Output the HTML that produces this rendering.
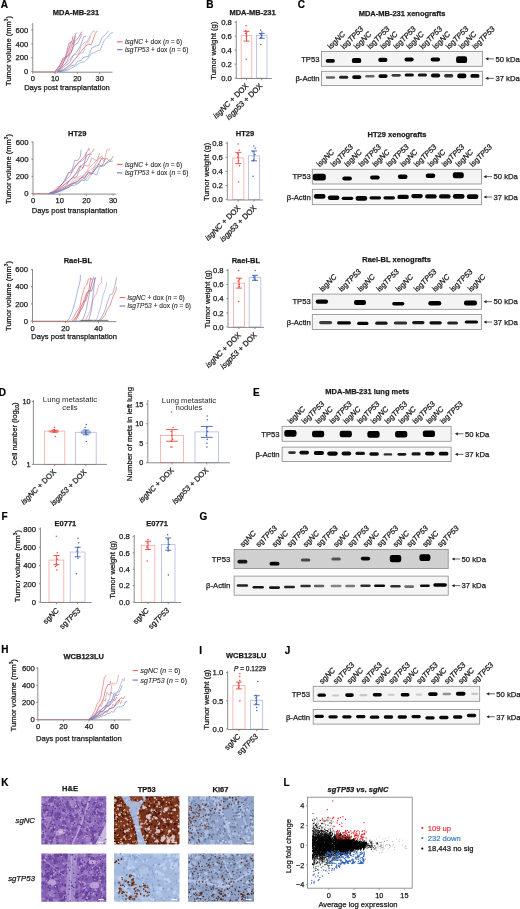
<!DOCTYPE html>
<html><head><meta charset="utf-8"><style>
html,body{margin:0;padding:0;background:#fff;}
body{width:520px;height:909px;overflow:hidden;}
svg{display:block;font-family:"Liberation Sans",Arial,sans-serif;filter:blur(0.3px);}
text{stroke:#141414;stroke-width:0.25px;}
</style></head><body>
<svg width="520" height="909" viewBox="0 0 520 909" fill="#231f20">
<defs>
<filter id="bl" x="-50%" y="-80%" width="200%" height="260%"><feGaussianBlur stdDeviation="0.7"/></filter>
<filter id="tb" x="0" y="0" width="100%" height="100%"><feGaussianBlur stdDeviation="0.75"/></filter>
</defs>
<text x="0.8" y="7.6" font-size="10" font-weight="bold" fill="#000" style="stroke:#000;stroke-width:0.2px">A</text>
<text x="76" y="15.2" font-size="7.5" text-anchor="middle" font-weight="bold">MDA-MB-231</text>
<polyline points="55.05,71.6 58.98,69.18 62.32,64.67 66,56.72 68.44,55.62 72.53,43.32 75.12,35.51" fill="none" stroke="#e8585a" stroke-width="0.65" stroke-linejoin="round" opacity="0.9"/>
<polyline points="55.05,71.6 58.89,67.65 63.23,57.86 65.53,57.11 68.96,42.88 72.04,41.51 72.89,36.23" fill="none" stroke="#c8405a" stroke-width="0.65" stroke-linejoin="round" opacity="0.9"/>
<polyline points="55.05,71.6 58.26,67.9 61.01,64.34 63.72,59.14 66.6,56.38 70.7,45 74.36,41.14 75.12,36.08" fill="none" stroke="#ee7a74" stroke-width="0.65" stroke-linejoin="round" opacity="0.9"/>
<polyline points="57.28,71.6 60.25,67.99 64.07,61.49 67.24,56.23 70.96,52.69 74.5,41.93 78.62,37.56 81.81,31.59" fill="none" stroke="#b83a5a" stroke-width="0.65" stroke-linejoin="round" opacity="0.9"/>
<polyline points="55.05,71.6 59.06,69.33 61.67,67.17 65.47,63.5 68.54,61.23 71.9,56.39 75.29,54.65 78.61,53.59 80.94,46.21 85.36,41.72 88.47,42.29 90.73,36.05" fill="none" stroke="#f0847c" stroke-width="0.65" stroke-linejoin="round" opacity="0.9"/>
<polyline points="57.28,71.6 60.71,70.63 63.46,69.4 67.82,66.44 71.07,64.5 74.52,59.15 76.76,57.26 80.82,51.74 84.7,46.95 88.09,44.17 91.27,44.69 95.44,33.17 97.42,30.93" fill="none" stroke="#d8504c" stroke-width="0.65" stroke-linejoin="round" opacity="0.9"/>
<polyline points="55.05,71.6 59.43,65.56 62.7,60.57 65.41,57.8 68.29,49.93 70.99,42.15 73.38,44.25 75.8,33.27 77.35,33.1" fill="none" stroke="#6a80d0" stroke-width="0.65" stroke-linejoin="round" opacity="0.9"/>
<polyline points="57.28,71.6 60.93,68.49 63.63,65.17 66.53,62.21 70.6,53.42 74.31,45.07 77.42,43.36 80.6,37.19 81.81,33.69" fill="none" stroke="#8070b0" stroke-width="0.65" stroke-linejoin="round" opacity="0.9"/>
<polyline points="57.28,71.6 60.7,69.83 62.98,67.59 65.23,65.53 67.81,64.15 70.44,61.34 73,55.47 76.86,51.9 80.54,45.67 83.88,36.37 86.27,36.2" fill="none" stroke="#5c7ccc" stroke-width="0.65" stroke-linejoin="round" opacity="0.9"/>
<polyline points="59.51,71.6 63.26,70.49 65.68,69.21 68.68,65.75 72.87,61.58 75.36,59.11 79.32,53.54 83.31,52.39 85.94,43.78 89.82,36.38 93.04,30.83 95.19,31.54" fill="none" stroke="#98a0d8" stroke-width="0.65" stroke-linejoin="round" opacity="0.9"/>
<polyline points="57.28,71.6 60.26,71.26 63.72,70.14 66.73,69.39 69.58,67.24 72.01,65.56 74.8,65.23 77.28,61.53 81.52,60.35 83.96,56.95 88.17,56.64 91.81,47.91 95.07,46.42 99.09,44.98 101.93,37.61 105.39,34.67 108.37,30.83 108.57,31.06" fill="none" stroke="#7080c0" stroke-width="0.65" stroke-linejoin="round" opacity="0.9"/>
<polyline points="59.51,71.6 62.63,71.28 65.36,70.7 67.92,69.94 70.91,68.62 74.14,66.68 77.88,64.41 80.92,62.43 84.37,61.79 87.82,58.63 91.56,53.47 94.33,52.69 97.57,50.71 99.89,50.53 104.33,40.16 107.54,37.16 110.37,33.27 113.03,32.57" fill="none" stroke="#6a90d8" stroke-width="0.65" stroke-linejoin="round" opacity="0.9"/>
<line x1="32.75" y1="71.6" x2="55.05" y2="71.6" stroke="#f09090" stroke-width="0.8"/>
<line x1="32.75" y1="23" x2="32.75" y2="71.6" stroke="#6e6e6e" stroke-width="0.8"/>
<line x1="31.15" y1="30" x2="32.75" y2="30" stroke="#6e6e6e" stroke-width="0.8"/>
<text x="28.35" y="32.76" font-size="7.7" text-anchor="end">600</text>
<line x1="31.15" y1="43.87" x2="32.75" y2="43.87" stroke="#6e6e6e" stroke-width="0.8"/>
<text x="28.35" y="46.62" font-size="7.7" text-anchor="end">400</text>
<line x1="31.15" y1="57.73" x2="32.75" y2="57.73" stroke="#6e6e6e" stroke-width="0.8"/>
<text x="28.35" y="60.49" font-size="7.7" text-anchor="end">200</text>
<line x1="31.15" y1="71.6" x2="32.75" y2="71.6" stroke="#6e6e6e" stroke-width="0.8"/>
<text x="28.35" y="74.36" font-size="7.7" text-anchor="end">0</text>
<line x1="32.75" y1="72.2" x2="112.5" y2="72.2" stroke="#6e6e6e" stroke-width="0.8"/>
<line x1="32.75" y1="72.2" x2="32.75" y2="73.8" stroke="#6e6e6e" stroke-width="0.8"/>
<text x="32.75" y="81.17" font-size="7.5" text-anchor="middle">0</text>
<line x1="55.05" y1="72.2" x2="55.05" y2="73.8" stroke="#6e6e6e" stroke-width="0.8"/>
<text x="55.05" y="81.17" font-size="7.5" text-anchor="middle">10</text>
<line x1="77.35" y1="72.2" x2="77.35" y2="73.8" stroke="#6e6e6e" stroke-width="0.8"/>
<text x="77.35" y="81.17" font-size="7.5" text-anchor="middle">20</text>
<line x1="99.65" y1="72.2" x2="99.65" y2="73.8" stroke="#6e6e6e" stroke-width="0.8"/>
<text x="99.65" y="81.17" font-size="7.5" text-anchor="middle">30</text>
<text x="67" y="90.22" font-size="7.6" text-anchor="middle">Days post transplantation</text>
<text transform="translate(11.29 51) rotate(-90)" font-size="7.5" text-anchor="middle">Tumor volume (mm<tspan font-size="4.6" dy="-3">3</tspan><tspan dy="3">)</tspan></text>
<line x1="117" y1="41.8" x2="122.5" y2="41.8" stroke="#e8453c" stroke-width="0.9"/>
<line x1="117" y1="49.7" x2="122.5" y2="49.7" stroke="#4062b4" stroke-width="0.9"/>
<text x="125" y="44.16" font-size="6.6" style="stroke-width:0.08px"><tspan font-style="italic">isgNC</tspan> + dox (<tspan font-style="italic">n</tspan> = 6)</text>
<text x="125" y="52.06" font-size="6.6" style="stroke-width:0.08px"><tspan font-style="italic">isgTP53</tspan> + dox (<tspan font-style="italic">n</tspan> = 6)</text>
<text x="77.2" y="136.3" font-size="7.5" text-anchor="middle" font-weight="bold">HT29</text>
<polyline points="49.02,193.5 53.14,191.06 57.43,187.09 60.27,186.02 65.18,180.68 68.47,173.23 72.4,169.15 76.34,165.63 79.41,161.73 84.4,156.44 89.05,148.26 89.07,150.58" fill="none" stroke="#e8585a" stroke-width="0.65" stroke-linejoin="round" opacity="0.9"/>
<polyline points="49.02,193.5 53.27,192.45 56.02,190.77 59.95,188.28 64.97,184.12 70.1,180.41 74.91,175.19 80.08,165.76 83.01,168.35 86.26,155.81 90.09,153.75 93.56,150.05 94.41,148.87" fill="none" stroke="#c8405a" stroke-width="0.65" stroke-linejoin="round" opacity="0.9"/>
<polyline points="49.02,193.5 53.25,191.9 58.34,188.87 63.49,184.82 68.8,181.11 71.91,177.64 77.15,172.46 81.34,169.62 84.58,165.49 88.78,166.2 91.62,157.78 96.93,161 99.75,153.16" fill="none" stroke="#ee7a74" stroke-width="0.65" stroke-linejoin="round" opacity="0.9"/>
<polyline points="51.69,193.5 54.76,192.81 59.49,190.62 62.27,189.47 65.06,187.8 68.62,185.3 73.91,182.94 79.24,180.27 82.12,176.89 84.87,177.16 88.63,171.86 91.72,173.62 96.7,167.85 101.93,157.86 105.09,159.17" fill="none" stroke="#b83a5a" stroke-width="0.65" stroke-linejoin="round" opacity="0.9"/>
<polyline points="49.02,193.5 53.08,192.39 57.34,190.6 61.66,187.71 65.69,186.25 70.28,184 73.76,178.78 77.82,177.52 80.52,176.18 84.74,175.58 89.05,167.68 91.88,165.18 95.8,161.05 99.41,157.25 104.05,160.99 106.88,150.06 110.43,148.87" fill="none" stroke="#f0847c" stroke-width="0.65" stroke-linejoin="round" opacity="0.9"/>
<polyline points="51.69,193.5 55.58,192.3 59.1,190.99 62.61,189.42 66.87,187.48 70.54,184.34 73.29,183.29 77.92,181.54 81.18,177.32 84.49,178.34 88.32,172.93 91.27,173.41 94.83,167.24 98.67,164.1 101.79,166.38 106.2,157.79 110.07,161.9 113.06,156.27 113.1,156.59" fill="none" stroke="#d8504c" stroke-width="0.65" stroke-linejoin="round" opacity="0.9"/>
<polyline points="49.02,193.5 52.91,192.17 57.54,189.24 60.42,185.6 63.41,182.58 68.46,172.42 71.45,172.73 74.71,160.18 77.45,160.87 80.4,156.27 81.06,149.72" fill="none" stroke="#6a80d0" stroke-width="0.65" stroke-linejoin="round" opacity="0.9"/>
<polyline points="51.69,193.5 55.45,190.49 60.05,186.34 64.82,180.5 69.7,176.37 73.36,169.61 78.55,162.14 82.49,160.69 85.91,156.69 86.4,152.3" fill="none" stroke="#8070b0" stroke-width="0.65" stroke-linejoin="round" opacity="0.9"/>
<polyline points="49.02,193.5 54.08,192.3 58.64,190.33 62.6,188.23 66.39,185.31 69.32,180.49 72.25,177.77 76.79,176.88 80.76,165.95 86.06,162.28 90.79,153.78 91.74,154.88" fill="none" stroke="#5c7ccc" stroke-width="0.65" stroke-linejoin="round" opacity="0.9"/>
<polyline points="51.69,193.5 55.95,192.49 60.81,190.46 65.48,188.68 69.34,186.7 73.74,181.25 77.86,179.22 82.19,177.59 85.89,172.47 90.29,170.05 94.23,166.99 98.38,159.68 101.93,155.85 102.42,157.45" fill="none" stroke="#98a0d8" stroke-width="0.65" stroke-linejoin="round" opacity="0.9"/>
<polyline points="51.69,193.5 56.98,192.45 62.1,190.87 65.74,188.55 68.5,187.49 73.5,183.92 77.99,183.09 81.55,179.83 84.39,180.82 89.42,174.46 92.52,173.49 95.96,167.82 99.4,166.12 104.05,166.03 107.4,161.44 110.43,159.17" fill="none" stroke="#7080c0" stroke-width="0.65" stroke-linejoin="round" opacity="0.9"/>
<polyline points="49.02,193.5 52.57,192.97 56.36,192.27 61.1,190.27 65.59,188.88 70.58,185.9 73.28,185.61 76,184.74 79.31,182.68 83.79,178.56 87.16,180.57 92.5,173.29 96.64,174.96 99.45,167.3 103.53,164.76 108.29,162.05 113.1,160.88" fill="none" stroke="#6a90d8" stroke-width="0.65" stroke-linejoin="round" opacity="0.9"/>
<line x1="33" y1="193.5" x2="49.02" y2="193.5" stroke="#f09090" stroke-width="0.8"/>
<line x1="33" y1="141.5" x2="33" y2="193.5" stroke="#6e6e6e" stroke-width="0.8"/>
<line x1="31.4" y1="142" x2="33" y2="142" stroke="#6e6e6e" stroke-width="0.8"/>
<text x="28.6" y="144.76" font-size="7.7" text-anchor="end">600</text>
<line x1="31.4" y1="159.17" x2="33" y2="159.17" stroke="#6e6e6e" stroke-width="0.8"/>
<text x="28.6" y="161.92" font-size="7.7" text-anchor="end">400</text>
<line x1="31.4" y1="176.33" x2="33" y2="176.33" stroke="#6e6e6e" stroke-width="0.8"/>
<text x="28.6" y="179.09" font-size="7.7" text-anchor="end">200</text>
<line x1="31.4" y1="193.5" x2="33" y2="193.5" stroke="#6e6e6e" stroke-width="0.8"/>
<text x="28.6" y="196.26" font-size="7.7" text-anchor="end">0</text>
<line x1="33" y1="194.1" x2="116.4" y2="194.1" stroke="#6e6e6e" stroke-width="0.8"/>
<line x1="33" y1="194.1" x2="33" y2="195.7" stroke="#6e6e6e" stroke-width="0.8"/>
<text x="33" y="203.07" font-size="7.5" text-anchor="middle">0</text>
<line x1="59.7" y1="194.1" x2="59.7" y2="195.7" stroke="#6e6e6e" stroke-width="0.8"/>
<text x="59.7" y="203.07" font-size="7.5" text-anchor="middle">10</text>
<line x1="86.4" y1="194.1" x2="86.4" y2="195.7" stroke="#6e6e6e" stroke-width="0.8"/>
<text x="86.4" y="203.07" font-size="7.5" text-anchor="middle">20</text>
<line x1="113.1" y1="194.1" x2="113.1" y2="195.7" stroke="#6e6e6e" stroke-width="0.8"/>
<text x="113.1" y="203.07" font-size="7.5" text-anchor="middle">30</text>
<text x="74.7" y="212.72" font-size="7.6" text-anchor="middle">Days post transplantation</text>
<text transform="translate(10.88 169) rotate(-90)" font-size="7.5" text-anchor="middle">Tumor volume (mm<tspan font-size="4.6" dy="-3">3</tspan><tspan dy="3">)</tspan></text>
<line x1="117" y1="164.4" x2="122.5" y2="164.4" stroke="#e8453c" stroke-width="0.9"/>
<line x1="117" y1="172.9" x2="122.5" y2="172.9" stroke="#4062b4" stroke-width="0.9"/>
<text x="125" y="166.76" font-size="6.6" style="stroke-width:0.08px"><tspan font-style="italic">isgNC</tspan> + dox (<tspan font-style="italic">n</tspan> = 6)</text>
<text x="125" y="175.26" font-size="6.6" style="stroke-width:0.08px"><tspan font-style="italic">isgTP53</tspan> + dox (<tspan font-style="italic">n</tspan> = 6)</text>
<text x="77.8" y="262.7" font-size="7.5" text-anchor="middle" font-weight="bold">Rael-BL</text>
<polyline points="70.45,321 73.32,317.9 76.53,311.8 79.7,307.53 82.12,295.49 84.84,286.67 86.68,285.04 88.6,278.17" fill="none" stroke="#e8585a" stroke-width="0.65" stroke-linejoin="round" opacity="0.9"/>
<polyline points="72.1,321 74.7,319.08 76.7,316.23 79.87,309.26 81.78,304.77 83.66,301.2 85.52,301.16 88.61,292.23 90.61,277.88 91.9,279.88" fill="none" stroke="#c8405a" stroke-width="0.65" stroke-linejoin="round" opacity="0.9"/>
<polyline points="73.75,321 76.99,316.51 79.75,312.17 82.96,303.17 86.2,293.21 88.35,292.13 90.27,289.64 92.03,283.33 93.55,276.45" fill="none" stroke="#ee7a74" stroke-width="0.65" stroke-linejoin="round" opacity="0.9"/>
<polyline points="75.4,321 78.17,316.26 80.33,310.6 82.77,307.16 85.22,299.51 86.96,293.18 88.65,290.7 91.69,291.19 94.64,280.48 95.2,277.31" fill="none" stroke="#b83a5a" stroke-width="0.65" stroke-linejoin="round" opacity="0.9"/>
<polyline points="85.3,321 87.03,317.7 90.25,310.36 93.15,298.71 96.35,293.81 98.59,285.65 101.52,282.77 101.8,276.45" fill="none" stroke="#f0847c" stroke-width="0.65" stroke-linejoin="round" opacity="0.9"/>
<polyline points="98.5,321 101.57,319.23 104.78,315.42 106.99,310.3 110.16,304.84 113.33,295.73 115.5,291.92 116.65,286.73" fill="none" stroke="#d8504c" stroke-width="0.65" stroke-linejoin="round" opacity="0.9"/>
<polyline points="67.15,321 69.38,318.21 72.6,310.7 75.51,300.14 77.43,291.68 80.32,280.09 80.35,274.74" fill="none" stroke="#6a80d0" stroke-width="0.65" stroke-linejoin="round" opacity="0.9"/>
<polyline points="82,321 83.93,316.99 86.22,309.71 89.32,294.27 91.35,283.48 93.55,278.17" fill="none" stroke="#8070b0" stroke-width="0.65" stroke-linejoin="round" opacity="0.9"/>
<polyline points="88.6,321 91.6,309.26 93.66,289.15 95.2,277.31" fill="none" stroke="#5c7ccc" stroke-width="0.65" stroke-linejoin="round" opacity="0.9"/>
<polyline points="95.2,321 97.04,318.16 99.95,309.32 103.22,295.08 106.08,286.91 106.75,282.45" fill="none" stroke="#98a0d8" stroke-width="0.65" stroke-linejoin="round" opacity="0.9"/>
<polyline points="98.5,321 101.4,317.52 104.42,311.89 107.04,303.57 110,294.79 112.8,293.49 115.14,284.91 116.65,277.31" fill="none" stroke="#7080c0" stroke-width="0.65" stroke-linejoin="round" opacity="0.9"/>
<polyline points="72.1,321 73.93,320.95 76.87,320.82 80.12,320.7 81.79,320.67 83.54,320.5 85.72,320.41 88.11,320.31 91.17,320.14 91.9,320.14" fill="none" stroke="#6a90d8" stroke-width="0.65" stroke-linejoin="round" opacity="0.9"/>
<line x1="32.5" y1="321" x2="70.45" y2="321" stroke="#f09090" stroke-width="0.8"/>
<line x1="32.5" y1="269.1" x2="32.5" y2="321" stroke="#6e6e6e" stroke-width="0.8"/>
<line x1="30.9" y1="269.6" x2="32.5" y2="269.6" stroke="#6e6e6e" stroke-width="0.8"/>
<text x="28.1" y="272.36" font-size="7.7" text-anchor="end">600</text>
<line x1="30.9" y1="286.73" x2="32.5" y2="286.73" stroke="#6e6e6e" stroke-width="0.8"/>
<text x="28.1" y="289.49" font-size="7.7" text-anchor="end">400</text>
<line x1="30.9" y1="303.87" x2="32.5" y2="303.87" stroke="#6e6e6e" stroke-width="0.8"/>
<text x="28.1" y="306.62" font-size="7.7" text-anchor="end">200</text>
<line x1="30.9" y1="321" x2="32.5" y2="321" stroke="#6e6e6e" stroke-width="0.8"/>
<text x="28.1" y="323.76" font-size="7.7" text-anchor="end">0</text>
<line x1="32.5" y1="321.6" x2="116.4" y2="321.6" stroke="#6e6e6e" stroke-width="0.8"/>
<line x1="32.5" y1="321.6" x2="32.5" y2="323.2" stroke="#6e6e6e" stroke-width="0.8"/>
<text x="32.5" y="330.57" font-size="7.5" text-anchor="middle">0</text>
<line x1="65.5" y1="321.6" x2="65.5" y2="323.2" stroke="#6e6e6e" stroke-width="0.8"/>
<text x="65.5" y="330.57" font-size="7.5" text-anchor="middle">20</text>
<line x1="98.5" y1="321.6" x2="98.5" y2="323.2" stroke="#6e6e6e" stroke-width="0.8"/>
<text x="98.5" y="330.57" font-size="7.5" text-anchor="middle">40</text>
<text x="74.2" y="339.02" font-size="7.6" text-anchor="middle">Days post transplantation</text>
<text transform="translate(10.88 296) rotate(-90)" font-size="7.5" text-anchor="middle">Tumor volume (mm<tspan font-size="4.6" dy="-3">3</tspan><tspan dy="3">)</tspan></text>
<line x1="119.6" y1="297.6" x2="125.1" y2="297.6" stroke="#e8453c" stroke-width="0.9"/>
<line x1="119.6" y1="306" x2="125.1" y2="306" stroke="#4062b4" stroke-width="0.9"/>
<text x="127.6" y="299.96" font-size="6.6" style="stroke-width:0.08px"><tspan font-style="italic">isgNC</tspan> + dox (<tspan font-style="italic">n</tspan> = 6)</text>
<text x="127.6" y="308.36" font-size="6.6" style="stroke-width:0.08px"><tspan font-style="italic">isgTP53</tspan> + dox (<tspan font-style="italic">n</tspan> = 6)</text>
<line x1="80.35" y1="320.4" x2="108.4" y2="320.4" stroke="#555" stroke-width="0.8"/>
<text x="206.2" y="7.6" font-size="10" font-weight="bold" fill="#000" style="stroke:#000;stroke-width:0.2px">B</text>
<text x="252.6" y="15.2" font-size="7.5" text-anchor="middle" font-weight="bold">MDA-MB-231</text>
<line x1="236.25" y1="20.75" x2="236.25" y2="78.1" stroke="#6e6e6e" stroke-width="0.8"/>
<line x1="234.65" y1="22.25" x2="236.25" y2="22.25" stroke="#6e6e6e" stroke-width="0.8"/>
<text x="231.85" y="25.01" font-size="7.7" text-anchor="end">0.8</text>
<line x1="234.65" y1="36.21" x2="236.25" y2="36.21" stroke="#6e6e6e" stroke-width="0.8"/>
<text x="231.85" y="38.97" font-size="7.7" text-anchor="end">0.6</text>
<line x1="234.65" y1="50.17" x2="236.25" y2="50.17" stroke="#6e6e6e" stroke-width="0.8"/>
<text x="231.85" y="52.93" font-size="7.7" text-anchor="end">0.4</text>
<line x1="234.65" y1="64.14" x2="236.25" y2="64.14" stroke="#6e6e6e" stroke-width="0.8"/>
<text x="231.85" y="66.89" font-size="7.7" text-anchor="end">0.2</text>
<line x1="234.65" y1="78.1" x2="236.25" y2="78.1" stroke="#6e6e6e" stroke-width="0.8"/>
<text x="231.85" y="80.86" font-size="7.7" text-anchor="end">0.0</text>
<rect x="241.2" y="35.51" width="10.6" height="42.59" fill="none" stroke="#f3aaa4" stroke-width="0.8"/>
<circle cx="246.08" cy="25.74" r="0.75" fill="#e8453c"/>
<circle cx="245.66" cy="30.63" r="0.75" fill="#e8453c"/>
<circle cx="246.86" cy="32.02" r="0.75" fill="#e8453c"/>
<circle cx="245.47" cy="33.42" r="0.75" fill="#e8453c"/>
<circle cx="246.59" cy="36.21" r="0.75" fill="#e8453c"/>
<circle cx="246.18" cy="59.25" r="0.75" fill="#e8453c"/>
<line x1="246.5" y1="31.33" x2="246.5" y2="41.1" stroke="#e8453c" stroke-width="0.9"/>
<line x1="243.5" y1="31.33" x2="249.5" y2="31.33" stroke="#e8453c" stroke-width="0.9"/>
<line x1="243.5" y1="41.1" x2="249.5" y2="41.1" stroke="#e8453c" stroke-width="0.9"/>
<rect x="256.4" y="35.51" width="10.6" height="42.59" fill="none" stroke="#afbae0" stroke-width="0.8"/>
<circle cx="260.64" cy="29.93" r="0.75" fill="#4062b4"/>
<circle cx="261.72" cy="32.02" r="0.75" fill="#4062b4"/>
<circle cx="260.59" cy="34.12" r="0.75" fill="#4062b4"/>
<circle cx="261.54" cy="35.51" r="0.75" fill="#4062b4"/>
<circle cx="260.67" cy="37.61" r="0.75" fill="#4062b4"/>
<circle cx="260.72" cy="44.59" r="0.75" fill="#4062b4"/>
<line x1="261.7" y1="33.42" x2="261.7" y2="38.31" stroke="#4062b4" stroke-width="0.9"/>
<line x1="258.7" y1="33.42" x2="264.7" y2="33.42" stroke="#4062b4" stroke-width="0.9"/>
<line x1="258.7" y1="38.31" x2="264.7" y2="38.31" stroke="#4062b4" stroke-width="0.9"/>
<line x1="236.25" y1="78.5" x2="271.8" y2="78.5" stroke="#6e6e6e" stroke-width="0.8"/>
<line x1="246.5" y1="78.5" x2="246.5" y2="80.1" stroke="#6e6e6e" stroke-width="0.8"/>
<line x1="261.7" y1="78.5" x2="261.7" y2="80.1" stroke="#6e6e6e" stroke-width="0.8"/>
<text transform="translate(215.97 50.67) rotate(-90)" font-size="7.75" text-anchor="middle">Tumor weight (g)</text>
<text transform="translate(249 86.3) rotate(-45)" font-size="7.7" text-anchor="end"><tspan font-style="italic">isgNC</tspan> + DOX</text>
<text transform="translate(263 86.3) rotate(-45)" font-size="7.7" text-anchor="end"><tspan font-style="italic">isgp53</tspan> + DOX</text>
<text x="245" y="136" font-size="7.5" text-anchor="middle" font-weight="bold">HT29</text>
<line x1="227.3" y1="141.7" x2="227.3" y2="199.6" stroke="#6e6e6e" stroke-width="0.8"/>
<line x1="225.7" y1="143.2" x2="227.3" y2="143.2" stroke="#6e6e6e" stroke-width="0.8"/>
<text x="222.9" y="145.96" font-size="7.7" text-anchor="end">0.8</text>
<line x1="225.7" y1="157.3" x2="227.3" y2="157.3" stroke="#6e6e6e" stroke-width="0.8"/>
<text x="222.9" y="160.06" font-size="7.7" text-anchor="end">0.6</text>
<line x1="225.7" y1="171.4" x2="227.3" y2="171.4" stroke="#6e6e6e" stroke-width="0.8"/>
<text x="222.9" y="174.16" font-size="7.7" text-anchor="end">0.4</text>
<line x1="225.7" y1="185.5" x2="227.3" y2="185.5" stroke="#6e6e6e" stroke-width="0.8"/>
<text x="222.9" y="188.26" font-size="7.7" text-anchor="end">0.2</text>
<line x1="225.7" y1="199.6" x2="227.3" y2="199.6" stroke="#6e6e6e" stroke-width="0.8"/>
<text x="222.9" y="202.36" font-size="7.7" text-anchor="end">0.0</text>
<rect x="232.7" y="158" width="11.2" height="41.59" fill="none" stroke="#f3aaa4" stroke-width="0.8"/>
<circle cx="238.12" cy="143.91" r="0.75" fill="#e8453c"/>
<circle cx="239.08" cy="150.25" r="0.75" fill="#e8453c"/>
<circle cx="237.4" cy="153.77" r="0.75" fill="#e8453c"/>
<circle cx="237.64" cy="157.3" r="0.75" fill="#e8453c"/>
<circle cx="238.61" cy="160.82" r="0.75" fill="#e8453c"/>
<circle cx="239.37" cy="165.76" r="0.75" fill="#e8453c"/>
<circle cx="238.49" cy="181.97" r="0.75" fill="#e8453c"/>
<line x1="238.3" y1="152.37" x2="238.3" y2="163.64" stroke="#e8453c" stroke-width="0.9"/>
<line x1="235.3" y1="152.37" x2="241.3" y2="152.37" stroke="#e8453c" stroke-width="0.9"/>
<line x1="235.3" y1="163.64" x2="241.3" y2="163.64" stroke="#e8453c" stroke-width="0.9"/>
<rect x="248.5" y="155.89" width="11.1" height="43.71" fill="none" stroke="#afbae0" stroke-width="0.8"/>
<circle cx="253.8" cy="146.02" r="0.75" fill="#4062b4"/>
<circle cx="255.19" cy="148.13" r="0.75" fill="#4062b4"/>
<circle cx="252.96" cy="151.66" r="0.75" fill="#4062b4"/>
<circle cx="254.91" cy="154.48" r="0.75" fill="#4062b4"/>
<circle cx="253.55" cy="160.12" r="0.75" fill="#4062b4"/>
<circle cx="253.2" cy="160.82" r="0.75" fill="#4062b4"/>
<circle cx="253.13" cy="176.33" r="0.75" fill="#4062b4"/>
<line x1="254.05" y1="150.95" x2="254.05" y2="160.82" stroke="#4062b4" stroke-width="0.9"/>
<line x1="251.05" y1="150.95" x2="257.05" y2="150.95" stroke="#4062b4" stroke-width="0.9"/>
<line x1="251.05" y1="160.82" x2="257.05" y2="160.82" stroke="#4062b4" stroke-width="0.9"/>
<line x1="227.3" y1="200" x2="263" y2="200" stroke="#6e6e6e" stroke-width="0.8"/>
<line x1="238.3" y1="200" x2="238.3" y2="201.6" stroke="#6e6e6e" stroke-width="0.8"/>
<line x1="254.05" y1="200" x2="254.05" y2="201.6" stroke="#6e6e6e" stroke-width="0.8"/>
<text transform="translate(208.77 171.9) rotate(-90)" font-size="7.75" text-anchor="middle">Tumor weight (g)</text>
<text transform="translate(241 208.3) rotate(-45)" font-size="7.7" text-anchor="end"><tspan font-style="italic">isgNC</tspan> + DOX</text>
<text transform="translate(257 208.3) rotate(-45)" font-size="7.7" text-anchor="end"><tspan font-style="italic">isgp53</tspan> + DOX</text>
<text x="245.8" y="262.7" font-size="7.5" text-anchor="middle" font-weight="bold">Rael-BL</text>
<line x1="228" y1="268.9" x2="228" y2="327" stroke="#6e6e6e" stroke-width="0.8"/>
<line x1="226.4" y1="270.4" x2="228" y2="270.4" stroke="#6e6e6e" stroke-width="0.8"/>
<text x="223.6" y="273.16" font-size="7.7" text-anchor="end">0.8</text>
<line x1="226.4" y1="284.55" x2="228" y2="284.55" stroke="#6e6e6e" stroke-width="0.8"/>
<text x="223.6" y="287.31" font-size="7.7" text-anchor="end">0.6</text>
<line x1="226.4" y1="298.7" x2="228" y2="298.7" stroke="#6e6e6e" stroke-width="0.8"/>
<text x="223.6" y="301.46" font-size="7.7" text-anchor="end">0.4</text>
<line x1="226.4" y1="312.85" x2="228" y2="312.85" stroke="#6e6e6e" stroke-width="0.8"/>
<text x="223.6" y="315.61" font-size="7.7" text-anchor="end">0.2</text>
<line x1="226.4" y1="327" x2="228" y2="327" stroke="#6e6e6e" stroke-width="0.8"/>
<text x="223.6" y="329.76" font-size="7.7" text-anchor="end">0.0</text>
<rect x="233.5" y="283.13" width="11" height="43.87" fill="none" stroke="#f3aaa4" stroke-width="0.8"/>
<circle cx="238.54" cy="270.4" r="0.75" fill="#e8453c"/>
<circle cx="239.76" cy="278.89" r="0.75" fill="#e8453c"/>
<circle cx="238.23" cy="281.01" r="0.75" fill="#e8453c"/>
<circle cx="239.2" cy="284.55" r="0.75" fill="#e8453c"/>
<circle cx="239.33" cy="286.67" r="0.75" fill="#e8453c"/>
<circle cx="238.69" cy="301.53" r="0.75" fill="#e8453c"/>
<line x1="239" y1="278.18" x2="239" y2="288.09" stroke="#e8453c" stroke-width="0.9"/>
<line x1="236" y1="278.18" x2="242" y2="278.18" stroke="#e8453c" stroke-width="0.9"/>
<line x1="236" y1="288.09" x2="242" y2="288.09" stroke="#e8453c" stroke-width="0.9"/>
<rect x="249.2" y="277.47" width="11.6" height="49.53" fill="none" stroke="#afbae0" stroke-width="0.8"/>
<circle cx="255.11" cy="270.4" r="0.75" fill="#4062b4"/>
<circle cx="253.95" cy="276.06" r="0.75" fill="#4062b4"/>
<circle cx="253.94" cy="277.47" r="0.75" fill="#4062b4"/>
<circle cx="254.29" cy="278.89" r="0.75" fill="#4062b4"/>
<circle cx="255.43" cy="280.3" r="0.75" fill="#4062b4"/>
<line x1="255" y1="275.35" x2="255" y2="280.3" stroke="#4062b4" stroke-width="0.9"/>
<line x1="252" y1="275.35" x2="258" y2="275.35" stroke="#4062b4" stroke-width="0.9"/>
<line x1="252" y1="280.3" x2="258" y2="280.3" stroke="#4062b4" stroke-width="0.9"/>
<line x1="228" y1="327.4" x2="264" y2="327.4" stroke="#6e6e6e" stroke-width="0.8"/>
<line x1="239" y1="327.4" x2="239" y2="329" stroke="#6e6e6e" stroke-width="0.8"/>
<line x1="255" y1="327.4" x2="255" y2="329" stroke="#6e6e6e" stroke-width="0.8"/>
<text transform="translate(209.77 299.2) rotate(-90)" font-size="7.75" text-anchor="middle">Tumor weight (g)</text>
<text transform="translate(241.5 335.5) rotate(-45)" font-size="7.7" text-anchor="end"><tspan font-style="italic">isgNC</tspan> + DOX</text>
<text transform="translate(257.5 335.5) rotate(-45)" font-size="7.7" text-anchor="end"><tspan font-style="italic">isgp53</tspan> + DOX</text>
<text x="297.7" y="7.6" font-size="10" font-weight="bold" fill="#000" style="stroke:#000;stroke-width:0.2px">C</text>
<text x="402" y="15.5" font-size="7.5" text-anchor="middle" font-weight="bold">MDA-MB-231 xenografts</text>
<rect x="321.5" y="51.4" width="161" height="14.9" fill="#f4f4f4" stroke="#8a8a8a" stroke-width="0.8"/>
<rect x="321.5" y="71.3" width="161" height="14.1" fill="#f6f6f6" stroke="#8a8a8a" stroke-width="0.8"/>
<rect x="325.7" y="59.1" width="9.2" height="3.6" rx="1.8" fill="#000" opacity="0.97" filter="url(#bl)"/>
<rect x="351.86" y="58.1" width="9.4" height="5" rx="2.2" fill="#000" opacity="1" filter="url(#bl)"/>
<rect x="378.22" y="57.8" width="9.2" height="4.2" rx="2.1" fill="#000" opacity="1" filter="url(#bl)"/>
<rect x="404.48" y="57.4" width="9.2" height="4" rx="2" fill="#000" opacity="1" filter="url(#bl)"/>
<rect x="430.64" y="57.4" width="9.4" height="4" rx="2" fill="#000" opacity="1" filter="url(#bl)"/>
<rect x="456.1" y="56.3" width="11" height="6.8" rx="2.2" fill="#000" opacity="1" filter="url(#bl)"/>
<rect x="325.9" y="76.2" width="9.2" height="2.6" rx="1.3" fill="#000" opacity="0.6" filter="url(#bl)"/>
<rect x="339.03" y="75.8" width="9.2" height="3" rx="1.5" fill="#000" opacity="0.85" filter="url(#bl)"/>
<rect x="352.16" y="75.2" width="9.2" height="3.8" rx="1.9" fill="#000" opacity="0.95" filter="url(#bl)"/>
<rect x="365.29" y="75" width="9.2" height="2.6" rx="1.3" fill="#000" opacity="0.6" filter="url(#bl)"/>
<rect x="378.42" y="74.2" width="9.2" height="3.8" rx="1.9" fill="#000" opacity="0.95" filter="url(#bl)"/>
<rect x="391.55" y="73.9" width="9.2" height="2.8" rx="1.4" fill="#000" opacity="0.75" filter="url(#bl)"/>
<rect x="404.68" y="73.4" width="9.2" height="3.2" rx="1.6" fill="#000" opacity="0.95" filter="url(#bl)"/>
<rect x="417.81" y="73.5" width="9.2" height="3" rx="1.5" fill="#000" opacity="0.9" filter="url(#bl)"/>
<rect x="430.94" y="73.6" width="9.2" height="4" rx="2" fill="#000" opacity="0.95" filter="url(#bl)"/>
<rect x="444.07" y="74" width="9.2" height="3.4" rx="1.7" fill="#000" opacity="0.8" filter="url(#bl)"/>
<rect x="457.2" y="73.6" width="9.2" height="4.6" rx="2.2" fill="#000" opacity="1" filter="url(#bl)"/>
<rect x="470.33" y="74" width="9.2" height="3.8" rx="1.9" fill="#000" opacity="0.95" filter="url(#bl)"/>
<text x="319.5" y="61.61" font-size="7.7" text-anchor="end">TP53</text>
<text x="319.5" y="81.11" font-size="7.7" text-anchor="end">&#946;-Actin</text>
<line x1="486.9" y1="58.85" x2="493.9" y2="58.85" stroke="#222" stroke-width="0.7"/>
<path d="M485.4 58.85l3 -1.6v3.2z" fill="#222"/>
<text x="495.4" y="61.61" font-size="7.7">50 kDa</text>
<line x1="486.9" y1="78.35" x2="493.9" y2="78.35" stroke="#222" stroke-width="0.7"/>
<path d="M485.4 78.35l3 -1.6v3.2z" fill="#222"/>
<text x="495.4" y="81.11" font-size="7.7">37 kDa</text>
<text transform="translate(330.8 49.4) rotate(-45)" font-size="7.7">isg<tspan font-style="italic">NC</tspan></text>
<text transform="translate(343.93 49.4) rotate(-45)" font-size="7.7">isg<tspan font-style="italic">TP53</tspan></text>
<text transform="translate(357.06 49.4) rotate(-45)" font-size="7.7">isg<tspan font-style="italic">NC</tspan></text>
<text transform="translate(370.19 49.4) rotate(-45)" font-size="7.7">isg<tspan font-style="italic">TP53</tspan></text>
<text transform="translate(383.32 49.4) rotate(-45)" font-size="7.7">isg<tspan font-style="italic">NC</tspan></text>
<text transform="translate(396.45 49.4) rotate(-45)" font-size="7.7">isg<tspan font-style="italic">TP53</tspan></text>
<text transform="translate(409.58 49.4) rotate(-45)" font-size="7.7">isg<tspan font-style="italic">NC</tspan></text>
<text transform="translate(422.71 49.4) rotate(-45)" font-size="7.7">isg<tspan font-style="italic">TP53</tspan></text>
<text transform="translate(435.84 49.4) rotate(-45)" font-size="7.7">isg<tspan font-style="italic">NC</tspan></text>
<text transform="translate(448.97 49.4) rotate(-45)" font-size="7.7">isg<tspan font-style="italic">TP53</tspan></text>
<text transform="translate(462.1 49.4) rotate(-45)" font-size="7.7">isg<tspan font-style="italic">NC</tspan></text>
<text transform="translate(475.23 49.4) rotate(-45)" font-size="7.7">isg<tspan font-style="italic">TP53</tspan></text>
<text x="397" y="136.5" font-size="7.5" text-anchor="middle" font-weight="bold">HT29 xenografts</text>
<rect x="312.3" y="169.3" width="169.2" height="14.7" fill="#f4f4f4" stroke="#8a8a8a" stroke-width="0.8"/>
<rect x="312.3" y="189.3" width="169.2" height="15.4" fill="#f6f6f6" stroke="#8a8a8a" stroke-width="0.8"/>
<rect x="312.8" y="173.8" width="13" height="6.6" rx="2.2" fill="#000" opacity="1" filter="url(#bl)"/>
<rect x="342.3" y="176.4" width="9.6" height="4.2" rx="2.1" fill="#000" opacity="1" filter="url(#bl)"/>
<rect x="370.1" y="175.4" width="9.6" height="4.2" rx="2.1" fill="#000" opacity="1" filter="url(#bl)"/>
<rect x="397.9" y="174.4" width="9.6" height="4.6" rx="2.2" fill="#000" opacity="1" filter="url(#bl)"/>
<rect x="425.7" y="173.5" width="9.6" height="4.4" rx="2.2" fill="#000" opacity="1" filter="url(#bl)"/>
<rect x="452.8" y="172.3" width="11" height="6" rx="2.2" fill="#000" opacity="1" filter="url(#bl)"/>
<rect x="313.9" y="194.1" width="11.6" height="4.6" rx="2.2" fill="#000" opacity="0.97" filter="url(#bl)"/>
<rect x="327.8" y="195.4" width="11.6" height="4.6" rx="2.2" fill="#000" opacity="0.97" filter="url(#bl)"/>
<rect x="341.7" y="196.7" width="11.6" height="3.2" rx="1.6" fill="#000" opacity="0.97" filter="url(#bl)"/>
<rect x="355.6" y="195.9" width="11.6" height="4.8" rx="2.2" fill="#000" opacity="0.97" filter="url(#bl)"/>
<rect x="369.5" y="196.2" width="11.6" height="3.2" rx="1.6" fill="#000" opacity="0.97" filter="url(#bl)"/>
<rect x="383.4" y="196.2" width="11.6" height="3.2" rx="1.6" fill="#000" opacity="0.97" filter="url(#bl)"/>
<rect x="397.3" y="194.7" width="11.6" height="4.4" rx="2.2" fill="#000" opacity="0.97" filter="url(#bl)"/>
<rect x="411.2" y="194" width="11.6" height="4.2" rx="2.1" fill="#000" opacity="0.97" filter="url(#bl)"/>
<rect x="425.1" y="194.2" width="11.6" height="4.4" rx="2.2" fill="#000" opacity="0.97" filter="url(#bl)"/>
<rect x="439" y="194.2" width="11.6" height="4.4" rx="2.2" fill="#000" opacity="0.97" filter="url(#bl)"/>
<rect x="452.9" y="194.1" width="11.6" height="4.6" rx="2.2" fill="#000" opacity="0.97" filter="url(#bl)"/>
<rect x="466.8" y="194.3" width="11.6" height="4.6" rx="2.2" fill="#000" opacity="0.97" filter="url(#bl)"/>
<text x="310.8" y="179.41" font-size="7.7" text-anchor="end">TP53</text>
<text x="310.8" y="199.76" font-size="7.7" text-anchor="end">&#946;-Actin</text>
<line x1="485" y1="176.65" x2="492" y2="176.65" stroke="#222" stroke-width="0.7"/>
<path d="M483.5 176.65l3 -1.6v3.2z" fill="#222"/>
<text x="493.5" y="179.41" font-size="7.7">50 kDa</text>
<line x1="485" y1="197" x2="492" y2="197" stroke="#222" stroke-width="0.7"/>
<path d="M483.5 197l3 -1.6v3.2z" fill="#222"/>
<text x="493.5" y="199.76" font-size="7.7">37 kDa</text>
<text transform="translate(319.8 167.3) rotate(-45)" font-size="7.7">isg<tspan font-style="italic">NC</tspan></text>
<text transform="translate(333.7 167.3) rotate(-45)" font-size="7.7">isg<tspan font-style="italic">TP53</tspan></text>
<text transform="translate(347.6 167.3) rotate(-45)" font-size="7.7">isg<tspan font-style="italic">NC</tspan></text>
<text transform="translate(361.5 167.3) rotate(-45)" font-size="7.7">isg<tspan font-style="italic">TP53</tspan></text>
<text transform="translate(375.4 167.3) rotate(-45)" font-size="7.7">isg<tspan font-style="italic">NC</tspan></text>
<text transform="translate(389.3 167.3) rotate(-45)" font-size="7.7">isg<tspan font-style="italic">TP53</tspan></text>
<text transform="translate(403.2 167.3) rotate(-45)" font-size="7.7">isg<tspan font-style="italic">NC</tspan></text>
<text transform="translate(417.1 167.3) rotate(-45)" font-size="7.7">isg<tspan font-style="italic">TP53</tspan></text>
<text transform="translate(431 167.3) rotate(-45)" font-size="7.7">isg<tspan font-style="italic">NC</tspan></text>
<text transform="translate(444.9 167.3) rotate(-45)" font-size="7.7">isg<tspan font-style="italic">TP53</tspan></text>
<text transform="translate(458.8 167.3) rotate(-45)" font-size="7.7">isg<tspan font-style="italic">NC</tspan></text>
<text transform="translate(472.7 167.3) rotate(-45)" font-size="7.7">isg<tspan font-style="italic">TP53</tspan></text>
<text x="396.6" y="261.5" font-size="7.5" text-anchor="middle" font-weight="bold">Rael-BL xenografts</text>
<rect x="312.3" y="294.1" width="169.2" height="15.2" fill="#f4f4f4" stroke="#8a8a8a" stroke-width="0.8"/>
<rect x="312.3" y="314.6" width="169.2" height="14.9" fill="#f6f6f6" stroke="#8a8a8a" stroke-width="0.8"/>
<rect x="315.7" y="299.4" width="12.4" height="4.4" rx="2.2" fill="#000" opacity="1" filter="url(#bl)"/>
<rect x="354" y="299.9" width="12" height="5" rx="2.2" fill="#000" opacity="1" filter="url(#bl)"/>
<rect x="392.2" y="301.9" width="12.2" height="3.6" rx="1.8" fill="#000" opacity="1" filter="url(#bl)"/>
<rect x="428.3" y="301.1" width="13" height="4.4" rx="2.2" fill="#000" opacity="1" filter="url(#bl)"/>
<rect x="464" y="300.5" width="13" height="5" rx="2.2" fill="#000" opacity="1" filter="url(#bl)"/>
<rect x="319.1" y="321" width="13" height="3.2" rx="1.6" fill="#000" opacity="0.75" filter="url(#bl)"/>
<rect x="337" y="321.2" width="14" height="3.2" rx="1.6" fill="#000" opacity="0.97" filter="url(#bl)"/>
<rect x="357.1" y="321.8" width="11.4" height="3.2" rx="1.6" fill="#000" opacity="0.97" filter="url(#bl)"/>
<rect x="375.2" y="321.6" width="12.4" height="3.2" rx="1.6" fill="#000" opacity="0.9" filter="url(#bl)"/>
<rect x="393.8" y="321.4" width="13.4" height="3.2" rx="1.6" fill="#000" opacity="0.8" filter="url(#bl)"/>
<rect x="412.1" y="321" width="12.4" height="3.2" rx="1.6" fill="#000" opacity="0.9" filter="url(#bl)"/>
<rect x="429.4" y="321.2" width="12.4" height="3.2" rx="1.6" fill="#000" opacity="0.95" filter="url(#bl)"/>
<rect x="447.2" y="321.4" width="10.8" height="3.2" rx="1.6" fill="#000" opacity="0.85" filter="url(#bl)"/>
<rect x="464.7" y="320.4" width="13.4" height="3.2" rx="1.6" fill="#000" opacity="0.97" filter="url(#bl)"/>
<text x="310.8" y="304.46" font-size="7.7" text-anchor="end">TP53</text>
<text x="310.8" y="324.81" font-size="7.7" text-anchor="end">&#946;-Actin</text>
<line x1="485" y1="301.7" x2="492" y2="301.7" stroke="#222" stroke-width="0.7"/>
<path d="M483.5 301.7l3 -1.6v3.2z" fill="#222"/>
<text x="493.5" y="304.46" font-size="7.7">50 kDa</text>
<line x1="485" y1="322.05" x2="492" y2="322.05" stroke="#222" stroke-width="0.7"/>
<path d="M483.5 322.05l3 -1.6v3.2z" fill="#222"/>
<text x="493.5" y="324.81" font-size="7.7">37 kDa</text>
<text transform="translate(322.4 292.1) rotate(-45)" font-size="7.7">isg<tspan font-style="italic">NC</tspan></text>
<text transform="translate(341.5 292.1) rotate(-45)" font-size="7.7">isg<tspan font-style="italic">TP53</tspan></text>
<text transform="translate(360.5 292.1) rotate(-45)" font-size="7.7">isg<tspan font-style="italic">NC</tspan></text>
<text transform="translate(379.6 292.1) rotate(-45)" font-size="7.7">isg<tspan font-style="italic">TP53</tspan></text>
<text transform="translate(398.8 292.1) rotate(-45)" font-size="7.7">isg<tspan font-style="italic">NC</tspan></text>
<text transform="translate(417 292.1) rotate(-45)" font-size="7.7">isg<tspan font-style="italic">TP53</tspan></text>
<text transform="translate(435.3 292.1) rotate(-45)" font-size="7.7">isg<tspan font-style="italic">NC</tspan></text>
<text transform="translate(453.1 292.1) rotate(-45)" font-size="7.7">isg<tspan font-style="italic">TP53</tspan></text>
<text transform="translate(471 292.1) rotate(-45)" font-size="7.7">isg<tspan font-style="italic">NC</tspan></text>
<text x="-1.2" y="395.6" font-size="10" font-weight="bold" fill="#000" style="stroke:#000;stroke-width:0.2px">D</text>
<text x="70" y="402.3" font-size="7.7" text-anchor="middle" style="stroke:none">Lung metastatic</text>
<text x="70" y="410" font-size="7.7" text-anchor="middle" style="stroke:none">cells</text>
<line x1="33.4" y1="400" x2="33.4" y2="464.4" stroke="#6e6e6e" stroke-width="0.8"/>
<line x1="31.8" y1="401.5" x2="33.4" y2="401.5" stroke="#6e6e6e" stroke-width="0.8"/>
<text x="30.6" y="404.11" font-size="7.3" text-anchor="end">10</text>
<line x1="31.8" y1="464.4" x2="33.4" y2="464.4" stroke="#6e6e6e" stroke-width="0.8"/>
<text x="30.6" y="467.01" font-size="7.3" text-anchor="end">1</text>
<rect x="44.4" y="431.1" width="20.4" height="33.3" fill="none" stroke="#f3aaa4" stroke-width="0.8"/>
<circle cx="54.43" cy="427.2" r="0.75" fill="#e8453c"/>
<circle cx="54.15" cy="429.5" r="0.75" fill="#e8453c"/>
<circle cx="54.81" cy="430.5" r="0.75" fill="#e8453c"/>
<circle cx="54.49" cy="431.5" r="0.75" fill="#e8453c"/>
<circle cx="54.12" cy="432" r="0.75" fill="#e8453c"/>
<circle cx="55.31" cy="436.5" r="0.75" fill="#e8453c"/>
<line x1="54.6" y1="430.2" x2="54.6" y2="432.2" stroke="#e8453c" stroke-width="0.9"/>
<line x1="51.6" y1="430.2" x2="57.6" y2="430.2" stroke="#e8453c" stroke-width="0.9"/>
<line x1="51.6" y1="432.2" x2="57.6" y2="432.2" stroke="#e8453c" stroke-width="0.9"/>
<rect x="75.4" y="432.3" width="20.8" height="32.1" fill="none" stroke="#afbae0" stroke-width="0.8"/>
<circle cx="86.28" cy="424.6" r="0.75" fill="#4062b4"/>
<circle cx="85.19" cy="427.5" r="0.75" fill="#4062b4"/>
<circle cx="85.98" cy="431" r="0.75" fill="#4062b4"/>
<circle cx="85.86" cy="433" r="0.75" fill="#4062b4"/>
<circle cx="86.7" cy="434.5" r="0.75" fill="#4062b4"/>
<circle cx="86.35" cy="441.6" r="0.75" fill="#4062b4"/>
<line x1="85.8" y1="430" x2="85.8" y2="434.8" stroke="#4062b4" stroke-width="0.9"/>
<line x1="82.8" y1="430" x2="88.8" y2="430" stroke="#4062b4" stroke-width="0.9"/>
<line x1="82.8" y1="434.8" x2="88.8" y2="434.8" stroke="#4062b4" stroke-width="0.9"/>
<rect x="48.8" y="430.3" width="10" height="2.2" fill="#e8453c" stroke="none" stroke-width="0.8" opacity="0.55"/>
<rect x="80.8" y="430.6" width="10" height="3.4" fill="#4062b4" stroke="none" stroke-width="0.8" opacity="0.45"/>
<line x1="33.4" y1="464.4" x2="107" y2="464.4" stroke="#6e6e6e" stroke-width="0.8"/>
<line x1="54.6" y1="464.4" x2="54.6" y2="466" stroke="#6e6e6e" stroke-width="0.8"/>
<line x1="85.8" y1="464.4" x2="85.8" y2="466" stroke="#6e6e6e" stroke-width="0.8"/>
<text transform="translate(17.48 434) rotate(-90)" font-size="7.5" text-anchor="middle">Cell number (log<tspan font-size="4.8" dy="1.8">10</tspan><tspan dy="-1.8">)</tspan></text>
<text transform="translate(56.5 472.5) rotate(-45)" font-size="7.6" text-anchor="end"><tspan font-style="italic">isgNC</tspan> + DOX</text>
<text transform="translate(87.2 472.5) rotate(-45)" font-size="7.6" text-anchor="end"><tspan font-style="italic">isgp53</tspan> + DOX</text>
<text x="189" y="402.5" font-size="7.7" text-anchor="middle" style="stroke:none">Lung metastatic</text>
<text x="189" y="410.2" font-size="7.7" text-anchor="middle" style="stroke:none">nodules</text>
<line x1="147.8" y1="400" x2="147.8" y2="462.7" stroke="#6e6e6e" stroke-width="0.8"/>
<line x1="146.2" y1="404.2" x2="147.8" y2="404.2" stroke="#6e6e6e" stroke-width="0.8"/>
<text x="143.4" y="406.81" font-size="7.3" text-anchor="end">15</text>
<line x1="146.2" y1="423.7" x2="147.8" y2="423.7" stroke="#6e6e6e" stroke-width="0.8"/>
<text x="143.4" y="426.31" font-size="7.3" text-anchor="end">10</text>
<line x1="146.2" y1="443.2" x2="147.8" y2="443.2" stroke="#6e6e6e" stroke-width="0.8"/>
<text x="143.4" y="445.81" font-size="7.3" text-anchor="end">5</text>
<line x1="146.2" y1="462.7" x2="147.8" y2="462.7" stroke="#6e6e6e" stroke-width="0.8"/>
<text x="143.4" y="465.31" font-size="7.3" text-anchor="end">0</text>
<rect x="160.5" y="435.4" width="23" height="27.3" fill="none" stroke="#f3aaa4" stroke-width="0.8"/>
<circle cx="171.49" cy="412" r="0.75" fill="#e8453c"/>
<circle cx="173.15" cy="427.6" r="0.75" fill="#e8453c"/>
<circle cx="171.08" cy="431.5" r="0.75" fill="#e8453c"/>
<circle cx="171.8" cy="435.4" r="0.75" fill="#e8453c"/>
<circle cx="172.62" cy="439.3" r="0.75" fill="#e8453c"/>
<circle cx="171.16" cy="441.25" r="0.75" fill="#e8453c"/>
<circle cx="171.97" cy="447.1" r="0.75" fill="#e8453c"/>
<circle cx="170.89" cy="447.1" r="0.75" fill="#e8453c"/>
<line x1="172" y1="429.55" x2="172" y2="441.25" stroke="#e8453c" stroke-width="0.9"/>
<line x1="166.1" y1="429.55" x2="177.9" y2="429.55" stroke="#e8453c" stroke-width="0.9"/>
<line x1="166.1" y1="441.25" x2="177.9" y2="441.25" stroke="#e8453c" stroke-width="0.9"/>
<rect x="195" y="431.89" width="23.5" height="30.81" fill="none" stroke="#afbae0" stroke-width="0.8"/>
<circle cx="207.15" cy="415.9" r="0.75" fill="#4062b4"/>
<circle cx="207.38" cy="419.8" r="0.75" fill="#4062b4"/>
<circle cx="206.93" cy="427.6" r="0.75" fill="#4062b4"/>
<circle cx="207.65" cy="431.5" r="0.75" fill="#4062b4"/>
<circle cx="206.3" cy="435.4" r="0.75" fill="#4062b4"/>
<circle cx="207.22" cy="439.3" r="0.75" fill="#4062b4"/>
<circle cx="206.98" cy="443.2" r="0.75" fill="#4062b4"/>
<circle cx="206.94" cy="447.1" r="0.75" fill="#4062b4"/>
<line x1="206.75" y1="426.43" x2="206.75" y2="437.35" stroke="#4062b4" stroke-width="0.9"/>
<line x1="200.75" y1="426.43" x2="212.75" y2="426.43" stroke="#4062b4" stroke-width="0.9"/>
<line x1="200.75" y1="437.35" x2="212.75" y2="437.35" stroke="#4062b4" stroke-width="0.9"/>
<line x1="147.8" y1="462.8" x2="230" y2="462.8" stroke="#6e6e6e" stroke-width="0.8"/>
<line x1="172" y1="462.8" x2="172" y2="464.4" stroke="#6e6e6e" stroke-width="0.8"/>
<line x1="206.7" y1="462.8" x2="206.7" y2="464.4" stroke="#6e6e6e" stroke-width="0.8"/>
<text transform="translate(132.03 434) rotate(-90)" font-size="7.9" text-anchor="middle">Number of mets in left lung</text>
<text transform="translate(174.3 470.8) rotate(-45)" font-size="7.6" text-anchor="end"><tspan font-style="italic">isgNC</tspan> + DOX</text>
<text transform="translate(208.8 470.8) rotate(-45)" font-size="7.6" text-anchor="end"><tspan font-style="italic">isgp53</tspan> + DOX</text>
<text x="253.1" y="395.6" font-size="10" font-weight="bold" fill="#000" style="stroke:#000;stroke-width:0.2px">E</text>
<text x="367.2" y="394" font-size="7.5" text-anchor="middle" font-weight="bold">MDA-MB-231 lung mets</text>
<rect x="282.1" y="426.3" width="169" height="15" fill="#f4f4f4" stroke="#8a8a8a" stroke-width="0.8"/>
<rect x="282.1" y="447.1" width="169" height="14.4" fill="#f6f6f6" stroke="#8a8a8a" stroke-width="0.8"/>
<rect x="284.3" y="430.1" width="12.2" height="6.6" rx="2.2" fill="#000" opacity="1" filter="url(#bl)"/>
<rect x="312" y="430.7" width="12.2" height="6.6" rx="2.2" fill="#000" opacity="1" filter="url(#bl)"/>
<rect x="339.7" y="430.7" width="12.2" height="6.6" rx="2.2" fill="#000" opacity="1" filter="url(#bl)"/>
<rect x="367.4" y="431.1" width="12.2" height="6.6" rx="2.2" fill="#000" opacity="1" filter="url(#bl)"/>
<rect x="395.1" y="430.9" width="12.2" height="6.6" rx="2.2" fill="#000" opacity="1" filter="url(#bl)"/>
<rect x="422.8" y="430.4" width="12.2" height="6.6" rx="2.2" fill="#000" opacity="1" filter="url(#bl)"/>
<rect x="288.25" y="451.2" width="7.5" height="2.8" rx="1.4" fill="#000" opacity="0.8" filter="url(#bl)"/>
<rect x="299.4" y="450.7" width="9.6" height="3.8" rx="1.9" fill="#000" opacity="0.95" filter="url(#bl)"/>
<rect x="313.8" y="451.1" width="10.2" height="4" rx="2" fill="#000" opacity="0.97" filter="url(#bl)"/>
<rect x="327.2" y="451.5" width="10.6" height="4.2" rx="2.1" fill="#000" opacity="0.97" filter="url(#bl)"/>
<rect x="341.6" y="451.5" width="9.6" height="4" rx="2" fill="#000" opacity="0.95" filter="url(#bl)"/>
<rect x="355.4" y="451.8" width="9.6" height="3.2" rx="1.6" fill="#000" opacity="0.9" filter="url(#bl)"/>
<rect x="369.3" y="452.2" width="9.6" height="3.6" rx="1.8" fill="#000" opacity="0.95" filter="url(#bl)"/>
<rect x="383.6" y="453.2" width="8.6" height="2.4" rx="1.2" fill="#000" opacity="0.8" filter="url(#bl)"/>
<rect x="397.5" y="452.9" width="8.8" height="2.8" rx="1.4" fill="#000" opacity="0.9" filter="url(#bl)"/>
<rect x="411.5" y="452.3" width="9.2" height="3.2" rx="1.6" fill="#000" opacity="0.9" filter="url(#bl)"/>
<rect x="425" y="451.8" width="9.6" height="3.6" rx="1.8" fill="#000" opacity="0.95" filter="url(#bl)"/>
<rect x="438.8" y="451.8" width="9.6" height="3.8" rx="1.9" fill="#000" opacity="0.95" filter="url(#bl)"/>
<text x="279.6" y="436.56" font-size="7.7" text-anchor="end">TP53</text>
<text x="279.6" y="457.06" font-size="7.7" text-anchor="end">&#946;-Actin</text>
<line x1="456.4" y1="433.8" x2="463.4" y2="433.8" stroke="#222" stroke-width="0.7"/>
<path d="M454.9 433.8l3 -1.6v3.2z" fill="#222"/>
<text x="464.9" y="436.56" font-size="7.7">50 kDa</text>
<line x1="456.4" y1="454.3" x2="463.4" y2="454.3" stroke="#222" stroke-width="0.7"/>
<path d="M454.9 454.3l3 -1.6v3.2z" fill="#222"/>
<text x="464.9" y="457.06" font-size="7.7">37 kDa</text>
<text transform="translate(290.9 424.3) rotate(-45)" font-size="7.7">isg<tspan font-style="italic">NC</tspan></text>
<text transform="translate(304.75 424.3) rotate(-45)" font-size="7.7">isg<tspan font-style="italic">TP53</tspan></text>
<text transform="translate(318.6 424.3) rotate(-45)" font-size="7.7">isg<tspan font-style="italic">NC</tspan></text>
<text transform="translate(332.45 424.3) rotate(-45)" font-size="7.7">isg<tspan font-style="italic">TP53</tspan></text>
<text transform="translate(346.3 424.3) rotate(-45)" font-size="7.7">isg<tspan font-style="italic">NC</tspan></text>
<text transform="translate(360.15 424.3) rotate(-45)" font-size="7.7">isg<tspan font-style="italic">TP53</tspan></text>
<text transform="translate(374 424.3) rotate(-45)" font-size="7.7">isg<tspan font-style="italic">NC</tspan></text>
<text transform="translate(387.85 424.3) rotate(-45)" font-size="7.7">isg<tspan font-style="italic">TP53</tspan></text>
<text transform="translate(401.7 424.3) rotate(-45)" font-size="7.7">isg<tspan font-style="italic">NC</tspan></text>
<text transform="translate(415.55 424.3) rotate(-45)" font-size="7.7">isg<tspan font-style="italic">TP53</tspan></text>
<text transform="translate(429.4 424.3) rotate(-45)" font-size="7.7">isg<tspan font-style="italic">NC</tspan></text>
<text transform="translate(443.25 424.3) rotate(-45)" font-size="7.7">isg<tspan font-style="italic">TP53</tspan></text>
<text x="1.5" y="519.9" font-size="10" font-weight="bold" fill="#000" style="stroke:#000;stroke-width:0.2px">F</text>
<text x="65.4" y="525.8" font-size="7.5" text-anchor="middle" font-weight="bold">E0771</text>
<line x1="40.4" y1="527.5" x2="40.4" y2="602.1" stroke="#6e6e6e" stroke-width="0.8"/>
<line x1="38.8" y1="529" x2="40.4" y2="529" stroke="#6e6e6e" stroke-width="0.8"/>
<text x="36" y="531.76" font-size="7.7" text-anchor="end">800</text>
<line x1="38.8" y1="547.27" x2="40.4" y2="547.27" stroke="#6e6e6e" stroke-width="0.8"/>
<text x="36" y="550.03" font-size="7.7" text-anchor="end">600</text>
<line x1="38.8" y1="565.55" x2="40.4" y2="565.55" stroke="#6e6e6e" stroke-width="0.8"/>
<text x="36" y="568.31" font-size="7.7" text-anchor="end">400</text>
<line x1="38.8" y1="583.83" x2="40.4" y2="583.83" stroke="#6e6e6e" stroke-width="0.8"/>
<text x="36" y="586.58" font-size="7.7" text-anchor="end">200</text>
<line x1="38.8" y1="602.1" x2="40.4" y2="602.1" stroke="#6e6e6e" stroke-width="0.8"/>
<text x="36" y="604.86" font-size="7.7" text-anchor="end">0</text>
<rect x="49" y="560.07" width="14.8" height="42.03" fill="none" stroke="#f3aaa4" stroke-width="0.8"/>
<circle cx="56.29" cy="536.31" r="0.75" fill="#e8453c"/>
<circle cx="57.22" cy="552.76" r="0.75" fill="#e8453c"/>
<circle cx="57.47" cy="559.15" r="0.75" fill="#e8453c"/>
<circle cx="56.34" cy="563.72" r="0.75" fill="#e8453c"/>
<circle cx="56.79" cy="565.55" r="0.75" fill="#e8453c"/>
<circle cx="55.35" cy="566.46" r="0.75" fill="#e8453c"/>
<circle cx="56.88" cy="570.12" r="0.75" fill="#e8453c"/>
<line x1="56.4" y1="555.5" x2="56.4" y2="564.64" stroke="#e8453c" stroke-width="0.9"/>
<line x1="53.4" y1="555.5" x2="59.4" y2="555.5" stroke="#e8453c" stroke-width="0.9"/>
<line x1="53.4" y1="564.64" x2="59.4" y2="564.64" stroke="#e8453c" stroke-width="0.9"/>
<rect x="70.2" y="552.03" width="14.8" height="50.07" fill="none" stroke="#afbae0" stroke-width="0.8"/>
<circle cx="77.95" cy="538.14" r="0.75" fill="#4062b4"/>
<circle cx="78.78" cy="542.71" r="0.75" fill="#4062b4"/>
<circle cx="78.37" cy="547.27" r="0.75" fill="#4062b4"/>
<circle cx="77.08" cy="550.93" r="0.75" fill="#4062b4"/>
<circle cx="77.33" cy="556.41" r="0.75" fill="#4062b4"/>
<circle cx="78" cy="558.24" r="0.75" fill="#4062b4"/>
<circle cx="76.45" cy="573.77" r="0.75" fill="#4062b4"/>
<line x1="77.6" y1="547.27" x2="77.6" y2="556.78" stroke="#4062b4" stroke-width="0.9"/>
<line x1="74.6" y1="547.27" x2="80.6" y2="547.27" stroke="#4062b4" stroke-width="0.9"/>
<line x1="74.6" y1="556.78" x2="80.6" y2="556.78" stroke="#4062b4" stroke-width="0.9"/>
<line x1="40.4" y1="602.5" x2="91.5" y2="602.5" stroke="#6e6e6e" stroke-width="0.8"/>
<line x1="56.4" y1="602.5" x2="56.4" y2="604.1" stroke="#6e6e6e" stroke-width="0.8"/>
<line x1="77.6" y1="602.5" x2="77.6" y2="604.1" stroke="#6e6e6e" stroke-width="0.8"/>
<text transform="translate(20.37 566.05) rotate(-90)" font-size="7.75" text-anchor="middle">Tumor volume (mm<tspan font-size="4.8" dy="-3.2">3</tspan><tspan dy="3.2">)</tspan></text>
<text transform="translate(59.5 611) rotate(-45)" font-size="7.6" text-anchor="end">sg<tspan font-style="italic">NC</tspan></text>
<text transform="translate(81 611) rotate(-45)" font-size="7.6" text-anchor="end">sg<tspan font-style="italic">TP53</tspan></text>
<text x="157.1" y="525.8" font-size="7.5" text-anchor="middle" font-weight="bold">E0771</text>
<line x1="134.2" y1="534.8" x2="134.2" y2="602.1" stroke="#6e6e6e" stroke-width="0.8"/>
<line x1="132.6" y1="536.3" x2="134.2" y2="536.3" stroke="#6e6e6e" stroke-width="0.8"/>
<text x="129.8" y="539.06" font-size="7.7" text-anchor="end">0.8</text>
<line x1="132.6" y1="552.75" x2="134.2" y2="552.75" stroke="#6e6e6e" stroke-width="0.8"/>
<text x="129.8" y="555.51" font-size="7.7" text-anchor="end">0.6</text>
<line x1="132.6" y1="569.2" x2="134.2" y2="569.2" stroke="#6e6e6e" stroke-width="0.8"/>
<text x="129.8" y="571.96" font-size="7.7" text-anchor="end">0.4</text>
<line x1="132.6" y1="585.65" x2="134.2" y2="585.65" stroke="#6e6e6e" stroke-width="0.8"/>
<text x="129.8" y="588.41" font-size="7.7" text-anchor="end">0.2</text>
<line x1="132.6" y1="602.1" x2="134.2" y2="602.1" stroke="#6e6e6e" stroke-width="0.8"/>
<text x="129.8" y="604.86" font-size="7.7" text-anchor="end">0.0</text>
<rect x="141.3" y="545.35" width="13.5" height="56.75" fill="none" stroke="#f3aaa4" stroke-width="0.8"/>
<circle cx="147.96" cy="539.59" r="0.75" fill="#e8453c"/>
<circle cx="147.25" cy="542.88" r="0.75" fill="#e8453c"/>
<circle cx="147.13" cy="546.17" r="0.75" fill="#e8453c"/>
<circle cx="146.99" cy="547.81" r="0.75" fill="#e8453c"/>
<circle cx="148.69" cy="549.46" r="0.75" fill="#e8453c"/>
<circle cx="147.16" cy="560.98" r="0.75" fill="#e8453c"/>
<line x1="148.05" y1="541.24" x2="148.05" y2="549.46" stroke="#e8453c" stroke-width="0.9"/>
<line x1="145.05" y1="541.24" x2="151.05" y2="541.24" stroke="#e8453c" stroke-width="0.9"/>
<line x1="145.05" y1="549.46" x2="151.05" y2="549.46" stroke="#e8453c" stroke-width="0.9"/>
<rect x="161.5" y="544.52" width="13.5" height="57.58" fill="none" stroke="#afbae0" stroke-width="0.8"/>
<circle cx="167.64" cy="534.65" r="0.75" fill="#4062b4"/>
<circle cx="167.99" cy="539.59" r="0.75" fill="#4062b4"/>
<circle cx="169.14" cy="544.52" r="0.75" fill="#4062b4"/>
<circle cx="167.24" cy="547.81" r="0.75" fill="#4062b4"/>
<circle cx="168.13" cy="551.11" r="0.75" fill="#4062b4"/>
<circle cx="168.37" cy="574.96" r="0.75" fill="#4062b4"/>
<line x1="168.25" y1="537.94" x2="168.25" y2="550.28" stroke="#4062b4" stroke-width="0.9"/>
<line x1="165.25" y1="537.94" x2="171.25" y2="537.94" stroke="#4062b4" stroke-width="0.9"/>
<line x1="165.25" y1="550.28" x2="171.25" y2="550.28" stroke="#4062b4" stroke-width="0.9"/>
<line x1="134.2" y1="602.5" x2="181" y2="602.5" stroke="#6e6e6e" stroke-width="0.8"/>
<line x1="148.05" y1="602.5" x2="148.05" y2="604.1" stroke="#6e6e6e" stroke-width="0.8"/>
<line x1="168.25" y1="602.5" x2="168.25" y2="604.1" stroke="#6e6e6e" stroke-width="0.8"/>
<text transform="translate(114.77 569.7) rotate(-90)" font-size="7.75" text-anchor="middle">Tumor weight (g)</text>
<text transform="translate(149.5 611) rotate(-45)" font-size="7.6" text-anchor="end">sg<tspan font-style="italic">NC</tspan></text>
<text transform="translate(169.8 611) rotate(-45)" font-size="7.6" text-anchor="end">sg<tspan font-style="italic">TP53</tspan></text>
<text x="199.6" y="519.9" font-size="10" font-weight="bold" fill="#000" style="stroke:#000;stroke-width:0.2px">G</text>
<text x="0" y="0" font-size="7.5" text-anchor="middle" font-weight="bold"></text>
<rect x="234.1" y="549.4" width="214.1" height="19.2" fill="#d0d0d0" stroke="#8a8a8a" stroke-width="0.8"/>
<rect x="234.1" y="576.1" width="214.1" height="19.1" fill="#f4f4f4" stroke="#8a8a8a" stroke-width="0.8"/>
<rect x="237.4" y="559.8" width="10" height="3.8" rx="1.9" fill="#000" opacity="0.9" filter="url(#bl)"/>
<rect x="269.5" y="561.8" width="10" height="3.8" rx="1.9" fill="#000" opacity="1" filter="url(#bl)"/>
<rect x="300.9" y="558.5" width="9.4" height="3" rx="1.5" fill="#000" opacity="0.65" filter="url(#bl)"/>
<rect x="331.4" y="557.4" width="9.4" height="3" rx="1.5" fill="#000" opacity="0.6" filter="url(#bl)"/>
<rect x="360.8" y="556.8" width="9.4" height="3.6" rx="1.8" fill="#000" opacity="0.97" filter="url(#bl)"/>
<rect x="389.8" y="555" width="11.4" height="7.2" rx="2.2" fill="#000" opacity="1" filter="url(#bl)"/>
<rect x="419.4" y="554.3" width="11" height="6.6" rx="2.2" fill="#000" opacity="1" filter="url(#bl)"/>
<rect x="236.7" y="584.2" width="11.4" height="2.6" rx="1.3" fill="#000" opacity="0.85" filter="url(#bl)"/>
<rect x="252.5" y="586" width="11.4" height="2.6" rx="1.3" fill="#000" opacity="0.9" filter="url(#bl)"/>
<rect x="269" y="586.3" width="11" height="2.6" rx="1.3" fill="#000" opacity="0.9" filter="url(#bl)"/>
<rect x="284" y="585.7" width="11" height="2.6" rx="1.3" fill="#000" opacity="0.85" filter="url(#bl)"/>
<rect x="300.3" y="584.7" width="10.6" height="2.6" rx="1.3" fill="#000" opacity="0.8" filter="url(#bl)"/>
<rect x="313.9" y="584.7" width="10.4" height="2.6" rx="1.3" fill="#000" opacity="0.6" filter="url(#bl)"/>
<rect x="330.7" y="584.7" width="10.8" height="2.6" rx="1.3" fill="#000" opacity="0.45" filter="url(#bl)"/>
<rect x="345.2" y="584.7" width="10" height="2.6" rx="1.3" fill="#000" opacity="0.5" filter="url(#bl)"/>
<rect x="360.3" y="584.4" width="10.4" height="2.6" rx="1.3" fill="#000" opacity="0.8" filter="url(#bl)"/>
<rect x="374.1" y="584.5" width="11" height="2.6" rx="1.3" fill="#000" opacity="0.95" filter="url(#bl)"/>
<rect x="390.3" y="585" width="10.4" height="2.6" rx="1.3" fill="#000" opacity="0.8" filter="url(#bl)"/>
<rect x="404.3" y="585.3" width="9.8" height="2.6" rx="1.3" fill="#000" opacity="0.55" filter="url(#bl)"/>
<rect x="420" y="584.4" width="9.8" height="2.6" rx="1.3" fill="#000" opacity="0.95" filter="url(#bl)"/>
<rect x="433.3" y="583.35" width="13.6" height="3.3" rx="1.65" fill="#000" opacity="1" filter="url(#bl)"/>
<text x="230.2" y="561.76" font-size="7.7" text-anchor="end">TP53</text>
<text x="230.2" y="588.41" font-size="7.7" text-anchor="end">&#946;-Actin</text>
<line x1="453.1" y1="559" x2="460.1" y2="559" stroke="#222" stroke-width="0.7"/>
<path d="M451.6 559l3 -1.6v3.2z" fill="#222"/>
<text x="461.6" y="561.76" font-size="7.7">50 kDa</text>
<line x1="453.1" y1="585.65" x2="460.1" y2="585.65" stroke="#222" stroke-width="0.7"/>
<path d="M451.6 585.65l3 -1.6v3.2z" fill="#222"/>
<text x="461.6" y="588.41" font-size="7.7">37 kDa</text>
<text transform="translate(242.9 547.4) rotate(-45)" font-size="7.7">sg<tspan font-style="italic">NC</tspan></text>
<text transform="translate(258.7 547.4) rotate(-45)" font-size="7.7">sg<tspan font-style="italic">TP53</tspan></text>
<text transform="translate(275 547.4) rotate(-45)" font-size="7.7">sg<tspan font-style="italic">NC</tspan></text>
<text transform="translate(290 547.4) rotate(-45)" font-size="7.7">sg<tspan font-style="italic">TP53</tspan></text>
<text transform="translate(306.1 547.4) rotate(-45)" font-size="7.7">sg<tspan font-style="italic">NC</tspan></text>
<text transform="translate(319.6 547.4) rotate(-45)" font-size="7.7">sg<tspan font-style="italic">TP53</tspan></text>
<text transform="translate(336.6 547.4) rotate(-45)" font-size="7.7">sg<tspan font-style="italic">NC</tspan></text>
<text transform="translate(350.7 547.4) rotate(-45)" font-size="7.7">sg<tspan font-style="italic">TP53</tspan></text>
<text transform="translate(366 547.4) rotate(-45)" font-size="7.7">sg<tspan font-style="italic">NC</tspan></text>
<text transform="translate(380.1 547.4) rotate(-45)" font-size="7.7">sg<tspan font-style="italic">TP53</tspan></text>
<text transform="translate(396 547.4) rotate(-45)" font-size="7.7">sg<tspan font-style="italic">NC</tspan></text>
<text transform="translate(409.7 547.4) rotate(-45)" font-size="7.7">sg<tspan font-style="italic">TP53</tspan></text>
<text transform="translate(425.4 547.4) rotate(-45)" font-size="7.7">sg<tspan font-style="italic">NC</tspan></text>
<text transform="translate(440.6 547.4) rotate(-45)" font-size="7.7">sg<tspan font-style="italic">TP53</tspan></text>
<text x="1.2" y="653.4" font-size="10" font-weight="bold" fill="#000" style="stroke:#000;stroke-width:0.2px">H</text>
<text x="83.75" y="658.75" font-size="7.5" text-anchor="middle" font-weight="bold">WCB123LU</text>
<polyline points="89,719.5 90.99,717 92.86,714.03 94.88,710.75 96.81,704.54 99.1,701.73 100.76,697.62 103.06,685.32 104.39,677.45 106.85,674.87" fill="none" stroke="#e8585a" stroke-width="0.65" stroke-linejoin="round" opacity="0.9"/>
<polyline points="89,719.5 91.06,718.47 92.35,717.09 93.7,715.94 95.29,714.32 97.15,710.69 99.5,706.32 101.6,702.32 103.71,698.13 105.34,690.12 107.89,684.62 110.07,684.67 110.67,680.88" fill="none" stroke="#c8405a" stroke-width="0.65" stroke-linejoin="round" opacity="0.9"/>
<polyline points="89,719.5 90.36,718.53 92.15,716.61 93.92,714.23 96.27,713.15 97.82,708.57 99.69,705.26 101.47,706.53 103.55,699.59 105.17,701.35 106.87,692.22 109.11,695.27 110.7,692.97 112.05,683.53 113.55,683.23 115.4,684.33 117.6,681.37 118.32,674.87" fill="none" stroke="#ee7a74" stroke-width="0.65" stroke-linejoin="round" opacity="0.9"/>
<polyline points="90.28,719.5 92.09,718.6 93.71,717.09 96,715.93 98.41,714.29 100.19,711.44 102.28,711.6 104.82,709.21 106.42,705.57 108.11,706.04 109.48,705.86 111.5,703.31 113.54,700.66 115.4,694.86 117.29,695.55 119.6,693.75" fill="none" stroke="#b83a5a" stroke-width="0.65" stroke-linejoin="round" opacity="0.9"/>
<polyline points="89,719.5 90.47,718.98 92.79,718.18 94.31,717.18 96.78,716.41 99.27,714.13 101.31,713.69 102.72,713.71 105.22,711.88 107.39,710.57 109.72,707.97 111.37,708.51 113.56,707.66 115.13,704.42 117.49,702.46 119.12,699.57 120.66,703.72 122.15,699.76" fill="none" stroke="#f0847c" stroke-width="0.65" stroke-linejoin="round" opacity="0.9"/>
<polyline points="90.28,719.5 91.63,719.25 93.37,718.62 94.82,718.11 97.23,716.5 99.34,715.53 101.36,715.15 102.68,714.65 105.11,711.7 107.62,711.82 109.7,708.96 111.91,707.93 114.46,707.14 116.43,702.38 118.85,700.17 121.02,697.78 123.47,698.5 124.7,696.33" fill="none" stroke="#d8504c" stroke-width="0.65" stroke-linejoin="round" opacity="0.9"/>
<polyline points="89,719.5 91.11,718.5 92.57,717.85 94.32,716.34 96.63,713.55 98.67,711.57 100.79,710.42 102.63,708.34 105.06,706.01 107.38,703.15 109.53,698.59 111.32,692.01 111.95,693.75" fill="none" stroke="#6a80d0" stroke-width="0.65" stroke-linejoin="round" opacity="0.9"/>
<polyline points="90.28,719.5 92.72,718.08 94.11,716.78 96.59,715.86 98.4,714.61 100.08,712.38 101.56,710.95 102.9,711.33 105.22,708.79 107.03,706.52 108.91,705.81 110.22,703.03 112.73,699.25 114.85,700.93 116.59,697.18 117.05,698.04" fill="none" stroke="#8070b0" stroke-width="0.65" stroke-linejoin="round" opacity="0.9"/>
<polyline points="89,719.5 90.57,718.57 92.5,716.77 94.41,715.99 96.74,713.37 98.67,712.08 100.49,709.9 102.75,708.78 104.73,706.61 106.89,705.27 108.52,701.93 110.61,701.66 112.47,698.7 114.1,694.88 116.6,691.95 119.09,692.1 121.55,687.36 122.15,685.17" fill="none" stroke="#5c7ccc" stroke-width="0.65" stroke-linejoin="round" opacity="0.9"/>
<polyline points="90.28,719.5 92.71,718.91 94.33,717.84 96.04,717.08 97.33,716.42 99.39,713.3 101.94,711.63 103.24,710.76 105.52,706.32 107.61,706.22 109.56,702.48 111.64,700.94 114.12,692.69 115.6,695.11 117.99,691.58 120.47,685.01 122.63,678.79 124.18,681.25 124.7,677.44" fill="none" stroke="#98a0d8" stroke-width="0.65" stroke-linejoin="round" opacity="0.9"/>
<polyline points="90.28,719.5 92.43,719.29 94.84,718.79 96.42,718.38 98.95,717.54 101.02,716.49 103.52,715.55 105.33,714.96 107.75,713.45 109.77,713.29 111.51,711.51 113.5,712.31 115.68,708.5 117.98,706.99 120.41,706.75 122.69,705.97 124.09,705.2 125.77,701.12 127.25,702.33" fill="none" stroke="#7080c0" stroke-width="0.65" stroke-linejoin="round" opacity="0.9"/>
<polyline points="89,719.5 91.07,719.14 93.02,718.38 94.8,717.88 96.6,717.05 98.74,716.23 100.13,715.3 102.3,713.26 104.41,711.4 106.15,712.47 108.05,710.06 109.55,708.22 111.26,708.5 112.96,704.28 114.24,705.79 115.87,705.31 117.7,703.81 119.6,700.62" fill="none" stroke="#6a90d8" stroke-width="0.65" stroke-linejoin="round" opacity="0.9"/>
<line x1="38" y1="719.5" x2="89" y2="719.5" stroke="#f09090" stroke-width="0.8"/>
<line x1="37.8" y1="667.5" x2="37.8" y2="719.5" stroke="#6e6e6e" stroke-width="0.8"/>
<line x1="36.2" y1="668" x2="37.8" y2="668" stroke="#6e6e6e" stroke-width="0.8"/>
<text x="34.8" y="670.76" font-size="7.7" text-anchor="end">600</text>
<line x1="36.2" y1="685.17" x2="37.8" y2="685.17" stroke="#6e6e6e" stroke-width="0.8"/>
<text x="34.8" y="687.92" font-size="7.7" text-anchor="end">400</text>
<line x1="36.2" y1="702.33" x2="37.8" y2="702.33" stroke="#6e6e6e" stroke-width="0.8"/>
<text x="34.8" y="705.09" font-size="7.7" text-anchor="end">200</text>
<line x1="36.2" y1="719.5" x2="37.8" y2="719.5" stroke="#6e6e6e" stroke-width="0.8"/>
<text x="34.8" y="722.26" font-size="7.7" text-anchor="end">0</text>
<line x1="38" y1="719.9" x2="130.8" y2="719.9" stroke="#6e6e6e" stroke-width="0.8"/>
<line x1="38" y1="719.9" x2="38" y2="721.5" stroke="#6e6e6e" stroke-width="0.8"/>
<text x="38" y="728.87" font-size="7.5" text-anchor="middle">0</text>
<line x1="63.5" y1="719.9" x2="63.5" y2="721.5" stroke="#6e6e6e" stroke-width="0.8"/>
<text x="63.5" y="728.87" font-size="7.5" text-anchor="middle">20</text>
<line x1="89" y1="719.9" x2="89" y2="721.5" stroke="#6e6e6e" stroke-width="0.8"/>
<text x="89" y="728.87" font-size="7.5" text-anchor="middle">40</text>
<line x1="114.5" y1="719.9" x2="114.5" y2="721.5" stroke="#6e6e6e" stroke-width="0.8"/>
<text x="114.5" y="728.87" font-size="7.5" text-anchor="middle">60</text>
<text x="78.8" y="741.22" font-size="7.6" text-anchor="middle">Days post transplantation</text>
<text transform="translate(15.69 695.3) rotate(-90)" font-size="7.8" text-anchor="middle">Tumor volume (mm<tspan font-size="4.8" dy="-3.2">3</tspan><tspan dy="3.2">)</tspan></text>
<line x1="132.5" y1="670.6" x2="138" y2="670.6" stroke="#e8453c" stroke-width="0.9"/>
<line x1="132.5" y1="680.1" x2="138" y2="680.1" stroke="#4062b4" stroke-width="0.9"/>
<text x="140.5" y="673.11" font-size="7" style="stroke-width:0.08px"><tspan font-style="italic">sgNC</tspan> (<tspan font-style="italic">n</tspan> = 6)</text>
<text x="140.5" y="682.61" font-size="7" style="stroke-width:0.08px"><tspan font-style="italic">sgTP53</tspan> (<tspan font-style="italic">n</tspan> = 6)</text>
<text x="199.3" y="653.5" font-size="10" font-weight="bold" fill="#000" style="stroke:#000;stroke-width:0.2px">I</text>
<text x="246.2" y="658.2" font-size="7.5" text-anchor="middle" font-weight="bold">WCB123LU</text>
<line x1="227.7" y1="671" x2="227.7" y2="729.1" stroke="#6e6e6e" stroke-width="0.8"/>
<line x1="226.1" y1="672.5" x2="227.7" y2="672.5" stroke="#6e6e6e" stroke-width="0.8"/>
<text x="223.3" y="675.26" font-size="7.7" text-anchor="end">1.0</text>
<line x1="226.1" y1="700.8" x2="227.7" y2="700.8" stroke="#6e6e6e" stroke-width="0.8"/>
<text x="223.3" y="703.56" font-size="7.7" text-anchor="end">0.5</text>
<line x1="226.1" y1="729.1" x2="227.7" y2="729.1" stroke="#6e6e6e" stroke-width="0.8"/>
<text x="223.3" y="731.86" font-size="7.7" text-anchor="end">0.0</text>
<rect x="232.9" y="685.52" width="12.1" height="43.58" fill="none" stroke="#f3aaa4" stroke-width="0.8"/>
<circle cx="239.87" cy="673.63" r="0.75" fill="#e8453c"/>
<circle cx="239.72" cy="676.46" r="0.75" fill="#e8453c"/>
<circle cx="239.82" cy="680.42" r="0.75" fill="#e8453c"/>
<circle cx="238.42" cy="683.82" r="0.75" fill="#e8453c"/>
<circle cx="238.75" cy="686.08" r="0.75" fill="#e8453c"/>
<circle cx="238.61" cy="687.78" r="0.75" fill="#e8453c"/>
<circle cx="239.87" cy="700.8" r="0.75" fill="#e8453c"/>
<line x1="238.95" y1="682.12" x2="238.95" y2="688.91" stroke="#e8453c" stroke-width="0.9"/>
<line x1="235.95" y1="682.12" x2="241.95" y2="682.12" stroke="#e8453c" stroke-width="0.9"/>
<line x1="235.95" y1="688.91" x2="241.95" y2="688.91" stroke="#e8453c" stroke-width="0.9"/>
<rect x="250.6" y="700.23" width="12.1" height="28.87" fill="none" stroke="#afbae0" stroke-width="0.8"/>
<circle cx="257.75" cy="681.56" r="0.75" fill="#4062b4"/>
<circle cx="255.81" cy="695.14" r="0.75" fill="#4062b4"/>
<circle cx="255.87" cy="697.97" r="0.75" fill="#4062b4"/>
<circle cx="256.01" cy="700.8" r="0.75" fill="#4062b4"/>
<circle cx="256.01" cy="703.63" r="0.75" fill="#4062b4"/>
<circle cx="256.61" cy="707.59" r="0.75" fill="#4062b4"/>
<circle cx="256.86" cy="710.42" r="0.75" fill="#4062b4"/>
<line x1="256.65" y1="695.71" x2="256.65" y2="704.76" stroke="#4062b4" stroke-width="0.9"/>
<line x1="253.65" y1="695.71" x2="259.65" y2="695.71" stroke="#4062b4" stroke-width="0.9"/>
<line x1="253.65" y1="704.76" x2="259.65" y2="704.76" stroke="#4062b4" stroke-width="0.9"/>
<line x1="227.7" y1="729.5" x2="268.7" y2="729.5" stroke="#6e6e6e" stroke-width="0.8"/>
<line x1="238.95" y1="729.5" x2="238.95" y2="731.1" stroke="#6e6e6e" stroke-width="0.8"/>
<line x1="256.65" y1="729.5" x2="256.65" y2="731.1" stroke="#6e6e6e" stroke-width="0.8"/>
<text transform="translate(209.26 699.7) rotate(-90)" font-size="8" text-anchor="middle">Tumor weight (g)</text>
<text transform="translate(241 737) rotate(-45)" font-size="7.6" text-anchor="end">sg<tspan font-style="italic">NC</tspan></text>
<text transform="translate(258.5 737) rotate(-45)" font-size="7.6" text-anchor="end">sg<tspan font-style="italic">TP53</tspan></text>
<text x="250" y="670.86" font-size="6.6" text-anchor="middle"><tspan font-style="italic">P</tspan> = 0.1229</text>
<text x="284.8" y="653.5" font-size="10" font-weight="bold" fill="#000" style="stroke:#000;stroke-width:0.2px">J</text>
<text x="0" y="0" font-size="7.5" text-anchor="middle" font-weight="bold"></text>
<rect x="313.2" y="686.3" width="166.5" height="15" fill="#f4f4f4" stroke="#8a8a8a" stroke-width="0.8"/>
<rect x="313.2" y="709.4" width="166.5" height="14.7" fill="#f6f6f6" stroke="#8a8a8a" stroke-width="0.8"/>
<rect x="317.5" y="693.6" width="8.4" height="3.2" rx="1.6" fill="#000" opacity="1" filter="url(#bl)"/>
<rect x="332.1" y="694.4" width="7" height="2.2" rx="1.1" fill="#000" opacity="0.18" filter="url(#bl)"/>
<rect x="345.2" y="693.3" width="8.6" height="3.6" rx="1.8" fill="#000" opacity="1" filter="url(#bl)"/>
<rect x="359.4" y="694.1" width="8" height="2.2" rx="1.1" fill="#000" opacity="0.18" filter="url(#bl)"/>
<rect x="372.8" y="693.1" width="9" height="3.4" rx="1.7" fill="#000" opacity="1" filter="url(#bl)"/>
<rect x="387.7" y="693.7" width="7" height="2.2" rx="1.1" fill="#000" opacity="0.15" filter="url(#bl)"/>
<rect x="400.7" y="693" width="8.8" height="3.4" rx="1.7" fill="#000" opacity="1" filter="url(#bl)"/>
<rect x="415.75" y="693.5" width="6.5" height="2.2" rx="1.1" fill="#000" opacity="0.15" filter="url(#bl)"/>
<rect x="428.1" y="692.2" width="9.6" height="3.8" rx="1.9" fill="#000" opacity="1" filter="url(#bl)"/>
<rect x="442.6" y="692.8" width="8.4" height="2.4" rx="1.2" fill="#000" opacity="0.4" filter="url(#bl)"/>
<rect x="455.9" y="691.8" width="9.6" height="4" rx="2" fill="#000" opacity="1" filter="url(#bl)"/>
<rect x="471.1" y="692.7" width="7" height="2.2" rx="1.1" fill="#000" opacity="0.18" filter="url(#bl)"/>
<rect x="314.5" y="714.65" width="9.4" height="3.3" rx="1.65" fill="#000" opacity="0.97" filter="url(#bl)"/>
<rect x="328.35" y="715.15" width="9.4" height="3.3" rx="1.65" fill="#000" opacity="0.97" filter="url(#bl)"/>
<rect x="342.2" y="715.15" width="9.4" height="3.3" rx="1.65" fill="#000" opacity="0.97" filter="url(#bl)"/>
<rect x="356.05" y="714.95" width="9.4" height="3.3" rx="1.65" fill="#000" opacity="0.97" filter="url(#bl)"/>
<rect x="369.9" y="715.55" width="9.4" height="3.3" rx="1.65" fill="#000" opacity="0.97" filter="url(#bl)"/>
<rect x="383.75" y="715.35" width="9.4" height="3.3" rx="1.65" fill="#000" opacity="0.97" filter="url(#bl)"/>
<rect x="397.6" y="715.35" width="9.4" height="3.3" rx="1.65" fill="#000" opacity="0.97" filter="url(#bl)"/>
<rect x="411.45" y="714.95" width="9.4" height="3.3" rx="1.65" fill="#000" opacity="0.97" filter="url(#bl)"/>
<rect x="425.3" y="716.15" width="9.4" height="3.3" rx="1.65" fill="#000" opacity="0.97" filter="url(#bl)"/>
<rect x="439.15" y="715.85" width="9.4" height="3.3" rx="1.65" fill="#000" opacity="0.97" filter="url(#bl)"/>
<rect x="453" y="715.35" width="9.4" height="3.3" rx="1.65" fill="#000" opacity="0.97" filter="url(#bl)"/>
<rect x="466.85" y="713.85" width="9.4" height="3.3" rx="1.65" fill="#000" opacity="0.97" filter="url(#bl)"/>
<text x="310" y="696.56" font-size="7.7" text-anchor="end">TP53</text>
<text x="310" y="719.51" font-size="7.7" text-anchor="end">&#946;-Actin</text>
<line x1="487.75" y1="693.8" x2="494.75" y2="693.8" stroke="#222" stroke-width="0.7"/>
<path d="M486.25 693.8l3 -1.6v3.2z" fill="#222"/>
<text x="496.25" y="696.56" font-size="7.7">50 kDa</text>
<line x1="487.75" y1="716.75" x2="494.75" y2="716.75" stroke="#222" stroke-width="0.7"/>
<path d="M486.25 716.75l3 -1.6v3.2z" fill="#222"/>
<text x="496.25" y="719.51" font-size="7.7">37 kDa</text>
<text transform="translate(322.2 684.3) rotate(-45)" font-size="7.7">sg<tspan font-style="italic">NC</tspan></text>
<text transform="translate(336.1 684.3) rotate(-45)" font-size="7.7">sg<tspan font-style="italic">TP53</tspan></text>
<text transform="translate(350 684.3) rotate(-45)" font-size="7.7">sg<tspan font-style="italic">NC</tspan></text>
<text transform="translate(363.9 684.3) rotate(-45)" font-size="7.7">sg<tspan font-style="italic">TP53</tspan></text>
<text transform="translate(377.8 684.3) rotate(-45)" font-size="7.7">sg<tspan font-style="italic">NC</tspan></text>
<text transform="translate(391.7 684.3) rotate(-45)" font-size="7.7">sg<tspan font-style="italic">TP53</tspan></text>
<text transform="translate(405.6 684.3) rotate(-45)" font-size="7.7">sg<tspan font-style="italic">NC</tspan></text>
<text transform="translate(419.5 684.3) rotate(-45)" font-size="7.7">sg<tspan font-style="italic">TP53</tspan></text>
<text transform="translate(433.4 684.3) rotate(-45)" font-size="7.7">sg<tspan font-style="italic">NC</tspan></text>
<text transform="translate(447.3 684.3) rotate(-45)" font-size="7.7">sg<tspan font-style="italic">TP53</tspan></text>
<text transform="translate(461.2 684.3) rotate(-45)" font-size="7.7">sg<tspan font-style="italic">NC</tspan></text>
<text transform="translate(475.1 684.3) rotate(-45)" font-size="7.7">sg<tspan font-style="italic">TP53</tspan></text>
<text x="1.2" y="785.5" font-size="10" font-weight="bold" fill="#000" style="stroke:#000;stroke-width:0.2px">K</text>
<text x="70" y="791.3" font-size="7.5" text-anchor="middle" font-weight="bold">H&amp;E</text>
<text x="146.7" y="791.5" font-size="7.5" text-anchor="middle" font-weight="bold">TP53</text>
<text x="220.5" y="791.5" font-size="7.5" text-anchor="middle" font-weight="bold">Ki67</text>
<text x="35" y="822.79" font-size="7.8" text-anchor="end" font-style="italic">sgNC</text>
<text x="35" y="880.79" font-size="7.8" text-anchor="end" font-style="italic">sgTP53</text>
<clipPath id="c21"><rect x="41.3" y="796.3" width="65" height="48.2"/></clipPath>
<g clip-path="url(#c21)"><g filter="url(#tb)"><rect x="39.3" y="794.3" width="69" height="52.2" fill="#8c68b6"/><g fill="#a084c6"><circle cx="51.15" cy="829.91" r="2.45"/><circle cx="72.39" cy="806.16" r="2.69"/><circle cx="94.61" cy="821.02" r="2.26"/><circle cx="55.96" cy="795.5" r="2.06"/><circle cx="79.57" cy="798.81" r="2.69"/><circle cx="55.7" cy="807" r="1.56"/><circle cx="107.44" cy="832.36" r="2.81"/><circle cx="81.63" cy="797.04" r="1.99"/><circle cx="73.63" cy="801.14" r="2.93"/><circle cx="64.91" cy="803.1" r="2.73"/><circle cx="48.44" cy="841.85" r="2.18"/><circle cx="77.32" cy="812.53" r="2.23"/><circle cx="52.64" cy="797.2" r="2.8"/><circle cx="55.88" cy="834.45" r="1.81"/><circle cx="105.49" cy="840.15" r="2.63"/><circle cx="91.56" cy="824.45" r="2.59"/><circle cx="48.28" cy="819.21" r="2.74"/><circle cx="53.59" cy="841.61" r="2.83"/><circle cx="67.69" cy="813.64" r="2.18"/><circle cx="66.08" cy="845.21" r="2.08"/><circle cx="41.81" cy="800.01" r="2.58"/><circle cx="107.11" cy="820.2" r="2.24"/><circle cx="77.21" cy="832.84" r="1.83"/><circle cx="81.16" cy="823.23" r="2.43"/><circle cx="52.21" cy="803.86" r="2.02"/><circle cx="102.67" cy="812.71" r="2.4"/><circle cx="60.73" cy="800.51" r="1.6"/><circle cx="95.01" cy="834.29" r="2.06"/><circle cx="86.19" cy="829.22" r="2.85"/><circle cx="104.78" cy="815.74" r="2.98"/><circle cx="104.99" cy="824.94" r="2.82"/><circle cx="73.19" cy="814.16" r="1.87"/><circle cx="99.23" cy="803.47" r="1.6"/><circle cx="94.44" cy="834.13" r="2.22"/><circle cx="96.58" cy="797.95" r="1.89"/><circle cx="59.6" cy="816.37" r="1.76"/><circle cx="44.69" cy="812.28" r="2.85"/><circle cx="106.48" cy="832.72" r="2.22"/><circle cx="57.05" cy="843.4" r="2.29"/><circle cx="89.25" cy="796.75" r="1.82"/><circle cx="96.67" cy="835.2" r="2.82"/><circle cx="80.65" cy="816.69" r="2.37"/><circle cx="97.42" cy="810.77" r="2.3"/><circle cx="58.66" cy="833.85" r="1.52"/><circle cx="86.33" cy="843.16" r="1.54"/><circle cx="80.13" cy="827.61" r="2.78"/><circle cx="79.5" cy="808.23" r="2.11"/><circle cx="104.81" cy="840.73" r="1.7"/><circle cx="46.41" cy="800.04" r="1.54"/><circle cx="70.21" cy="802.4" r="2.8"/><circle cx="84.3" cy="801.68" r="2.31"/><circle cx="61.92" cy="820.09" r="1.83"/><circle cx="51.23" cy="804.56" r="2.07"/><circle cx="87.99" cy="822.91" r="1.57"/><circle cx="88.06" cy="839.14" r="2.66"/><circle cx="93.45" cy="795.73" r="2.2"/><circle cx="44.29" cy="833.63" r="1.76"/><circle cx="88.1" cy="808.01" r="2.55"/><circle cx="61.2" cy="797.44" r="2.08"/><circle cx="60.92" cy="840.49" r="1.94"/><circle cx="74.01" cy="822.87" r="2.92"/><circle cx="46.66" cy="825.47" r="2.26"/><circle cx="89.66" cy="843.82" r="1.97"/><circle cx="87.28" cy="821.69" r="2.34"/><circle cx="44.31" cy="836.17" r="2.97"/><circle cx="64.01" cy="811.28" r="2.99"/><circle cx="47.27" cy="799.15" r="1.61"/><circle cx="95.05" cy="833.43" r="2.17"/><circle cx="82.01" cy="796.33" r="2.47"/><circle cx="69.92" cy="821.27" r="2.08"/></g><g fill="#7450a4"><circle cx="67.14" cy="806.64" r="1.26"/><circle cx="69.33" cy="807.72" r="2.12"/><circle cx="95.25" cy="831.62" r="1.79"/><circle cx="55.98" cy="814.66" r="1.83"/><circle cx="82.71" cy="843.62" r="1.31"/><circle cx="72.43" cy="819.99" r="2.13"/><circle cx="100.2" cy="834.41" r="2.01"/><circle cx="91.28" cy="828.82" r="2.32"/><circle cx="87.25" cy="829.57" r="1.52"/><circle cx="101.97" cy="814.68" r="2"/><circle cx="95.76" cy="843.64" r="2.49"/><circle cx="40.43" cy="811.01" r="1.61"/><circle cx="66.45" cy="802.63" r="1.92"/><circle cx="45.38" cy="810.5" r="2.43"/><circle cx="90.18" cy="818.51" r="1.34"/><circle cx="104.63" cy="830.62" r="1.47"/><circle cx="62.67" cy="827.5" r="2.09"/><circle cx="57.63" cy="843.02" r="1.62"/><circle cx="57.19" cy="837.71" r="1.4"/><circle cx="86.05" cy="805.36" r="1.98"/><circle cx="58.75" cy="814.33" r="2.42"/><circle cx="71.57" cy="817.24" r="2"/><circle cx="58.97" cy="804.08" r="1.7"/><circle cx="58.41" cy="804.78" r="2.45"/><circle cx="42.32" cy="835.96" r="2.42"/><circle cx="87.63" cy="796.29" r="1.85"/><circle cx="42.65" cy="825.81" r="2.11"/><circle cx="56.24" cy="795.72" r="1.91"/><circle cx="46.39" cy="810.82" r="1.79"/><circle cx="100.47" cy="813.89" r="1.38"/><circle cx="93.52" cy="836.56" r="1.89"/><circle cx="43.32" cy="804.74" r="1.72"/><circle cx="77.31" cy="806.62" r="2.24"/><circle cx="97.02" cy="841.71" r="2.35"/><circle cx="41.19" cy="824.51" r="1.3"/><circle cx="100.82" cy="832.78" r="2.19"/><circle cx="52.73" cy="798.33" r="2.26"/><circle cx="81" cy="826.43" r="1.81"/><circle cx="94.09" cy="812.28" r="1.55"/><circle cx="63.87" cy="810.27" r="2.02"/><circle cx="100.17" cy="798.9" r="1.29"/><circle cx="74.59" cy="829.32" r="1.45"/><circle cx="58.24" cy="798.28" r="1.25"/><circle cx="73.47" cy="829.46" r="2.05"/><circle cx="50.69" cy="800.55" r="2.41"/><circle cx="76.41" cy="815.81" r="2.1"/><circle cx="89.2" cy="821.63" r="1.3"/><circle cx="95.92" cy="806.05" r="1.25"/><circle cx="63.81" cy="822.03" r="2.02"/><circle cx="51.77" cy="830.91" r="1.84"/><circle cx="50.95" cy="837.99" r="2.25"/><circle cx="101.27" cy="829.4" r="1.48"/><circle cx="92.57" cy="840.59" r="1.89"/><circle cx="101.41" cy="843.97" r="1.71"/><circle cx="103.67" cy="842.29" r="2.23"/><circle cx="40.76" cy="812.98" r="2"/><circle cx="81.05" cy="833.22" r="2.04"/><circle cx="50.92" cy="842" r="1.9"/><circle cx="99.6" cy="805.7" r="2.5"/><circle cx="77.51" cy="834.21" r="2.16"/><circle cx="99.68" cy="813.5" r="1.31"/><circle cx="67.42" cy="804.27" r="1.9"/><circle cx="95.09" cy="813.49" r="1.37"/><circle cx="41.83" cy="816.54" r="1.95"/><circle cx="41.78" cy="828.69" r="1.47"/><circle cx="47.24" cy="841.84" r="1.88"/><circle cx="100.51" cy="821.1" r="1.36"/><circle cx="56.23" cy="816.6" r="2.03"/><circle cx="92.11" cy="833" r="2.05"/><circle cx="57.1" cy="816.9" r="1.69"/></g><path d="M90.7 795.34 L84.2 815.58 L77.7 832.45 L71.85 845.46" stroke="#baa4d6" stroke-width="1.6" fill="none" stroke-linejoin="round" stroke-linecap="round"/><ellipse cx="60.8" cy="831.97" rx="5.5" ry="3" fill="#b8a0d4" transform="rotate(-15 60.8 831.97)"/><ellipse cx="60.8" cy="831.97" rx="2.5" ry="1.3" fill="#d0c0e4" transform="rotate(-15 60.8 831.97)"/><path d="M107.6 821.36 L107.6 845.46 L94.6 845.46z" fill="#c8b8e0"/><g fill="#5a3590"><circle cx="73.1" cy="808.64" r="0.62"/><circle cx="71.01" cy="797.12" r="0.73"/><circle cx="79.64" cy="835.58" r="0.69"/><circle cx="89.4" cy="845.14" r="0.55"/><circle cx="66.61" cy="795.52" r="0.67"/><circle cx="79.31" cy="824.23" r="0.8"/><circle cx="53.31" cy="806.73" r="0.69"/><circle cx="94.92" cy="819.54" r="0.42"/><circle cx="65.04" cy="836.76" r="0.6"/><circle cx="71.2" cy="814.86" r="0.65"/><circle cx="80.46" cy="830.08" r="0.75"/><circle cx="90.79" cy="814.13" r="0.5"/><circle cx="92.86" cy="835.08" r="0.77"/><circle cx="53.44" cy="837.83" r="0.76"/><circle cx="45.22" cy="810.77" r="0.65"/><circle cx="49.88" cy="837" r="0.51"/><circle cx="86.13" cy="810.16" r="0.49"/><circle cx="53.99" cy="820.28" r="0.69"/><circle cx="54.73" cy="829.74" r="0.53"/><circle cx="83.89" cy="813.79" r="0.48"/><circle cx="49.53" cy="798.23" r="0.68"/><circle cx="67.96" cy="801.51" r="0.75"/><circle cx="84.26" cy="796.4" r="0.69"/><circle cx="80.2" cy="817.58" r="0.6"/><circle cx="105.05" cy="814.08" r="0.65"/><circle cx="82.98" cy="813.67" r="0.54"/><circle cx="91.04" cy="827.21" r="0.58"/><circle cx="74.73" cy="806.54" r="0.72"/><circle cx="41.34" cy="827.58" r="0.58"/><circle cx="54.97" cy="824.75" r="0.63"/><circle cx="45.87" cy="819.9" r="0.47"/><circle cx="94.02" cy="811.72" r="0.53"/><circle cx="54.56" cy="797.75" r="0.47"/><circle cx="50.25" cy="826.62" r="0.74"/><circle cx="54.94" cy="800.94" r="0.61"/><circle cx="47.81" cy="815.65" r="0.7"/><circle cx="53.73" cy="830.41" r="0.62"/><circle cx="45.75" cy="807.49" r="0.64"/><circle cx="46.51" cy="805.55" r="0.63"/><circle cx="95.3" cy="821.42" r="0.67"/><circle cx="40.61" cy="810.5" r="0.53"/><circle cx="101.75" cy="813.26" r="0.71"/><circle cx="42.32" cy="820.32" r="0.76"/><circle cx="92.14" cy="824.39" r="0.47"/><circle cx="102.61" cy="799.34" r="0.79"/><circle cx="92.47" cy="831.41" r="0.61"/><circle cx="51.08" cy="812.42" r="0.67"/><circle cx="84.34" cy="814.85" r="0.72"/><circle cx="43.61" cy="809.74" r="0.44"/><circle cx="61.96" cy="835.08" r="0.7"/><circle cx="50.1" cy="810.8" r="0.44"/><circle cx="84.75" cy="817.52" r="0.49"/><circle cx="65.29" cy="838.71" r="0.57"/><circle cx="86.7" cy="826.8" r="0.59"/><circle cx="77.61" cy="813.57" r="0.48"/><circle cx="73.42" cy="810.6" r="0.53"/><circle cx="52.61" cy="841.12" r="0.57"/><circle cx="53.54" cy="796.93" r="0.49"/><circle cx="98.71" cy="812.22" r="0.67"/><circle cx="55.58" cy="827.95" r="0.58"/><circle cx="89.78" cy="821.83" r="0.55"/><circle cx="58.93" cy="825.13" r="0.73"/><circle cx="86.75" cy="819.4" r="0.53"/><circle cx="100.26" cy="837.76" r="0.46"/><circle cx="85.92" cy="834.04" r="0.67"/><circle cx="105.19" cy="839.4" r="0.5"/><circle cx="107.38" cy="811.76" r="0.55"/><circle cx="106" cy="803.72" r="0.56"/><circle cx="82.31" cy="809.02" r="0.51"/><circle cx="93.69" cy="826.04" r="0.7"/><circle cx="93.4" cy="839.05" r="0.76"/><circle cx="95.66" cy="844.38" r="0.6"/><circle cx="87.43" cy="821.09" r="0.79"/><circle cx="84.28" cy="816.92" r="0.67"/><circle cx="59.93" cy="801.83" r="0.55"/><circle cx="49.25" cy="795.54" r="0.44"/><circle cx="70.71" cy="833.6" r="0.42"/><circle cx="83.04" cy="800.92" r="0.6"/><circle cx="60" cy="817.69" r="0.68"/><circle cx="67.95" cy="814.97" r="0.69"/><circle cx="47.83" cy="812.83" r="0.68"/><circle cx="96.44" cy="844.43" r="0.5"/><circle cx="82.26" cy="811.01" r="0.68"/><circle cx="97.2" cy="802.11" r="0.54"/><circle cx="103.29" cy="813" r="0.65"/><circle cx="95.33" cy="809.31" r="0.71"/><circle cx="40.25" cy="812.4" r="0.47"/><circle cx="63.38" cy="806.02" r="0.41"/><circle cx="94.29" cy="804.03" r="0.63"/><circle cx="77.46" cy="837.92" r="0.74"/><circle cx="82.02" cy="803.8" r="0.7"/><circle cx="46.59" cy="841.88" r="0.52"/><circle cx="57.09" cy="806.19" r="0.56"/><circle cx="93.51" cy="838.19" r="0.7"/><circle cx="89.3" cy="807.57" r="0.53"/><circle cx="60.57" cy="817.06" r="0.75"/><circle cx="107.33" cy="799.53" r="0.79"/><circle cx="102.08" cy="818.44" r="0.68"/><circle cx="93.03" cy="804.7" r="0.65"/><circle cx="106.36" cy="839.47" r="0.76"/><circle cx="45.73" cy="831.16" r="0.59"/><circle cx="101.46" cy="803.7" r="0.62"/><circle cx="48.15" cy="835.66" r="0.69"/><circle cx="42.11" cy="810.86" r="0.46"/><circle cx="82.96" cy="826.92" r="0.43"/><circle cx="104.28" cy="843.72" r="0.58"/><circle cx="78.81" cy="813.56" r="0.64"/><circle cx="66.93" cy="817.43" r="0.7"/><circle cx="52.6" cy="810.29" r="0.71"/><circle cx="55.21" cy="798.79" r="0.76"/><circle cx="50.78" cy="815.94" r="0.53"/><circle cx="57.69" cy="813" r="0.61"/><circle cx="47.85" cy="822.07" r="0.42"/><circle cx="45.33" cy="805.47" r="0.5"/><circle cx="63.09" cy="809.94" r="0.73"/><circle cx="84.48" cy="819.06" r="0.71"/><circle cx="86.37" cy="811.15" r="0.65"/><circle cx="90.39" cy="822.12" r="0.7"/><circle cx="82.78" cy="841.85" r="0.51"/><circle cx="85.4" cy="844.3" r="0.61"/><circle cx="101.19" cy="800.08" r="0.69"/><circle cx="57.94" cy="832.95" r="0.57"/><circle cx="76.17" cy="807.79" r="0.5"/><circle cx="98.51" cy="827.58" r="0.65"/><circle cx="47.82" cy="810.03" r="0.79"/><circle cx="53.74" cy="822.3" r="0.68"/><circle cx="74.51" cy="823.12" r="0.79"/><circle cx="92.82" cy="807.22" r="0.57"/><circle cx="68.37" cy="829.61" r="0.67"/><circle cx="57.64" cy="830.04" r="0.57"/><circle cx="41.03" cy="809.97" r="0.55"/><circle cx="53.31" cy="828.96" r="0.8"/><circle cx="102.97" cy="826.9" r="0.74"/><circle cx="73.24" cy="824.74" r="0.76"/><circle cx="44.03" cy="813.5" r="0.55"/><circle cx="63.05" cy="816.78" r="0.42"/><circle cx="85.9" cy="843.3" r="0.49"/><circle cx="52.56" cy="812.11" r="0.72"/><circle cx="55.31" cy="833.98" r="0.47"/><circle cx="80.23" cy="831.49" r="0.67"/><circle cx="45.71" cy="843.29" r="0.74"/><circle cx="72.51" cy="838.42" r="0.64"/><circle cx="51.4" cy="815.23" r="0.73"/><circle cx="71.35" cy="797.44" r="0.47"/><circle cx="52.59" cy="824.71" r="0.66"/><circle cx="70.28" cy="815.58" r="0.79"/><circle cx="63.18" cy="829.02" r="0.48"/><circle cx="74.75" cy="804.34" r="0.45"/><circle cx="62.76" cy="801.1" r="0.55"/><circle cx="84.14" cy="822.86" r="0.72"/><circle cx="72.26" cy="799.55" r="0.69"/><circle cx="67.18" cy="833.01" r="0.79"/><circle cx="75.44" cy="807.89" r="0.54"/><circle cx="73.7" cy="811.33" r="0.44"/><circle cx="66.93" cy="828.23" r="0.73"/><circle cx="91.49" cy="839.65" r="0.72"/><circle cx="67.81" cy="827.64" r="0.42"/><circle cx="93.68" cy="830.83" r="0.51"/><circle cx="71.93" cy="808.96" r="0.72"/><circle cx="68.84" cy="834.48" r="0.77"/><circle cx="92.57" cy="814.39" r="0.54"/><circle cx="103.94" cy="840.68" r="0.48"/><circle cx="64.49" cy="834.84" r="0.7"/><circle cx="59.14" cy="817.71" r="0.78"/><circle cx="46.1" cy="809.07" r="0.67"/><circle cx="101.35" cy="842.8" r="0.59"/><circle cx="93.42" cy="844.08" r="0.53"/><circle cx="55.38" cy="808.35" r="0.71"/><circle cx="49.43" cy="822.74" r="0.77"/><circle cx="53.59" cy="826.85" r="0.61"/><circle cx="105.32" cy="821.08" r="0.6"/><circle cx="101.08" cy="833.05" r="0.46"/><circle cx="94.34" cy="815.35" r="0.79"/><circle cx="105.1" cy="820.06" r="0.57"/><circle cx="55.35" cy="809.18" r="0.48"/><circle cx="51.37" cy="831.94" r="0.42"/><circle cx="80.48" cy="825.3" r="0.69"/><circle cx="78.36" cy="841.82" r="0.51"/><circle cx="46.29" cy="824.54" r="0.51"/><circle cx="106.8" cy="841.54" r="0.68"/><circle cx="96.35" cy="807.59" r="0.59"/><circle cx="65.88" cy="812.64" r="0.55"/><circle cx="72.3" cy="828.12" r="0.41"/><circle cx="76.46" cy="801.75" r="0.79"/><circle cx="77.3" cy="824.87" r="0.53"/><circle cx="87.71" cy="830.93" r="0.76"/><circle cx="79.25" cy="808.86" r="0.65"/><circle cx="43.4" cy="832.63" r="0.52"/><circle cx="88.63" cy="801.95" r="0.64"/><circle cx="51.43" cy="797.17" r="0.51"/><circle cx="97.35" cy="814.82" r="0.61"/><circle cx="93.43" cy="844.38" r="0.5"/><circle cx="86.92" cy="834.53" r="0.72"/><circle cx="63.44" cy="819.12" r="0.71"/><circle cx="56.96" cy="819.68" r="0.65"/><circle cx="97.54" cy="807.56" r="0.67"/><circle cx="54.68" cy="803.2" r="0.59"/><circle cx="83.79" cy="827.43" r="0.78"/><circle cx="51.11" cy="821.92" r="0.59"/><circle cx="57.5" cy="841.34" r="0.46"/><circle cx="57.61" cy="797.36" r="0.66"/><circle cx="84.46" cy="806.55" r="0.77"/><circle cx="82.91" cy="805.44" r="0.78"/><circle cx="97.69" cy="811.07" r="0.75"/><circle cx="48.81" cy="812.77" r="0.57"/><circle cx="104.56" cy="810.31" r="0.55"/><circle cx="54.01" cy="836.41" r="0.47"/><circle cx="97.3" cy="812.42" r="0.62"/><circle cx="99.26" cy="808.7" r="0.61"/><circle cx="82.99" cy="824.3" r="0.56"/><circle cx="83.67" cy="811.11" r="0.46"/><circle cx="40.6" cy="825.7" r="0.63"/><circle cx="94.05" cy="803.2" r="0.67"/><circle cx="70.64" cy="821.65" r="0.73"/><circle cx="75.09" cy="817.17" r="0.66"/><circle cx="49.99" cy="839.09" r="0.61"/><circle cx="42.87" cy="819.47" r="0.78"/><circle cx="106.17" cy="816.71" r="0.51"/><circle cx="103.3" cy="809.59" r="0.41"/><circle cx="56.7" cy="818.93" r="0.67"/><circle cx="44.52" cy="812.1" r="0.69"/><circle cx="63.28" cy="804.14" r="0.68"/><circle cx="69.51" cy="830.18" r="0.59"/><circle cx="94.92" cy="821.01" r="0.79"/><circle cx="94.97" cy="831.51" r="0.6"/><circle cx="81.21" cy="814.22" r="0.43"/><circle cx="99.8" cy="835.81" r="0.71"/><circle cx="98.08" cy="822.95" r="0.8"/><circle cx="71.99" cy="844.5" r="0.43"/><circle cx="65.58" cy="823.96" r="0.73"/><circle cx="75.2" cy="834.95" r="0.55"/><circle cx="85.77" cy="835.27" r="0.64"/><circle cx="41.41" cy="828.27" r="0.4"/><circle cx="60.47" cy="801.09" r="0.71"/><circle cx="51.38" cy="831.39" r="0.43"/><circle cx="53.99" cy="830.18" r="0.77"/><circle cx="44.84" cy="826.13" r="0.56"/><circle cx="82.04" cy="799.21" r="0.41"/><circle cx="45.32" cy="840" r="0.6"/><circle cx="81.4" cy="802.02" r="0.67"/><circle cx="100.91" cy="805.26" r="0.71"/><circle cx="97.36" cy="845.07" r="0.63"/><circle cx="83.6" cy="812.62" r="0.71"/><circle cx="60.99" cy="826.59" r="0.65"/><circle cx="106.88" cy="834.8" r="0.44"/><circle cx="51.97" cy="813.24" r="0.56"/><circle cx="88.46" cy="808.35" r="0.62"/><circle cx="70.56" cy="810.64" r="0.66"/><circle cx="69.34" cy="844.44" r="0.45"/><circle cx="100.76" cy="827.28" r="0.58"/><circle cx="45.26" cy="827.76" r="0.72"/><circle cx="63.65" cy="831.05" r="0.61"/><circle cx="46.1" cy="838.41" r="0.52"/><circle cx="72.47" cy="833.51" r="0.75"/><circle cx="97.72" cy="813.76" r="0.74"/><circle cx="50.33" cy="822.99" r="0.57"/><circle cx="98.54" cy="831.54" r="0.66"/><circle cx="94.81" cy="812.76" r="0.58"/><circle cx="46.95" cy="812.92" r="0.48"/><circle cx="89.44" cy="801.82" r="0.77"/><circle cx="80.57" cy="817.7" r="0.45"/><circle cx="70.19" cy="823.6" r="0.46"/><circle cx="106.02" cy="813.43" r="0.57"/><circle cx="59.28" cy="814.04" r="0.51"/><circle cx="97.74" cy="798.93" r="0.55"/><circle cx="80.4" cy="819.37" r="0.53"/><circle cx="72.73" cy="798.47" r="0.52"/><circle cx="69.42" cy="833.77" r="0.57"/><circle cx="68.07" cy="828.12" r="0.51"/><circle cx="77.19" cy="805.1" r="0.65"/><circle cx="76.44" cy="828.12" r="0.75"/><circle cx="93.75" cy="844.89" r="0.49"/><circle cx="104.49" cy="817.63" r="0.55"/><circle cx="70.76" cy="841.52" r="0.78"/><circle cx="94.42" cy="810.44" r="0.45"/><circle cx="53.77" cy="829.03" r="0.68"/><circle cx="44.44" cy="795.52" r="0.8"/><circle cx="62.84" cy="797.43" r="0.59"/><circle cx="46.61" cy="836.19" r="0.61"/><circle cx="81.39" cy="841.81" r="0.45"/><circle cx="54.54" cy="834.78" r="0.64"/><circle cx="69.64" cy="813.19" r="0.65"/><circle cx="103.86" cy="842.89" r="0.77"/><circle cx="106.14" cy="801.94" r="0.41"/><circle cx="96.05" cy="807.73" r="0.61"/><circle cx="71.66" cy="844.15" r="0.58"/><circle cx="49.11" cy="805.57" r="0.76"/><circle cx="95.15" cy="802.34" r="0.79"/><circle cx="65.13" cy="831.8" r="0.63"/><circle cx="98" cy="819.87" r="0.41"/><circle cx="77.7" cy="838.01" r="0.56"/><circle cx="95.86" cy="817.72" r="0.54"/><circle cx="64.28" cy="806.79" r="0.6"/><circle cx="104.85" cy="824.95" r="0.71"/><circle cx="52.12" cy="813.86" r="0.63"/><circle cx="65.94" cy="795.77" r="0.75"/><circle cx="48.73" cy="828.37" r="0.79"/><circle cx="59.57" cy="808.86" r="0.53"/><circle cx="76.64" cy="844.46" r="0.46"/><circle cx="56.56" cy="840.26" r="0.51"/></g><g fill="#b49cd4"><circle cx="85.09" cy="831.51" r="0.4"/><circle cx="41.85" cy="833.39" r="0.95"/><circle cx="86.96" cy="818.75" r="0.46"/><circle cx="75.62" cy="800.84" r="0.59"/><circle cx="42.38" cy="821.15" r="0.68"/><circle cx="59.23" cy="806.43" r="0.44"/><circle cx="41.88" cy="801.69" r="0.99"/><circle cx="42.24" cy="831.25" r="0.67"/><circle cx="79.72" cy="810.61" r="0.99"/><circle cx="94.6" cy="815.62" r="0.66"/><circle cx="102.05" cy="803.17" r="0.92"/><circle cx="81.85" cy="823.76" r="0.72"/><circle cx="79.94" cy="799.89" r="0.55"/><circle cx="63.9" cy="806.43" r="0.45"/><circle cx="88.18" cy="816.46" r="0.84"/><circle cx="66.5" cy="842.54" r="0.55"/><circle cx="74.64" cy="816.54" r="0.87"/><circle cx="48.85" cy="822.7" r="0.67"/><circle cx="82.21" cy="807" r="0.73"/><circle cx="106.59" cy="800.49" r="0.98"/><circle cx="105.35" cy="817.8" r="0.45"/><circle cx="73.58" cy="843.61" r="0.4"/><circle cx="90.89" cy="834.43" r="0.47"/><circle cx="80.76" cy="802.77" r="0.46"/><circle cx="75.24" cy="810.27" r="0.8"/><circle cx="75.61" cy="806.84" r="0.95"/><circle cx="40.41" cy="835.54" r="0.57"/><circle cx="100.78" cy="825.77" r="0.68"/><circle cx="54.6" cy="838.27" r="0.91"/><circle cx="104.95" cy="824.89" r="0.95"/><circle cx="100.49" cy="828.75" r="0.6"/><circle cx="80.81" cy="812.54" r="0.89"/><circle cx="77.38" cy="838.79" r="0.94"/><circle cx="91.01" cy="805.52" r="0.6"/><circle cx="45.77" cy="812.14" r="0.49"/><circle cx="60.27" cy="835.14" r="0.47"/><circle cx="102.04" cy="841.54" r="0.86"/><circle cx="56.1" cy="809.9" r="0.67"/><circle cx="81.83" cy="841.75" r="0.41"/><circle cx="45.82" cy="836.55" r="0.41"/><circle cx="100.41" cy="804.67" r="0.99"/><circle cx="71.84" cy="825.71" r="0.9"/><circle cx="95.65" cy="816.12" r="0.68"/><circle cx="93.31" cy="808.18" r="0.58"/><circle cx="98.88" cy="839.55" r="0.9"/><circle cx="63.25" cy="812.52" r="0.46"/><circle cx="96.28" cy="797.77" r="0.51"/><circle cx="41.63" cy="818.26" r="1"/><circle cx="44.76" cy="807.97" r="0.56"/><circle cx="87.41" cy="813.21" r="0.5"/><circle cx="86.76" cy="840.47" r="0.5"/><circle cx="44.27" cy="815.76" r="0.96"/><circle cx="44.02" cy="802.26" r="0.79"/><circle cx="91.47" cy="817.99" r="0.43"/><circle cx="77.24" cy="800.33" r="0.44"/><circle cx="43.84" cy="842.31" r="0.46"/><circle cx="72.12" cy="836.5" r="0.52"/><circle cx="66.36" cy="835.12" r="0.74"/><circle cx="53.13" cy="822.24" r="1"/><circle cx="95.34" cy="843.58" r="0.41"/><circle cx="43.94" cy="820.54" r="0.41"/><circle cx="105.05" cy="809.98" r="0.73"/><circle cx="99.31" cy="816.66" r="0.86"/><circle cx="50.45" cy="817.64" r="0.84"/><circle cx="71.64" cy="804.63" r="0.92"/><circle cx="64.18" cy="841.08" r="0.59"/><circle cx="95.94" cy="801.56" r="0.8"/><circle cx="104.33" cy="826.8" r="0.65"/><circle cx="106.3" cy="843.78" r="0.89"/><circle cx="55.04" cy="799.81" r="0.77"/><circle cx="49.06" cy="798.37" r="0.73"/><circle cx="103.84" cy="808.91" r="0.89"/><circle cx="104.95" cy="842.54" r="0.45"/><circle cx="49.07" cy="843.22" r="0.98"/><circle cx="51.59" cy="804.41" r="0.83"/><circle cx="46.55" cy="800.55" r="0.5"/><circle cx="79.09" cy="813.95" r="0.91"/><circle cx="50.33" cy="840.3" r="0.87"/><circle cx="65.32" cy="825.65" r="0.81"/><circle cx="48.25" cy="842.06" r="0.66"/><circle cx="74.81" cy="838.06" r="0.41"/><circle cx="58.06" cy="796.88" r="0.84"/><circle cx="54.78" cy="831.32" r="0.83"/><circle cx="107.31" cy="804.37" r="0.65"/><circle cx="93.28" cy="817.61" r="0.51"/><circle cx="85.62" cy="835.16" r="0.67"/><circle cx="65.81" cy="801.96" r="0.64"/><circle cx="96.8" cy="813.11" r="0.97"/><circle cx="64.18" cy="819.2" r="0.87"/><circle cx="101.64" cy="837.68" r="0.65"/><circle cx="70.52" cy="801.83" r="0.72"/><circle cx="95.36" cy="804.89" r="0.59"/><circle cx="44.44" cy="818.09" r="0.69"/><circle cx="106.92" cy="828.93" r="0.95"/><circle cx="53.54" cy="817.28" r="0.82"/><circle cx="45.01" cy="823.96" r="0.78"/><circle cx="41.82" cy="805.52" r="0.87"/><circle cx="50.94" cy="827.3" r="0.65"/><circle cx="66.33" cy="839.23" r="0.64"/><circle cx="99.45" cy="836.48" r="0.73"/><circle cx="46.87" cy="812.06" r="0.97"/><circle cx="57.84" cy="824.93" r="0.52"/><circle cx="89.51" cy="829.81" r="0.93"/><circle cx="80.13" cy="800.87" r="0.88"/><circle cx="78.95" cy="842.62" r="0.71"/><circle cx="61.92" cy="817.55" r="0.74"/><circle cx="87.22" cy="827.04" r="0.92"/><circle cx="76.23" cy="805.61" r="0.92"/><circle cx="88.09" cy="803.26" r="0.68"/><circle cx="97.53" cy="824.26" r="0.47"/><circle cx="98.53" cy="831.98" r="0.52"/><circle cx="86.93" cy="838.63" r="0.75"/><circle cx="104.1" cy="822.3" r="0.41"/><circle cx="84.58" cy="836.95" r="0.95"/><circle cx="91.05" cy="842.56" r="0.88"/><circle cx="72.03" cy="798.36" r="0.5"/><circle cx="43.33" cy="841.73" r="0.88"/><circle cx="101.27" cy="834.28" r="0.67"/><circle cx="78.11" cy="796.61" r="0.5"/><circle cx="67.05" cy="798.03" r="0.59"/></g><g fill="#d8cce8"><circle cx="75.08" cy="803.43" r="0.41"/><circle cx="45.79" cy="818.25" r="0.64"/><circle cx="70.24" cy="830.64" r="0.6"/><circle cx="94.34" cy="835.24" r="0.53"/><circle cx="43.12" cy="803.79" r="0.45"/><circle cx="62.79" cy="825.36" r="0.52"/><circle cx="59.49" cy="803.74" r="0.61"/><circle cx="107.3" cy="830.51" r="0.4"/><circle cx="86.99" cy="835.41" r="0.54"/><circle cx="82.85" cy="838.55" r="0.52"/><circle cx="87.78" cy="803.81" r="0.64"/><circle cx="78.6" cy="804.91" r="0.57"/><circle cx="95.76" cy="817.67" r="0.46"/><circle cx="88.05" cy="845.22" r="0.69"/><circle cx="60.94" cy="819.69" r="0.48"/><circle cx="49.61" cy="822.71" r="0.45"/><circle cx="72.31" cy="836.89" r="0.54"/><circle cx="106.91" cy="805.51" r="0.41"/><circle cx="44.35" cy="830.72" r="0.45"/><circle cx="54.8" cy="827.26" r="0.7"/><circle cx="90.91" cy="843.31" r="0.68"/><circle cx="75.64" cy="806.35" r="0.62"/><circle cx="54.72" cy="798.83" r="0.48"/><circle cx="89.94" cy="827.07" r="0.49"/><circle cx="48.5" cy="803.96" r="0.56"/></g></g></g>
<line x1="98.3" y1="842.3" x2="103.8" y2="842.3" stroke="#fff" stroke-width="0.9"/>
<clipPath id="c22"><rect x="41.3" y="853.4" width="65" height="48.3"/></clipPath>
<g clip-path="url(#c22)"><g filter="url(#tb)"><rect x="39.3" y="851.4" width="69" height="52.3" fill="#8660b2"/><g fill="#9a7cc2"><circle cx="104.77" cy="859.48" r="1.54"/><circle cx="107.51" cy="861.69" r="1.68"/><circle cx="84.04" cy="869.8" r="2.83"/><circle cx="55.67" cy="900.63" r="1.98"/><circle cx="80.64" cy="899.25" r="2.53"/><circle cx="102.45" cy="888" r="1.57"/><circle cx="99.58" cy="882.05" r="1.97"/><circle cx="52.85" cy="895.12" r="2.37"/><circle cx="103.41" cy="891.31" r="2.94"/><circle cx="78.28" cy="887.52" r="2.42"/><circle cx="57.47" cy="900.49" r="1.97"/><circle cx="92.8" cy="900.39" r="2.48"/><circle cx="49.61" cy="893.89" r="2.5"/><circle cx="52.51" cy="854.9" r="2.3"/><circle cx="42.18" cy="898.9" r="2.26"/><circle cx="74.97" cy="873" r="2.49"/><circle cx="101.95" cy="867.87" r="2.06"/><circle cx="79.38" cy="867.37" r="2.39"/><circle cx="76.71" cy="874.21" r="2.51"/><circle cx="75.71" cy="856.86" r="2.99"/><circle cx="64.05" cy="874.12" r="2.1"/><circle cx="102.83" cy="900.26" r="2.27"/><circle cx="67.08" cy="857.28" r="2.84"/><circle cx="51.59" cy="879.89" r="2.02"/><circle cx="62.19" cy="870.38" r="1.79"/><circle cx="42.5" cy="879.33" r="2.69"/><circle cx="83.74" cy="862.56" r="2.54"/><circle cx="43.52" cy="873.07" r="2.74"/><circle cx="102.26" cy="875.57" r="2.77"/><circle cx="73.7" cy="878.75" r="2.38"/><circle cx="107.01" cy="889.79" r="2.21"/><circle cx="89.16" cy="884.75" r="2.03"/><circle cx="93.01" cy="893.61" r="2.41"/><circle cx="103.73" cy="853.35" r="2.25"/><circle cx="82.9" cy="869.54" r="1.76"/><circle cx="86.78" cy="874.25" r="1.9"/><circle cx="42.83" cy="901.02" r="2.03"/><circle cx="47.98" cy="863.3" r="1.88"/><circle cx="98.55" cy="861.51" r="1.91"/><circle cx="46.58" cy="876.04" r="1.81"/><circle cx="63.26" cy="889.35" r="2.89"/><circle cx="96.39" cy="854.36" r="2.07"/><circle cx="97.39" cy="854.09" r="1.8"/><circle cx="73.12" cy="871.64" r="2.63"/><circle cx="88.55" cy="875.76" r="1.87"/><circle cx="55.6" cy="865.81" r="1.6"/><circle cx="85.01" cy="860.36" r="2.83"/><circle cx="83.67" cy="855.29" r="2.25"/><circle cx="80.81" cy="854.56" r="2.23"/><circle cx="42.02" cy="890.93" r="1.51"/><circle cx="82.72" cy="901.94" r="2.77"/><circle cx="55.77" cy="879.29" r="1.71"/><circle cx="63.14" cy="895.83" r="2.73"/><circle cx="40.62" cy="871.52" r="2.46"/><circle cx="51.86" cy="892.75" r="2.84"/><circle cx="77.27" cy="870.62" r="2.77"/><circle cx="74.67" cy="861.9" r="1.92"/><circle cx="50.76" cy="894.56" r="2.26"/><circle cx="87.09" cy="893.49" r="2.96"/><circle cx="52.88" cy="872.81" r="2.81"/><circle cx="91.49" cy="871.86" r="2.48"/><circle cx="53.18" cy="860.56" r="1.58"/><circle cx="65.67" cy="864.29" r="2.28"/><circle cx="105.54" cy="860.11" r="2.34"/><circle cx="98.45" cy="882.49" r="2.29"/><circle cx="91.9" cy="853.53" r="2.92"/><circle cx="86.41" cy="892.95" r="2.74"/><circle cx="46.66" cy="855.78" r="1.77"/><circle cx="74.12" cy="899.57" r="2.86"/><circle cx="67.85" cy="883.7" r="2.61"/></g><g fill="#6e4aa0"><circle cx="62.47" cy="901.18" r="2.42"/><circle cx="89.14" cy="897.71" r="2.24"/><circle cx="84.09" cy="868.58" r="1.57"/><circle cx="56.12" cy="855.32" r="2.4"/><circle cx="60.17" cy="853.63" r="1.61"/><circle cx="46.97" cy="874.79" r="1.63"/><circle cx="51.86" cy="876.38" r="1.74"/><circle cx="63.93" cy="893.29" r="1.6"/><circle cx="76.59" cy="896.53" r="2.45"/><circle cx="65.33" cy="854.47" r="2.44"/><circle cx="74.76" cy="863.36" r="1.37"/><circle cx="56.16" cy="868.03" r="1.38"/><circle cx="43.31" cy="902.39" r="2.27"/><circle cx="47.66" cy="876.58" r="2.24"/><circle cx="74.1" cy="855.91" r="1.64"/><circle cx="65.73" cy="898.37" r="1.96"/><circle cx="71.03" cy="884.11" r="1.26"/><circle cx="86.39" cy="893.02" r="2.07"/><circle cx="64.4" cy="866.8" r="1.21"/><circle cx="45.54" cy="860.2" r="1.79"/><circle cx="92.61" cy="863.34" r="1.81"/><circle cx="82.99" cy="884.05" r="1.23"/><circle cx="102.23" cy="881.83" r="1.59"/><circle cx="56.18" cy="887.04" r="2.41"/><circle cx="62.8" cy="872.43" r="1.92"/><circle cx="51.83" cy="872.82" r="2.39"/><circle cx="77.61" cy="893.78" r="1.54"/><circle cx="98.72" cy="891.75" r="1.49"/><circle cx="75.83" cy="886.69" r="1.94"/><circle cx="80.69" cy="864.49" r="1.92"/><circle cx="63.97" cy="892.52" r="1.68"/><circle cx="106.21" cy="881.59" r="1.5"/><circle cx="68.1" cy="858.87" r="2.16"/><circle cx="43.11" cy="882.82" r="1.6"/><circle cx="92.53" cy="858.8" r="2.08"/><circle cx="88.27" cy="864.14" r="1.37"/><circle cx="65.18" cy="885.03" r="1.54"/><circle cx="40.59" cy="874.61" r="2.25"/><circle cx="50.67" cy="899.69" r="1.86"/><circle cx="50.85" cy="857.46" r="1.68"/><circle cx="72.2" cy="861.26" r="1.31"/><circle cx="73.89" cy="865.19" r="1.78"/><circle cx="70.47" cy="887.46" r="1.95"/><circle cx="55.43" cy="861.46" r="2.32"/><circle cx="43.41" cy="858.62" r="1.29"/><circle cx="95.86" cy="879.61" r="2.4"/><circle cx="82.34" cy="869.28" r="1.76"/><circle cx="89.51" cy="864.05" r="2.24"/><circle cx="67.55" cy="854.55" r="1.65"/><circle cx="77.88" cy="859.8" r="2.38"/><circle cx="102.61" cy="878.12" r="2.38"/><circle cx="86.64" cy="879.46" r="1.41"/><circle cx="104.41" cy="898.63" r="1.79"/><circle cx="66.02" cy="856.13" r="2"/><circle cx="97.79" cy="871.97" r="1.58"/><circle cx="81.43" cy="892.29" r="1.42"/><circle cx="59.09" cy="884.7" r="1.25"/><circle cx="95.22" cy="868.28" r="2.28"/><circle cx="70.75" cy="860.75" r="1.23"/><circle cx="47.66" cy="865.51" r="2.18"/><circle cx="93.68" cy="884.14" r="1.6"/><circle cx="84.89" cy="889.23" r="1.68"/><circle cx="45.51" cy="875.99" r="1.49"/><circle cx="52.75" cy="872.05" r="1.3"/><circle cx="100.7" cy="866.54" r="2.37"/><circle cx="89.85" cy="852.98" r="2.37"/><circle cx="94.72" cy="878.83" r="2.35"/><circle cx="72.34" cy="853.7" r="1.39"/><circle cx="60.99" cy="895.53" r="2.28"/><circle cx="47.97" cy="870.01" r="1.35"/></g><path d="M67.95 852.43 L77.7 852.43 L74.45 902.67 L65.35 902.67z" fill="#a48ac8"/><path d="M71.85 852.43 L70.55 877.55 L69.9 902.67" stroke="#bca8da" stroke-width="1.2" fill="none" stroke-linejoin="round" stroke-linecap="round"/><ellipse cx="51.7" cy="882.38" rx="4.5" ry="3" fill="#b8a2d6" transform="rotate(0 51.7 882.38)"/><ellipse cx="92" cy="862.09" rx="4.2" ry="2.4" fill="#b8a2d6" transform="rotate(0 92 862.09)"/><ellipse cx="94.6" cy="885.28" rx="4.6" ry="3.2" fill="#b8a2d6" transform="rotate(0 94.6 885.28)"/><path d="M44.55 860.64 L57.55 870.3 L68.6 879.97" stroke="#ac92ce" stroke-width="0.9" fill="none" stroke-linejoin="round" stroke-linecap="round"/><path d="M103.05 858.23 L90.05 870.3 L77.05 877.55" stroke="#ac92ce" stroke-width="0.9" fill="none" stroke-linejoin="round" stroke-linecap="round"/><g fill="#56308c"><circle cx="55.44" cy="870.12" r="0.57"/><circle cx="50.13" cy="885.47" r="0.5"/><circle cx="100.17" cy="876.62" r="0.57"/><circle cx="91.77" cy="869.76" r="0.5"/><circle cx="48.29" cy="867.24" r="0.49"/><circle cx="89.7" cy="870.26" r="0.68"/><circle cx="58.63" cy="855.94" r="0.52"/><circle cx="66.54" cy="898.15" r="0.48"/><circle cx="54.31" cy="860.27" r="0.5"/><circle cx="104.92" cy="899.24" r="0.49"/><circle cx="43.37" cy="876.87" r="0.63"/><circle cx="47.55" cy="873.44" r="0.71"/><circle cx="40.09" cy="888.53" r="0.67"/><circle cx="93.16" cy="876.89" r="0.59"/><circle cx="75.05" cy="859.28" r="0.61"/><circle cx="56.19" cy="868.56" r="0.42"/><circle cx="50.71" cy="855.21" r="0.62"/><circle cx="55.97" cy="880.34" r="0.6"/><circle cx="55.75" cy="858.82" r="0.64"/><circle cx="85.74" cy="887.11" r="0.6"/><circle cx="79.21" cy="853.66" r="0.52"/><circle cx="94.12" cy="871.38" r="0.44"/><circle cx="68.45" cy="894.33" r="0.44"/><circle cx="47.56" cy="877.46" r="0.75"/><circle cx="66.39" cy="864.89" r="0.71"/><circle cx="46.38" cy="867.27" r="0.64"/><circle cx="97.42" cy="895.69" r="0.53"/><circle cx="58" cy="870.69" r="0.45"/><circle cx="58.43" cy="890.94" r="0.79"/><circle cx="58.27" cy="856.07" r="0.7"/><circle cx="105.31" cy="892.33" r="0.57"/><circle cx="90.3" cy="890.64" r="0.7"/><circle cx="73.31" cy="902.61" r="0.71"/><circle cx="55.89" cy="874.07" r="0.44"/><circle cx="65.33" cy="893.49" r="0.59"/><circle cx="75.44" cy="891.57" r="0.43"/><circle cx="63.91" cy="876.72" r="0.6"/><circle cx="86.29" cy="899.5" r="0.72"/><circle cx="76.88" cy="886.79" r="0.62"/><circle cx="106.67" cy="882.4" r="0.64"/><circle cx="66.76" cy="873.5" r="0.71"/><circle cx="65.21" cy="897.83" r="0.69"/><circle cx="104.57" cy="887.93" r="0.63"/><circle cx="64.8" cy="853.34" r="0.66"/><circle cx="90.79" cy="888.76" r="0.7"/><circle cx="42.42" cy="886.8" r="0.51"/><circle cx="66.27" cy="896.06" r="0.56"/><circle cx="71.56" cy="854.98" r="0.47"/><circle cx="54.21" cy="863.24" r="0.61"/><circle cx="43.22" cy="856.91" r="0.43"/><circle cx="89.59" cy="901.18" r="0.7"/><circle cx="74.81" cy="858.99" r="0.71"/><circle cx="48.75" cy="856.29" r="0.6"/><circle cx="98.3" cy="868.04" r="0.75"/><circle cx="62.45" cy="900.98" r="0.7"/><circle cx="98.47" cy="901.89" r="0.73"/><circle cx="53.27" cy="878.35" r="0.62"/><circle cx="88.83" cy="863.97" r="0.63"/><circle cx="59.21" cy="861.69" r="0.58"/><circle cx="94.32" cy="880.25" r="0.54"/><circle cx="55.27" cy="870.46" r="0.56"/><circle cx="58.37" cy="868.06" r="0.49"/><circle cx="59.88" cy="886.26" r="0.65"/><circle cx="82.36" cy="898.84" r="0.67"/><circle cx="48.79" cy="872.71" r="0.61"/><circle cx="90.45" cy="879.07" r="0.44"/><circle cx="72.18" cy="885.34" r="0.71"/><circle cx="70.14" cy="863.17" r="0.41"/><circle cx="74.01" cy="890.1" r="0.44"/><circle cx="75.35" cy="882.42" r="0.62"/><circle cx="55.66" cy="857.06" r="0.41"/><circle cx="60.64" cy="897.48" r="0.57"/><circle cx="106.72" cy="893.85" r="0.63"/><circle cx="69.74" cy="880.68" r="0.74"/><circle cx="62.6" cy="860.28" r="0.76"/><circle cx="82.66" cy="871.41" r="0.56"/><circle cx="46.84" cy="880.93" r="0.71"/><circle cx="73.71" cy="887.46" r="0.7"/><circle cx="62.37" cy="884.47" r="0.79"/><circle cx="88.37" cy="861.63" r="0.67"/><circle cx="83.58" cy="891.39" r="0.68"/><circle cx="101.69" cy="901.47" r="0.48"/><circle cx="72.42" cy="854.72" r="0.79"/><circle cx="47.21" cy="873.85" r="0.65"/><circle cx="69.01" cy="861.05" r="0.6"/><circle cx="55.1" cy="877.05" r="0.69"/><circle cx="60.22" cy="874.87" r="0.65"/><circle cx="75.95" cy="892.66" r="0.76"/><circle cx="105.37" cy="860.73" r="0.59"/><circle cx="47.98" cy="887.52" r="0.56"/><circle cx="97.43" cy="876.72" r="0.72"/><circle cx="42.08" cy="883.23" r="0.57"/><circle cx="96.3" cy="857.62" r="0.44"/><circle cx="86.49" cy="868.82" r="0.57"/><circle cx="67.32" cy="901.94" r="0.65"/><circle cx="96.29" cy="894.59" r="0.74"/><circle cx="70.23" cy="867.01" r="0.61"/><circle cx="100.46" cy="896.8" r="0.59"/><circle cx="101.3" cy="890.73" r="0.42"/><circle cx="82.83" cy="892.3" r="0.42"/><circle cx="65.52" cy="884.85" r="0.6"/><circle cx="75.83" cy="856.96" r="0.5"/><circle cx="98.73" cy="869.98" r="0.59"/><circle cx="79.91" cy="866.63" r="0.57"/><circle cx="74.18" cy="896.08" r="0.74"/><circle cx="51.96" cy="877.71" r="0.7"/><circle cx="100.61" cy="879.09" r="0.65"/><circle cx="83.64" cy="885.97" r="0.76"/><circle cx="106.62" cy="902.23" r="0.45"/><circle cx="88.45" cy="871.92" r="0.51"/><circle cx="46.75" cy="898.18" r="0.76"/><circle cx="75.74" cy="877.43" r="0.48"/><circle cx="102.68" cy="890.48" r="0.47"/><circle cx="78.8" cy="902.46" r="0.51"/><circle cx="65.23" cy="870.68" r="0.55"/><circle cx="47.94" cy="883.99" r="0.5"/><circle cx="86" cy="875.94" r="0.74"/><circle cx="90.47" cy="895.55" r="0.46"/><circle cx="93.71" cy="891.34" r="0.52"/><circle cx="40.06" cy="857.42" r="0.71"/><circle cx="105.44" cy="855.82" r="0.5"/><circle cx="67.19" cy="855.86" r="0.66"/><circle cx="97.99" cy="894.74" r="0.47"/><circle cx="101.55" cy="891.89" r="0.46"/><circle cx="97.69" cy="899.18" r="0.75"/><circle cx="90.77" cy="893.46" r="0.61"/><circle cx="40.59" cy="886.53" r="0.6"/><circle cx="50.03" cy="859.14" r="0.75"/><circle cx="101.12" cy="855" r="0.41"/><circle cx="87.17" cy="867.08" r="0.75"/><circle cx="71.25" cy="888.21" r="0.42"/><circle cx="92.49" cy="862.45" r="0.57"/><circle cx="72.85" cy="868.75" r="0.5"/><circle cx="70.26" cy="855.03" r="0.46"/><circle cx="48.8" cy="895.33" r="0.52"/><circle cx="106.51" cy="897.67" r="0.47"/><circle cx="97.86" cy="902.01" r="0.58"/><circle cx="72.66" cy="886.3" r="0.6"/><circle cx="57.78" cy="889.23" r="0.49"/><circle cx="65.98" cy="853.57" r="0.53"/><circle cx="94.5" cy="859.37" r="0.48"/><circle cx="66.73" cy="867.38" r="0.4"/><circle cx="43.68" cy="862.53" r="0.72"/><circle cx="92.49" cy="892.93" r="0.68"/><circle cx="107.48" cy="865.39" r="0.68"/><circle cx="70.38" cy="900.68" r="0.58"/><circle cx="88.93" cy="891.4" r="0.79"/><circle cx="91.71" cy="868.89" r="0.66"/><circle cx="93.85" cy="899.63" r="0.5"/><circle cx="89.37" cy="888.67" r="0.46"/><circle cx="48.05" cy="880.67" r="0.64"/><circle cx="62.22" cy="883.49" r="0.46"/><circle cx="78.7" cy="879.29" r="0.73"/><circle cx="88.69" cy="856.43" r="0.62"/><circle cx="48.58" cy="878.88" r="0.67"/><circle cx="87.6" cy="852.9" r="0.61"/><circle cx="51.81" cy="877.89" r="0.6"/><circle cx="73.01" cy="890.79" r="0.52"/><circle cx="72.21" cy="864.8" r="0.48"/><circle cx="82.71" cy="860.39" r="0.72"/><circle cx="65.32" cy="858.13" r="0.71"/><circle cx="41.43" cy="867.27" r="0.66"/><circle cx="41.07" cy="887.66" r="0.62"/><circle cx="105.98" cy="868.13" r="0.73"/><circle cx="106.28" cy="877.5" r="0.43"/><circle cx="63.08" cy="893.31" r="0.4"/><circle cx="82.81" cy="878.59" r="0.7"/><circle cx="65.03" cy="899.44" r="0.45"/><circle cx="68.16" cy="867.81" r="0.62"/><circle cx="54.69" cy="871.87" r="0.58"/><circle cx="102.38" cy="853.85" r="0.51"/><circle cx="49.99" cy="888.35" r="0.71"/><circle cx="41.1" cy="891.77" r="0.75"/><circle cx="71.3" cy="882.35" r="0.72"/><circle cx="102.68" cy="863.76" r="0.68"/><circle cx="45.34" cy="870.74" r="0.76"/><circle cx="82.45" cy="879.24" r="0.58"/><circle cx="70.85" cy="853.99" r="0.62"/><circle cx="103.62" cy="858.38" r="0.41"/><circle cx="82.24" cy="893.76" r="0.57"/><circle cx="45.67" cy="884.82" r="0.66"/><circle cx="55.7" cy="893.31" r="0.62"/><circle cx="93.16" cy="864.25" r="0.54"/><circle cx="84.8" cy="886.01" r="0.74"/><circle cx="103.76" cy="888.62" r="0.4"/><circle cx="71.48" cy="885.9" r="0.71"/><circle cx="61.24" cy="855.46" r="0.63"/><circle cx="53.05" cy="878.38" r="0.49"/><circle cx="99.39" cy="853.95" r="0.62"/><circle cx="99.4" cy="884.71" r="0.46"/><circle cx="77.02" cy="893.92" r="0.65"/><circle cx="101.26" cy="893.38" r="0.55"/><circle cx="48.36" cy="887.15" r="0.59"/><circle cx="95.29" cy="874.78" r="0.69"/><circle cx="49.73" cy="890.41" r="0.75"/><circle cx="94.76" cy="891.38" r="0.67"/><circle cx="51.54" cy="868.98" r="0.51"/><circle cx="59.74" cy="881.8" r="0.55"/><circle cx="84.51" cy="897.2" r="0.8"/><circle cx="40.26" cy="883.06" r="0.63"/><circle cx="69.22" cy="889.35" r="0.75"/><circle cx="56.57" cy="884.37" r="0.46"/><circle cx="69.76" cy="870.23" r="0.73"/><circle cx="101.55" cy="896.15" r="0.61"/><circle cx="88.01" cy="885.12" r="0.62"/><circle cx="49.21" cy="865.95" r="0.78"/><circle cx="80.23" cy="858.22" r="0.54"/><circle cx="49.04" cy="858.73" r="0.55"/><circle cx="59.73" cy="853.38" r="0.6"/><circle cx="102.78" cy="875.67" r="0.56"/><circle cx="65.79" cy="865.81" r="0.53"/><circle cx="53.14" cy="873.99" r="0.77"/><circle cx="64.72" cy="896.64" r="0.6"/><circle cx="83.02" cy="876.64" r="0.56"/><circle cx="99.84" cy="882.12" r="0.48"/><circle cx="60.74" cy="872.18" r="0.63"/><circle cx="65.5" cy="865.77" r="0.52"/><circle cx="107.16" cy="889.58" r="0.75"/><circle cx="100.5" cy="859.55" r="0.61"/><circle cx="88.94" cy="876.9" r="0.61"/><circle cx="82.76" cy="884.22" r="0.47"/><circle cx="43.67" cy="866.12" r="0.41"/><circle cx="60.91" cy="854.38" r="0.44"/><circle cx="84.4" cy="862.24" r="0.69"/><circle cx="68.34" cy="894.43" r="0.62"/><circle cx="98.92" cy="873.78" r="0.57"/><circle cx="102.77" cy="886.84" r="0.57"/><circle cx="98.91" cy="889.04" r="0.66"/><circle cx="41.86" cy="897.08" r="0.44"/><circle cx="41.13" cy="869.46" r="0.48"/><circle cx="56.3" cy="876.82" r="0.6"/><circle cx="85.97" cy="895.91" r="0.68"/><circle cx="98.56" cy="874.07" r="0.46"/><circle cx="88.02" cy="902.43" r="0.47"/><circle cx="81.49" cy="871.87" r="0.79"/><circle cx="42.21" cy="876.45" r="0.54"/><circle cx="64.96" cy="889.77" r="0.4"/><circle cx="58.62" cy="901.01" r="0.58"/><circle cx="40.93" cy="883.5" r="0.66"/><circle cx="102.77" cy="896.88" r="0.78"/><circle cx="57.9" cy="868.4" r="0.68"/><circle cx="63.39" cy="871.31" r="0.42"/><circle cx="53.41" cy="859.15" r="0.55"/><circle cx="87.37" cy="862.17" r="0.52"/><circle cx="45.58" cy="872.89" r="0.64"/><circle cx="80.62" cy="884.91" r="0.61"/><circle cx="87.04" cy="892.65" r="0.74"/><circle cx="40.05" cy="899.17" r="0.59"/><circle cx="107.12" cy="890.73" r="0.58"/><circle cx="43.07" cy="857.31" r="0.71"/><circle cx="40.46" cy="854.96" r="0.68"/><circle cx="81.04" cy="886.4" r="0.43"/><circle cx="104.79" cy="890.06" r="0.4"/><circle cx="78.52" cy="868.83" r="0.49"/><circle cx="81.5" cy="901.81" r="0.41"/><circle cx="94.4" cy="899.25" r="0.43"/><circle cx="100.66" cy="853.16" r="0.53"/><circle cx="41.58" cy="861.36" r="0.47"/><circle cx="77.97" cy="874.31" r="0.79"/><circle cx="91.05" cy="856.19" r="0.43"/><circle cx="58.85" cy="893.37" r="0.72"/><circle cx="96.67" cy="895.93" r="0.69"/><circle cx="77.81" cy="894.7" r="0.73"/><circle cx="95.27" cy="896.61" r="0.61"/><circle cx="45.87" cy="883.81" r="0.68"/><circle cx="104.14" cy="889.96" r="0.76"/><circle cx="101.7" cy="868.9" r="0.77"/><circle cx="78.48" cy="874.21" r="0.58"/><circle cx="73.56" cy="873.25" r="0.69"/><circle cx="57.33" cy="874.33" r="0.66"/><circle cx="105.6" cy="889.13" r="0.62"/><circle cx="65.34" cy="885.6" r="0.77"/><circle cx="41.19" cy="871.85" r="0.51"/><circle cx="92.42" cy="885.94" r="0.4"/><circle cx="100.63" cy="872.94" r="0.46"/><circle cx="46.68" cy="856.02" r="0.5"/><circle cx="45.55" cy="887.85" r="0.46"/><circle cx="69.24" cy="885.46" r="0.58"/><circle cx="59.7" cy="875.2" r="0.58"/><circle cx="79.12" cy="882.06" r="0.53"/><circle cx="86.02" cy="895.34" r="0.79"/><circle cx="81.84" cy="867.21" r="0.4"/><circle cx="69.05" cy="902.16" r="0.8"/><circle cx="87.93" cy="862.17" r="0.48"/><circle cx="50.47" cy="874.19" r="0.78"/><circle cx="54.09" cy="893.44" r="0.62"/><circle cx="58.06" cy="875.22" r="0.42"/><circle cx="82.89" cy="897.85" r="0.53"/><circle cx="105.55" cy="866.95" r="0.54"/><circle cx="86.99" cy="863.19" r="0.41"/><circle cx="73.77" cy="877.08" r="0.46"/><circle cx="51.75" cy="858.12" r="0.48"/><circle cx="50.15" cy="885.11" r="0.76"/><circle cx="80.43" cy="863.91" r="0.62"/><circle cx="104.55" cy="870.47" r="0.69"/><circle cx="40.36" cy="890.9" r="0.74"/><circle cx="76.72" cy="897.43" r="0.64"/><circle cx="92.88" cy="877.05" r="0.55"/><circle cx="58.36" cy="880.61" r="0.71"/><circle cx="42.36" cy="886.13" r="0.41"/></g><g fill="#b49cd4"><circle cx="83.52" cy="888.38" r="0.95"/><circle cx="84.13" cy="885.16" r="0.81"/><circle cx="85.53" cy="887.29" r="0.81"/><circle cx="97.28" cy="870.37" r="0.97"/><circle cx="53.02" cy="854.67" r="0.43"/><circle cx="77.08" cy="895.46" r="0.47"/><circle cx="99.84" cy="877.52" r="0.8"/><circle cx="51.15" cy="902.31" r="0.68"/><circle cx="56.22" cy="883.72" r="0.43"/><circle cx="83.96" cy="894.57" r="0.47"/><circle cx="57.1" cy="866.21" r="0.52"/><circle cx="81.93" cy="893.36" r="0.67"/><circle cx="87" cy="898" r="0.89"/><circle cx="65.67" cy="897.37" r="0.51"/><circle cx="95.64" cy="856.71" r="0.59"/><circle cx="46.98" cy="880.76" r="0.47"/><circle cx="81.07" cy="860.81" r="0.8"/><circle cx="73.51" cy="868.1" r="0.48"/><circle cx="91.2" cy="862.13" r="0.6"/><circle cx="102.11" cy="896.66" r="0.83"/><circle cx="83.09" cy="894.77" r="0.9"/><circle cx="96.2" cy="890.23" r="0.65"/><circle cx="91.2" cy="872.24" r="0.74"/><circle cx="41.73" cy="860.3" r="0.8"/><circle cx="45.76" cy="857.41" r="0.92"/><circle cx="100.61" cy="901.32" r="0.87"/><circle cx="60.31" cy="882.85" r="0.71"/><circle cx="45.59" cy="860.42" r="0.77"/><circle cx="68.65" cy="881.33" r="0.95"/><circle cx="44.9" cy="860.37" r="0.99"/><circle cx="47.87" cy="870.94" r="0.73"/><circle cx="57.97" cy="871.73" r="0.5"/><circle cx="94.71" cy="863.77" r="0.83"/><circle cx="71.04" cy="877.8" r="0.45"/><circle cx="99.9" cy="853.18" r="0.92"/><circle cx="41.24" cy="871.63" r="0.67"/><circle cx="81.32" cy="865.77" r="1"/><circle cx="63.29" cy="863.47" r="0.84"/><circle cx="84.48" cy="882.94" r="0.97"/><circle cx="99.67" cy="867.78" r="0.94"/><circle cx="100.29" cy="855.24" r="0.71"/><circle cx="98.67" cy="872.64" r="0.6"/><circle cx="72.84" cy="894.84" r="0.41"/><circle cx="84.44" cy="887.99" r="0.97"/><circle cx="83.7" cy="865.85" r="0.79"/><circle cx="89.38" cy="858.92" r="0.87"/><circle cx="80.57" cy="882.1" r="0.79"/><circle cx="81.76" cy="859.93" r="0.49"/><circle cx="40.18" cy="868.4" r="0.53"/><circle cx="80.24" cy="857.3" r="0.48"/><circle cx="75.03" cy="891.96" r="0.69"/><circle cx="43.86" cy="899.06" r="0.74"/><circle cx="101.83" cy="890.17" r="0.94"/><circle cx="95.45" cy="890.01" r="0.92"/><circle cx="85.51" cy="901.32" r="0.95"/><circle cx="51.22" cy="876.49" r="0.97"/><circle cx="85.77" cy="883.51" r="0.65"/><circle cx="45.63" cy="873.78" r="0.4"/><circle cx="51.23" cy="875.5" r="0.67"/><circle cx="82.84" cy="882.14" r="0.86"/><circle cx="78.43" cy="892.33" r="0.42"/><circle cx="71.31" cy="899.65" r="0.85"/><circle cx="96.28" cy="901.16" r="0.5"/><circle cx="73.21" cy="896.89" r="0.59"/><circle cx="74.93" cy="861.86" r="0.44"/><circle cx="101.46" cy="889.44" r="0.87"/><circle cx="100.5" cy="880.39" r="0.9"/><circle cx="92.64" cy="875.38" r="0.68"/><circle cx="53.8" cy="874.53" r="0.91"/><circle cx="42.24" cy="900.01" r="0.52"/><circle cx="74.13" cy="867.36" r="0.42"/><circle cx="81.87" cy="861.51" r="0.64"/><circle cx="96.34" cy="875.11" r="0.61"/><circle cx="49.19" cy="853.32" r="0.89"/><circle cx="72.81" cy="867.73" r="0.85"/><circle cx="75.67" cy="863.93" r="0.98"/><circle cx="67.71" cy="869.12" r="0.99"/><circle cx="68.27" cy="875.89" r="0.9"/><circle cx="83.8" cy="865" r="0.43"/><circle cx="44.37" cy="859.72" r="0.85"/><circle cx="65.32" cy="879.14" r="0.57"/><circle cx="42.78" cy="901.94" r="0.8"/><circle cx="86.54" cy="884.07" r="0.43"/><circle cx="95.65" cy="896.16" r="0.54"/><circle cx="98.02" cy="900.86" r="0.5"/><circle cx="101.61" cy="854.67" r="0.85"/><circle cx="106" cy="859.56" r="0.67"/><circle cx="41.33" cy="879.24" r="0.43"/><circle cx="73.25" cy="861.88" r="0.51"/><circle cx="85.17" cy="864.41" r="0.49"/><circle cx="59.42" cy="871.41" r="0.8"/><circle cx="79.29" cy="881.54" r="0.82"/><circle cx="58.33" cy="886.61" r="0.44"/><circle cx="46.35" cy="880.87" r="0.79"/><circle cx="58.72" cy="901.83" r="0.47"/><circle cx="94.88" cy="879.76" r="0.76"/><circle cx="68.81" cy="855.54" r="0.66"/><circle cx="86.06" cy="889.73" r="0.89"/><circle cx="60.39" cy="878.18" r="0.47"/><circle cx="69.26" cy="873.53" r="0.88"/><circle cx="46.34" cy="854.92" r="0.77"/><circle cx="93.55" cy="856.09" r="0.81"/><circle cx="50.16" cy="895.34" r="0.78"/><circle cx="53.78" cy="871.41" r="0.9"/><circle cx="104.21" cy="854.23" r="0.66"/><circle cx="47.82" cy="900.87" r="0.97"/><circle cx="68.37" cy="895.09" r="0.55"/><circle cx="97" cy="861.59" r="0.58"/><circle cx="75.76" cy="889.76" r="0.68"/><circle cx="47.26" cy="854.1" r="0.5"/><circle cx="59.13" cy="885.13" r="0.51"/><circle cx="101.54" cy="885.02" r="0.59"/><circle cx="78.76" cy="894.91" r="0.55"/><circle cx="84.99" cy="884.61" r="0.9"/><circle cx="84.75" cy="855.52" r="0.92"/><circle cx="54.41" cy="883.1" r="0.47"/><circle cx="93.28" cy="893.92" r="0.88"/><circle cx="87.31" cy="898.29" r="0.72"/><circle cx="97.75" cy="866.54" r="0.48"/><circle cx="55.67" cy="872.56" r="0.87"/></g><g fill="#d8cce8"><circle cx="92.23" cy="867.64" r="0.62"/><circle cx="100.66" cy="872.19" r="0.59"/><circle cx="59.78" cy="872.16" r="0.42"/><circle cx="61.59" cy="856.43" r="0.49"/><circle cx="93.85" cy="861.69" r="0.42"/><circle cx="101.1" cy="869.93" r="0.44"/><circle cx="51.32" cy="854.2" r="0.66"/><circle cx="89.07" cy="900.9" r="0.66"/><circle cx="82.21" cy="900.02" r="0.44"/><circle cx="89.06" cy="893.2" r="0.4"/><circle cx="102.3" cy="901.34" r="0.43"/><circle cx="51.22" cy="857.8" r="0.42"/><circle cx="63.1" cy="892.61" r="0.43"/><circle cx="55.44" cy="886.62" r="0.63"/><circle cx="40.29" cy="892.08" r="0.59"/><circle cx="61.12" cy="875.98" r="0.37"/><circle cx="69.7" cy="852.56" r="0.61"/><circle cx="74.96" cy="861.18" r="0.42"/><circle cx="79.56" cy="867.01" r="0.62"/><circle cx="79.65" cy="891.07" r="0.39"/><circle cx="53.83" cy="899.79" r="0.6"/><circle cx="68.75" cy="902.63" r="0.37"/><circle cx="80.91" cy="858.93" r="0.46"/><circle cx="54" cy="872.11" r="0.37"/><circle cx="52.1" cy="886.52" r="0.41"/></g></g></g>
<line x1="98.3" y1="899.5" x2="103.8" y2="899.5" stroke="#fff" stroke-width="0.9"/>
<clipPath id="c23"><rect x="114" y="796.3" width="65.5" height="48.2"/></clipPath>
<g clip-path="url(#c23)"><g filter="url(#tb)"><rect x="112" y="794.3" width="69.5" height="52.2" fill="#a8b6d8"/><path d="M112.69 795.34 L120.55 795.34 L124.48 802.08 L129.06 810.76 L133 820.4 L136.27 832.45 L138.24 845.46 L112.69 845.46z" fill="#76301a"/><path d="M144.78 795.34 L180.81 795.34 L180.81 845.46 L146.75 845.46 L142.16 834.86 L138.89 822.81 L138.89 810.76 L142.16 803.53 L146.75 801.12z" fill="#76301a"/><path d="M128.41 795.34 L142.82 795.34 L142.16 799.67 L137.58 802.08 L132.34 800.16z" fill="#76301a"/><g fill="#8a4426"><circle cx="175.69" cy="842.89" r="2.27"/><circle cx="118.38" cy="825.01" r="1.71"/><circle cx="148.8" cy="801.87" r="1.43"/><circle cx="142.97" cy="806.42" r="1.75"/><circle cx="114.38" cy="799.64" r="2.05"/><circle cx="141.39" cy="821.03" r="2.08"/><circle cx="137.14" cy="798.22" r="2.14"/><circle cx="152.82" cy="828.32" r="1.95"/><circle cx="178.82" cy="813.52" r="2.11"/><circle cx="157.69" cy="811.1" r="1.3"/><circle cx="144.98" cy="831.32" r="1.91"/><circle cx="143.17" cy="827.54" r="1.42"/><circle cx="124.85" cy="811.55" r="2.18"/><circle cx="119.41" cy="797.29" r="1.53"/><circle cx="151.71" cy="836.47" r="1.6"/><circle cx="133.45" cy="834.31" r="1.86"/><circle cx="166.08" cy="830.78" r="2.19"/><circle cx="128.9" cy="822.68" r="2.3"/><circle cx="153.06" cy="842.73" r="1.4"/><circle cx="179.11" cy="798.14" r="1.7"/><circle cx="114.28" cy="835.92" r="2.02"/><circle cx="179.02" cy="835.69" r="2.34"/><circle cx="149.38" cy="844.87" r="2.1"/><circle cx="136.27" cy="844.18" r="1.65"/><circle cx="144.43" cy="805.19" r="2.32"/><circle cx="177.43" cy="806.16" r="1.32"/><circle cx="148.72" cy="803.84" r="1.85"/><circle cx="168.06" cy="808.02" r="1.71"/><circle cx="174.06" cy="817.63" r="1.61"/><circle cx="173.48" cy="836.13" r="2.27"/><circle cx="159.54" cy="816.02" r="2.03"/><circle cx="169.22" cy="827.39" r="1.49"/><circle cx="165.26" cy="823.26" r="1.86"/><circle cx="168.99" cy="800.77" r="1.96"/><circle cx="169.59" cy="807.79" r="2.34"/><circle cx="118.04" cy="823.51" r="1.85"/><circle cx="128.7" cy="823.45" r="1.76"/><circle cx="143.32" cy="831.35" r="1.2"/><circle cx="122.35" cy="838.82" r="1.44"/><circle cx="159.09" cy="804.02" r="1.74"/><circle cx="141.47" cy="799.44" r="2.04"/><circle cx="145.4" cy="829.87" r="1.85"/><circle cx="150.56" cy="821.71" r="1.56"/><circle cx="173.91" cy="799.67" r="2.25"/><circle cx="171.51" cy="820.29" r="2.13"/><circle cx="158.56" cy="825.67" r="1.55"/><circle cx="133.27" cy="843.44" r="1.61"/><circle cx="139.09" cy="816.37" r="2.18"/><circle cx="145.23" cy="823.09" r="1.51"/><circle cx="127.49" cy="808.56" r="2.22"/><circle cx="146.92" cy="800.87" r="1.76"/><circle cx="120.93" cy="823.71" r="1.73"/><circle cx="171.16" cy="808.33" r="2.22"/><circle cx="129.56" cy="844.59" r="1.96"/><circle cx="115.6" cy="835.8" r="1.53"/><circle cx="169.74" cy="799.87" r="2.09"/><circle cx="132.65" cy="799.26" r="2.3"/><circle cx="157.29" cy="803.84" r="2.37"/><circle cx="174.8" cy="804.49" r="1.22"/><circle cx="154.31" cy="802.31" r="2.08"/></g><g fill="#3e1404"><circle cx="144.63" cy="830.88" r="0.78"/><circle cx="165.19" cy="836.52" r="0.8"/><circle cx="152.98" cy="811.72" r="0.57"/><circle cx="118.99" cy="838.29" r="0.6"/><circle cx="141.75" cy="811.21" r="0.81"/><circle cx="149.02" cy="838.4" r="0.72"/><circle cx="163.43" cy="841.73" r="0.66"/><circle cx="173.08" cy="844.53" r="0.99"/><circle cx="121.49" cy="814.39" r="0.89"/><circle cx="169.3" cy="797.32" r="0.7"/><circle cx="162.02" cy="833.35" r="0.77"/><circle cx="127.03" cy="815.73" r="0.53"/><circle cx="168.75" cy="824.88" r="0.71"/><circle cx="158.38" cy="817.67" r="0.59"/><circle cx="168.67" cy="824.19" r="0.98"/><circle cx="149.23" cy="826.57" r="0.71"/><circle cx="154.13" cy="841.4" r="0.99"/><circle cx="157.71" cy="816.9" r="0.53"/><circle cx="169.92" cy="814.96" r="0.69"/><circle cx="116.58" cy="797.05" r="0.7"/><circle cx="179.09" cy="832.46" r="0.85"/><circle cx="158.22" cy="809.01" r="0.58"/><circle cx="153.72" cy="798.52" r="0.79"/><circle cx="147.74" cy="822.53" r="0.56"/><circle cx="117.29" cy="819.06" r="0.57"/><circle cx="156.39" cy="810.85" r="0.81"/><circle cx="163.79" cy="825.74" r="0.77"/><circle cx="126.13" cy="812.74" r="0.99"/><circle cx="146.29" cy="822.7" r="0.9"/><circle cx="132.8" cy="843.6" r="0.51"/><circle cx="166.53" cy="823.9" r="0.95"/><circle cx="123.12" cy="829.89" r="0.97"/><circle cx="158.13" cy="800.97" r="0.96"/><circle cx="178.74" cy="800.89" r="0.91"/><circle cx="118.09" cy="799.41" r="0.9"/><circle cx="161.73" cy="843.32" r="0.82"/><circle cx="147.55" cy="808.97" r="0.79"/><circle cx="180.3" cy="827.75" r="0.94"/><circle cx="126.14" cy="832.18" r="0.87"/><circle cx="117.52" cy="836.45" r="0.59"/><circle cx="157.83" cy="802.47" r="0.99"/><circle cx="112.69" cy="835.91" r="0.88"/><circle cx="151.47" cy="824.01" r="0.9"/><circle cx="156.04" cy="802.32" r="0.9"/><circle cx="147.6" cy="840.65" r="0.71"/><circle cx="170.82" cy="799.44" r="0.66"/><circle cx="158.37" cy="826.01" r="0.92"/><circle cx="126.85" cy="835.65" r="0.9"/><circle cx="122.43" cy="802.35" r="0.79"/><circle cx="179.15" cy="826.1" r="0.71"/><circle cx="147.22" cy="835.92" r="0.76"/><circle cx="149.25" cy="825.08" r="0.97"/><circle cx="167.21" cy="837.4" r="0.63"/><circle cx="153.57" cy="836.6" r="0.86"/><circle cx="177.53" cy="841.21" r="0.56"/><circle cx="147.31" cy="813.27" r="0.6"/><circle cx="146.8" cy="844.64" r="0.88"/><circle cx="119.44" cy="807.75" r="0.68"/><circle cx="172.99" cy="818.37" r="0.58"/><circle cx="150.17" cy="807.73" r="0.52"/><circle cx="153.06" cy="845.01" r="0.89"/><circle cx="162.84" cy="802.99" r="0.78"/><circle cx="156.08" cy="833.39" r="0.72"/><circle cx="116.32" cy="841.84" r="0.63"/><circle cx="162.99" cy="818.61" r="0.89"/><circle cx="135.7" cy="799.97" r="0.71"/><circle cx="145.39" cy="835.07" r="0.7"/><circle cx="158.09" cy="814.2" r="0.87"/><circle cx="124.56" cy="839.45" r="0.97"/><circle cx="114.31" cy="838.37" r="0.89"/><circle cx="159.9" cy="800.64" r="0.87"/><circle cx="165.26" cy="826.73" r="0.98"/><circle cx="177.2" cy="827.1" r="0.96"/><circle cx="122.48" cy="810.29" r="0.76"/><circle cx="148.29" cy="843.1" r="0.82"/><circle cx="155.01" cy="826.48" r="0.97"/><circle cx="153.57" cy="815.51" r="0.67"/><circle cx="118.22" cy="819.67" r="0.68"/><circle cx="175.77" cy="834.46" r="0.83"/><circle cx="170.39" cy="809.1" r="0.56"/><circle cx="154.22" cy="806.74" r="0.99"/><circle cx="155.4" cy="830.07" r="0.63"/><circle cx="175.82" cy="844.12" r="0.84"/><circle cx="179.54" cy="844.62" r="0.57"/><circle cx="162.44" cy="832.73" r="0.87"/><circle cx="152.75" cy="837.94" r="0.53"/><circle cx="166.61" cy="801.18" r="0.53"/><circle cx="120.55" cy="801.15" r="0.72"/><circle cx="171.66" cy="813.14" r="0.55"/><circle cx="158.33" cy="812.01" r="0.79"/><circle cx="163.62" cy="818.19" r="0.87"/><circle cx="154.89" cy="838.03" r="0.88"/><circle cx="174.08" cy="832.75" r="0.64"/><circle cx="147.06" cy="834.05" r="0.89"/><circle cx="162.44" cy="837.6" r="0.91"/><circle cx="149.55" cy="827.44" r="0.52"/><circle cx="145.21" cy="831.77" r="0.96"/><circle cx="170.48" cy="817.36" r="0.61"/><circle cx="173.01" cy="828.28" r="0.6"/><circle cx="115.26" cy="839.35" r="0.79"/><circle cx="120.15" cy="844.96" r="0.79"/><circle cx="164.37" cy="835.76" r="0.63"/><circle cx="148.28" cy="803.97" r="0.81"/><circle cx="142.29" cy="834.94" r="0.56"/><circle cx="126.69" cy="814.74" r="0.5"/><circle cx="171.66" cy="804.36" r="0.92"/><circle cx="156.12" cy="810.08" r="0.6"/><circle cx="118.52" cy="804.2" r="0.6"/><circle cx="174.81" cy="797.44" r="0.77"/><circle cx="127.15" cy="831.44" r="0.5"/><circle cx="114.45" cy="815.96" r="0.66"/><circle cx="145.67" cy="826.85" r="0.54"/><circle cx="171.68" cy="808.87" r="0.89"/><circle cx="121.74" cy="800.04" r="0.6"/><circle cx="118.4" cy="807.76" r="0.57"/><circle cx="118.58" cy="838.04" r="0.76"/><circle cx="146.51" cy="820.81" r="0.91"/><circle cx="115.82" cy="797.61" r="0.83"/><circle cx="113.17" cy="820.69" r="0.81"/><circle cx="170.56" cy="795.37" r="0.7"/><circle cx="134.01" cy="824.42" r="0.52"/><circle cx="164.05" cy="843.31" r="0.77"/><circle cx="158.07" cy="837.2" r="0.92"/><circle cx="168.51" cy="819.76" r="0.54"/><circle cx="166.81" cy="837.63" r="0.85"/><circle cx="134.12" cy="844.21" r="0.81"/><circle cx="133.97" cy="834.74" r="0.61"/><circle cx="129.09" cy="840.71" r="0.53"/><circle cx="171.94" cy="815.23" r="0.79"/><circle cx="159.76" cy="840.58" r="0.61"/><circle cx="119.02" cy="821.01" r="0.61"/><circle cx="118.82" cy="823.78" r="0.53"/><circle cx="119.16" cy="835.72" r="0.95"/><circle cx="114.88" cy="835.78" r="0.59"/><circle cx="162.39" cy="798.38" r="0.87"/><circle cx="176.21" cy="808.32" r="0.58"/><circle cx="135.88" cy="838.44" r="0.89"/><circle cx="123.37" cy="840.54" r="0.87"/><circle cx="177.89" cy="844.1" r="0.58"/><circle cx="162.25" cy="796.56" r="0.6"/><circle cx="149.23" cy="807.03" r="0.61"/><circle cx="175.22" cy="824.47" r="0.78"/><circle cx="161.69" cy="804.78" r="0.9"/><circle cx="164.65" cy="836.15" r="0.73"/><circle cx="149.6" cy="799.09" r="0.73"/><circle cx="156.54" cy="842.95" r="0.95"/><circle cx="135.8" cy="833.25" r="0.93"/><circle cx="178.17" cy="829.45" r="0.66"/><circle cx="172.2" cy="796.15" r="0.78"/><circle cx="155" cy="805.39" r="0.58"/><circle cx="115.15" cy="833.04" r="0.89"/><circle cx="150.67" cy="805.14" r="0.76"/><circle cx="159.77" cy="807.8" r="0.67"/><circle cx="151.1" cy="842.55" r="0.58"/><circle cx="168.57" cy="804.42" r="0.86"/><circle cx="142.12" cy="824.01" r="0.75"/><circle cx="153.76" cy="804.33" r="0.81"/><circle cx="153.27" cy="815.78" r="0.99"/><circle cx="121.08" cy="829.92" r="0.55"/><circle cx="162.79" cy="799.76" r="0.65"/><circle cx="155.08" cy="796.38" r="0.72"/><circle cx="180.76" cy="831.82" r="0.69"/><circle cx="174.57" cy="823.87" r="0.91"/><circle cx="160.41" cy="833.48" r="0.85"/><circle cx="122.93" cy="816.46" r="0.66"/><circle cx="163.66" cy="802.43" r="0.68"/><circle cx="113.97" cy="830.66" r="0.81"/><circle cx="118.01" cy="842.97" r="1"/><circle cx="163.78" cy="835.73" r="0.85"/><circle cx="114.19" cy="809.03" r="0.62"/><circle cx="114.16" cy="827.33" r="0.8"/><circle cx="120.53" cy="807.13" r="0.93"/><circle cx="146.07" cy="832.27" r="0.93"/><circle cx="158.08" cy="813.44" r="0.98"/><circle cx="118.15" cy="816.04" r="0.94"/><circle cx="159.16" cy="813.06" r="0.91"/><circle cx="164.32" cy="831.6" r="0.63"/><circle cx="159.01" cy="828.21" r="0.92"/><circle cx="147.63" cy="841.92" r="0.86"/><circle cx="126.96" cy="824.33" r="0.6"/><circle cx="154.75" cy="811.66" r="1"/><circle cx="136" cy="834.93" r="0.92"/><circle cx="128.55" cy="814.15" r="0.72"/><circle cx="161.16" cy="820.81" r="0.58"/><circle cx="156.9" cy="821.2" r="0.76"/><circle cx="157.26" cy="828.5" r="0.75"/><circle cx="140.06" cy="816.74" r="0.84"/><circle cx="116.04" cy="813.34" r="0.69"/><circle cx="143.78" cy="805.42" r="0.62"/><circle cx="143.15" cy="809.9" r="0.63"/><circle cx="146.18" cy="833.62" r="0.53"/><circle cx="113.62" cy="817.79" r="0.95"/><circle cx="155.74" cy="813.63" r="0.99"/><circle cx="158.93" cy="836.71" r="0.92"/><circle cx="115.34" cy="805.11" r="0.9"/><circle cx="117.54" cy="842.35" r="0.81"/><circle cx="149.17" cy="818.37" r="0.59"/><circle cx="166.09" cy="802.67" r="0.65"/><circle cx="118.69" cy="796.13" r="0.65"/><circle cx="115.71" cy="818.86" r="0.67"/><circle cx="113.92" cy="818.59" r="0.64"/><circle cx="128.46" cy="822.46" r="0.67"/><circle cx="116.4" cy="842" r="0.99"/><circle cx="128.83" cy="828.39" r="0.79"/><circle cx="129.62" cy="822.32" r="0.63"/><circle cx="131.44" cy="818.06" r="0.52"/><circle cx="128.36" cy="844.65" r="0.89"/><circle cx="135.27" cy="845.3" r="0.66"/><circle cx="170.68" cy="811.5" r="0.95"/><circle cx="122.02" cy="815.11" r="0.67"/><circle cx="165.94" cy="838.72" r="0.57"/><circle cx="117.18" cy="801.86" r="0.54"/><circle cx="174.31" cy="828.01" r="0.88"/><circle cx="140.76" cy="807" r="0.51"/><circle cx="131.45" cy="841.88" r="0.53"/><circle cx="147.02" cy="806.96" r="0.88"/><circle cx="115.29" cy="820.92" r="0.86"/><circle cx="144.19" cy="802.53" r="0.94"/><circle cx="113.99" cy="841.79" r="0.91"/><circle cx="172.9" cy="838.72" r="0.68"/><circle cx="155.34" cy="818.9" r="0.79"/><circle cx="133.66" cy="823.47" r="0.53"/><circle cx="116.68" cy="839.7" r="0.68"/><circle cx="161.9" cy="803.13" r="0.77"/><circle cx="145.6" cy="825.64" r="0.64"/><circle cx="131.47" cy="842.69" r="0.8"/><circle cx="150.21" cy="830.01" r="0.88"/><circle cx="124.88" cy="834.58" r="0.74"/><circle cx="122.94" cy="811.2" r="1"/><circle cx="170.26" cy="840.62" r="0.75"/><circle cx="156.04" cy="815.2" r="0.87"/><circle cx="149.18" cy="813.26" r="0.99"/><circle cx="146.81" cy="797.36" r="0.91"/><circle cx="119.22" cy="809.37" r="0.73"/><circle cx="127.11" cy="817.86" r="0.72"/><circle cx="148.8" cy="828.03" r="0.84"/><circle cx="116.12" cy="807.22" r="0.56"/><circle cx="170.72" cy="796.04" r="0.91"/><circle cx="123.3" cy="832.46" r="0.92"/><circle cx="179.86" cy="824.19" r="0.53"/><circle cx="158.64" cy="843.89" r="0.94"/><circle cx="116.99" cy="801.79" r="0.83"/><circle cx="126.8" cy="824.59" r="0.75"/><circle cx="149.81" cy="812.84" r="0.96"/><circle cx="123.7" cy="809.86" r="0.57"/><circle cx="156.24" cy="796.36" r="0.62"/><circle cx="167.73" cy="838.04" r="0.67"/><circle cx="162.74" cy="835.94" r="0.83"/><circle cx="155" cy="833.12" r="0.66"/><circle cx="128.42" cy="821.07" r="0.77"/><circle cx="114.37" cy="806.02" r="0.58"/><circle cx="155" cy="836.03" r="0.77"/><circle cx="156.56" cy="816.45" r="0.54"/><circle cx="163.59" cy="833.72" r="0.57"/><circle cx="133.84" cy="829.55" r="0.85"/><circle cx="123.86" cy="814.74" r="0.69"/><circle cx="149.87" cy="836.45" r="0.57"/><circle cx="124.78" cy="804.19" r="0.89"/><circle cx="155.19" cy="819.19" r="0.73"/><circle cx="116.93" cy="827.47" r="0.63"/><circle cx="146.47" cy="815.12" r="0.68"/><circle cx="132.09" cy="826.31" r="0.86"/><circle cx="120.54" cy="795.56" r="0.7"/><circle cx="123.96" cy="825.35" r="0.58"/><circle cx="147.04" cy="819.13" r="0.99"/><circle cx="161.14" cy="821.88" r="0.54"/><circle cx="170.35" cy="801.69" r="0.65"/><circle cx="149.89" cy="818.23" r="0.88"/><circle cx="122.79" cy="828.15" r="0.59"/><circle cx="120.61" cy="830.37" r="0.89"/><circle cx="120.04" cy="797" r="0.6"/><circle cx="151.84" cy="796.92" r="0.98"/><circle cx="113.93" cy="832.54" r="0.9"/><circle cx="124.64" cy="834.18" r="0.79"/><circle cx="170.69" cy="835.14" r="0.89"/><circle cx="171.54" cy="808.08" r="0.52"/><circle cx="124.35" cy="832.8" r="0.76"/><circle cx="146.31" cy="819.06" r="0.51"/><circle cx="175.77" cy="823.86" r="0.79"/><circle cx="146.36" cy="839.68" r="0.74"/><circle cx="149.4" cy="835.36" r="0.57"/><circle cx="168.94" cy="826.64" r="0.67"/><circle cx="122.81" cy="821.16" r="0.65"/><circle cx="112.82" cy="836.67" r="0.87"/><circle cx="173.97" cy="833.56" r="0.7"/><circle cx="174.96" cy="807.38" r="0.63"/><circle cx="144.61" cy="829.31" r="0.55"/><circle cx="116.62" cy="842.03" r="0.51"/><circle cx="163.27" cy="818.85" r="0.98"/><circle cx="171.22" cy="818.6" r="0.77"/><circle cx="160.17" cy="808.44" r="0.51"/><circle cx="180.2" cy="822.59" r="0.9"/><circle cx="149.35" cy="799.14" r="0.55"/><circle cx="128.68" cy="843.73" r="0.91"/><circle cx="178.64" cy="820.67" r="0.66"/><circle cx="148.71" cy="803.79" r="0.78"/><circle cx="117.58" cy="821.42" r="0.56"/><circle cx="115.36" cy="833.19" r="0.75"/><circle cx="123.57" cy="815.33" r="0.94"/><circle cx="145.4" cy="840.21" r="0.81"/></g><g fill="#d4b4a4"><circle cx="136.72" cy="842.18" r="0.59"/><circle cx="127.59" cy="819.77" r="0.85"/><circle cx="112.83" cy="835.4" r="0.91"/><circle cx="121.26" cy="805.18" r="0.56"/><circle cx="121.56" cy="802.63" r="0.7"/><circle cx="116.52" cy="810.09" r="0.55"/><circle cx="121.43" cy="812.28" r="0.66"/><circle cx="135.37" cy="830.37" r="0.66"/><circle cx="139.28" cy="817.71" r="0.76"/><circle cx="134.57" cy="798.59" r="0.48"/><circle cx="112.87" cy="843.52" r="0.62"/><circle cx="113.96" cy="824.01" r="0.48"/><circle cx="125.29" cy="818.3" r="0.83"/><circle cx="113.57" cy="829.93" r="0.81"/><circle cx="139.68" cy="816.12" r="0.57"/><circle cx="125.79" cy="839.36" r="0.82"/><circle cx="133.15" cy="844.92" r="0.45"/><circle cx="130.51" cy="825.68" r="0.54"/><circle cx="114.9" cy="831.48" r="0.46"/><circle cx="127.94" cy="824.74" r="0.56"/><circle cx="130.9" cy="834.16" r="0.59"/><circle cx="114.57" cy="807.82" r="0.71"/><circle cx="129.13" cy="839.42" r="0.63"/><circle cx="117.94" cy="808.42" r="0.88"/><circle cx="117.63" cy="805.31" r="0.92"/><circle cx="121.43" cy="816.2" r="0.49"/><circle cx="124.15" cy="836.7" r="0.71"/><circle cx="124.75" cy="809.83" r="0.88"/><circle cx="127.04" cy="824.1" r="0.88"/><circle cx="130.04" cy="816.27" r="0.64"/><circle cx="132.87" cy="841.77" r="0.81"/><circle cx="118.58" cy="821.23" r="0.62"/><circle cx="137.58" cy="800.87" r="0.75"/><circle cx="120.88" cy="821.29" r="0.67"/><circle cx="136.06" cy="843.77" r="0.52"/><circle cx="137.6" cy="799.14" r="0.47"/><circle cx="124.16" cy="825.45" r="0.93"/><circle cx="124.75" cy="803.1" r="0.7"/><circle cx="116.23" cy="824.41" r="0.87"/><circle cx="112.76" cy="838.2" r="0.62"/><circle cx="131.62" cy="828.43" r="0.71"/><circle cx="130.36" cy="821.4" r="0.72"/><circle cx="123.67" cy="813.91" r="0.57"/><circle cx="130.75" cy="818.52" r="0.55"/><circle cx="115.83" cy="817.77" r="0.65"/><circle cx="128.98" cy="828.66" r="0.86"/><circle cx="137.77" cy="844.54" r="0.75"/><circle cx="129.18" cy="829.63" r="0.52"/><circle cx="126.55" cy="819.02" r="0.76"/><circle cx="125.35" cy="814.1" r="0.88"/><circle cx="128.78" cy="813.16" r="0.48"/><circle cx="115.04" cy="819.36" r="0.63"/><circle cx="112.77" cy="821.56" r="0.66"/><circle cx="123.28" cy="806" r="0.6"/><circle cx="129.2" cy="831.56" r="0.49"/><circle cx="127.91" cy="819.41" r="0.49"/><circle cx="131.02" cy="835.66" r="0.54"/><circle cx="116.57" cy="816.46" r="0.78"/><circle cx="117.15" cy="817.1" r="0.81"/><circle cx="131.27" cy="835.99" r="0.94"/><circle cx="115.87" cy="828.93" r="0.93"/><circle cx="121.18" cy="839.31" r="0.86"/><circle cx="124.58" cy="837.42" r="0.91"/><circle cx="116.79" cy="796.41" r="0.76"/><circle cx="133.35" cy="823.09" r="0.62"/><circle cx="115.16" cy="813.01" r="0.78"/><circle cx="123.52" cy="827.1" r="0.47"/><circle cx="128.57" cy="830.8" r="0.56"/><circle cx="113.44" cy="829.92" r="0.68"/><circle cx="116.22" cy="819.04" r="0.75"/><circle cx="114.41" cy="803.24" r="0.83"/><circle cx="130.38" cy="838.7" r="0.65"/><circle cx="113.89" cy="828.99" r="0.6"/><circle cx="123.78" cy="836.85" r="0.9"/><circle cx="127.95" cy="811.01" r="0.61"/><circle cx="120.42" cy="843.78" r="0.79"/><circle cx="115.46" cy="829.83" r="0.66"/><circle cx="118.56" cy="842.58" r="0.71"/><circle cx="113.77" cy="807.52" r="0.61"/><circle cx="115.61" cy="796.38" r="0.54"/><circle cx="118.35" cy="834.76" r="0.48"/><circle cx="140.1" cy="820.52" r="0.68"/><circle cx="119.07" cy="837.16" r="0.53"/><circle cx="127.62" cy="811.8" r="0.8"/><circle cx="125.07" cy="835.31" r="0.68"/><circle cx="134.87" cy="834.39" r="0.71"/><circle cx="134.76" cy="841.34" r="0.59"/><circle cx="118.25" cy="809.38" r="0.82"/><circle cx="116.37" cy="814.57" r="0.79"/><circle cx="120.01" cy="812.82" r="0.63"/><circle cx="120.9" cy="806.19" r="0.63"/><circle cx="126.71" cy="818.14" r="0.75"/><circle cx="135.46" cy="797.64" r="0.47"/><circle cx="139.79" cy="817.21" r="0.76"/><circle cx="121.86" cy="829.76" r="0.51"/><circle cx="117.64" cy="828.33" r="0.52"/><circle cx="119.08" cy="826.76" r="0.57"/><circle cx="114.69" cy="839.99" r="0.79"/><circle cx="117.54" cy="835.25" r="0.75"/><circle cx="121.17" cy="821.46" r="0.66"/><circle cx="123.72" cy="810.54" r="0.76"/><circle cx="123.24" cy="821.29" r="0.51"/><circle cx="124.86" cy="830.35" r="0.54"/><circle cx="135.87" cy="840.82" r="0.57"/><circle cx="116.82" cy="844.56" r="0.46"/><circle cx="120.91" cy="841.44" r="0.79"/><circle cx="120.91" cy="804.82" r="0.65"/><circle cx="125.3" cy="838.94" r="0.76"/><circle cx="115.07" cy="822.14" r="0.59"/><circle cx="120.65" cy="799.23" r="0.48"/></g><g fill="#d0b8b8"><circle cx="149.29" cy="832.24" r="0.63"/><circle cx="161.91" cy="838.95" r="0.77"/><circle cx="168.27" cy="795.74" r="0.86"/><circle cx="175.05" cy="810.24" r="1.07"/><circle cx="166.16" cy="804.89" r="0.57"/><circle cx="169.95" cy="809.95" r="0.47"/><circle cx="159.07" cy="804.06" r="1.04"/><circle cx="164.68" cy="838.32" r="0.5"/><circle cx="155.75" cy="811.57" r="0.51"/><circle cx="157.25" cy="803.87" r="0.51"/><circle cx="178.87" cy="797.97" r="0.77"/><circle cx="179.84" cy="798.59" r="0.49"/><circle cx="150.89" cy="830.85" r="0.82"/><circle cx="146.37" cy="820.39" r="0.96"/><circle cx="180" cy="828.88" r="0.47"/><circle cx="177.54" cy="815.83" r="0.94"/><circle cx="179.73" cy="799.65" r="1.01"/><circle cx="142.85" cy="823.69" r="0.85"/><circle cx="152.55" cy="819.04" r="1.07"/><circle cx="168.63" cy="813.14" r="0.65"/><circle cx="146.98" cy="809.15" r="0.68"/><circle cx="157.1" cy="806.6" r="1.07"/><circle cx="172.89" cy="828.98" r="0.92"/><circle cx="180.56" cy="819.34" r="0.72"/><circle cx="156.91" cy="834.28" r="0.74"/><circle cx="161.47" cy="829.24" r="0.51"/><circle cx="140.55" cy="826.43" r="1.02"/><circle cx="161.83" cy="838.41" r="0.81"/><circle cx="161.27" cy="811.88" r="0.66"/><circle cx="166.7" cy="836.3" r="0.82"/><circle cx="149.9" cy="821.18" r="0.97"/><circle cx="146.3" cy="830.75" r="0.65"/><circle cx="167.93" cy="834.39" r="0.71"/><circle cx="180.62" cy="844.74" r="0.94"/><circle cx="178.56" cy="823.75" r="0.68"/><circle cx="155.32" cy="811.25" r="0.53"/><circle cx="145.56" cy="822.32" r="1.05"/><circle cx="156.75" cy="817.94" r="0.77"/><circle cx="166.74" cy="827.13" r="0.72"/><circle cx="157.12" cy="812.7" r="0.54"/><circle cx="161.59" cy="837.53" r="0.82"/><circle cx="154.38" cy="838.18" r="1"/><circle cx="167.95" cy="807.98" r="0.93"/><circle cx="165.11" cy="796.32" r="0.85"/><circle cx="178.39" cy="818.61" r="0.59"/><circle cx="156.88" cy="839.52" r="0.77"/><circle cx="152.54" cy="836.48" r="1.02"/><circle cx="144.46" cy="823.66" r="0.55"/><circle cx="157.52" cy="840.7" r="0.75"/><circle cx="146.21" cy="828.7" r="0.58"/><circle cx="165.52" cy="822.18" r="0.84"/><circle cx="151.38" cy="810.73" r="1.09"/><circle cx="166.85" cy="840.21" r="0.57"/><circle cx="153.77" cy="810.21" r="0.56"/><circle cx="161.28" cy="807.86" r="0.62"/><circle cx="165.29" cy="810.28" r="0.81"/><circle cx="140.83" cy="827.15" r="1.08"/><circle cx="174.02" cy="836.53" r="0.85"/><circle cx="164.1" cy="811.19" r="1.06"/><circle cx="154.64" cy="841.82" r="0.55"/><circle cx="146.47" cy="820.89" r="0.64"/><circle cx="150.72" cy="820.33" r="0.69"/><circle cx="158.7" cy="801.98" r="1.03"/><circle cx="159.86" cy="807.38" r="0.68"/><circle cx="151.71" cy="809.64" r="1.02"/><circle cx="141.39" cy="827.05" r="0.88"/><circle cx="150.06" cy="832.82" r="0.64"/><circle cx="169.33" cy="819.22" r="0.76"/><circle cx="173.7" cy="837.58" r="1.07"/><circle cx="161.35" cy="829.26" r="0.72"/><circle cx="157.41" cy="844.08" r="0.61"/><circle cx="175.57" cy="805.73" r="0.93"/><circle cx="154.47" cy="810.11" r="0.97"/><circle cx="155.71" cy="832.65" r="1.01"/><circle cx="164.07" cy="835.46" r="1.08"/><circle cx="153.02" cy="834.41" r="0.77"/><circle cx="176.99" cy="820.25" r="0.8"/><circle cx="148.29" cy="798.95" r="0.52"/><circle cx="178.49" cy="806.08" r="0.67"/><circle cx="162.39" cy="797.12" r="1.01"/><circle cx="157.73" cy="821.15" r="0.65"/><circle cx="141.26" cy="823.94" r="1.06"/><circle cx="167.12" cy="839.81" r="0.63"/><circle cx="156.29" cy="829.17" r="0.94"/><circle cx="145.47" cy="839.42" r="0.76"/><circle cx="161.53" cy="806.43" r="0.6"/><circle cx="149.4" cy="826.87" r="0.78"/><circle cx="170.23" cy="838.46" r="0.73"/><circle cx="162.12" cy="818.44" r="1.02"/><circle cx="177.01" cy="805" r="0.9"/><circle cx="146.01" cy="841.77" r="1.02"/><circle cx="166.35" cy="802.18" r="0.83"/><circle cx="163.04" cy="836.35" r="0.73"/><circle cx="152.31" cy="812.7" r="0.67"/><circle cx="161.89" cy="810.04" r="0.64"/><circle cx="180.04" cy="806.22" r="0.78"/><circle cx="164.29" cy="821.99" r="0.69"/><circle cx="157.12" cy="818.53" r="0.68"/><circle cx="149.42" cy="805.98" r="0.99"/><circle cx="154.39" cy="801.89" r="0.68"/><circle cx="143.26" cy="805.74" r="1.09"/><circle cx="160.64" cy="814.13" r="0.85"/><circle cx="156.39" cy="799.82" r="0.79"/><circle cx="153.16" cy="810.35" r="0.7"/><circle cx="157.02" cy="827.58" r="1.03"/><circle cx="172.21" cy="799.67" r="0.5"/><circle cx="146.07" cy="807.67" r="0.83"/><circle cx="160.36" cy="811.32" r="0.54"/><circle cx="179.71" cy="817.01" r="0.5"/><circle cx="163.56" cy="799.45" r="0.94"/><circle cx="178.43" cy="845.41" r="1"/><circle cx="155.34" cy="841.53" r="0.97"/><circle cx="141.23" cy="809.74" r="0.46"/><circle cx="143.51" cy="808.19" r="1.08"/><circle cx="148.11" cy="815.7" r="0.96"/><circle cx="177.59" cy="837.17" r="0.49"/><circle cx="174.85" cy="829.93" r="0.69"/><circle cx="161.47" cy="844.18" r="0.51"/><circle cx="178.96" cy="800.39" r="0.46"/><circle cx="154.62" cy="797.88" r="1.08"/><circle cx="173.32" cy="822.66" r="0.5"/><circle cx="162.45" cy="829.83" r="0.77"/><circle cx="164.27" cy="811.72" r="0.98"/><circle cx="167.69" cy="818.97" r="0.94"/><circle cx="155.11" cy="798.18" r="0.84"/><circle cx="167.84" cy="844.55" r="1.1"/><circle cx="140.81" cy="825.11" r="0.52"/><circle cx="179.43" cy="797.74" r="0.87"/><circle cx="143.41" cy="835.93" r="1.05"/><circle cx="176.08" cy="844.14" r="1.04"/><circle cx="145.44" cy="828.73" r="1.01"/><circle cx="168.65" cy="832.97" r="0.76"/><circle cx="163.92" cy="811.51" r="0.5"/><circle cx="158.57" cy="824.43" r="0.89"/><circle cx="145.12" cy="807.28" r="1.08"/><circle cx="146.95" cy="823.95" r="0.88"/><circle cx="153.85" cy="816.67" r="0.93"/><circle cx="172.39" cy="834.5" r="0.46"/><circle cx="171.42" cy="813.3" r="1"/><circle cx="146.55" cy="838.5" r="0.49"/><circle cx="146.83" cy="837.05" r="0.66"/><circle cx="169.21" cy="802.69" r="0.81"/><circle cx="150.8" cy="803.08" r="0.64"/><circle cx="159.31" cy="823.14" r="0.84"/><circle cx="145.46" cy="826.11" r="0.47"/><circle cx="174.69" cy="797.36" r="0.8"/><circle cx="141.03" cy="808.82" r="0.52"/><circle cx="173.11" cy="810.06" r="1"/><circle cx="140.85" cy="823.19" r="0.73"/><circle cx="170.37" cy="837.55" r="0.91"/></g><g fill="#d8c4c4"><circle cx="180.5" cy="844.54" r="1.47"/><circle cx="143.85" cy="807.52" r="1.63"/><circle cx="165.82" cy="809.41" r="2.09"/><circle cx="180.41" cy="832.82" r="1.33"/><circle cx="178.71" cy="826.53" r="1.44"/><circle cx="172.82" cy="840.19" r="1.75"/><circle cx="158.18" cy="831.18" r="2.06"/><circle cx="169.03" cy="840.06" r="1.8"/><circle cx="167.54" cy="837.64" r="1.25"/><circle cx="163.82" cy="838.1" r="2.04"/><circle cx="155.84" cy="818.05" r="1.54"/><circle cx="150.01" cy="814.97" r="1.57"/><circle cx="169.46" cy="831.04" r="1.6"/><circle cx="164.19" cy="819.75" r="1.53"/><circle cx="180.29" cy="807.56" r="1.41"/><circle cx="179.5" cy="833.13" r="1.43"/><circle cx="162.29" cy="840.16" r="1.75"/><circle cx="147.9" cy="816.64" r="2.1"/><circle cx="149.1" cy="817.98" r="1.65"/><circle cx="168.27" cy="841.59" r="1.87"/><circle cx="157.03" cy="841.17" r="1.54"/><circle cx="147.22" cy="835.39" r="1.26"/><circle cx="148.59" cy="828.9" r="1.6"/><circle cx="171.11" cy="821.73" r="1.4"/><circle cx="173.08" cy="836.98" r="2.04"/><circle cx="174.78" cy="809.5" r="1.23"/></g><g fill="#d8c4c4"><circle cx="119.33" cy="805.51" r="1.16"/><circle cx="122.23" cy="843.37" r="1.09"/><circle cx="119.52" cy="814.61" r="1.46"/><circle cx="127.41" cy="830.61" r="1.25"/><circle cx="128.29" cy="844.57" r="1.37"/><circle cx="115.22" cy="800.64" r="1.41"/><circle cx="114.81" cy="843.16" r="1.17"/><circle cx="125.18" cy="831.55" r="1.34"/></g><g fill="#c0cce6"><circle cx="135.8" cy="804.08" r="0.73"/><circle cx="135.96" cy="821.74" r="0.79"/><circle cx="141.23" cy="801.29" r="1.24"/><circle cx="129.6" cy="809.79" r="0.7"/><circle cx="126.6" cy="800.3" r="1.07"/><circle cx="138.57" cy="826.87" r="0.96"/><circle cx="136.24" cy="816.59" r="0.64"/><circle cx="136.9" cy="827.39" r="1.32"/><circle cx="140.71" cy="840.41" r="0.93"/><circle cx="134.99" cy="826.21" r="0.84"/><circle cx="136.62" cy="833.41" r="0.94"/><circle cx="137.86" cy="812.4" r="0.73"/><circle cx="138.73" cy="840.78" r="1.34"/><circle cx="138.44" cy="831.02" r="0.79"/><circle cx="138.86" cy="808.55" r="1.02"/><circle cx="138.3" cy="830.95" r="1.38"/><circle cx="137.8" cy="817" r="1.04"/><circle cx="137.87" cy="813.1" r="1.36"/><circle cx="140.89" cy="841.23" r="1.12"/><circle cx="124.85" cy="796.54" r="0.68"/></g><g fill="#8898c0"><circle cx="131.32" cy="810.79" r="0.62"/><circle cx="131.15" cy="812.19" r="0.73"/><circle cx="143.54" cy="800.32" r="0.56"/><circle cx="125.11" cy="798.4" r="0.78"/><circle cx="128.52" cy="800.27" r="0.58"/><circle cx="132.3" cy="800.3" r="0.63"/><circle cx="123.06" cy="798.72" r="0.67"/><circle cx="134.76" cy="816.38" r="0.67"/><circle cx="135.07" cy="820.84" r="0.67"/><circle cx="143.6" cy="844.59" r="0.72"/><circle cx="145.6" cy="799.26" r="0.57"/><circle cx="133.26" cy="817.14" r="0.78"/><circle cx="140.35" cy="804.49" r="0.5"/><circle cx="140.63" cy="840.08" r="0.43"/><circle cx="136.75" cy="808.58" r="0.54"/><circle cx="127.92" cy="796.84" r="0.6"/><circle cx="142.45" cy="803.36" r="0.6"/><circle cx="135.51" cy="814.58" r="0.42"/><circle cx="135.99" cy="807.92" r="0.55"/><circle cx="137.2" cy="835.6" r="0.66"/></g></g></g>
<line x1="171.5" y1="842.3" x2="177" y2="842.3" stroke="#fff" stroke-width="0.9"/>
<clipPath id="c24"><rect x="114" y="853.4" width="65.5" height="48.3"/></clipPath>
<g clip-path="url(#c24)"><g filter="url(#tb)"><rect x="112" y="851.4" width="69.5" height="52.3" fill="#a4bade"/><g fill="#c2d2ee"><circle cx="161.21" cy="894.62" r="1.26"/><circle cx="180.69" cy="862.18" r="1.94"/><circle cx="118.94" cy="890.5" r="1.21"/><circle cx="160.82" cy="888.82" r="2.07"/><circle cx="142.76" cy="895.92" r="2.38"/><circle cx="120.56" cy="878.4" r="2.34"/><circle cx="163.04" cy="874.75" r="1.43"/><circle cx="177.61" cy="856.71" r="2.06"/><circle cx="170.13" cy="860.36" r="1.46"/><circle cx="133.49" cy="879.66" r="1.51"/><circle cx="173.57" cy="898.88" r="1.44"/><circle cx="173.64" cy="855.93" r="1.14"/><circle cx="158" cy="892.57" r="2.15"/><circle cx="180.26" cy="895.62" r="1.37"/><circle cx="163.29" cy="898.88" r="1.13"/><circle cx="146.37" cy="860.18" r="1.2"/><circle cx="145.36" cy="886.11" r="2.36"/><circle cx="121.64" cy="877.82" r="2.4"/><circle cx="164.8" cy="879.16" r="1.34"/><circle cx="155.67" cy="865.54" r="1.9"/><circle cx="156.88" cy="872.09" r="2.11"/><circle cx="140.18" cy="875.99" r="2.16"/><circle cx="129.76" cy="861.75" r="1.8"/><circle cx="142.29" cy="896.35" r="1.35"/><circle cx="137.98" cy="855.34" r="1.63"/><circle cx="133.98" cy="874.97" r="2.07"/><circle cx="115.24" cy="902.13" r="2"/><circle cx="167.96" cy="879.5" r="1.81"/><circle cx="140.59" cy="872.33" r="1.31"/><circle cx="133.33" cy="867.19" r="1.47"/><circle cx="174.49" cy="892.54" r="1.9"/><circle cx="113.86" cy="865.61" r="1.76"/><circle cx="159.84" cy="873.49" r="1.89"/><circle cx="174.35" cy="865.87" r="1.53"/><circle cx="164.48" cy="868.44" r="2.01"/><circle cx="139.74" cy="853.41" r="1.65"/><circle cx="117.33" cy="891.85" r="2.18"/><circle cx="148.76" cy="897.61" r="1.3"/><circle cx="143.05" cy="861.26" r="1.07"/><circle cx="168.85" cy="855.06" r="2.31"/><circle cx="150.62" cy="887.63" r="1.07"/><circle cx="174.49" cy="892.31" r="1.15"/><circle cx="125.15" cy="859.51" r="1.71"/><circle cx="118.05" cy="892.54" r="1.7"/><circle cx="160.65" cy="865.22" r="1.92"/><circle cx="143.59" cy="885" r="1.58"/><circle cx="180.11" cy="894.94" r="2.17"/><circle cx="135.94" cy="862.03" r="1.21"/><circle cx="121.66" cy="901.03" r="1.39"/><circle cx="171.99" cy="864.1" r="1.87"/><circle cx="129.67" cy="867.86" r="2.05"/><circle cx="154.13" cy="899.95" r="1.33"/><circle cx="131.11" cy="855.59" r="1.3"/><circle cx="179.49" cy="880.76" r="1.67"/><circle cx="135.91" cy="890.6" r="1.96"/><circle cx="123.29" cy="854.76" r="1.24"/><circle cx="168.35" cy="889.25" r="1.32"/><circle cx="128.64" cy="867.87" r="1.95"/><circle cx="163.67" cy="864.4" r="1.46"/><circle cx="128.85" cy="899.94" r="1.77"/><circle cx="176.7" cy="864.6" r="1.89"/><circle cx="151.44" cy="899.25" r="1.51"/><circle cx="128.26" cy="893.51" r="2.33"/><circle cx="147.35" cy="869.15" r="1.12"/><circle cx="142.95" cy="898.9" r="1.5"/><circle cx="143.25" cy="880.78" r="1.33"/><circle cx="120.08" cy="878.51" r="2.35"/><circle cx="172.09" cy="867.61" r="2.1"/><circle cx="169.36" cy="881.73" r="1.5"/><circle cx="126.03" cy="887.78" r="1.96"/></g><g fill="#869ec8"><circle cx="127.25" cy="859.54" r="0.57"/><circle cx="169.11" cy="896.91" r="0.81"/><circle cx="154.31" cy="887.97" r="0.59"/><circle cx="148.08" cy="874.95" r="1.02"/><circle cx="123.86" cy="894.98" r="0.59"/><circle cx="154.29" cy="897.22" r="0.55"/><circle cx="145.63" cy="852.66" r="0.81"/><circle cx="145.77" cy="900.64" r="0.79"/><circle cx="174.65" cy="889.06" r="1.01"/><circle cx="136.55" cy="857.24" r="0.88"/><circle cx="120.34" cy="883.89" r="0.61"/><circle cx="153.86" cy="890.93" r="1.08"/><circle cx="126.4" cy="861.21" r="0.75"/><circle cx="179.04" cy="865.22" r="0.79"/><circle cx="138.66" cy="855.55" r="0.82"/><circle cx="133.59" cy="876.05" r="0.94"/><circle cx="158.14" cy="864.73" r="0.89"/><circle cx="149.24" cy="890.85" r="0.5"/><circle cx="131.83" cy="886.24" r="0.83"/><circle cx="147.05" cy="879.02" r="0.87"/><circle cx="162.82" cy="894.37" r="0.97"/><circle cx="174.45" cy="881.35" r="0.6"/><circle cx="137.87" cy="895.73" r="0.96"/><circle cx="154.9" cy="858.84" r="0.6"/><circle cx="157.37" cy="873.64" r="0.61"/><circle cx="178.8" cy="864.05" r="1.06"/><circle cx="155.03" cy="900.42" r="0.97"/><circle cx="126.39" cy="863.88" r="1.02"/><circle cx="142.27" cy="877.73" r="0.95"/><circle cx="153.76" cy="888.57" r="0.81"/><circle cx="131.46" cy="888.69" r="0.58"/><circle cx="162.01" cy="892.42" r="0.59"/><circle cx="112.85" cy="898.35" r="0.61"/><circle cx="149.01" cy="867" r="0.58"/><circle cx="130.27" cy="856.12" r="1.01"/><circle cx="165.11" cy="891.79" r="0.59"/><circle cx="134.73" cy="857.33" r="1.01"/><circle cx="179.12" cy="900.08" r="1.01"/><circle cx="154.45" cy="877.43" r="0.57"/><circle cx="114.91" cy="883.53" r="1.08"/><circle cx="179.52" cy="873.4" r="0.81"/><circle cx="172.72" cy="866.64" r="0.94"/><circle cx="153.56" cy="874.23" r="0.73"/><circle cx="123.5" cy="859.78" r="0.68"/><circle cx="180.03" cy="893.57" r="0.51"/><circle cx="164.22" cy="859.53" r="0.85"/><circle cx="175.39" cy="897.92" r="1.03"/><circle cx="180.32" cy="884.15" r="0.52"/><circle cx="129.99" cy="886.05" r="0.86"/><circle cx="174.83" cy="861" r="1.03"/><circle cx="152.04" cy="882.21" r="0.57"/><circle cx="136.91" cy="878.27" r="0.95"/><circle cx="159.02" cy="884.64" r="0.93"/><circle cx="136.72" cy="869.28" r="1.09"/><circle cx="158.36" cy="880.56" r="1.08"/><circle cx="171.63" cy="888.65" r="1.09"/><circle cx="138.85" cy="898.92" r="0.85"/><circle cx="141.71" cy="872.63" r="0.53"/><circle cx="173.11" cy="901.34" r="0.73"/><circle cx="177.21" cy="858.99" r="0.78"/><circle cx="180.32" cy="884.21" r="0.59"/><circle cx="155.93" cy="853.74" r="0.93"/><circle cx="152.71" cy="884.8" r="0.91"/><circle cx="119.28" cy="896.76" r="0.96"/><circle cx="173.53" cy="864.03" r="0.64"/><circle cx="161.91" cy="898.76" r="0.84"/><circle cx="129.25" cy="874.61" r="0.64"/><circle cx="145.6" cy="900.6" r="0.91"/><circle cx="126.51" cy="898.43" r="1.03"/><circle cx="140.17" cy="852.48" r="0.9"/><circle cx="134.78" cy="858.85" r="1.05"/><circle cx="139.95" cy="860.69" r="0.67"/><circle cx="180.49" cy="870.08" r="0.78"/><circle cx="129.83" cy="856.52" r="0.58"/><circle cx="116.72" cy="875.32" r="0.76"/><circle cx="160.63" cy="894.29" r="1.02"/><circle cx="122.23" cy="880.46" r="0.59"/><circle cx="132.88" cy="871.86" r="0.74"/><circle cx="170.16" cy="873.77" r="0.6"/><circle cx="153.58" cy="865.5" r="1.04"/><circle cx="120.05" cy="860.23" r="0.54"/><circle cx="132.91" cy="891.75" r="0.55"/><circle cx="154.14" cy="897.5" r="0.64"/><circle cx="163.4" cy="888.77" r="1.08"/><circle cx="170.74" cy="884.01" r="0.76"/><circle cx="137.76" cy="858.57" r="0.53"/><circle cx="156.56" cy="866.67" r="0.59"/><circle cx="145.26" cy="859.73" r="0.88"/><circle cx="177.52" cy="871.14" r="0.52"/><circle cx="124.07" cy="868.14" r="1.03"/><circle cx="177.09" cy="882.88" r="0.74"/><circle cx="119.19" cy="894.56" r="0.51"/><circle cx="130.42" cy="889.26" r="0.92"/><circle cx="125.34" cy="902.15" r="0.89"/><circle cx="159.6" cy="864.15" r="0.98"/><circle cx="114.47" cy="882.66" r="0.51"/><circle cx="166.29" cy="882.07" r="0.84"/><circle cx="138" cy="891.73" r="0.52"/><circle cx="123.11" cy="853.03" r="0.88"/><circle cx="117.09" cy="852.78" r="1.01"/><circle cx="134.13" cy="870.71" r="1"/><circle cx="137.9" cy="894.69" r="1.09"/><circle cx="119.98" cy="864.31" r="0.51"/><circle cx="130.66" cy="882.21" r="1.09"/><circle cx="166.86" cy="888.61" r="0.59"/><circle cx="175.86" cy="874.19" r="0.97"/><circle cx="125.95" cy="901.4" r="0.73"/><circle cx="132.64" cy="895.77" r="0.9"/><circle cx="140.01" cy="875.06" r="0.94"/><circle cx="138.61" cy="878.95" r="0.8"/><circle cx="139.86" cy="870.02" r="0.65"/><circle cx="166.71" cy="885.49" r="0.6"/><circle cx="124.01" cy="872.17" r="0.86"/><circle cx="147.1" cy="884.92" r="0.92"/><circle cx="132.77" cy="855.79" r="0.9"/><circle cx="149.44" cy="869.3" r="1.03"/><circle cx="122.57" cy="858.28" r="0.88"/><circle cx="138.89" cy="885.2" r="0.55"/><circle cx="145.73" cy="883.31" r="0.76"/><circle cx="122.54" cy="856.41" r="0.69"/><circle cx="132.55" cy="896.75" r="0.54"/><circle cx="163.67" cy="900.37" r="0.81"/><circle cx="124.08" cy="883.2" r="1.06"/><circle cx="140.68" cy="888.97" r="0.63"/><circle cx="130.36" cy="870.14" r="0.87"/><circle cx="176.7" cy="860.52" r="0.53"/><circle cx="130.04" cy="884.87" r="0.91"/><circle cx="149.28" cy="888.69" r="0.79"/><circle cx="123.36" cy="900.57" r="0.7"/><circle cx="113.2" cy="860.99" r="0.66"/><circle cx="161.53" cy="867.5" r="0.6"/><circle cx="159.54" cy="885.5" r="0.89"/><circle cx="130.92" cy="897.98" r="0.89"/><circle cx="144.66" cy="898.44" r="0.64"/><circle cx="133.07" cy="881.47" r="0.85"/><circle cx="150.59" cy="857.2" r="0.95"/><circle cx="179.27" cy="870.53" r="1"/><circle cx="121.29" cy="857.96" r="0.86"/><circle cx="176.34" cy="880.84" r="0.64"/><circle cx="122.85" cy="898.42" r="0.92"/><circle cx="180.17" cy="865.71" r="0.96"/><circle cx="124.25" cy="858.77" r="0.74"/><circle cx="136.46" cy="890.82" r="0.76"/><circle cx="134.44" cy="896.86" r="1.02"/><circle cx="143.23" cy="891.39" r="0.55"/><circle cx="133.88" cy="896.49" r="0.8"/><circle cx="120.34" cy="863.48" r="1.03"/><circle cx="139.02" cy="902.35" r="1.09"/><circle cx="152.45" cy="895.48" r="0.71"/><circle cx="166.62" cy="855.31" r="0.79"/></g><g fill="#b0c4e6"><circle cx="113.87" cy="865.92" r="2.9"/><circle cx="155.53" cy="854.79" r="2.76"/><circle cx="172.27" cy="900.37" r="2.16"/><circle cx="122.47" cy="891.16" r="2.38"/><circle cx="115.98" cy="877.23" r="2.42"/><circle cx="165.36" cy="883.72" r="1.97"/><circle cx="118.64" cy="854.86" r="1.68"/><circle cx="140.52" cy="871.97" r="2.87"/><circle cx="146.9" cy="893.94" r="2.52"/><circle cx="160.56" cy="894.78" r="2.79"/><circle cx="159.94" cy="877.26" r="2.78"/><circle cx="129.78" cy="865.45" r="1.69"/><circle cx="125.71" cy="858.18" r="1.78"/><circle cx="134.27" cy="887.77" r="2.98"/><circle cx="156.35" cy="888.07" r="2.3"/><circle cx="122.74" cy="888.94" r="2.38"/><circle cx="143.89" cy="894.78" r="2.92"/><circle cx="124.15" cy="853.34" r="2.06"/><circle cx="151.9" cy="877.59" r="1.94"/><circle cx="130.2" cy="874.72" r="1.63"/><circle cx="146.12" cy="897.41" r="2.82"/><circle cx="165.64" cy="861.57" r="2.09"/><circle cx="120.77" cy="862.38" r="1.56"/><circle cx="117.08" cy="888.76" r="1.9"/><circle cx="158.58" cy="877.1" r="1.89"/><circle cx="157.76" cy="877.07" r="1.79"/><circle cx="131.2" cy="877.6" r="1.86"/><circle cx="145.59" cy="870.9" r="2.91"/><circle cx="123.07" cy="892.03" r="1.75"/><circle cx="115.6" cy="894.35" r="2.64"/><circle cx="140.02" cy="897.53" r="1.94"/><circle cx="138.37" cy="895.26" r="2.71"/><circle cx="177.34" cy="869.39" r="2.6"/><circle cx="175.27" cy="888.16" r="2.01"/><circle cx="176.04" cy="893.07" r="1.57"/><circle cx="145.7" cy="901.13" r="2.7"/><circle cx="160.27" cy="856.17" r="2.77"/><circle cx="130.68" cy="863.34" r="2.61"/><circle cx="145.13" cy="902.51" r="2.76"/><circle cx="118.38" cy="854.64" r="1.77"/></g><path d="M137.58 867.89 L143.47 864.03 L151.99 867.89 L153.3 876.58 L148.06 882.38 L140.2 879.97 L137.58 867.89" stroke="#8aa0cc" stroke-width="0.7" fill="none" stroke-linejoin="round" stroke-linecap="round"/><g fill="#8a5a48"><circle cx="137.01" cy="893.97" r="1.13"/><circle cx="136.19" cy="896.49" r="1.37"/><circle cx="137.68" cy="890.28" r="1.3"/><circle cx="130.22" cy="875.39" r="1.5"/><circle cx="132.59" cy="880.12" r="1.75"/><circle cx="120.61" cy="889.14" r="1.53"/><circle cx="132.56" cy="898.91" r="1"/><circle cx="130.71" cy="896.82" r="1.68"/><circle cx="133.84" cy="899.15" r="1.23"/><circle cx="118.89" cy="892.86" r="1.18"/><circle cx="132.78" cy="883.21" r="1.48"/><circle cx="133.12" cy="884.13" r="1.34"/><circle cx="119.15" cy="882.87" r="1.25"/><circle cx="125.99" cy="899.1" r="1.12"/></g><g fill="#5c2a10"><circle cx="125.18" cy="881.32" r="0.79"/><circle cx="133.87" cy="882.25" r="0.85"/><circle cx="120.71" cy="885.22" r="0.84"/><circle cx="135.36" cy="891.1" r="0.92"/><circle cx="126.3" cy="880.92" r="0.71"/><circle cx="124.59" cy="886.61" r="0.72"/><circle cx="126.63" cy="895.97" r="0.81"/><circle cx="122.83" cy="885.19" r="0.87"/><circle cx="130.44" cy="897.25" r="0.72"/><circle cx="134.5" cy="888.42" r="0.64"/><circle cx="129.45" cy="897.52" r="0.93"/><circle cx="126" cy="895.05" r="0.79"/><circle cx="124.65" cy="880.06" r="0.5"/><circle cx="128.03" cy="882.44" r="0.94"/><circle cx="122.09" cy="893.29" r="0.95"/><circle cx="126.78" cy="874.87" r="0.74"/><circle cx="129.83" cy="899.53" r="0.67"/><circle cx="132.43" cy="883.32" r="0.99"/><circle cx="126.98" cy="892.61" r="0.73"/><circle cx="122.03" cy="877.46" r="0.72"/><circle cx="131.79" cy="875.57" r="0.76"/><circle cx="123.03" cy="896.07" r="0.64"/><circle cx="135.94" cy="887.85" r="0.77"/><circle cx="128.03" cy="888.21" r="0.58"/><circle cx="136.84" cy="893.33" r="0.68"/><circle cx="119.66" cy="891.42" r="0.9"/><circle cx="135.95" cy="884.66" r="0.59"/><circle cx="119.51" cy="888.54" r="0.94"/><circle cx="121.28" cy="891.04" r="0.56"/><circle cx="122.97" cy="891.68" r="0.89"/><circle cx="134.82" cy="893.31" r="0.74"/><circle cx="134.42" cy="888.98" r="0.99"/><circle cx="130.33" cy="876.93" r="0.52"/><circle cx="132.18" cy="884.94" r="0.74"/><circle cx="122.23" cy="879.3" r="0.73"/><circle cx="128.53" cy="882.16" r="0.83"/><circle cx="129.04" cy="884.83" r="0.88"/><circle cx="134.7" cy="898.95" r="0.59"/><circle cx="133.92" cy="884.68" r="0.7"/><circle cx="131.59" cy="885.38" r="0.83"/><circle cx="124.05" cy="892.28" r="0.89"/><circle cx="129.75" cy="876.53" r="0.86"/><circle cx="132.5" cy="879.35" r="0.71"/><circle cx="129.42" cy="898.82" r="0.94"/><circle cx="133.67" cy="878.29" r="0.53"/></g><g fill="#6a3414"><circle cx="147.17" cy="885.78" r="0.53"/><circle cx="143.71" cy="889.21" r="0.88"/><circle cx="144.29" cy="885.34" r="0.94"/><circle cx="146.17" cy="887.05" r="0.61"/><circle cx="148.82" cy="895.03" r="0.7"/><circle cx="139.47" cy="891.03" r="0.72"/><circle cx="143.09" cy="886.13" r="0.55"/><circle cx="139.63" cy="886.59" r="0.75"/><circle cx="145.51" cy="890.66" r="0.5"/><circle cx="140.67" cy="893.96" r="0.95"/><circle cx="140.88" cy="886.73" r="0.74"/><circle cx="148.02" cy="895.84" r="0.5"/><circle cx="147.8" cy="892.51" r="0.93"/><circle cx="145.11" cy="885.49" r="1"/><circle cx="149.57" cy="892.41" r="0.59"/><circle cx="146.89" cy="895.99" r="0.83"/><circle cx="143.4" cy="885.5" r="0.59"/><circle cx="143.55" cy="883.77" r="0.62"/><circle cx="147.61" cy="887.4" r="0.91"/><circle cx="145.72" cy="891.35" r="0.96"/><circle cx="144.14" cy="895.69" r="0.93"/><circle cx="145.02" cy="887.08" r="0.91"/></g><g fill="#5c2a10"><circle cx="116.18" cy="852.6" r="0.65"/><circle cx="113.11" cy="864.45" r="0.92"/><circle cx="118.39" cy="859.87" r="0.88"/><circle cx="118.75" cy="863.41" r="0.66"/><circle cx="115.22" cy="862.43" r="0.93"/><circle cx="120.56" cy="853.48" r="0.65"/><circle cx="121.46" cy="859.1" r="0.95"/><circle cx="116.18" cy="861.21" r="0.93"/></g></g></g>
<line x1="171.5" y1="899.5" x2="177" y2="899.5" stroke="#fff" stroke-width="0.9"/>
<clipPath id="c25"><rect x="188" y="796.3" width="66" height="48.2"/></clipPath>
<g clip-path="url(#c25)"><g filter="url(#tb)"><rect x="186" y="794.3" width="70" height="52.2" fill="#92a4c8"/><g fill="#aabbe0"><circle cx="212.55" cy="841.79" r="2.38"/><circle cx="201.37" cy="839.03" r="2.09"/><circle cx="189.59" cy="843.11" r="1.56"/><circle cx="207.68" cy="816.59" r="2.02"/><circle cx="195.22" cy="829.76" r="2.37"/><circle cx="221.85" cy="835.16" r="2.07"/><circle cx="243.3" cy="804.41" r="1.7"/><circle cx="218.9" cy="800.55" r="2.56"/><circle cx="230.34" cy="800.26" r="2.02"/><circle cx="215.13" cy="804.83" r="1.43"/><circle cx="218.31" cy="798.86" r="1.99"/><circle cx="222.02" cy="801.71" r="2.43"/><circle cx="189.46" cy="803.96" r="2.34"/><circle cx="201.84" cy="816.6" r="1.98"/><circle cx="216.58" cy="820.11" r="1.91"/><circle cx="219.82" cy="798.22" r="2.34"/><circle cx="206.09" cy="797.73" r="1.77"/><circle cx="242.58" cy="826.86" r="1.84"/><circle cx="219.49" cy="806.35" r="2.07"/><circle cx="210.74" cy="798.55" r="1.38"/><circle cx="193.04" cy="829.65" r="2.44"/><circle cx="238.54" cy="806.34" r="1.41"/><circle cx="251.92" cy="814.08" r="1.43"/><circle cx="225.9" cy="826.35" r="1.96"/><circle cx="217.7" cy="810.56" r="1.89"/><circle cx="218.08" cy="829.49" r="1.83"/><circle cx="211.04" cy="844.77" r="1.36"/><circle cx="238.55" cy="816.25" r="2.33"/><circle cx="235.29" cy="823.72" r="2.05"/><circle cx="202.44" cy="796.14" r="2.25"/><circle cx="204.45" cy="800.91" r="2.34"/><circle cx="227.24" cy="796.96" r="1.93"/><circle cx="197.91" cy="838.71" r="1.58"/><circle cx="251.19" cy="826.04" r="1.31"/><circle cx="214.74" cy="843.78" r="2.18"/><circle cx="197.31" cy="813.78" r="1.58"/><circle cx="193.09" cy="825.1" r="2.17"/><circle cx="201.56" cy="823" r="2.41"/><circle cx="247.93" cy="803.92" r="1.3"/><circle cx="249.3" cy="811.7" r="1.43"/><circle cx="241.51" cy="808.58" r="2.21"/><circle cx="234.1" cy="810.01" r="1.85"/><circle cx="206.55" cy="835.76" r="1.6"/><circle cx="205.47" cy="838.32" r="1.59"/><circle cx="216.65" cy="821.2" r="1.2"/><circle cx="206.37" cy="832.61" r="2.57"/><circle cx="210.14" cy="819.24" r="1.28"/><circle cx="220.18" cy="813.37" r="1.9"/><circle cx="207.18" cy="811.07" r="2.48"/><circle cx="240.02" cy="813.39" r="1.3"/><circle cx="190.26" cy="800.17" r="1.38"/><circle cx="226.67" cy="821.45" r="1.38"/><circle cx="246.96" cy="828.94" r="2.19"/><circle cx="248.15" cy="811.07" r="2.46"/><circle cx="253.68" cy="840.89" r="1.26"/><circle cx="245.08" cy="844.68" r="1.35"/><circle cx="246.08" cy="836.21" r="1.25"/><circle cx="235.25" cy="833.4" r="2.25"/><circle cx="190.65" cy="843.95" r="1.3"/><circle cx="192.49" cy="842.82" r="1.87"/></g><path d="M211.76 795.34 L221 810.76 L227.6 825.22 L231.56 845.46" stroke="#b4c4e4" stroke-width="2.4" fill="none" stroke-linejoin="round" stroke-linecap="round"/><path d="M239.48 801.12 L244.1 820.4 L252.68 834.86" stroke="#b0c0e2" stroke-width="1.5" fill="none" stroke-linejoin="round" stroke-linecap="round"/><g fill="#5e7098"><circle cx="198.93" cy="815.12" r="0.73"/><circle cx="205.1" cy="841.18" r="0.75"/><circle cx="213.2" cy="813.72" r="0.5"/><circle cx="254.35" cy="810.74" r="0.87"/><circle cx="223.74" cy="822.27" r="0.53"/><circle cx="221.18" cy="800.28" r="0.65"/><circle cx="228.78" cy="841.74" r="0.55"/><circle cx="199.14" cy="834.82" r="0.51"/><circle cx="200.04" cy="819.31" r="0.64"/><circle cx="254.83" cy="798.61" r="0.84"/><circle cx="218.43" cy="802.27" r="0.56"/><circle cx="249.06" cy="804.2" r="0.64"/><circle cx="189.35" cy="819.73" r="0.77"/><circle cx="237.21" cy="812.39" r="0.64"/><circle cx="243.34" cy="839.32" r="0.65"/><circle cx="190.48" cy="842.4" r="0.61"/><circle cx="219.34" cy="797.69" r="0.46"/><circle cx="194.46" cy="822.61" r="0.57"/><circle cx="241.15" cy="802.65" r="0.74"/><circle cx="188.15" cy="813.34" r="0.87"/><circle cx="204.32" cy="811.07" r="0.46"/><circle cx="246.56" cy="820.06" r="0.56"/><circle cx="225.17" cy="808.73" r="0.85"/><circle cx="215.87" cy="798.71" r="0.55"/><circle cx="190.35" cy="833.6" r="0.5"/><circle cx="219.95" cy="825.07" r="0.49"/><circle cx="230.7" cy="826.8" r="0.87"/><circle cx="250.98" cy="844.39" r="0.69"/><circle cx="220.05" cy="816.89" r="0.51"/><circle cx="227.52" cy="845.42" r="0.68"/><circle cx="245.26" cy="808.59" r="0.62"/><circle cx="215.74" cy="843.97" r="0.62"/><circle cx="238.86" cy="802.77" r="0.79"/><circle cx="219.15" cy="845.05" r="0.46"/><circle cx="204.63" cy="839.8" r="0.65"/><circle cx="205.83" cy="838.94" r="0.64"/><circle cx="247.04" cy="822.69" r="0.48"/><circle cx="193.53" cy="838.82" r="0.86"/><circle cx="198.27" cy="845.17" r="0.83"/><circle cx="223.36" cy="834.05" r="0.69"/><circle cx="189.03" cy="810.07" r="0.6"/><circle cx="248.09" cy="809.07" r="0.76"/><circle cx="230.12" cy="801.23" r="0.66"/><circle cx="224.4" cy="831.71" r="0.61"/><circle cx="254.45" cy="835.71" r="0.46"/><circle cx="247.15" cy="825.94" r="0.87"/><circle cx="202.39" cy="834.08" r="0.77"/><circle cx="214.11" cy="813.12" r="0.72"/><circle cx="253.85" cy="829.73" r="0.74"/><circle cx="233.75" cy="837.56" r="0.72"/><circle cx="235.49" cy="797.22" r="0.84"/><circle cx="252.79" cy="824.28" r="0.71"/><circle cx="250.83" cy="823.68" r="0.85"/><circle cx="224.26" cy="823.9" r="0.86"/><circle cx="250.08" cy="825.22" r="0.69"/><circle cx="224.6" cy="818.82" r="0.62"/><circle cx="202.27" cy="809.82" r="0.55"/><circle cx="251.37" cy="815.72" r="0.84"/><circle cx="219.02" cy="845.27" r="0.72"/><circle cx="210.19" cy="816.63" r="0.57"/><circle cx="209.22" cy="809.69" r="0.58"/><circle cx="213.09" cy="796.6" r="0.88"/><circle cx="242.19" cy="812.44" r="0.83"/><circle cx="190.06" cy="826.24" r="0.72"/><circle cx="247.18" cy="844.45" r="0.72"/><circle cx="243.65" cy="830.35" r="0.49"/><circle cx="194.12" cy="801.02" r="0.79"/><circle cx="219.05" cy="813.02" r="0.67"/><circle cx="251.12" cy="819.53" r="0.83"/><circle cx="211.85" cy="828.14" r="0.8"/><circle cx="199.26" cy="840.97" r="0.54"/><circle cx="197.44" cy="843.91" r="0.56"/><circle cx="216.17" cy="842.46" r="0.54"/><circle cx="231.92" cy="831.27" r="0.49"/><circle cx="194.49" cy="844.55" r="0.82"/><circle cx="232.48" cy="827" r="0.67"/><circle cx="249.11" cy="796.55" r="0.58"/><circle cx="206.32" cy="827.48" r="0.87"/><circle cx="203.71" cy="800.86" r="0.56"/><circle cx="245.36" cy="826.39" r="0.52"/><circle cx="235.33" cy="815.8" r="0.48"/><circle cx="208.52" cy="838.14" r="0.88"/><circle cx="213.33" cy="834.43" r="0.87"/><circle cx="194" cy="804.91" r="0.6"/><circle cx="209.37" cy="827.39" r="0.89"/><circle cx="200.24" cy="809.24" r="0.68"/><circle cx="236.83" cy="802.78" r="0.7"/><circle cx="229.3" cy="833.98" r="0.61"/><circle cx="208.64" cy="824.24" r="0.62"/><circle cx="217.41" cy="834.3" r="0.89"/><circle cx="254.7" cy="804.08" r="0.69"/><circle cx="223.94" cy="823" r="0.54"/><circle cx="208.91" cy="815.15" r="0.54"/><circle cx="220.07" cy="840.86" r="0.75"/><circle cx="197.53" cy="807.91" r="0.61"/><circle cx="243.39" cy="796.92" r="0.49"/><circle cx="244.42" cy="813.64" r="0.53"/><circle cx="223.87" cy="797.36" r="0.77"/><circle cx="247.72" cy="798.29" r="0.69"/><circle cx="250.52" cy="811" r="0.58"/><circle cx="247.26" cy="795.41" r="0.47"/><circle cx="227.77" cy="836.75" r="0.71"/><circle cx="233.8" cy="816.08" r="0.88"/><circle cx="208.35" cy="823.53" r="0.53"/><circle cx="207.51" cy="826.27" r="0.48"/><circle cx="238.55" cy="807.41" r="0.8"/><circle cx="196.06" cy="826.83" r="0.67"/><circle cx="203.51" cy="834.77" r="0.76"/><circle cx="214.52" cy="822.92" r="0.64"/><circle cx="239.26" cy="797.05" r="0.47"/><circle cx="225.85" cy="798.49" r="0.85"/><circle cx="247.78" cy="807.05" r="0.53"/><circle cx="246.5" cy="798.72" r="0.68"/><circle cx="194.45" cy="845.05" r="0.64"/><circle cx="232.94" cy="809.8" r="0.84"/><circle cx="236.65" cy="795.61" r="0.49"/><circle cx="207.58" cy="811.65" r="0.46"/><circle cx="229.43" cy="796.62" r="0.69"/><circle cx="238.24" cy="809.39" r="0.59"/><circle cx="245.54" cy="833.95" r="0.79"/><circle cx="193.39" cy="808.15" r="0.62"/><circle cx="220.41" cy="833.31" r="0.86"/><circle cx="226.37" cy="798.84" r="0.46"/><circle cx="214.14" cy="842.65" r="0.48"/><circle cx="253.71" cy="796.03" r="0.46"/><circle cx="219.11" cy="798.88" r="0.6"/><circle cx="253.97" cy="844.09" r="0.81"/><circle cx="233.38" cy="813.16" r="0.63"/><circle cx="222.82" cy="812.38" r="0.73"/><circle cx="200.73" cy="821.32" r="0.63"/><circle cx="195.77" cy="803.69" r="0.65"/><circle cx="211.63" cy="814.67" r="0.87"/><circle cx="206.21" cy="814.18" r="0.62"/><circle cx="251.76" cy="844.83" r="0.79"/><circle cx="186.97" cy="821.66" r="0.88"/><circle cx="203.67" cy="833.59" r="0.76"/><circle cx="223.86" cy="842.63" r="0.57"/><circle cx="252.75" cy="810.26" r="0.83"/><circle cx="234.11" cy="823.87" r="0.65"/><circle cx="197.47" cy="812.63" r="0.84"/><circle cx="223.94" cy="802.25" r="0.72"/><circle cx="222.44" cy="839.71" r="0.85"/><circle cx="246.98" cy="802.93" r="0.68"/><circle cx="220.86" cy="816.96" r="0.84"/><circle cx="251.79" cy="801.74" r="0.81"/><circle cx="215.01" cy="815.56" r="0.46"/><circle cx="221.75" cy="826.07" r="0.77"/><circle cx="195.99" cy="809.82" r="0.69"/><circle cx="205.13" cy="839.25" r="0.65"/><circle cx="188.85" cy="822.53" r="0.53"/><circle cx="236.98" cy="815.74" r="0.86"/><circle cx="197.73" cy="830.41" r="0.76"/><circle cx="211.75" cy="837.41" r="0.82"/><circle cx="252.35" cy="825.42" r="0.54"/><circle cx="243.74" cy="804.45" r="0.77"/><circle cx="207.43" cy="814.76" r="0.6"/><circle cx="229.09" cy="838.76" r="0.82"/><circle cx="187.64" cy="838.06" r="0.76"/><circle cx="212.7" cy="839.34" r="0.57"/><circle cx="244.73" cy="843.06" r="0.77"/><circle cx="210.27" cy="813.99" r="0.58"/><circle cx="215.98" cy="803.05" r="0.84"/><circle cx="210.42" cy="806.36" r="0.54"/><circle cx="227.58" cy="798.27" r="0.81"/><circle cx="245.42" cy="810.96" r="0.53"/><circle cx="253.08" cy="816.02" r="0.89"/><circle cx="233.66" cy="828.11" r="0.7"/><circle cx="191.97" cy="802.59" r="0.78"/><circle cx="211.03" cy="810.72" r="0.87"/><circle cx="203.82" cy="820.67" r="0.66"/><circle cx="244.77" cy="804.88" r="0.6"/><circle cx="210.01" cy="802.88" r="0.66"/><circle cx="238.54" cy="832.84" r="0.6"/><circle cx="232.16" cy="819.42" r="0.62"/><circle cx="237.89" cy="825.7" r="0.5"/><circle cx="211.63" cy="828.02" r="0.58"/><circle cx="228.24" cy="805.09" r="0.57"/><circle cx="200.83" cy="836.32" r="0.66"/><circle cx="194.67" cy="825.16" r="0.54"/><circle cx="188.57" cy="842.84" r="0.49"/><circle cx="251.93" cy="815.14" r="0.5"/><circle cx="245.53" cy="828.05" r="0.73"/><circle cx="196.68" cy="842.93" r="0.83"/><circle cx="223.53" cy="816" r="0.9"/><circle cx="250.89" cy="811.85" r="0.64"/><circle cx="224.38" cy="829" r="0.9"/><circle cx="239.91" cy="806.34" r="0.5"/><circle cx="189.55" cy="800.96" r="0.5"/><circle cx="212.01" cy="822.34" r="0.68"/><circle cx="226.49" cy="833.32" r="0.45"/><circle cx="235.22" cy="802.43" r="0.79"/><circle cx="245.99" cy="800.13" r="0.73"/><circle cx="197.21" cy="822.53" r="0.54"/><circle cx="236.15" cy="813.05" r="0.88"/><circle cx="224.31" cy="837.28" r="0.58"/><circle cx="244.93" cy="800.55" r="0.79"/><circle cx="245.42" cy="799.26" r="0.69"/><circle cx="199.01" cy="805.7" r="0.83"/><circle cx="194.62" cy="835.13" r="0.67"/><circle cx="196.52" cy="809.08" r="0.72"/><circle cx="199.84" cy="829.38" r="0.89"/><circle cx="254.73" cy="800.6" r="0.47"/><circle cx="212.02" cy="836.42" r="0.86"/><circle cx="219.39" cy="813.33" r="0.58"/><circle cx="241.06" cy="827.96" r="0.62"/><circle cx="225.99" cy="819.84" r="0.81"/><circle cx="245.99" cy="843.51" r="0.8"/><circle cx="226.51" cy="835.59" r="0.55"/><circle cx="242.54" cy="802.61" r="0.84"/><circle cx="238.03" cy="803.63" r="0.82"/><circle cx="214.17" cy="821.7" r="0.52"/><circle cx="216.25" cy="819.06" r="0.68"/><circle cx="215.86" cy="795.74" r="0.78"/><circle cx="250.39" cy="815.19" r="0.75"/><circle cx="238.77" cy="804.61" r="0.72"/><circle cx="229.07" cy="837.84" r="0.77"/><circle cx="224.18" cy="806.44" r="0.46"/><circle cx="193.16" cy="838.25" r="0.86"/><circle cx="203" cy="832.53" r="0.55"/><circle cx="219.35" cy="803.06" r="0.65"/><circle cx="195.24" cy="834.84" r="0.67"/><circle cx="203.4" cy="840.07" r="0.55"/><circle cx="206.5" cy="823.82" r="0.54"/><circle cx="252.42" cy="814.12" r="0.51"/><circle cx="200.69" cy="809.78" r="0.89"/><circle cx="196.35" cy="811.11" r="0.47"/><circle cx="251.46" cy="830.41" r="0.46"/><circle cx="240.66" cy="810.15" r="0.66"/><circle cx="192.37" cy="797.97" r="0.8"/><circle cx="234.01" cy="826.8" r="0.75"/><circle cx="234.12" cy="803" r="0.66"/><circle cx="219.76" cy="815.73" r="0.79"/><circle cx="208.88" cy="826.51" r="0.45"/><circle cx="191.36" cy="821.55" r="0.8"/><circle cx="244.89" cy="844.04" r="0.62"/><circle cx="242.46" cy="838.69" r="0.79"/><circle cx="213.25" cy="821.33" r="0.75"/><circle cx="202.28" cy="807.72" r="0.46"/><circle cx="246.95" cy="812.01" r="0.5"/><circle cx="219.6" cy="812.96" r="0.48"/><circle cx="237.03" cy="824.28" r="0.72"/><circle cx="251.61" cy="830.67" r="0.56"/><circle cx="240.32" cy="844.69" r="0.74"/><circle cx="218.17" cy="816.07" r="0.49"/><circle cx="240.51" cy="831.91" r="0.53"/><circle cx="203.17" cy="816.59" r="0.79"/><circle cx="200.89" cy="836.07" r="0.86"/><circle cx="197.96" cy="806.16" r="0.49"/><circle cx="218.34" cy="831.94" r="0.5"/><circle cx="210.41" cy="813.36" r="0.63"/><circle cx="215.24" cy="797.12" r="0.82"/><circle cx="242.08" cy="798.67" r="0.49"/><circle cx="196.42" cy="835.52" r="0.47"/><circle cx="238.74" cy="812.13" r="0.84"/><circle cx="209.89" cy="834.69" r="0.47"/><circle cx="212.03" cy="805.21" r="0.68"/><circle cx="249.86" cy="835.26" r="0.62"/><circle cx="201.67" cy="799.94" r="0.74"/><circle cx="242.66" cy="816.68" r="0.86"/><circle cx="196.22" cy="803.59" r="0.49"/><circle cx="221.53" cy="800.8" r="0.77"/><circle cx="240.69" cy="809.54" r="0.87"/><circle cx="186.79" cy="830.75" r="0.7"/><circle cx="218.94" cy="812.78" r="0.85"/><circle cx="190.03" cy="832.99" r="0.68"/><circle cx="225.63" cy="801.01" r="0.78"/><circle cx="216.47" cy="805.64" r="0.65"/><circle cx="235.07" cy="827.44" r="0.9"/><circle cx="230.71" cy="845.28" r="0.46"/><circle cx="230.99" cy="839.15" r="0.61"/><circle cx="198.59" cy="797.66" r="0.59"/><circle cx="238.36" cy="803.76" r="0.6"/><circle cx="217.08" cy="797.82" r="0.52"/><circle cx="207.97" cy="834.28" r="0.8"/><circle cx="210.57" cy="811.08" r="0.56"/><circle cx="219.64" cy="828.98" r="0.83"/><circle cx="252.23" cy="813.36" r="0.62"/><circle cx="202.73" cy="819.58" r="0.48"/><circle cx="209.52" cy="798.55" r="0.6"/><circle cx="245.32" cy="815.53" r="0.9"/><circle cx="244.8" cy="827.43" r="0.86"/><circle cx="224.93" cy="839.96" r="0.57"/><circle cx="205.6" cy="839.31" r="0.75"/><circle cx="226.08" cy="808.55" r="0.69"/><circle cx="206.48" cy="797.89" r="0.77"/><circle cx="234.7" cy="819.49" r="0.87"/><circle cx="191.88" cy="830.57" r="0.5"/><circle cx="236.55" cy="840.93" r="0.46"/><circle cx="248.93" cy="829.95" r="0.67"/><circle cx="226.03" cy="797.23" r="0.46"/><circle cx="228.1" cy="803.09" r="0.52"/><circle cx="212.26" cy="821.69" r="0.79"/><circle cx="232.72" cy="823.46" r="0.46"/><circle cx="247.58" cy="795.97" r="0.89"/><circle cx="218.88" cy="831.59" r="0.72"/><circle cx="210.98" cy="828.18" r="0.78"/><circle cx="203.96" cy="836.11" r="0.63"/><circle cx="205.17" cy="810.64" r="0.76"/><circle cx="202.83" cy="812.19" r="0.45"/><circle cx="188.15" cy="842.52" r="0.64"/></g><g fill="#c0cce6"><circle cx="246.74" cy="831.78" r="1.11"/><circle cx="201.31" cy="820.45" r="1.12"/><circle cx="212.91" cy="808.9" r="1.12"/><circle cx="223.08" cy="831.68" r="0.67"/><circle cx="240.22" cy="816.44" r="1.1"/><circle cx="220.19" cy="816.31" r="0.61"/><circle cx="243.89" cy="810.49" r="0.96"/><circle cx="224.93" cy="818.73" r="0.83"/><circle cx="204.18" cy="798.97" r="0.69"/><circle cx="202.84" cy="806.95" r="1.15"/><circle cx="250.81" cy="817.65" r="1.19"/><circle cx="187.08" cy="799.1" r="0.84"/><circle cx="203.01" cy="827.56" r="0.82"/><circle cx="200.92" cy="798.6" r="1.16"/><circle cx="206.9" cy="833.27" r="0.87"/><circle cx="188.57" cy="837.07" r="0.65"/><circle cx="205.08" cy="798.15" r="0.81"/><circle cx="248.14" cy="798.69" r="0.62"/><circle cx="214.15" cy="828.28" r="0.71"/><circle cx="221.71" cy="808.77" r="1.18"/><circle cx="210.29" cy="840.87" r="0.68"/><circle cx="252.79" cy="826.83" r="1.19"/><circle cx="191.75" cy="798.31" r="1.2"/><circle cx="191.54" cy="808.85" r="1.17"/><circle cx="194.82" cy="829.01" r="0.66"/><circle cx="214.43" cy="803.6" r="1.04"/><circle cx="198.98" cy="816.73" r="0.58"/><circle cx="238.94" cy="839.35" r="0.83"/><circle cx="241.47" cy="832.4" r="0.96"/><circle cx="247.81" cy="845.39" r="0.76"/><circle cx="218.29" cy="840.84" r="0.84"/><circle cx="198.08" cy="834.39" r="0.51"/><circle cx="252.73" cy="832.9" r="1.17"/><circle cx="239.74" cy="813.87" r="1.1"/><circle cx="222.61" cy="801.47" r="0.65"/><circle cx="213.82" cy="826" r="0.76"/><circle cx="235.54" cy="798.66" r="0.77"/><circle cx="243.92" cy="838.26" r="1.15"/><circle cx="225.84" cy="842.02" r="0.97"/><circle cx="233.41" cy="805.08" r="0.78"/><circle cx="239.4" cy="835.3" r="0.9"/><circle cx="202.54" cy="827.68" r="0.74"/><circle cx="205.32" cy="822.65" r="1.04"/><circle cx="205.71" cy="796.88" r="1.16"/><circle cx="254.93" cy="823.89" r="0.79"/><circle cx="196.66" cy="833.4" r="0.54"/><circle cx="206.62" cy="818.86" r="0.67"/><circle cx="200.35" cy="808.51" r="1.14"/><circle cx="208.44" cy="803.36" r="0.79"/><circle cx="191.39" cy="823.24" r="0.95"/><circle cx="236.29" cy="802.76" r="1.2"/><circle cx="243.49" cy="837.37" r="0.89"/><circle cx="248.29" cy="839.51" r="0.83"/><circle cx="232.76" cy="806.83" r="0.86"/><circle cx="202.05" cy="827.85" r="0.69"/><circle cx="207.77" cy="831.31" r="0.72"/><circle cx="248.84" cy="837.23" r="1.18"/><circle cx="205.19" cy="816" r="1.06"/><circle cx="254.2" cy="828.67" r="0.65"/><circle cx="190.45" cy="809.67" r="0.81"/><circle cx="243.39" cy="796.1" r="0.95"/><circle cx="241.45" cy="806.68" r="0.74"/><circle cx="246.83" cy="809.5" r="1.02"/><circle cx="232.33" cy="803.98" r="0.78"/><circle cx="232.81" cy="833.85" r="0.91"/><circle cx="248.24" cy="806.41" r="0.67"/><circle cx="248.49" cy="837.68" r="0.94"/><circle cx="187.8" cy="833.84" r="0.79"/><circle cx="204.45" cy="844.79" r="1.03"/><circle cx="225.33" cy="827.04" r="0.78"/><circle cx="247.45" cy="836.02" r="0.59"/><circle cx="205.17" cy="808.85" r="1.11"/><circle cx="228.99" cy="822.86" r="1.19"/><circle cx="233.16" cy="814.16" r="0.61"/><circle cx="190.13" cy="811.36" r="0.83"/><circle cx="219.32" cy="845.27" r="0.66"/><circle cx="220.81" cy="843.49" r="1.05"/><circle cx="229.64" cy="822.53" r="0.91"/><circle cx="228.98" cy="842.03" r="1.13"/><circle cx="251.26" cy="841.91" r="0.88"/><circle cx="222.99" cy="840.68" r="1.11"/><circle cx="195.95" cy="843.94" r="0.77"/><circle cx="211.32" cy="825.24" r="0.7"/><circle cx="191.31" cy="796.7" r="0.78"/><circle cx="214.8" cy="831.98" r="0.69"/><circle cx="224.3" cy="826.31" r="0.82"/><circle cx="222.36" cy="842.72" r="0.89"/><circle cx="245.83" cy="840.15" r="0.98"/><circle cx="252.34" cy="821.82" r="0.97"/><circle cx="202.99" cy="833.85" r="0.66"/></g><g fill="#6e4030"><circle cx="203.36" cy="816.28" r="0.83"/><circle cx="189.59" cy="840.03" r="0.91"/><circle cx="191.23" cy="803.93" r="0.71"/><circle cx="187.93" cy="818.48" r="0.9"/><circle cx="198.27" cy="833.39" r="0.8"/><circle cx="209.05" cy="814.82" r="0.64"/><circle cx="203.94" cy="809.04" r="0.61"/><circle cx="196.31" cy="826.28" r="0.53"/><circle cx="192.1" cy="837.31" r="0.94"/><circle cx="197.81" cy="813.08" r="0.5"/><circle cx="200.18" cy="810.15" r="0.53"/><circle cx="187.87" cy="812.69" r="0.52"/><circle cx="195.22" cy="813.87" r="0.78"/><circle cx="187.17" cy="824.76" r="0.7"/><circle cx="201.33" cy="833.64" r="0.83"/><circle cx="196.87" cy="816.28" r="0.66"/><circle cx="198.62" cy="837.07" r="0.61"/><circle cx="198.78" cy="833.13" r="0.62"/><circle cx="188.52" cy="826.63" r="0.5"/><circle cx="188.6" cy="831.41" r="0.72"/><circle cx="189.21" cy="814.9" r="0.88"/><circle cx="188.46" cy="831.6" r="0.7"/><circle cx="192.35" cy="829.6" r="0.57"/><circle cx="187.17" cy="835.52" r="0.89"/><circle cx="190.34" cy="828.52" r="0.7"/><circle cx="190.14" cy="806.25" r="0.87"/><circle cx="198.01" cy="804.62" r="0.73"/><circle cx="198.82" cy="826.47" r="0.51"/><circle cx="191" cy="807.23" r="0.76"/><circle cx="192.49" cy="825.3" r="0.86"/><circle cx="208.19" cy="826.59" r="0.68"/><circle cx="203.83" cy="809.03" r="0.66"/><circle cx="188.39" cy="824.17" r="0.84"/><circle cx="205" cy="809.61" r="0.61"/><circle cx="209.65" cy="834.95" r="0.89"/><circle cx="196.11" cy="812.01" r="0.66"/><circle cx="200.31" cy="824.99" r="0.8"/><circle cx="191.07" cy="823.16" r="0.75"/><circle cx="187.03" cy="826.11" r="0.88"/><circle cx="193.8" cy="817" r="0.9"/><circle cx="195.7" cy="820.64" r="0.86"/><circle cx="195.95" cy="817.96" r="0.51"/><circle cx="198.19" cy="816.46" r="0.75"/><circle cx="191.55" cy="833.16" r="0.92"/><circle cx="205.55" cy="815.43" r="0.88"/><circle cx="192.5" cy="818.42" r="0.94"/><circle cx="199.78" cy="807.2" r="0.87"/><circle cx="188.05" cy="826.5" r="0.53"/><circle cx="190.1" cy="817.71" r="0.9"/><circle cx="202.13" cy="825.55" r="0.65"/><circle cx="191.22" cy="810.28" r="0.92"/><circle cx="208.13" cy="828.98" r="0.64"/><circle cx="199.52" cy="841.81" r="0.7"/><circle cx="197.65" cy="832.47" r="0.61"/><circle cx="199.96" cy="809.15" r="0.93"/><circle cx="206.93" cy="819.31" r="0.8"/><circle cx="194.08" cy="812.39" r="0.64"/><circle cx="200.97" cy="817.3" r="0.65"/><circle cx="198.51" cy="839.63" r="0.8"/><circle cx="196.71" cy="830.24" r="0.68"/><circle cx="206.24" cy="804.37" r="0.91"/><circle cx="189.92" cy="832.62" r="0.64"/><circle cx="204.92" cy="825.36" r="0.81"/><circle cx="201.47" cy="823.17" r="0.77"/><circle cx="208.66" cy="814.94" r="0.63"/><circle cx="195.32" cy="805.46" r="0.72"/><circle cx="198.97" cy="813.72" r="0.91"/><circle cx="187.21" cy="828.84" r="0.91"/><circle cx="199" cy="840.46" r="0.63"/><circle cx="198.8" cy="805.83" r="0.8"/><circle cx="193.67" cy="813.51" r="0.52"/><circle cx="189.65" cy="808.93" r="0.69"/><circle cx="202.67" cy="804" r="0.66"/><circle cx="194.1" cy="820.74" r="0.8"/><circle cx="190.81" cy="822.11" r="0.89"/><circle cx="187.29" cy="833.88" r="0.77"/><circle cx="206.02" cy="826.78" r="0.67"/><circle cx="205.07" cy="828.72" r="0.8"/><circle cx="199.34" cy="815.87" r="0.65"/><circle cx="192.99" cy="812.3" r="0.91"/></g><g fill="#603420"><circle cx="240.28" cy="806.53" r="0.67"/><circle cx="213.7" cy="800.9" r="0.51"/><circle cx="210.19" cy="795.52" r="0.67"/><circle cx="232.62" cy="797.45" r="0.7"/><circle cx="222.6" cy="808.82" r="0.55"/><circle cx="214.93" cy="809.13" r="0.89"/><circle cx="205.3" cy="805.14" r="0.85"/><circle cx="238.02" cy="802.23" r="0.62"/><circle cx="227.1" cy="799.68" r="0.6"/><circle cx="236.1" cy="799.2" r="0.89"/><circle cx="224.97" cy="799.03" r="0.64"/><circle cx="229.84" cy="797.52" r="0.86"/><circle cx="220.02" cy="805" r="0.92"/><circle cx="227.74" cy="806.19" r="0.89"/><circle cx="239.12" cy="806.81" r="0.76"/><circle cx="223.42" cy="808.38" r="0.84"/><circle cx="238.44" cy="796.27" r="0.82"/><circle cx="232.53" cy="800.17" r="0.68"/><circle cx="210.34" cy="810.26" r="0.64"/><circle cx="235.91" cy="799.91" r="0.56"/><circle cx="223.85" cy="798.89" r="0.73"/><circle cx="212.38" cy="808.62" r="0.83"/><circle cx="221.19" cy="802.06" r="0.54"/><circle cx="223.81" cy="801.37" r="0.92"/><circle cx="232.4" cy="798.09" r="0.71"/><circle cx="231.66" cy="804.49" r="0.69"/><circle cx="209.54" cy="796.58" r="0.69"/><circle cx="206.43" cy="800.02" r="0.6"/><circle cx="227.98" cy="807.88" r="0.67"/><circle cx="207.98" cy="806.39" r="0.63"/></g><g fill="#6e4030"><circle cx="235.05" cy="831.75" r="0.77"/><circle cx="239.08" cy="815.6" r="0.53"/><circle cx="214.5" cy="812.91" r="0.54"/><circle cx="189.98" cy="820.4" r="0.89"/><circle cx="252.79" cy="844.75" r="0.85"/><circle cx="219.91" cy="810.14" r="0.85"/><circle cx="220.37" cy="829.96" r="0.5"/><circle cx="216.78" cy="804.95" r="0.79"/><circle cx="251.76" cy="795.75" r="0.75"/><circle cx="188.2" cy="821.73" r="0.57"/><circle cx="210.14" cy="818.93" r="0.72"/><circle cx="191.45" cy="808.24" r="0.9"/><circle cx="207.23" cy="821.04" r="0.64"/><circle cx="188.52" cy="827.79" r="0.53"/><circle cx="207.49" cy="819.46" r="0.53"/><circle cx="238.79" cy="801.61" r="0.81"/><circle cx="225.2" cy="830.85" r="0.65"/><circle cx="240.3" cy="838.72" r="0.89"/><circle cx="199.01" cy="810.61" r="0.82"/><circle cx="229.4" cy="804.13" r="0.77"/></g></g></g>
<line x1="246" y1="842.3" x2="251.5" y2="842.3" stroke="#fff" stroke-width="0.9"/>
<clipPath id="c26"><rect x="188" y="853.4" width="66" height="48.3"/></clipPath>
<g clip-path="url(#c26)"><g filter="url(#tb)"><rect x="186" y="851.4" width="70" height="52.3" fill="#90a2c6"/><g fill="#aabbe0"><circle cx="237.97" cy="862.62" r="1.49"/><circle cx="227.92" cy="855.29" r="2.29"/><circle cx="239.15" cy="854.53" r="2.16"/><circle cx="221.19" cy="884.35" r="2.54"/><circle cx="254.41" cy="872.99" r="2.38"/><circle cx="240.65" cy="901.25" r="1.24"/><circle cx="251.06" cy="863.6" r="1.38"/><circle cx="227.69" cy="894.57" r="2.54"/><circle cx="211.68" cy="894.01" r="1.24"/><circle cx="253.16" cy="867.18" r="1.96"/><circle cx="195.21" cy="854.64" r="1.21"/><circle cx="227.87" cy="880.62" r="2.34"/><circle cx="245.1" cy="873.7" r="2.39"/><circle cx="200.46" cy="896.68" r="1.55"/><circle cx="251.18" cy="871.74" r="1.8"/><circle cx="222.26" cy="855.39" r="1.3"/><circle cx="224.08" cy="888.3" r="1.26"/><circle cx="214.6" cy="871.02" r="2.29"/><circle cx="254.66" cy="856.98" r="1.96"/><circle cx="193.83" cy="891.8" r="2.52"/><circle cx="235.17" cy="881.65" r="1.26"/><circle cx="193.29" cy="864.47" r="1.31"/><circle cx="195.86" cy="900.62" r="1.69"/><circle cx="248.93" cy="890.65" r="2.29"/><circle cx="249.34" cy="887.49" r="1.69"/><circle cx="218.92" cy="872.03" r="1.25"/><circle cx="189.71" cy="880.95" r="1.93"/><circle cx="253.43" cy="883.61" r="2.35"/><circle cx="219.39" cy="881.67" r="2.34"/><circle cx="189.02" cy="853.4" r="1.8"/><circle cx="206.74" cy="873.94" r="1.29"/><circle cx="198.27" cy="857.38" r="2.05"/><circle cx="188.95" cy="853.46" r="2.15"/><circle cx="215.73" cy="853.58" r="2.52"/><circle cx="220.35" cy="899.51" r="2.11"/><circle cx="224.22" cy="872.29" r="1.34"/><circle cx="252.97" cy="874.52" r="1.63"/><circle cx="196.67" cy="882.36" r="2.58"/><circle cx="214.26" cy="892.97" r="2.18"/><circle cx="222.04" cy="885.25" r="2.23"/><circle cx="250.4" cy="854.65" r="1.4"/><circle cx="203.31" cy="855.81" r="1.59"/><circle cx="216.57" cy="863.4" r="1.9"/><circle cx="187.14" cy="898.34" r="2.2"/><circle cx="193.79" cy="863.14" r="2.26"/><circle cx="196.48" cy="889.31" r="1.25"/><circle cx="229.37" cy="886.62" r="1.96"/><circle cx="241.22" cy="899.63" r="2.58"/><circle cx="190.33" cy="876.77" r="1.36"/><circle cx="237.76" cy="862.78" r="1.43"/><circle cx="190.75" cy="853.22" r="1.57"/><circle cx="200.08" cy="878.74" r="2.35"/><circle cx="236.17" cy="868.72" r="1.56"/><circle cx="240.15" cy="866.26" r="2.11"/><circle cx="253.3" cy="881.59" r="1.86"/><circle cx="190.05" cy="865.58" r="2.53"/><circle cx="190.58" cy="855.15" r="2.04"/><circle cx="207.8" cy="882.51" r="1.53"/><circle cx="201.77" cy="865.09" r="2.2"/><circle cx="234.32" cy="853.85" r="2.19"/></g><path d="M186.68 879.97 L207.8 883.35 L224.3 887.21 L237.5 879.97 L255.32 867.89" stroke="#b4c4e4" stroke-width="2" fill="none" stroke-linejoin="round" stroke-linecap="round"/><path d="M221 852.43 L226.28 867.89 L234.2 881.41" stroke="#b4c4e4" stroke-width="1.6" fill="none" stroke-linejoin="round" stroke-linecap="round"/><g fill="#5e7098"><circle cx="239.02" cy="875.94" r="0.49"/><circle cx="187.59" cy="901.61" r="0.49"/><circle cx="186.75" cy="855.46" r="0.86"/><circle cx="255.25" cy="890.64" r="0.87"/><circle cx="242.21" cy="856.06" r="0.62"/><circle cx="230.69" cy="887.01" r="0.79"/><circle cx="234.21" cy="858.38" r="0.63"/><circle cx="251.63" cy="884.8" r="0.54"/><circle cx="215.34" cy="900.42" r="0.57"/><circle cx="193.58" cy="893.19" r="0.74"/><circle cx="212.01" cy="875.89" r="0.57"/><circle cx="234.1" cy="867.55" r="0.7"/><circle cx="250" cy="885.45" r="0.61"/><circle cx="196.03" cy="877.42" r="0.47"/><circle cx="239.73" cy="875.9" r="0.65"/><circle cx="207.14" cy="887.66" r="0.65"/><circle cx="217.02" cy="862.81" r="0.49"/><circle cx="191.93" cy="864.13" r="0.78"/><circle cx="232.16" cy="862.22" r="0.46"/><circle cx="205.19" cy="886.73" r="0.56"/><circle cx="218.24" cy="858.39" r="0.81"/><circle cx="226.23" cy="874.56" r="0.9"/><circle cx="221.58" cy="866.27" r="0.76"/><circle cx="251.96" cy="883.82" r="0.87"/><circle cx="224.55" cy="867.41" r="0.74"/><circle cx="191.27" cy="901.94" r="0.68"/><circle cx="188.94" cy="867.64" r="0.73"/><circle cx="245.39" cy="898.63" r="0.61"/><circle cx="247.98" cy="877.97" r="0.71"/><circle cx="246.42" cy="888.44" r="0.7"/><circle cx="187.79" cy="869.42" r="0.78"/><circle cx="215.18" cy="853.8" r="0.84"/><circle cx="211.59" cy="889.51" r="0.61"/><circle cx="211.86" cy="882.11" r="0.68"/><circle cx="250.12" cy="881.89" r="0.61"/><circle cx="224.83" cy="890.26" r="0.78"/><circle cx="187.69" cy="878.58" r="0.85"/><circle cx="218.99" cy="860.46" r="0.51"/><circle cx="223.41" cy="893.16" r="0.79"/><circle cx="213.65" cy="855.11" r="0.59"/><circle cx="227.29" cy="877.21" r="0.63"/><circle cx="200.69" cy="875.13" r="0.52"/><circle cx="230.3" cy="859.91" r="0.52"/><circle cx="250.87" cy="853.61" r="0.61"/><circle cx="220.73" cy="857.66" r="0.61"/><circle cx="247.5" cy="891.04" r="0.6"/><circle cx="213.45" cy="866.28" r="0.83"/><circle cx="208.34" cy="890.43" r="0.88"/><circle cx="206.33" cy="884.14" r="0.82"/><circle cx="223.53" cy="899.07" r="0.58"/><circle cx="219.05" cy="870.31" r="0.58"/><circle cx="252.16" cy="855.45" r="0.61"/><circle cx="254.26" cy="865.77" r="0.75"/><circle cx="246.62" cy="864.27" r="0.55"/><circle cx="233.29" cy="855.73" r="0.72"/><circle cx="247.71" cy="897.9" r="0.86"/><circle cx="219.77" cy="893.37" r="0.88"/><circle cx="234.83" cy="865.21" r="0.79"/><circle cx="221.98" cy="873.89" r="0.52"/><circle cx="243.21" cy="885.97" r="0.47"/><circle cx="200.54" cy="854.46" r="0.7"/><circle cx="236.03" cy="869.61" r="0.53"/><circle cx="213.48" cy="883.19" r="0.47"/><circle cx="192.19" cy="885.66" r="0.86"/><circle cx="226" cy="856.27" r="0.68"/><circle cx="204.93" cy="879.65" r="0.57"/><circle cx="204.33" cy="900.71" r="0.61"/><circle cx="217.23" cy="902.42" r="0.65"/><circle cx="209.69" cy="865.7" r="0.52"/><circle cx="244.03" cy="899.75" r="0.72"/><circle cx="229.36" cy="857.91" r="0.48"/><circle cx="211.9" cy="855.5" r="0.77"/><circle cx="235.45" cy="895.06" r="0.62"/><circle cx="220.94" cy="855.43" r="0.64"/><circle cx="249.06" cy="863.55" r="0.71"/><circle cx="224.02" cy="864.14" r="0.58"/><circle cx="193.67" cy="894.36" r="0.84"/><circle cx="244.44" cy="897.64" r="0.46"/><circle cx="193.66" cy="867.19" r="0.52"/><circle cx="233.45" cy="882.64" r="0.6"/><circle cx="254.89" cy="853.23" r="0.55"/><circle cx="198.81" cy="855.01" r="0.58"/><circle cx="232.69" cy="901.68" r="0.7"/><circle cx="201.99" cy="878.49" r="0.7"/><circle cx="199.28" cy="886.13" r="0.85"/><circle cx="233.09" cy="858.03" r="0.7"/><circle cx="253.07" cy="888.7" r="0.61"/><circle cx="204.53" cy="892.01" r="0.58"/><circle cx="253.24" cy="900.42" r="0.71"/><circle cx="196.72" cy="883.07" r="0.69"/><circle cx="187.43" cy="855.19" r="0.66"/><circle cx="217.63" cy="858.93" r="0.8"/><circle cx="230.78" cy="865.65" r="0.8"/><circle cx="226.38" cy="870.68" r="0.74"/><circle cx="195.41" cy="854.92" r="0.76"/><circle cx="221.81" cy="870.76" r="0.64"/><circle cx="230.91" cy="859.05" r="0.74"/><circle cx="196.58" cy="899.05" r="0.57"/><circle cx="228.91" cy="883.47" r="0.49"/><circle cx="196.35" cy="899.03" r="0.89"/><circle cx="245.13" cy="895.79" r="0.87"/><circle cx="209.42" cy="862.56" r="0.53"/><circle cx="210.21" cy="859.41" r="0.62"/><circle cx="236.62" cy="878.07" r="0.48"/><circle cx="244.67" cy="866.23" r="0.85"/><circle cx="191.9" cy="853.07" r="0.58"/><circle cx="230.66" cy="899.06" r="0.69"/><circle cx="240.78" cy="854.64" r="0.59"/><circle cx="217.28" cy="863.66" r="0.47"/><circle cx="189.75" cy="861.67" r="0.54"/><circle cx="210.35" cy="853.46" r="0.72"/><circle cx="243.89" cy="886.4" r="0.58"/><circle cx="220.39" cy="894.43" r="0.59"/><circle cx="226.55" cy="871.8" r="0.59"/><circle cx="214.65" cy="894.25" r="0.81"/><circle cx="193.04" cy="887.08" r="0.81"/><circle cx="228.9" cy="859.01" r="0.85"/><circle cx="212.09" cy="876.42" r="0.74"/><circle cx="203.13" cy="855.65" r="0.88"/><circle cx="229.91" cy="857.68" r="0.46"/><circle cx="237.36" cy="854.93" r="0.89"/><circle cx="217.37" cy="888.87" r="0.74"/><circle cx="251.39" cy="873.35" r="0.85"/><circle cx="219.39" cy="869.66" r="0.67"/><circle cx="204.87" cy="866.74" r="0.76"/><circle cx="245.87" cy="859.16" r="0.69"/><circle cx="233.4" cy="881.59" r="0.78"/><circle cx="236.3" cy="876.61" r="0.48"/><circle cx="240.56" cy="863.97" r="0.5"/><circle cx="247.44" cy="896.74" r="0.63"/><circle cx="220.05" cy="869.96" r="0.8"/><circle cx="221.44" cy="898.97" r="0.85"/><circle cx="202.97" cy="887.92" r="0.69"/><circle cx="222.94" cy="859.57" r="0.47"/><circle cx="198.33" cy="875.73" r="0.69"/><circle cx="247.71" cy="886.99" r="0.53"/><circle cx="213.91" cy="901.09" r="0.51"/><circle cx="201.1" cy="872.49" r="0.85"/><circle cx="206.85" cy="894.33" r="0.75"/><circle cx="189.3" cy="858.15" r="0.78"/><circle cx="224.87" cy="863.91" r="0.65"/><circle cx="229.45" cy="862.77" r="0.87"/><circle cx="221.2" cy="859.36" r="0.56"/><circle cx="191.52" cy="871.55" r="0.65"/><circle cx="219.55" cy="890.62" r="0.61"/><circle cx="193.41" cy="878.47" r="0.9"/><circle cx="196.65" cy="881.21" r="0.67"/><circle cx="253.16" cy="860.51" r="0.89"/><circle cx="210.32" cy="853.02" r="0.74"/><circle cx="213.5" cy="896.96" r="0.86"/><circle cx="241.29" cy="897.22" r="0.65"/><circle cx="209.24" cy="872.41" r="0.83"/><circle cx="193.04" cy="874.38" r="0.62"/><circle cx="232.88" cy="900.85" r="0.61"/><circle cx="227.82" cy="867.65" r="0.79"/><circle cx="208.24" cy="876.82" r="0.8"/><circle cx="200.3" cy="870.38" r="0.82"/><circle cx="236.55" cy="900.34" r="0.83"/><circle cx="218.29" cy="883.54" r="0.71"/><circle cx="213.76" cy="885.55" r="0.85"/><circle cx="216.73" cy="884.24" r="0.58"/><circle cx="211.53" cy="854.04" r="0.53"/><circle cx="243.78" cy="883.41" r="0.86"/><circle cx="200.93" cy="895.16" r="0.74"/><circle cx="235.1" cy="863.6" r="0.84"/><circle cx="211.13" cy="899.91" r="0.53"/><circle cx="246.05" cy="866.69" r="0.64"/><circle cx="188.65" cy="897.97" r="0.6"/><circle cx="248.89" cy="875.61" r="0.73"/><circle cx="197.34" cy="852.81" r="0.69"/><circle cx="225.57" cy="875.42" r="0.49"/><circle cx="244.21" cy="858.47" r="0.86"/><circle cx="217.19" cy="862.17" r="0.89"/><circle cx="235.06" cy="888.71" r="0.79"/><circle cx="217.37" cy="885.57" r="0.61"/><circle cx="212.66" cy="862.15" r="0.77"/><circle cx="191.42" cy="858.61" r="0.9"/><circle cx="245.84" cy="889.33" r="0.56"/><circle cx="252.86" cy="875.89" r="0.81"/><circle cx="213.84" cy="902.33" r="0.52"/><circle cx="238.3" cy="854.09" r="0.83"/><circle cx="231.62" cy="891" r="0.51"/><circle cx="250.81" cy="868.69" r="0.48"/><circle cx="210.71" cy="882.81" r="0.74"/><circle cx="188.96" cy="889.75" r="0.84"/><circle cx="224.27" cy="853.41" r="0.73"/><circle cx="223.92" cy="872.82" r="0.83"/><circle cx="250.06" cy="862.93" r="0.54"/><circle cx="219.15" cy="891.36" r="0.68"/><circle cx="187.79" cy="889.45" r="0.89"/><circle cx="248.52" cy="897.2" r="0.46"/><circle cx="203.38" cy="866.36" r="0.78"/><circle cx="195.52" cy="871.01" r="0.54"/><circle cx="197.7" cy="895.19" r="0.85"/><circle cx="197.75" cy="859.25" r="0.59"/><circle cx="225.06" cy="871.22" r="0.69"/><circle cx="253.03" cy="867.35" r="0.76"/><circle cx="250.93" cy="859.08" r="0.59"/><circle cx="238.61" cy="876.24" r="0.55"/><circle cx="195.09" cy="891.76" r="0.57"/><circle cx="231.09" cy="878.64" r="0.81"/><circle cx="195.29" cy="888.89" r="0.55"/><circle cx="246.15" cy="864.86" r="0.72"/><circle cx="223.63" cy="859.1" r="0.69"/><circle cx="225.24" cy="900.61" r="0.71"/><circle cx="197.76" cy="878.53" r="0.48"/><circle cx="236.46" cy="887.37" r="0.78"/><circle cx="188.11" cy="863.08" r="0.63"/><circle cx="249.95" cy="853.42" r="0.73"/><circle cx="212.46" cy="891.21" r="0.65"/><circle cx="253.52" cy="880.92" r="0.48"/><circle cx="212.84" cy="877.53" r="0.66"/><circle cx="218.71" cy="860.73" r="0.72"/><circle cx="198.76" cy="876" r="0.5"/><circle cx="216.46" cy="859.03" r="0.54"/><circle cx="250.04" cy="878.14" r="0.77"/><circle cx="248.14" cy="872.5" r="0.74"/><circle cx="251.61" cy="870.88" r="0.89"/><circle cx="221.05" cy="899.26" r="0.55"/><circle cx="243.17" cy="874.52" r="0.66"/><circle cx="223.69" cy="880.98" r="0.88"/><circle cx="222.26" cy="864.65" r="0.81"/><circle cx="245.61" cy="883.71" r="0.57"/><circle cx="245.2" cy="881.17" r="0.56"/><circle cx="252.58" cy="881.45" r="0.45"/><circle cx="196.5" cy="866.33" r="0.8"/><circle cx="217.74" cy="892.1" r="0.66"/><circle cx="198.54" cy="901.38" r="0.75"/><circle cx="244.07" cy="874.59" r="0.53"/><circle cx="208.13" cy="860.51" r="0.7"/><circle cx="195.31" cy="868.67" r="0.87"/><circle cx="205.28" cy="858.19" r="0.83"/><circle cx="191.95" cy="859.55" r="0.7"/><circle cx="235.5" cy="890.73" r="0.7"/><circle cx="234.23" cy="860.32" r="0.87"/><circle cx="195.51" cy="866.95" r="0.63"/><circle cx="223.16" cy="899.34" r="0.61"/><circle cx="239.83" cy="891.61" r="0.74"/><circle cx="221.11" cy="897.55" r="0.54"/><circle cx="221.85" cy="894.02" r="0.7"/><circle cx="198.21" cy="862.47" r="0.7"/><circle cx="238.07" cy="854.35" r="0.53"/><circle cx="192.5" cy="868.71" r="0.8"/><circle cx="253.04" cy="898.77" r="0.6"/><circle cx="223.08" cy="854.51" r="0.81"/><circle cx="210.35" cy="887.17" r="0.9"/><circle cx="244.68" cy="900.97" r="0.74"/><circle cx="202.04" cy="864.17" r="0.52"/><circle cx="211.39" cy="900.19" r="0.73"/><circle cx="249.53" cy="877.08" r="0.55"/><circle cx="204.62" cy="856.31" r="0.59"/><circle cx="218.76" cy="858.28" r="0.83"/><circle cx="188.13" cy="877.36" r="0.51"/><circle cx="233.68" cy="856.71" r="0.56"/><circle cx="248.91" cy="865.9" r="0.81"/><circle cx="213.83" cy="870.95" r="0.55"/><circle cx="211.7" cy="893.17" r="0.55"/><circle cx="211.03" cy="858.13" r="0.9"/><circle cx="190.35" cy="869.15" r="0.73"/><circle cx="243.09" cy="897.13" r="0.71"/></g><g fill="#c0cce6"><circle cx="217.17" cy="884.38" r="0.56"/><circle cx="206.94" cy="879.76" r="1.19"/><circle cx="244.43" cy="865.59" r="0.87"/><circle cx="231.44" cy="887.83" r="0.58"/><circle cx="247.61" cy="881.02" r="0.78"/><circle cx="210.28" cy="883.42" r="0.8"/><circle cx="190.77" cy="874.23" r="0.79"/><circle cx="234.74" cy="872.89" r="0.69"/><circle cx="229.14" cy="902.26" r="0.87"/><circle cx="250.87" cy="863.37" r="0.56"/><circle cx="203.78" cy="901.27" r="0.89"/><circle cx="242.95" cy="865.42" r="0.57"/><circle cx="228.31" cy="884.96" r="0.68"/><circle cx="189.88" cy="895.69" r="1.13"/><circle cx="240.32" cy="861.45" r="1.1"/><circle cx="215.81" cy="881.17" r="1.03"/><circle cx="205.55" cy="873.18" r="1.17"/><circle cx="242.89" cy="884.98" r="0.84"/><circle cx="230.94" cy="892.6" r="0.61"/><circle cx="186.78" cy="885.34" r="1.14"/><circle cx="244.01" cy="898.86" r="0.72"/><circle cx="205.77" cy="900.32" r="0.54"/><circle cx="206.44" cy="872.42" r="0.62"/><circle cx="240.95" cy="860.2" r="1.03"/><circle cx="227.86" cy="883.54" r="0.8"/><circle cx="196.87" cy="853.47" r="0.97"/><circle cx="198.43" cy="890.84" r="0.86"/><circle cx="225.95" cy="895.13" r="0.93"/><circle cx="190.04" cy="855.15" r="1.16"/><circle cx="191.91" cy="860" r="0.55"/><circle cx="249.29" cy="873.82" r="0.91"/><circle cx="239.8" cy="866.37" r="0.98"/><circle cx="198.89" cy="884.08" r="0.5"/><circle cx="249.05" cy="869.93" r="0.65"/><circle cx="251.2" cy="891.08" r="1.14"/><circle cx="188.31" cy="868.49" r="0.53"/><circle cx="248.02" cy="882.51" r="0.93"/><circle cx="191.86" cy="856.34" r="1.13"/><circle cx="199.58" cy="874.59" r="0.69"/><circle cx="221.49" cy="854.47" r="0.96"/><circle cx="242.94" cy="881.61" r="0.79"/><circle cx="246.88" cy="863.64" r="0.6"/><circle cx="211.99" cy="899.84" r="0.83"/><circle cx="228.43" cy="877.76" r="0.62"/><circle cx="197.81" cy="859.29" r="0.66"/><circle cx="248.12" cy="874.61" r="0.7"/><circle cx="189.53" cy="859.89" r="1.15"/><circle cx="246.71" cy="882.75" r="1.13"/><circle cx="201.63" cy="875.1" r="0.51"/><circle cx="216.35" cy="864.27" r="1.03"/><circle cx="226.99" cy="891.13" r="0.53"/><circle cx="248.45" cy="858.29" r="1.03"/><circle cx="227.47" cy="863.32" r="0.89"/><circle cx="213.2" cy="881.2" r="0.84"/><circle cx="209.59" cy="870.18" r="0.71"/><circle cx="202.95" cy="866.34" r="0.9"/><circle cx="226.49" cy="854.79" r="0.6"/><circle cx="195.69" cy="857.91" r="0.98"/><circle cx="230.91" cy="863.24" r="0.86"/><circle cx="193.81" cy="899.91" r="1.07"/><circle cx="194.41" cy="891.27" r="0.89"/><circle cx="218.51" cy="882.65" r="1.15"/><circle cx="190.11" cy="875.66" r="1.14"/><circle cx="225.21" cy="854.19" r="0.88"/><circle cx="199.78" cy="873.63" r="0.6"/><circle cx="221.99" cy="883.89" r="1.15"/><circle cx="208.63" cy="857.48" r="0.56"/><circle cx="225.27" cy="863.42" r="0.66"/><circle cx="242.5" cy="860.66" r="1.05"/><circle cx="204.88" cy="881.07" r="0.99"/></g><g fill="#5e3828"><circle cx="253.95" cy="876.43" r="0.5"/><circle cx="244.03" cy="894.99" r="0.73"/><circle cx="223.87" cy="878.17" r="0.59"/><circle cx="215.9" cy="872.98" r="0.69"/><circle cx="235.09" cy="879.73" r="0.54"/><circle cx="224.94" cy="894.24" r="0.56"/><circle cx="231.11" cy="881.83" r="0.82"/><circle cx="202.09" cy="870.64" r="0.62"/><circle cx="234.21" cy="882.09" r="0.54"/><circle cx="217.17" cy="874.06" r="0.68"/><circle cx="232.49" cy="859.34" r="0.52"/><circle cx="247.69" cy="868.43" r="0.66"/><circle cx="193.39" cy="878.37" r="0.61"/><circle cx="219.07" cy="889.87" r="0.56"/><circle cx="243.68" cy="892.14" r="0.78"/><circle cx="219.49" cy="857.86" r="0.79"/><circle cx="252" cy="879.88" r="0.89"/><circle cx="254.84" cy="859.82" r="0.55"/><circle cx="233.81" cy="874.62" r="0.61"/><circle cx="199.18" cy="881.83" r="0.88"/><circle cx="200.01" cy="893.37" r="0.79"/><circle cx="237.88" cy="869.94" r="0.58"/><circle cx="210.05" cy="859.48" r="0.69"/><circle cx="228.51" cy="879.24" r="0.67"/><circle cx="199.25" cy="866.45" r="0.79"/><circle cx="246.56" cy="890.98" r="0.45"/><circle cx="232.65" cy="894.11" r="0.64"/><circle cx="189.33" cy="862.75" r="0.57"/><circle cx="202.6" cy="881.93" r="0.87"/><circle cx="203.72" cy="857.99" r="0.69"/><circle cx="233.87" cy="864.22" r="0.77"/><circle cx="205.71" cy="882.26" r="0.54"/><circle cx="249.26" cy="884.68" r="0.73"/><circle cx="219.41" cy="892.46" r="0.48"/><circle cx="252.64" cy="870.5" r="0.63"/><circle cx="238.6" cy="894.41" r="0.52"/><circle cx="218.56" cy="890.24" r="0.56"/><circle cx="220.97" cy="867.18" r="0.86"/><circle cx="212.67" cy="877.77" r="0.62"/><circle cx="197.94" cy="873.27" r="0.79"/><circle cx="208.79" cy="859.99" r="0.76"/><circle cx="200.52" cy="861.14" r="0.5"/><circle cx="249.25" cy="887.53" r="0.61"/><circle cx="212.54" cy="900.56" r="0.67"/><circle cx="237.08" cy="899.86" r="0.73"/><circle cx="232.47" cy="878.65" r="0.64"/><circle cx="244.25" cy="877.14" r="0.7"/><circle cx="221.83" cy="877.7" r="0.65"/><circle cx="191.19" cy="855.99" r="0.64"/><circle cx="251.32" cy="893.26" r="0.53"/><circle cx="238.44" cy="897.91" r="0.66"/><circle cx="209.8" cy="867.48" r="0.75"/><circle cx="202.26" cy="866.15" r="0.65"/><circle cx="201.47" cy="894.35" r="0.83"/><circle cx="228.08" cy="872.21" r="0.81"/><circle cx="191.58" cy="888.24" r="0.5"/><circle cx="213.21" cy="888.64" r="0.76"/><circle cx="198.12" cy="877.2" r="0.61"/><circle cx="249.2" cy="894.52" r="0.63"/><circle cx="223.01" cy="884.79" r="0.8"/><circle cx="246.11" cy="900.25" r="0.59"/><circle cx="192.7" cy="873.32" r="0.89"/><circle cx="248" cy="863.97" r="0.64"/><circle cx="196.23" cy="869.1" r="0.87"/><circle cx="232.25" cy="855.23" r="0.62"/><circle cx="232.02" cy="886.63" r="0.64"/><circle cx="207.41" cy="901.83" r="0.63"/><circle cx="232.71" cy="871.57" r="0.89"/><circle cx="251.66" cy="858.6" r="0.87"/><circle cx="190.15" cy="859.9" r="0.59"/><circle cx="205" cy="869.96" r="0.81"/><circle cx="241.42" cy="862.4" r="0.83"/><circle cx="202.04" cy="892.93" r="0.71"/><circle cx="246.76" cy="861.15" r="0.86"/><circle cx="245" cy="865.28" r="0.86"/><circle cx="209.92" cy="879.89" r="0.69"/><circle cx="203.26" cy="877.57" r="0.68"/><circle cx="235.38" cy="889.52" r="0.89"/><circle cx="220.09" cy="853.34" r="0.51"/><circle cx="224.16" cy="879.4" r="0.8"/><circle cx="195.95" cy="895.52" r="0.63"/><circle cx="252.37" cy="860.7" r="0.75"/><circle cx="207.74" cy="865.89" r="0.69"/><circle cx="219.04" cy="863.19" r="0.83"/><circle cx="238.14" cy="881.34" r="0.57"/><circle cx="216.14" cy="888.64" r="0.73"/><circle cx="196.69" cy="884.53" r="0.81"/><circle cx="245.7" cy="856.01" r="0.52"/><circle cx="195.07" cy="889.38" r="0.65"/><circle cx="217.89" cy="899.26" r="0.56"/><circle cx="232.5" cy="885.99" r="0.67"/><circle cx="241.13" cy="880.41" r="0.77"/><circle cx="204" cy="853.4" r="0.81"/><circle cx="229.53" cy="884.13" r="0.77"/><circle cx="193.15" cy="865.22" r="0.7"/><circle cx="224.23" cy="895.06" r="0.56"/><circle cx="219.11" cy="893.12" r="0.8"/><circle cx="194.22" cy="871.55" r="0.75"/><circle cx="239.64" cy="887.16" r="0.78"/><circle cx="224.47" cy="890.09" r="0.51"/><circle cx="242.31" cy="896.54" r="0.89"/><circle cx="229.74" cy="882.78" r="0.49"/><circle cx="236.91" cy="872.8" r="0.64"/><circle cx="221.19" cy="863.95" r="0.71"/><circle cx="247.25" cy="865.21" r="0.57"/><circle cx="190.95" cy="896.53" r="0.6"/><circle cx="196.74" cy="894.4" r="0.57"/><circle cx="203.19" cy="856.11" r="0.74"/><circle cx="205.18" cy="899.66" r="0.75"/><circle cx="208.12" cy="870.33" r="0.56"/><circle cx="208.6" cy="864.85" r="0.89"/><circle cx="211.45" cy="871.92" r="0.71"/><circle cx="243.79" cy="899.84" r="0.68"/><circle cx="242.3" cy="901.96" r="0.73"/><circle cx="225.96" cy="896.11" r="0.63"/><circle cx="206.66" cy="863.65" r="0.71"/><circle cx="241.33" cy="858.93" r="0.64"/><circle cx="219.97" cy="900.31" r="0.49"/><circle cx="202.79" cy="869.58" r="0.62"/><circle cx="235.32" cy="900.17" r="0.56"/><circle cx="217.36" cy="862.44" r="0.6"/><circle cx="234.62" cy="894.19" r="0.46"/><circle cx="228.11" cy="883.81" r="0.58"/><circle cx="198.92" cy="864.91" r="0.46"/><circle cx="215.25" cy="856.69" r="0.81"/><circle cx="214.33" cy="900.26" r="0.64"/><circle cx="213.15" cy="887.24" r="0.88"/><circle cx="187.39" cy="890.27" r="0.53"/><circle cx="198.68" cy="863.15" r="0.54"/><circle cx="222.4" cy="876" r="0.9"/><circle cx="201.91" cy="866.37" r="0.66"/><circle cx="240.58" cy="872.36" r="0.76"/><circle cx="253.13" cy="884.54" r="0.65"/><circle cx="245.18" cy="857.52" r="0.55"/><circle cx="208.36" cy="898.81" r="0.47"/><circle cx="232.98" cy="879.64" r="0.45"/><circle cx="188.88" cy="883.64" r="0.57"/><circle cx="226.05" cy="858.25" r="0.62"/><circle cx="206.45" cy="885.27" r="0.78"/><circle cx="199.75" cy="895.4" r="0.78"/><circle cx="253.58" cy="877.86" r="0.79"/><circle cx="190.42" cy="889.33" r="0.8"/><circle cx="192.8" cy="874.9" r="0.63"/><circle cx="222.92" cy="857.86" r="0.74"/><circle cx="223.3" cy="896.17" r="0.87"/><circle cx="230.01" cy="891.37" r="0.45"/><circle cx="188.54" cy="877.87" r="0.65"/><circle cx="200.88" cy="894.53" r="0.56"/><circle cx="236.74" cy="898.09" r="0.46"/><circle cx="250.43" cy="857.9" r="0.71"/><circle cx="249.54" cy="880.7" r="0.8"/><circle cx="221.43" cy="894.55" r="0.6"/><circle cx="196.61" cy="853.06" r="0.58"/><circle cx="209.01" cy="863.97" r="0.45"/><circle cx="187.9" cy="896.76" r="0.86"/><circle cx="211.94" cy="895.77" r="0.88"/><circle cx="220.84" cy="868.38" r="0.49"/><circle cx="198.6" cy="863.76" r="0.76"/><circle cx="222.15" cy="862.04" r="0.62"/><circle cx="229.58" cy="888.19" r="0.63"/><circle cx="222.65" cy="896.08" r="0.67"/><circle cx="213.14" cy="864.46" r="0.6"/><circle cx="218.22" cy="877.13" r="0.51"/><circle cx="194" cy="900.01" r="0.53"/><circle cx="218.34" cy="896.71" r="0.88"/><circle cx="226.48" cy="882.99" r="0.76"/><circle cx="189.19" cy="862.01" r="0.71"/><circle cx="216.57" cy="898.24" r="0.83"/><circle cx="199.42" cy="852.72" r="0.74"/><circle cx="209.85" cy="865.77" r="0.81"/></g><g fill="#4e2c1c"><circle cx="252.42" cy="889.76" r="0.58"/><circle cx="205.75" cy="902.5" r="0.7"/><circle cx="248.14" cy="893.79" r="0.95"/><circle cx="242.45" cy="899.78" r="0.57"/><circle cx="242.36" cy="898.73" r="0.81"/><circle cx="218.56" cy="890.28" r="0.68"/><circle cx="197.32" cy="898.25" r="0.64"/><circle cx="194.48" cy="898.95" r="0.68"/><circle cx="244.38" cy="902.65" r="0.92"/><circle cx="208.96" cy="900.04" r="0.64"/><circle cx="211.22" cy="889.11" r="0.86"/><circle cx="247.42" cy="894.4" r="0.8"/><circle cx="219.56" cy="897.83" r="0.61"/><circle cx="189.28" cy="892.13" r="0.8"/><circle cx="220.7" cy="894.51" r="0.6"/><circle cx="238.19" cy="902.2" r="0.7"/><circle cx="221.61" cy="899.63" r="0.94"/><circle cx="251.96" cy="891.24" r="0.94"/><circle cx="228.12" cy="893.58" r="0.63"/><circle cx="221.16" cy="893.44" r="0.85"/><circle cx="225.42" cy="895.16" r="1"/><circle cx="227.53" cy="888.99" r="0.94"/><circle cx="220.44" cy="898.86" r="0.68"/><circle cx="200.69" cy="893.78" r="0.54"/><circle cx="209.07" cy="897.06" r="0.58"/><circle cx="245.1" cy="889.61" r="0.76"/><circle cx="231.43" cy="894.21" r="0.51"/><circle cx="253.37" cy="892.94" r="0.71"/><circle cx="218.17" cy="898.44" r="0.6"/><circle cx="243.08" cy="896.67" r="0.79"/><circle cx="203.24" cy="901.64" r="0.58"/><circle cx="221.75" cy="891.19" r="0.58"/><circle cx="217.46" cy="900.15" r="0.56"/><circle cx="241.17" cy="893.98" r="0.99"/><circle cx="220.84" cy="891.36" r="0.86"/><circle cx="223.93" cy="900.25" r="0.51"/><circle cx="206.04" cy="889.9" r="0.8"/><circle cx="193.37" cy="889" r="0.77"/><circle cx="242.81" cy="895" r="0.92"/><circle cx="194.55" cy="894.34" r="0.7"/><circle cx="251.81" cy="893.83" r="0.9"/><circle cx="230.39" cy="900.39" r="0.87"/><circle cx="247.88" cy="899.73" r="0.89"/><circle cx="203.27" cy="896.59" r="0.92"/><circle cx="242.34" cy="894.54" r="0.81"/><circle cx="241.48" cy="899.74" r="0.63"/><circle cx="198.83" cy="898.35" r="0.53"/><circle cx="200.78" cy="893.13" r="0.89"/><circle cx="229.65" cy="901.49" r="0.68"/><circle cx="220.63" cy="899.32" r="0.76"/><circle cx="195.62" cy="893.01" r="0.8"/><circle cx="194.83" cy="901.43" r="0.88"/><circle cx="238.63" cy="891.37" r="0.96"/><circle cx="245.21" cy="897.46" r="0.68"/><circle cx="200.49" cy="898.92" r="0.81"/><circle cx="221.96" cy="888.89" r="0.55"/><circle cx="231.68" cy="892.36" r="0.72"/><circle cx="213.11" cy="894.75" r="0.97"/><circle cx="201.53" cy="892.61" r="0.8"/><circle cx="203.1" cy="890.97" r="0.57"/></g></g></g>
<line x1="246" y1="899.5" x2="251.5" y2="899.5" stroke="#fff" stroke-width="0.9"/>
<text x="283.6" y="785.5" font-size="10" font-weight="bold" fill="#000" style="stroke:#000;stroke-width:0.2px">L</text>
<text x="358" y="792" font-size="7.5" text-anchor="middle" font-weight="bold" font-style="italic">sgTP53 vs. sgNC</text>
<path d="M327.6 852.7h0M327.7 847h0M322.2 846h0M317.8 840.1h0M313.4 848.5h0M319.7 852.7h0M320.1 855.4h0M313.3 838h0M313.3 851.1h0M331.3 852.5h0M324.7 835.5h0M316.9 837.3h0M320.6 850.5h0M330.8 846.4h0M329.4 851.3h0M328.4 846.7h0M319.8 834.7h0M321.7 846.8h0M325.2 838.4h0M313.6 834h0M322.9 859.7h0M317.6 852h0M329 836.9h0M313.6 851.2h0M325.3 850h0M328.9 850.5h0M316.7 838.1h0M329.3 846.3h0M328.9 829.6h0M312.8 843h0M325.8 860.2h0M312.4 857.3h0M321.9 844.5h0M320.7 830.6h0M316.3 837.2h0M318.6 851.1h0M327.7 849.4h0M318.4 858.9h0M315.2 836.7h0M325.6 857.2h0M320.9 839.5h0M327.5 839.2h0M316.9 842.1h0M318.5 835.9h0M327.5 830.6h0M322 851.5h0M322 831.8h0M316.9 863.5h0M312.7 848.9h0M330.1 846.6h0M314 846.1h0M328.4 837.7h0M319.4 847.1h0M330.4 851.1h0M320 853.1h0M330.1 847.8h0M322.9 841.3h0M317 854.7h0M326.4 850.4h0M325.2 850.2h0M325.4 842h0M321.2 843.1h0M316.6 855.3h0M324.5 854.3h0M314.4 852.2h0M325.5 843.3h0M324.4 836.1h0M319.5 844.5h0M327.5 850.2h0M316.1 827.2h0M319.8 839h0M327.5 861.7h0M319.6 840.1h0M325.9 837.3h0M324 837.5h0M330.2 848.9h0M331.2 855.4h0M326.1 844.9h0M327.7 841h0M315.3 840.7h0M325.9 843h0M328.4 850.2h0M320 844.7h0M322.9 845.9h0M321.5 849.5h0M330.5 834h0M318.4 848.1h0M320 847.8h0M312.4 828.2h0M320.4 848.8h0M324.4 848.7h0M330.1 846.4h0M329.9 853.8h0M318.6 840.7h0M331.1 847.9h0M316 843.9h0M328 838.3h0M315.4 851.3h0M320.1 849.8h0M313.8 860.6h0M328.6 840.7h0M328.1 849.1h0M315.1 838.9h0M322.4 846.7h0M317.3 850.7h0M321.7 852.6h0M322.9 836.9h0M314.4 840.3h0M328.8 838.9h0M317.7 846.5h0M320.9 856.9h0M313.5 847.2h0M312.5 840.1h0M316.1 839.7h0M318.9 838.3h0M330 838.6h0M329.2 839.3h0M321.5 832.5h0M321 859.3h0M325 840.4h0M328.7 841h0M318.8 838.5h0M327.4 844.4h0M320 851.1h0M323.6 843.3h0M326.4 839.7h0M321.9 844.3h0M325.5 837.4h0M325.6 838.5h0M312.5 864.6h0M313.2 823.6h0M315.2 854.7h0M316.5 823.9h0M316.3 838.3h0M313.3 850.6h0M316.5 842.5h0M323.8 845.7h0M329.2 841.1h0M319 856.7h0M319.3 847.7h0M320.3 864.2h0M325.3 845.2h0M327.3 848.7h0M330.2 852.3h0M319.5 853.5h0M325.8 846.5h0M318.9 850.2h0M328 846.4h0M316.8 849.7h0M328.9 849h0M322 850.3h0M326.1 837.7h0M322.5 848.3h0M318.4 845.4h0M321.8 839.5h0M313.4 833.2h0M313.2 858.3h0M322.4 847.9h0M321.4 852.7h0M328.2 844h0M312.8 843.6h0M322.9 857.9h0M321.7 853.1h0M323.7 851.2h0M326.2 838.8h0M322.3 861.6h0M323.1 841.2h0M321.7 845h0M324 849.6h0M317.1 843.9h0M322.9 850.6h0M325.1 831.4h0M316 844.5h0M331.1 848.2h0M326.5 837.4h0M330.5 844.7h0M318 852.4h0M320.8 847h0M317.4 841.8h0M313.3 844.5h0M312.7 842.8h0M317.1 842.9h0M328.7 840.5h0M315.5 845.7h0M325.5 832h0M317.1 840.1h0M313.7 833.9h0M316.1 844.8h0M325.2 849.9h0M321.9 845.4h0M322.8 843.7h0M321 849.4h0M317.6 869.7h0M321.6 849.5h0M329.9 837.8h0M316.2 831.5h0M326.3 834.6h0M317.2 848.2h0M316.1 848.4h0M318.5 830.9h0M314.2 838.6h0M330.1 852.6h0M319.3 854.1h0M315.7 853.1h0M312.4 850.8h0M313.6 867.1h0M316.5 851.9h0M320.3 850.2h0M323.8 840.3h0M331 847.2h0M329.3 856.5h0M317 842.3h0M324 838.3h0M329.8 833.9h0M314.3 836.4h0M328.6 839.3h0M319.9 831.1h0M327.2 853.6h0M318.5 830.2h0M324.2 831.4h0M322 850.7h0M314.4 834.8h0M326.8 854.5h0M328 825.3h0M321.5 838.2h0M319.8 844.9h0M330.3 850.9h0M319.5 843.9h0M329 840h0M320.3 844.6h0M319.5 835.7h0M319.3 842h0M313.6 849.7h0M317.7 835.9h0M316.8 817.8h0M313.6 864.1h0M322.7 844.3h0M320.8 836.7h0M312.9 850.5h0M315.4 854.3h0M329.8 849.7h0M314.9 843.5h0M319.5 853.7h0M330.4 856.4h0M314.6 857.8h0M320.2 843.3h0M327.6 846.4h0M312.8 836.3h0M313.7 844.1h0M330 852.7h0M325.4 850.4h0M317.4 852.5h0M321.5 838.8h0M317.1 846.1h0M329.3 846.6h0M330.4 843.4h0M313.8 840.2h0M322.3 850.8h0M315.9 857.9h0M320.1 846.1h0M326.4 848.5h0M325.9 842.7h0M316 857.2h0M318.7 833.7h0M320.5 846.2h0M319.7 834.7h0M325.3 841.5h0M327.3 846h0M318.8 852.9h0M320.8 846.5h0M313.7 853.3h0M319.4 831.3h0M330.3 850.3h0M321.9 844.8h0M323 851.1h0M323.9 849.9h0M323.1 843.9h0M327.6 830.8h0M317.3 854.9h0M318.4 844.5h0M329.2 838h0M321.9 845.1h0M330.6 848.2h0M315 819.5h0M327.2 842.6h0M321.4 849.8h0M321.4 858.2h0M329.1 851.4h0M314.9 850.4h0M322.1 837.7h0M317.1 844.9h0M318.9 851.8h0M327.9 833.5h0M319.9 835.9h0M327.2 848h0M312.7 836.7h0M331.3 844.9h0M330.5 848.5h0M325.2 852.9h0M316.1 847h0M324.8 844.4h0M316 842.4h0M319.5 843.7h0M313.1 835.5h0M313.7 831.4h0M315.4 845.4h0M315.9 839.3h0M328.3 836.7h0M317 847.3h0M328 849.9h0M312.5 864.4h0M313.5 847.4h0M313.6 864.8h0M330 851.6h0M327.9 842.4h0M312.7 837.5h0M330 853.6h0M316.7 863.3h0M317.4 856.9h0M323.5 842.8h0M316.3 827h0M330.8 845.9h0M319.3 862h0M323.2 854h0M323.2 836.3h0M317.7 841.7h0M326.3 840.7h0M331.2 846.1h0M323.7 845.9h0M314 864h0M327.7 839h0M325 833.4h0M321.7 850.3h0M324.8 850.9h0M317.4 846h0M318.2 848.4h0M322.2 855.1h0M313.7 855.8h0M323.5 843.5h0M315.9 834.8h0M317.2 850.4h0M329.4 855h0M323.5 841.9h0M317 835.5h0M325.6 850.3h0M331.3 852.2h0M329.4 848.9h0M327.5 847h0M318.7 832.7h0M323.4 853.1h0M323.5 842.6h0M314.1 841.1h0M325.5 848.4h0M322.3 831.5h0M322.3 840.3h0M326.4 849.4h0M313.9 847.8h0M316.4 844.8h0M331.1 834.8h0M318.1 847.8h0M317.2 838.8h0M313.8 841.2h0M318.3 853.8h0M323 842.6h0M313.2 855h0M317.9 848.8h0M317.3 846.4h0M315.3 839.9h0M327.4 846h0M330.6 847.9h0M329.7 848.8h0M320.8 848.8h0M313.7 843.6h0M319 856.3h0M322.3 850.7h0M319.6 845.4h0M326.2 862.7h0M326.5 840.7h0M329.4 839.6h0M321.3 850.9h0M316.9 845.9h0M329.6 845.8h0M329.1 848.1h0M314.8 844h0M316.4 855.5h0M324.9 839.7h0M327.9 849.8h0M330.6 838.5h0M312.8 820.3h0M316 842.9h0M320.4 841.3h0M322.8 842.9h0M327.1 846h0M322.9 839.9h0M322.2 837.2h0M316.9 849.9h0M324.7 835.4h0M323.4 847h0M330.3 835.7h0M316 846.9h0M314.8 864h0M319.1 848.6h0M318.6 853h0M321 846.8h0M315.7 837.9h0M325.8 850.1h0M328 849.7h0M312.5 843.8h0M329.6 854.4h0M314.1 849.5h0M318.2 834.3h0M321.6 833.7h0M320.4 849.8h0M316.5 848.5h0M326.2 839.9h0M328.3 836.9h0M316.7 848.3h0M315.5 852.8h0M322.2 850.7h0M315.2 834.6h0M330.2 841.7h0M328.5 850.4h0M328.2 834.1h0M320.2 847.5h0M327.3 850.6h0M319.8 836.5h0M321.1 836.7h0M314.4 851.1h0M313.1 849.9h0M325.1 840.5h0M316.1 847.7h0M330.5 837.2h0M323.1 838.6h0M323.3 848.9h0M329.3 863.3h0M318 844.4h0M312.6 845.3h0M316.6 826h0M321.1 853.1h0M315.3 846.1h0M317.7 831.3h0M326.4 846.4h0M319.5 837.1h0M318.9 842.9h0M316.8 845.3h0M322.5 839.9h0M331.2 847.4h0M315.6 852.6h0M328.4 841.7h0M327.1 847.2h0M323.8 841.7h0M322.7 834.6h0M322.2 838.3h0M314.4 855.2h0M323.2 851.8h0M331.1 853.5h0M326.2 848.7h0M321.2 850.7h0M320.8 841.2h0M328.9 836.8h0M312.5 840.9h0M316.2 862.8h0M330.5 846.7h0M324.8 844.6h0M328.1 836.2h0M322.5 841.5h0M313.2 837.7h0M322.6 843h0M324.3 855.9h0M314.1 840.2h0M321.5 836.9h0M330.2 852.1h0M313.6 828.9h0M313.3 823.8h0M314.4 852.6h0M325.3 849.5h0M329.3 851.9h0M315.4 842.5h0M328.4 850.6h0M316.6 829.9h0M322.6 849.2h0M326.9 845.2h0M314.6 838.5h0M321.4 848.1h0M328.8 834.2h0M319.1 845.2h0M327.5 843.5h0M321 839h0M330.2 853.2h0M320 843.5h0M328 849.2h0M313.8 842.7h0M318.8 854h0M315.2 832.6h0M320.1 839.8h0M320.1 847.8h0M317 846h0M320.3 858.1h0M325.3 841.7h0M323.3 854h0M317 837.7h0M325.9 850h0M325.8 833.2h0M320.4 847.3h0M321.1 849.3h0M315.7 835.1h0M328.2 846h0M319.2 828.6h0M318 828h0M330 848.8h0M318.2 835h0M316.2 839.4h0M319.6 843.4h0M322.2 859.1h0M324 845.6h0M320 849.1h0M325.4 836.7h0M312.9 833.4h0M329.9 852.1h0M321.1 855.8h0M320.9 843.3h0M320.9 848.2h0M317.6 837.1h0M327.8 848.6h0M321 834.3h0M314.2 829.4h0M319 855.2h0M321.6 852.5h0M319.2 843.9h0M314.4 847.3h0M329.2 832.4h0M315.3 846h0M326.2 846.5h0M320.4 857.3h0M321.8 840.8h0M325.2 852h0M312.7 850.8h0M321.7 860.4h0M321.1 846.8h0M320.5 843.9h0M312.4 843.4h0M312.6 859.3h0M321.7 843.8h0M321 842.2h0M318.7 839.2h0M314.6 858.5h0M319.3 843.2h0M325.1 843.3h0M327.9 845.7h0M326.9 842.8h0M312.5 854.9h0M318.8 852h0M321.7 827.4h0M327.8 837.6h0M323.1 838.9h0M327.6 842.3h0M325.4 847.6h0M313.8 851.8h0M331 853.6h0M323 846.5h0M323.8 857.7h0M317.3 845.3h0M329.5 850.4h0M331.3 847.6h0M318.9 849.5h0M321.7 831.2h0M313.6 827.5h0M326.8 853h0M324.6 829h0M316.8 836.9h0M328.1 841h0M322.8 836.3h0M330 861h0M327.9 843.2h0M314.3 828.8h0M316.9 848.6h0M328.5 836.2h0M313 850.3h0M314.9 853.6h0M329.8 841.8h0M327.7 847.1h0M317.2 850.3h0M318.8 846.8h0M313.1 843.4h0M314.8 837.8h0M312.6 845.2h0M323.5 843.7h0M324 845.8h0M315.1 851.2h0M328.2 850.5h0M321.6 847.9h0M323.7 849.7h0M324.9 848.5h0M316.3 839.5h0M327.6 844.3h0M320.2 844.3h0M321.8 851.8h0M314.8 848.8h0M317.2 848h0M321 850.3h0M326.1 839.9h0M321.1 830.5h0M323 837.2h0M326.7 851.6h0M320 848.1h0M312.7 838.9h0M323 847.1h0M330.3 844.4h0M313.1 856.3h0M321.2 854.8h0M324.8 840.9h0M321.7 850.5h0M314.4 839.1h0M322.1 837.8h0M313.9 851.8h0M313.7 852.5h0M318.8 831.8h0M315.8 846.1h0M322 841.8h0M330.3 842.5h0M316.5 846.2h0M331.1 844.5h0M319 839.1h0M328.2 846.1h0M322.3 858.8h0M327.2 847.8h0M328.8 848.6h0M328.3 848h0M315.2 836h0M329.3 855.7h0M314.7 839.2h0M326.3 853.9h0M313.3 850.4h0M318.1 841h0M314.9 852.9h0M324.2 835.6h0M318.4 836.9h0M323.1 847.7h0M316.5 848.1h0M320 848.7h0M329.5 862h0M323.7 851.1h0M321.6 850.8h0M326.1 844.5h0M331.2 841.3h0M318.7 872.8h0M314.5 852.6h0M317 839.5h0M315.4 839.8h0M320.1 833.5h0M326.4 849.3h0M326.9 854h0M314.5 845.6h0M315.5 840.6h0M319.2 854h0M328.4 851.5h0M321.6 854.9h0M322.6 840.8h0M317.9 855.6h0M322.8 844.6h0M323.9 845.5h0M318.8 847.5h0M323.8 842.5h0M326.7 845.4h0M319.1 856h0M321 852.6h0M314.9 842.3h0M317.3 830.6h0M313.2 838.5h0M313.5 844.8h0M314 843.2h0M329.4 850.9h0M326.3 835.2h0M323.5 836.9h0M327.5 860.3h0M315.7 839.1h0M319.1 859.9h0M323.4 845.6h0M328.6 837h0M322.6 851.3h0M314.8 844.5h0M313.3 847.3h0M313.1 875.4h0M326.7 830.7h0M329.3 841.4h0M315.2 868.3h0M327.7 835.2h0M313.2 851.6h0M328.2 849h0M325.7 849.1h0M321.4 837.5h0M321.4 841.3h0M316.6 853.7h0M330 845.8h0M317.6 855h0M317.4 835.4h0M327 843.3h0M323.3 838.3h0M322.2 855.4h0M323.2 845.3h0M314.5 828.7h0M314.5 850.3h0M330.9 845.9h0M325.7 849.1h0M324 850.5h0M323 844.4h0M316.9 847.1h0M315.4 852.9h0M323.5 851.4h0M312.6 840.5h0M312.9 831.9h0M318.9 842.2h0M323.5 841.6h0M330 849.4h0M321 847.9h0M318.2 852.2h0M330.5 845.1h0M318 845.1h0M321.5 835.6h0M321.4 834.8h0M313.3 849.3h0M314.4 838.3h0M312.6 846.6h0M327.4 853.2h0M319.6 850h0M325.3 842.9h0M320.9 843h0M321.8 839.8h0M328.7 850.3h0M319.9 847h0M314.3 861.6h0M325.1 838.6h0M313 813.5h0M322.2 842.5h0M319.4 862.8h0M320.5 845h0M326.2 845.4h0M328.3 839.7h0M330.6 841.4h0M327.2 834.7h0M327.9 837h0M330.1 842.2h0M319.7 850.3h0M318.9 850.2h0M312.9 843.4h0M321 848.5h0M313.5 834.9h0M316.5 838.7h0M320.2 838.7h0M320.2 865.1h0M326.9 851.5h0M321.2 835.8h0M325.8 844h0M312.9 843.8h0M326 839.1h0M326.8 849.3h0M312.7 851h0M319.1 848.2h0M324.4 854.1h0M315 847.4h0M327.7 859h0M330.8 835.8h0M327.2 833.1h0M324.1 839.8h0M327.2 843.8h0M330.2 857.8h0M330.5 831.9h0M318.7 839.5h0M324.7 850.6h0M314.2 852.9h0M329.7 843.8h0M313.5 852.4h0M317.9 841.3h0M323.3 837.7h0M316.6 856.3h0M320.4 857.6h0M319 850.7h0M325 838h0M322.2 843.1h0M328.1 844.2h0M324.2 846.6h0M326 836.7h0M312.7 854.4h0M325.2 835.6h0M329.6 850.2h0M315 848.9h0M327.2 842.4h0M327.3 836h0M314 843.4h0M324 854.9h0M318.3 844.5h0M319.4 858.5h0M331.2 839.7h0M323.2 844.2h0M321.4 845.8h0M327.5 841.1h0M319.8 854.6h0M314.9 862.2h0M330.9 847.4h0M315.5 848.9h0M329.5 858.1h0M330.9 844.3h0M321.3 837.6h0M314.7 831.2h0M321.1 840h0M322.7 845.1h0M327.3 863.7h0M331.3 860.5h0M317 837.5h0M313.1 831.5h0M331 849.6h0M312.5 844.1h0M330.6 841.4h0M329.3 842.8h0M329.4 840h0M320 851.2h0M316.2 860.4h0M323.7 846.7h0M320.6 845.4h0M325.8 864.4h0M316 846.3h0M321.3 823.6h0M329.7 839.5h0M323.6 847h0M330 840.8h0M326.6 840.6h0M315 844h0M324.6 847.2h0M315.9 857.2h0M313.8 856.1h0M323.8 840.5h0M312.6 851.1h0M313.4 848.8h0M319.8 839.5h0M315.8 839.2h0M325 848.9h0M317.7 858.8h0M317 849.5h0M322.8 852.4h0M322.3 840.4h0M328.4 856.9h0M327.9 844.6h0M330.1 842.5h0M314.5 862.6h0M313.5 842.5h0M326.6 843.5h0M320 831.9h0M313.4 840.2h0M322.4 838.7h0M318.5 843.5h0M316.5 831.8h0M325 849.5h0M326.3 832.5h0M317.3 835.6h0M325 857.4h0M316.7 850.4h0M329.2 836h0M320 836h0M321.4 847h0M315.6 848.2h0M321.2 839.2h0M317.7 858.3h0M327.2 845h0M315 832.7h0M322.5 856.2h0M320.1 831.4h0M329.7 833.2h0M324.8 849.7h0M323.1 854.1h0M315.2 845.4h0M314.4 840.9h0M323.9 838.6h0M329.8 847.4h0M314 855.6h0M320.4 835.3h0M319.4 851.1h0M312.8 855.6h0M324.2 851.5h0M321.2 839.9h0M321.5 849.6h0M328.1 848.6h0M324.2 838h0M317 854.2h0M330.6 861.5h0M329.9 843h0M325.5 842.3h0M314.7 841.5h0M324.4 850h0M312.4 858.4h0M317.8 849.2h0M320.6 854.5h0M321.1 837.7h0M327.3 843.1h0M323 830.3h0M324.7 839.4h0M320.9 847h0M326.2 835.1h0M316 852.4h0M329.4 837.4h0M328.3 837.7h0M329.7 846.9h0M330.4 850.2h0M327.2 845.1h0M317.9 849h0M329.7 844.6h0M327.7 841.7h0M321.3 842.5h0M314.3 844h0M330.8 839.2h0M316.5 842.1h0M315.7 830.1h0M322.9 857.5h0M328.7 843.4h0M317.5 850.2h0M316.4 834.6h0M327.2 844.3h0M323.1 835.4h0M323.2 832.6h0M323.7 846h0M327.7 837.4h0M327.2 838.6h0M317.4 851.1h0M319.3 849.8h0M331.3 840h0M328.3 858.1h0M322.6 848.3h0M318.5 849.8h0M329.4 846.2h0M317.8 845.1h0M321.2 829.2h0M323.6 848.2h0M326.9 853.9h0M325.8 844.8h0M325.4 852h0M316.3 837.2h0M318.8 838h0M326.6 855.1h0M323.3 855.5h0M329.7 843.2h0M313.8 849.6h0M331 845.5h0M321.7 833.4h0M318 846.1h0M314.3 841.5h0M313.7 857h0M331.2 854.2h0M327.3 852.3h0M330.9 849.1h0M328.4 841.4h0M320.6 837.8h0M316.1 830.3h0M322.6 852h0M316.9 838.2h0M315.4 852.1h0M322.9 858.1h0M323.2 833.2h0M331 841.7h0M327.6 850.5h0M312.8 847.3h0M315.7 837.8h0M323 830.4h0M325.8 837.8h0M331.1 840.1h0M322.8 850.8h0M321.3 857.9h0M312.6 845.3h0M320.6 855.7h0M328.7 848.1h0M313.5 832.6h0M322.3 843h0M330.4 851.9h0M330.6 856.3h0M312.7 855.4h0M318.2 839.5h0M316.1 866.6h0M331 852.6h0M327.5 841.5h0M317.5 850.4h0M319.7 845.6h0M325.2 853.4h0M312.9 836.5h0M315.6 824.6h0M327.3 841.5h0M318.2 832.4h0M316.9 848.4h0M329.6 842.5h0M326 844.8h0M328.6 856.6h0M327.2 845.8h0M322.1 845.5h0M315.9 849.4h0M325.6 847.4h0M322.8 859.1h0M326.2 840.7h0M325.2 850.9h0M327.3 843.6h0M313.5 849.8h0M315.5 836.5h0M329.1 844.7h0M325.4 840.2h0M328.8 853.1h0M313.5 839h0M322.3 841.6h0M312.7 846.6h0M315.4 849.4h0M313.3 841.9h0M316 840.7h0M317.3 845.5h0M313.8 844h0M324.7 848.2h0M323.5 850.3h0M325.4 854.9h0M330.9 838.7h0M317.7 841.7h0M317 843.8h0M318.2 847.8h0M327.8 846.5h0M324.8 849.8h0M326.6 839h0M316.9 843.1h0M314.9 844.4h0M321.4 846.9h0M329.5 850.5h0M317.3 833.5h0M326.8 846.2h0M325.7 838.6h0M319.3 850.3h0M325.6 843.8h0M329.8 837.9h0M316.4 856.5h0M317.3 852h0M319.8 853.1h0M316.2 842.2h0M320 859.1h0M326.3 848.7h0M328.6 855h0M325 857.6h0M322.7 827.9h0M329.8 847.3h0M316 834.3h0M325.6 836.8h0M319.6 832.4h0M330.1 846.1h0M316.1 855.1h0M317.2 826h0M314.6 859.8h0M321 860h0M325.4 840.4h0M317.9 837.6h0M329.4 839.4h0M327.5 847.2h0M317.5 856.9h0M323.8 843.3h0M324.8 837.5h0M315 845.9h0M324.7 834.3h0M324.2 845.7h0M328.9 839.1h0M318 851.2h0M315 841.2h0M322.7 833.7h0M328.6 836h0M314.7 838.8h0M316.3 845.7h0M314.4 850.8h0M331.1 845.2h0M326.8 837.6h0M314.2 837.3h0M328.4 852.2h0M320.7 834.8h0M312.9 830.6h0M313.6 851.3h0M317.1 840.8h0M313.2 854.3h0M315.6 843.7h0M313.6 845.8h0M315.1 842h0M314.3 845.4h0M320.5 848.9h0M328 842h0M327.2 862.1h0M322.4 853.6h0M313.6 845.1h0M330.3 845.8h0M313.7 839.9h0M312.7 854.1h0M326.6 855.4h0M324.2 845.4h0M326.7 849.2h0M317.6 862.3h0M329.3 839.2h0M328.9 842.5h0M313.3 846.4h0M330.5 828.9h0M327 851.6h0M328.6 844.3h0M321.5 839.8h0M327.4 845.3h0M329.6 848.5h0M329.4 844.8h0M317.7 842.1h0M315.7 837.6h0M324.7 849.4h0M320.8 848.7h0M328.7 850.8h0M321 849.7h0M315.4 850h0M319.5 850.7h0M330.6 833.4h0M325.6 849.5h0M315.6 850.1h0M316 825.3h0M319.7 838.4h0M330.2 863h0M322.2 845.7h0M317.5 847.7h0M316.4 858.8h0M317.1 856.6h0M322.5 839.9h0M316.4 841.9h0M314.4 844.7h0M328 851.2h0M324.8 836.1h0M323.7 843.6h0M317.2 845.2h0M320.4 844.7h0M329 856.2h0M317.4 842h0M320.6 833.6h0M314.3 842.1h0M319.8 849.3h0M314 834.9h0M327 854.4h0M331.3 849.2h0M313.8 842.7h0M319.2 840.8h0M330.4 842.8h0M314.7 860.2h0M327.7 841.8h0M314.5 842.1h0M321.1 851.3h0M327.2 834h0M327.3 847.1h0M327.6 846.2h0M318.5 840.5h0M322.6 842.6h0M314.9 842.1h0M331.2 849h0M326.3 843.6h0M319.8 845.3h0M321.8 854.4h0M323.4 857.1h0M319.2 826.7h0M318.7 854.6h0M329.6 850.6h0M315.4 839.1h0M330.4 843.8h0M322.8 858.8h0M321.1 840.4h0M321.3 839.4h0M312.7 845.1h0M318.6 848.9h0M321.1 845.5h0M313.3 853.9h0M312.6 856.7h0M312.5 841.6h0M324.1 831.9h0M312.6 834.9h0M330.4 842.5h0M324.2 839.4h0M326 841.6h0M313.2 836.3h0M322 837.8h0M316.3 855.5h0M329.8 849.8h0M319.1 832.6h0M316.2 852.7h0M320.6 859.8h0M318.5 834.6h0M315.1 844.4h0M327.2 841.5h0M316.5 834.1h0M329.6 851.2h0M326.3 843.7h0M328.7 843.1h0M326.2 846.9h0M329.1 845.8h0M330.5 847h0M312.6 840.4h0M317.3 851.5h0M329.5 845.9h0M322.7 853.8h0M329.8 844.4h0M321.2 837.7h0M318.9 851.5h0M328.2 846.9h0M317.4 854.2h0M320.1 830.6h0M328 845.3h0M319.8 841.8h0M324.8 829.7h0M315.3 847.4h0M316.4 846h0M330.9 849.8h0M316.1 856.2h0M315.5 831.1h0M312.7 842.6h0M313.9 844.4h0M320 841.7h0M324.1 850.2h0M329.1 843.4h0M331.1 841.9h0M319.1 836.4h0M321.8 846h0M320 848.6h0M321.2 844.3h0M328.6 840.2h0M320.2 836.9h0M326.5 847.8h0M328.6 849.3h0M320.1 857h0M318.9 849.7h0M314.1 843.4h0M325.2 841.6h0M327.5 852.8h0M324.4 858.1h0M317.6 853.1h0M325.7 834.5h0M316.6 839.7h0M327.6 846.7h0M330.2 832.4h0M318.6 843.4h0M323.8 847.3h0M321 843.2h0M318.7 844.6h0M329.3 846.2h0M318.4 837.6h0M327.4 845.5h0M326.7 844.4h0M314.5 841.4h0M328.1 838.4h0M319.5 856.8h0M319.4 852.2h0M320.8 848.1h0M320 850.6h0M320.4 846.7h0M326.7 852h0M318.3 853.3h0M315.4 856.3h0M326.7 843.9h0M320.5 833.7h0M322.6 852.8h0M315.7 832.9h0M325.2 836.5h0M324 859.5h0M324.4 843.5h0M330 842.7h0M313.8 864.9h0M322.2 842.8h0M313.3 847.5h0M319.4 844.1h0M324.6 834.7h0M327.8 844.2h0M317.7 841.9h0M329.4 853.3h0M329.8 840.4h0M329.8 840.6h0M320.7 838.8h0M324.2 821.6h0M321.4 845.9h0M313.7 837.5h0M317.6 846.5h0M328.2 841.1h0M315.8 825.1h0M320.8 847.5h0M325.2 852.9h0M320.2 835.6h0M323.4 849.2h0M323.1 846.8h0M314.9 842.1h0M313.2 847.5h0M322.3 843.9h0M324.4 839.5h0M323 834.8h0M330.8 851.5h0M315.3 825.4h0M314.1 843.3h0M328.2 849.7h0M329.3 850.8h0M330.7 841.5h0M329.3 833.3h0M319.9 848.6h0M323.1 853.4h0M324.5 834.6h0M323.2 853.3h0M320.4 840.5h0M328.1 840.3h0M327 845.3h0M313 857.6h0M329.7 840.3h0M320.4 840.7h0M326.2 845.2h0M330.8 838.9h0M324.7 848.2h0M317.4 858.2h0M323.9 861.9h0M320.6 843.3h0M315.9 850.1h0M315.3 839.1h0M326.9 842.8h0M320.5 844h0M320.7 850.1h0M319.2 844.7h0M324 838.1h0M324.3 852.8h0M327.4 836h0M318.2 846.7h0M323.8 840.2h0M322 850.5h0M314.2 837.5h0M328.7 845.9h0M323.9 845.2h0M321.6 842.6h0M322.2 831.8h0M322.3 839.7h0M320.2 843.4h0M322.1 854.1h0M328 845.1h0M319.5 855.3h0M326.8 842.6h0M312.7 848.5h0M318.4 844.9h0M326.5 851h0M324.8 845.3h0M314.2 842.8h0M319.2 831.4h0M320.8 841h0M327.8 840.4h0M314.5 854.2h0M315.3 837.3h0M318.1 850.1h0M320.1 853.2h0M325.8 848h0M319.9 843.3h0M326 848.3h0M316.7 850.3h0M319.3 840.6h0M327 851.2h0M320.6 848.2h0M322 849.7h0M320.4 845.3h0M314.2 843.9h0M322 851.7h0M313.3 836.1h0M315.4 870.4h0M326.3 842.8h0M326.5 836.7h0M330.8 835.4h0M326.6 841.7h0M319.9 840.5h0M316.3 848.8h0M316.4 848.7h0M317.2 853.9h0M329.7 848.9h0M320.5 858.3h0M322.4 861.3h0M322.2 837.2h0M314.6 842.4h0M323.9 836.1h0M312.5 848h0M324.5 855.1h0M316.8 842.7h0M330.6 837.9h0M324.3 860h0M321.8 848.2h0M314.7 844.7h0M317.6 827.2h0M317.7 843.3h0M330 853.3h0M322.2 854.5h0M322.1 854h0M321.4 853h0M319.1 840.4h0M325 846.9h0M321.2 844.8h0M323 857.1h0M325.9 830.3h0M324.6 850.4h0M315.8 858.8h0M329.6 848.5h0M315.6 840.4h0M323.1 848.9h0M329.8 846.6h0M331 832.4h0M319.1 853.6h0M322.9 840.4h0M324.7 864.6h0M316.8 844.6h0M320.3 850.8h0M323.8 839.9h0M316.4 845.7h0M326.7 851.4h0M331.3 846h0M312.5 845.9h0M331.3 847.7h0M321.7 852.3h0M327.4 854.3h0M321.8 852.4h0M321.2 849.5h0M313.9 854.9h0M317.5 841h0M313.2 859.6h0M322.6 860.9h0M324.9 856h0M320 854.9h0M329.4 848.5h0M330.5 842.1h0M317 847.4h0M318.6 838.7h0M316.2 846.2h0M316.5 844.5h0M325.2 837.3h0M326.9 845.2h0M330.7 843h0M322.2 849.5h0M320.1 854.5h0M330.3 848.5h0M313.4 831.4h0M322.3 844.2h0M318.1 866.2h0M326.3 854.8h0M318.6 842.2h0M314.9 852h0M330.4 841.1h0M330.6 843.7h0M330 848.2h0M315.5 830.5h0M318.5 848.1h0M319.6 828.4h0M320.1 842.3h0M322.4 840.9h0M327.9 843.5h0M331.3 851.8h0M326.7 847.7h0M326.9 842.7h0M321.3 853.2h0M318.1 836.9h0M330.8 844.7h0M319.9 844.4h0M330.6 845.8h0M326.5 862.7h0M318.7 842.5h0M316.3 838.1h0M326 830.5h0M325.1 839.5h0M323.3 845.6h0M322.7 843.5h0M317.6 848.8h0M329.7 846.2h0M322 858.6h0M329.7 844.6h0M327.6 835.4h0M326.5 843.3h0M315.6 854.3h0M315.1 849.6h0M319.4 836.5h0M330.4 837.2h0M314.9 857.7h0M313.5 853.6h0M316.2 846.6h0M317.2 839.9h0M323.6 844.1h0M314.7 842.8h0M326.8 838.4h0M323.4 840.2h0M323.7 855h0M328 841.9h0M318.8 848.8h0M330.3 847.7h0M321.1 844.6h0M324.9 846.2h0M327.3 846.2h0M319.5 837.8h0M328 831.6h0M313.2 848.1h0M322.5 841.9h0M322.3 851.5h0M314.1 857h0M323.2 855.3h0M331 854.4h0M325.5 846h0M318.5 847.3h0M323.9 836h0M327.2 843h0M326.6 842.7h0M326.6 848.5h0M327.6 849h0M320.1 838.6h0M326.6 843.5h0M321.7 840.5h0M319.1 839.4h0M320.8 853.6h0M330.8 846.7h0M326.2 833.8h0M321.8 839.7h0M331 833.2h0M324.7 845.6h0M323.1 840.7h0M324.7 833.7h0M320.6 820.5h0M313.2 838.9h0M320.6 850.2h0M317.1 845.2h0M330.2 849.6h0M326.2 848.4h0M314.7 844.4h0M315.8 849.9h0M313.2 841.4h0M327.4 856.2h0M326.4 844.1h0M318.7 851.9h0M315.6 848.2h0M317.4 832.6h0M323.6 849h0M315 844h0M313.1 839.2h0M317.9 836.5h0M331.3 839.3h0M315 848.5h0M325.1 850.1h0M330.1 838.9h0M329.2 836.5h0M324.6 853.4h0M321.2 837.5h0M326.3 845.3h0M328.9 841.4h0M319.7 851.2h0M323 837.8h0M322.5 837.1h0M312.6 863.8h0M328.8 835.3h0M328.4 843.3h0M328.9 852.3h0M315.6 836.7h0M316.9 854.1h0M321.8 839.1h0M318.1 833h0M315.4 849.5h0M312.6 851.8h0M315.7 859.1h0M315.6 850.7h0M321.9 831.4h0M329.3 852.3h0M313.5 832h0M313.3 837.1h0M330.8 847.5h0M312.6 839.3h0M316.1 844.3h0M326.5 843.7h0M323.7 839.6h0M320.3 840.5h0M330.5 848.5h0M314.5 843.5h0M323.5 843.4h0M328.3 846.3h0M329.3 849.5h0M314.2 846h0M323.2 845.8h0M317 844.2h0M319.2 855.1h0M314.6 862.9h0M314.1 838.1h0M331 844.1h0M319 853.2h0M321.3 838.9h0M325.3 847.6h0M329.5 850.5h0M328.2 836.5h0M324.1 837.2h0M330.4 847.2h0M317.5 836.8h0M327.9 841.1h0M314 858h0M326.3 856.3h0M326.7 844h0M325.7 849.3h0M324.8 852.7h0M330.9 846.9h0M316 843.1h0M321.8 839.4h0M318.2 847h0M321.3 851.7h0M326.8 839h0M327.5 853.5h0M321 854.9h0M314.1 850.6h0M316 851.1h0M324.4 843h0M324.9 849.4h0M327.4 839.2h0M319.6 851.2h0M323.7 850.2h0M317.9 830.9h0M326.6 847.7h0M314.7 850.6h0M320.1 842.8h0M329.2 837.4h0M325.3 836.1h0M322.1 851.5h0M321.7 858.8h0M314.6 855.9h0M313.4 849.5h0M329.1 838.5h0M316.6 834.1h0M323.6 851h0M316.5 854h0M330.4 838.4h0M323 846.3h0M317.6 846.3h0M324.2 834.3h0M319 839.5h0M316.2 857.1h0M314.9 842.2h0M318.4 845.3h0M330.9 839.6h0M321.3 856.6h0M320.3 847h0M320.9 851.9h0M313.9 844.7h0M329 851.9h0M324.5 840h0M319.3 854h0M320.2 837.1h0M328.7 837.9h0M323.8 846.3h0M318.6 834.2h0M315.1 833.3h0M331 846.2h0M322.9 852.4h0M325.4 849.5h0M320.2 850.2h0M319.3 836.7h0M316.8 838.3h0M321.8 843h0M328.2 840.3h0M313.2 837h0M322.8 851.2h0M323 848.8h0M315.5 856.7h0M313.3 838.2h0M322.8 841.2h0M320.6 838.2h0M326.5 843.5h0M323.4 843h0M319.7 850.3h0M324.1 850.7h0M324.2 834.6h0M317.9 862.6h0M317 834.5h0M329.1 853.2h0M322.6 850.4h0M317.8 836.6h0M329.1 850.3h0M319.5 860.1h0M315.6 839.5h0M316.5 837.7h0M317.8 841.5h0M326.4 854.9h0M317.6 842.9h0M329.9 845.6h0M314.7 848h0M320.3 843h0M325.9 852.5h0M330.9 837h0M328 849.4h0M319.2 843.9h0M318.4 841.8h0M312.9 845.8h0M315.8 838.2h0M314.5 844.8h0M324.9 841.2h0M313.4 856h0M313.3 840.9h0M326.9 845.2h0M313.3 857h0M323.5 845.4h0M313.2 851.6h0M320.7 849.7h0M331.2 854.5h0M318.1 854.2h0M331 850.4h0M323.7 846.2h0M327.2 845h0M317.7 847.7h0M323 852.3h0M319.1 845.1h0M315.4 834.8h0M329.6 840.9h0M331.2 843.4h0M319.6 842.5h0M317.7 846.8h0M325.8 844.5h0M313.7 841.9h0M315.1 842.4h0M313.2 839h0M324.2 837.3h0M330.1 837.9h0M322.6 841.2h0M313.2 847.5h0M322.4 853.6h0M327.7 856.4h0M315.3 836.2h0M319.4 840.1h0M320.8 845.8h0M319.7 853.4h0M331.1 843.4h0M325.8 835.4h0M323.8 834.6h0M314.1 823.6h0M317.7 837.2h0M319.5 837.5h0M322 835.1h0M322.1 857.3h0M321.2 838.5h0M325.6 850.1h0M321 841.9h0M320.3 857.6h0M314.5 854.4h0M329.8 851.3h0M323.6 849.2h0M314.2 838.7h0M317.5 854.2h0M323.9 839.9h0M323.9 837.5h0M312.7 855.8h0M329.7 838.8h0M318 830.3h0M329.3 849.3h0M328.4 840.9h0M329.9 835.7h0M315.9 850.3h0M323.9 849.8h0M316.4 846.3h0M325.5 846.2h0M327.9 851.9h0M320.4 848.4h0M317.5 853h0M312.7 840h0M330.4 830.2h0M313 835.2h0M325.1 855.2h0M328.5 837h0M319 852.9h0M315.9 840h0M319.1 847.5h0M325.3 834.8h0M329.5 844.8h0M318.2 844.2h0M321.3 845.1h0M321.5 846.1h0M315.8 842.1h0M314.2 828.5h0M325.7 833.6h0M318.4 838.7h0M313.3 844.1h0M318.9 845.6h0M315.8 832.8h0M317.1 852.2h0M316.2 853.6h0M324.4 849.9h0M318.9 842.5h0M318.6 842.3h0M326.1 842.1h0M320.6 846.9h0M324.5 850.4h0M326.7 859.5h0M313.3 841.7h0M327.5 850.2h0M326.3 837.8h0M329.2 852.5h0M321.8 844.3h0M324.7 841.2h0M316.3 842.1h0M317.9 838.7h0M313.8 836.8h0M312.8 842.2h0M316.6 837.4h0M317.2 845.3h0M317 845.8h0M312.6 820.3h0M312.6 845.7h0M330.8 846.8h0M326.3 858.1h0M318.2 853.4h0M315.7 844.9h0M316.9 851.8h0M317.9 845h0M312.6 857.2h0M324.1 836.2h0M318.8 843.9h0M314.9 849.1h0M328.8 848h0M327.5 846.9h0M322.9 839.6h0M327.1 849.8h0M322.4 842.3h0M316.3 848h0M330.9 853.3h0M322.7 848.5h0M313.6 845.2h0M314.9 841.2h0M319.5 832.6h0M327 852.4h0M328.8 849.6h0M331.2 842.3h0M325 846h0M329 855.3h0M324.9 839h0M329.9 852.5h0M330.8 854.4h0M321.4 853.7h0M317.7 861.7h0M321.2 851.8h0M321.1 842.6h0M316.6 836.1h0M328.7 848.2h0M329.2 850.4h0M316 845h0M319.5 849.8h0M321.8 823.8h0M313.7 830h0M312.6 840.3h0M323.5 846.9h0M317.8 840.9h0M327 839.4h0M326.2 846.3h0M318.8 838.1h0M322.5 823.3h0M321.1 861.2h0M326.9 842.9h0M318.5 837h0M328.1 849.9h0M325.4 852.7h0M321.4 841.7h0M318.5 846h0M323.5 847.8h0M328.6 852.6h0M314.4 831h0M329.7 846.9h0M326.8 839.2h0M316.7 844.8h0M312.7 857.1h0M322.6 845.1h0M313.6 862h0M330.2 841.8h0M321 845.2h0M319.7 858.5h0M312.6 840.4h0M322 834.2h0M325.5 851.2h0M323.1 860.2h0M330.4 857.1h0M326.5 849.7h0M325.5 834h0M320.9 855.3h0M321.7 830.5h0M322.9 854.3h0M330.7 844.5h0M328.6 856h0M314.8 838.5h0M314.9 847.8h0M326.3 836.6h0M318 844.3h0M319.3 841.3h0M315.7 838.9h0M313.3 841h0M316.3 841.9h0M326.6 846.8h0M323.9 846.3h0M321.1 850.2h0M326.1 836h0M325.1 848.6h0M316.2 863.8h0M313.2 841.5h0M312.9 836.4h0M312.9 851h0M323.1 845.9h0M315.8 849.1h0M325.3 840.9h0M313.3 831.8h0M324.1 844h0M319.5 845.8h0M318.5 836.2h0M328.3 841.5h0M326.8 848.1h0M323.7 845.4h0M331 834.9h0M327.4 843.5h0M312.4 840.7h0M322.1 852.5h0M322.4 833.8h0M322.2 848.9h0M327.4 844.4h0M317.2 842.9h0M324.9 851.1h0M330.8 852h0M314.8 834.1h0M325.9 844.7h0M325 837.9h0M320.2 825.5h0M329.7 849.6h0M314 844.4h0M317.8 843.7h0M327.2 856.3h0M329.1 850.4h0M327.8 831.4h0M318.7 844.6h0M321.3 836h0M317.2 828.2h0M327.9 847.2h0M329.8 834.4h0M324.7 837h0M315.4 847.9h0M324.3 841.1h0M328.5 838.4h0M329 846.3h0M321.6 837.4h0M325.8 839.1h0M326.2 864h0M318.3 842.5h0M325.5 850.1h0M322.8 839.2h0M322.2 845.5h0M319.7 837.5h0M320.6 847.9h0M320 854.6h0M324.9 832.3h0M322.6 847.6h0M323.2 837.4h0M316.6 846.1h0M325.6 852.3h0M320.9 853.4h0M314.2 832.7h0M319.7 841.6h0M316.4 843h0M325.9 857.6h0M314.8 843.7h0M313.7 848.4h0M319 842h0M314.1 845.4h0M324 847.3h0M313.2 844.7h0M313.7 849.1h0M318.5 835.1h0M318.6 850h0M314.8 849.1h0M326.3 836.2h0M328 839.9h0M320.8 843.8h0M323.8 843.7h0M316.2 838.8h0M328.2 845.3h0M313.5 857.1h0M317.5 834.8h0M323.5 846.4h0M313.9 863.2h0M322.8 853.2h0M324.4 850.7h0M320.1 846.5h0M328.6 835.2h0M319.4 846.9h0M319.6 847h0M327.8 854.1h0M327.8 837.6h0M330.4 844.9h0M313.9 855h0M323.2 839.9h0M312.5 830.5h0M320.7 848.3h0M325.8 846.5h0M327.3 838.3h0M316.3 825.6h0M321.5 855.7h0M315 832.3h0M322.7 849.7h0M321.8 863h0M331.2 840.1h0M324.1 858.3h0M326.1 851.5h0M314 826.3h0M323.5 851.7h0M319 836h0M323.3 854.3h0M317.8 848.3h0M317.9 841.6h0M324.9 861.7h0M320.5 850.1h0M323.3 831.3h0M327 850.4h0M313.3 847.6h0M315.6 845h0M318.4 850.3h0M313.3 826.2h0M314.6 860.4h0M328.2 835.8h0M314.9 837.4h0M321.8 845.3h0M320.9 835.5h0M322.4 856.9h0M315 844.2h0M318.2 836.8h0M325.8 842.1h0M315.7 853.3h0M320.3 842.6h0M326 840.5h0M317.3 855.7h0M340.4 845.4h0M347.2 849.6h0M320.8 852.8h0M349.2 849.6h0M360.9 844.7h0M345.6 847.3h0M345.6 849.4h0M343.6 843.1h0M347.3 848.8h0M334 848.2h0M360.8 847.6h0M341.6 849.3h0M341.6 838.8h0M361.9 845.6h0M346.2 849.5h0M342 842.3h0M361.9 846.2h0M347.8 845.5h0M355.1 844.8h0M340.6 838.9h0M329.1 838.3h0M347.8 850.3h0M359.9 843.1h0M341.7 838.4h0M349.7 848.4h0M353.1 846.5h0M348.7 844.4h0M346.9 841h0M353.6 848.3h0M348.3 839.8h0M341.1 839.7h0M356.4 844.6h0M354 840.6h0M349.9 848.6h0M353.2 840.1h0M320.9 844.5h0M348.9 840.9h0M346.7 850.1h0M327.2 835.8h0M366.3 844.5h0M349.7 849.3h0M342.1 846.2h0M342.7 836h0M348.9 847.6h0M346.2 844.7h0M330.8 839.3h0M342.5 838.6h0M350.6 845h0M352.3 844.1h0M354.7 844.7h0M336.1 840.6h0M340.3 852.1h0M350 847.8h0M340.5 849.5h0M348.5 840.6h0M338.4 851.6h0M352.1 847.7h0M347 841.6h0M352.1 850.5h0M346.8 849h0M338.9 848.2h0M334.8 837.6h0M347 840.1h0M340.7 834.5h0M332.3 863.2h0M341.3 851.5h0M354.2 843.7h0M358.5 849h0M354 843.3h0M359.7 848.2h0M343.1 840.9h0M345.2 847.2h0M337.5 851.7h0M339.3 846.8h0M362.2 841h0M350.9 842.7h0M353 839.8h0M371.8 847.3h0M365.3 845.3h0M338.4 841.2h0M356.2 842.8h0M339.5 844.9h0M356.3 844.8h0M328.7 848h0M337.8 845.6h0M338 848.1h0M366.1 843.2h0M329.7 842.6h0M357.5 845.2h0M357.2 844.2h0M348 842.7h0M354.8 846.2h0M371.7 845.9h0M349.3 844.5h0M344.2 852.3h0M359.9 846.4h0M354.4 846.8h0M335.7 841h0M348.6 849.5h0M349.6 845.1h0M335.8 843.4h0M337.6 851h0M340.4 836.3h0M335.2 857.7h0M351.8 848h0M349.7 838.2h0M325.3 825h0M342.7 843.9h0M348.2 841.9h0M333.6 848.3h0M344 844.9h0M349.5 846h0M330.2 838.6h0M343.7 842.9h0M323.7 850.2h0M353.9 843.4h0M339.4 853.7h0M332.5 833.5h0M328.6 854.3h0M330.4 851.5h0M358.8 843.7h0M338.2 844.6h0M340.8 841.3h0M342.5 846.2h0M331.6 832.1h0M353.6 850.8h0M321.9 836.8h0M354.8 839.1h0M338.8 839.7h0M346.5 844h0M349 842.7h0M354.2 845.3h0M334 839.8h0M352 845.7h0M345.5 843.1h0M344.5 845.1h0M343.3 844.9h0M356.9 846.7h0M350.6 846.4h0M358.4 848.3h0M354.9 846.2h0M326.7 846.1h0M345 843.8h0M355.8 845.4h0M337.2 847.8h0M329.6 846.3h0M323.6 848.7h0M365.3 844.9h0M336.9 839.8h0M347.6 846.8h0M335.4 843.2h0M350 845.9h0M362 845.4h0M331.7 837.9h0M345.3 852.4h0M338.4 846.2h0M327.5 852.4h0M337.1 850.5h0M346.2 848.1h0M357.9 845.5h0M358.4 844h0M345.7 848.9h0M329.7 853.2h0M352.4 844.2h0M345.9 839.7h0M345.7 841h0M334.7 838.9h0M344.4 845.5h0M365.1 843.6h0M360.5 843.6h0M358.4 848.8h0M352.5 843.9h0M342 850h0M346 838.8h0M347.4 845h0M349.8 846.8h0M342.5 842.9h0M337.5 843.9h0M356.9 843.4h0M342.3 841.6h0M354.2 848.1h0M344.2 848h0M352.6 845.6h0M351 843.4h0M353.2 841.3h0M352.7 846.4h0M336.7 843.1h0M332.7 839.1h0M345.5 842.5h0M362.2 846.5h0M337.8 845h0M336.9 841.2h0M368.3 845.3h0M330.8 845.3h0M340.4 847.4h0M342 850h0M339.3 847.2h0M339.6 849.7h0M356.5 846h0M348 846h0M347.7 839.4h0M329.8 838.7h0M353.7 845.5h0M347.6 843.2h0M347.4 853.4h0M354 844.8h0M349 840.7h0M345.7 851.8h0M350 848.8h0M339.1 848.4h0M337.1 848.2h0M332.8 842.4h0M355.4 843.4h0M339.6 850.3h0M347.7 848.7h0M356.8 843.8h0M363.6 843.2h0M342.5 840.5h0M347.6 843.8h0M346.9 846.9h0M333.2 846h0M341.3 850.2h0M373.3 847.4h0M345.4 850h0M363.3 845.2h0M353.5 844.7h0M363.2 845.9h0M359 845h0M348.2 843.6h0M333.9 843.3h0M360 846.1h0M352.9 845.6h0M350.7 844h0M354.5 844h0M338.3 839.9h0M347.3 834.3h0M346 842.3h0M331.5 849.3h0M334.3 840.6h0M344.8 845.9h0M324.3 851h0M353.2 848.4h0M353.5 846.1h0M345.2 848.1h0M348.7 839.1h0M328.2 846.4h0M347.6 838.1h0M353.2 847h0M350.8 845.4h0M354.9 846h0M345.3 847.8h0M365.3 844.3h0M350.1 842.9h0M353.6 845.7h0M356.4 845.3h0M338.4 845h0M334.9 844.1h0M353.5 846.6h0M333.7 849.9h0M340 842.3h0M355.5 847.7h0M335.2 840.4h0M336.3 846.9h0M333.8 844.1h0M335.7 847.1h0M364.1 842.5h0M351.2 844.7h0M355.2 841h0M327 848.5h0M322.4 848.8h0M334.6 838.4h0M356.1 840.9h0M357.3 847h0M326.5 851.1h0M328.8 839.7h0M352.2 845.5h0M348.2 841.8h0M350.1 842h0M352.2 845.6h0M335.9 846.9h0M347 843.4h0M343 840.2h0M357.7 843.7h0M342.7 849.1h0M327.3 843.4h0M358 843.7h0M363.3 843.4h0M355.2 845.1h0M342.5 845h0M336.5 853.3h0M355.5 846.6h0M340.5 836.7h0M350.8 845.6h0M353.3 845.6h0M344.4 843.7h0M326.2 848.2h0M350.5 852.5h0M335.9 856.4h0M330.4 846h0M345.2 843h0M347 846.2h0M344.7 842.3h0M351.8 847h0M327 837.9h0M351.3 843.5h0M361.5 847.5h0M344.8 845.4h0M340.7 842.3h0M343.9 837.9h0M357.6 847.8h0M343.8 847.3h0M337.9 844.2h0M329.1 865.6h0M359.4 845.9h0M359.6 845.3h0M345.7 844.8h0M365.9 842.1h0M341.8 839.7h0M352.8 843.8h0M332.9 838.8h0M335.9 847.6h0M345.6 844h0M350.4 843.5h0M351.7 848.2h0M337 839.2h0M340.6 846h0M344.7 852.8h0M343 840.4h0M343.2 848.6h0M353.7 848.7h0M357.1 844.9h0M327.8 845.4h0M358.6 842.7h0M347.5 848.4h0M349 840.3h0M349.1 841.9h0M354.9 844.3h0M352.6 843.9h0M330.9 839.2h0M354.3 847.1h0M334.9 841.1h0M349.6 843.4h0M347.9 850.5h0M330.9 854.2h0M346 845h0M343.4 844.5h0M339.3 849.6h0M365.6 842.7h0M347.4 844.2h0M342.3 840.9h0M362.8 845.3h0M345.6 846.2h0M344.6 841.3h0M326.4 844.6h0M351.7 841.1h0M355.6 844.6h0M364.5 844.4h0M336.1 848.1h0M356.1 843h0M359.5 841.6h0M352.9 845.8h0M345.9 832.4h0M329.9 844.2h0M347.7 845.2h0M340.5 842.2h0M329 847.3h0M351.8 844.1h0M344.7 841.1h0M343.6 843.3h0M365.1 845h0M340.7 848.3h0M325.7 840.8h0M324.3 846.3h0M351 847.6h0M343.8 839.1h0M338.5 835.7h0M325.2 843.3h0M337.8 840.1h0M334.9 836.2h0M344.7 841.9h0M337.4 843.3h0M337.3 844h0M345.3 839.8h0M338.1 850.2h0M348.9 847.9h0M312.5 839.5h0M333.6 849.1h0M357.5 847.6h0M347.7 844.7h0M335.1 845.4h0M343.8 848.1h0M340 841.8h0M342 845.8h0M359.5 846.5h0M341.6 846.9h0M347.6 849.9h0M337.3 844.5h0M338.4 846.1h0M330.6 840.5h0M339.2 847.1h0M341.6 840.1h0M342.6 843.1h0M346.1 843.7h0M346.5 847h0M352 844.6h0M343.5 848.3h0M358.3 845.9h0M351.5 842.4h0M359 843.8h0M345.1 847h0M357.4 841.5h0M346.6 841.1h0M329.6 840.2h0M345.4 842.3h0M343.9 840.3h0M331.5 845.8h0M336.1 842.2h0M339.8 841.5h0M367.8 847.2h0M348.7 850.1h0M363.3 844.6h0M354.7 846.6h0M356.2 844.6h0M353.6 848.3h0M331.3 841.4h0M357.9 842.2h0M336 844.6h0M350 840.8h0M344.8 845.5h0M361.4 846h0M357.4 846.2h0M363.5 849.3h0M350.5 845.2h0M345.9 844.7h0M353.3 844.3h0M369 845.5h0M350.9 845.5h0M346.3 846.3h0M334 855.9h0M338.7 849.4h0M345.1 844h0M352.4 848.5h0M351.9 843h0M344.9 838h0M347.2 838.6h0M360.7 845.5h0M363.7 846h0M357.4 842.7h0M360.6 846.4h0M357.9 846.4h0M363.5 842.4h0M333.8 852.3h0M341 849.2h0M348.2 842.4h0M349.7 846h0M358.8 845.7h0M328.2 839.7h0M347.4 841.9h0M348.5 846.3h0M339.5 844.3h0M344.6 841.9h0M355.6 841.1h0M350.5 844.9h0M344.8 847.5h0M348 845.3h0M344.8 842.7h0M355 844h0M345 851.4h0M355.5 845.7h0M340.7 849h0M345.7 840.9h0M335.3 843h0M344.1 846.7h0M354.1 840.1h0M336.3 851.9h0M342.7 846.6h0M347.1 842.4h0M342.7 842.5h0M354.1 846.4h0M334.1 842.6h0M354.4 843.4h0M358.8 843.3h0M362.1 846.9h0M345.5 848.7h0M338.4 847.7h0M330.9 847.3h0M352.7 844.2h0M354 849.1h0M348.9 836.2h0M349.5 840.9h0M352.6 843.9h0M342.7 845h0M332 835.3h0M332.4 844.9h0M338.6 843.1h0M337.3 850.9h0M330.8 843.9h0M342 851.1h0M336.1 847.3h0M352.5 843.2h0M345.4 849h0M353.8 845.7h0M333.4 854.6h0M335.6 849.6h0M330.8 848.3h0M348.9 844.1h0M376.2 843h0M348.3 841.1h0M342 847.1h0M348.2 848.4h0M345.9 846.6h0M355.5 846.5h0M346.1 846.6h0M337.7 851.8h0M327.8 846.6h0M349.6 844.9h0M355.8 845.1h0M347.6 847.4h0M337.6 847.1h0M342 843.8h0M343.1 844.3h0M351.8 844.4h0M345.6 844.7h0M357.5 845.8h0M344.2 842.2h0M339.9 849.8h0M364 841.4h0M336.5 849.2h0M338.6 843.4h0M366.3 842h0M348.9 842.6h0M363.4 844h0M322.1 848.7h0M358.3 842.5h0M346.2 846.3h0M347.2 844h0M350.9 846.4h0M319.6 846.6h0M337.5 849h0M350.5 849.1h0M377.3 843h0M338.9 849.7h0M368.9 845.2h0M352.3 845.9h0M356.1 846.2h0M336.9 848.4h0M352.1 844.9h0M337.9 844.9h0M334.5 858.7h0M358.5 847.1h0M339.4 846.4h0M341.2 841.8h0M352.9 845.5h0M338.3 839.6h0M334 846h0M348.3 845.1h0M348.8 846.1h0M360.8 844.6h0M335.3 859.8h0M353.1 844.8h0M353 844.5h0M341.9 846.9h0M344.5 847.8h0M346.3 842.5h0M336.2 851.3h0M333.3 843.4h0M352.9 843.9h0M335.8 854.8h0M336.7 854.2h0M353.7 846.2h0M340.8 841.7h0M342.1 846.9h0M332.5 849.4h0M334.1 843h0M332.6 844.1h0M332.7 849h0M358 844.8h0M336.6 839.2h0M323.5 847.3h0M335.1 837.5h0M352.6 843.9h0M334.5 836.1h0M345.3 842.9h0M336.6 841.5h0M328.7 848.9h0M340.3 834.1h0M335.7 853.4h0M347.3 842.6h0M352.4 845h0M344.9 850.5h0M371 846.8h0M335.3 848.3h0M358.5 843.9h0M349.6 845.7h0M359 845.6h0M350.6 854.9h0M323.8 854.8h0M342.6 848.5h0M355.4 846.1h0M345.7 851.3h0M332.7 834.2h0M340.1 846.7h0M348.6 842.2h0M357.3 848.5h0M339.6 849.5h0M346.3 843.3h0M336.4 847h0M333.7 848.5h0M340.3 838.5h0M358.3 845.2h0M352.3 847.4h0M342.6 850h0M345 843.7h0M350.4 843.5h0M344 839.7h0M341 844.1h0M342.3 844.5h0M351.4 843.8h0M341.4 834.8h0M352.7 844.5h0M327.2 835.8h0M337.8 847.4h0M341 848.4h0M350.8 848h0M336.2 845h0M339.9 847.2h0M348.1 842.3h0M344 842.2h0M338.5 844.8h0M341.8 846.2h0M336.1 851.5h0M352.7 845.2h0M349.2 843.6h0M353.3 840.4h0M366.8 843.7h0M357.2 847.2h0M350 840h0M344.3 842.2h0M367.2 845.2h0M347.8 849.3h0M343.5 844h0M358.1 847h0M349.9 845.1h0M343.4 851.5h0M350.2 847h0M364.9 844.9h0M347.5 842.8h0M349.9 842.2h0M338 839.4h0M341.9 846.3h0M355.1 844.6h0M345.7 841h0M347.8 847.8h0M357.3 844.9h0M343.6 844.7h0M361.7 845.4h0M340.6 835.7h0M339.6 850h0M339.1 843.8h0M332.4 846.9h0M352.1 846.6h0M347 843.3h0M359.9 847.7h0M339.7 848.8h0M354 844.7h0M359.5 843.7h0M344.5 845.2h0M345 846h0M322.7 862.9h0M365.2 847.4h0M345.3 848.5h0M353.1 850.1h0M341.5 840.8h0M349.8 847.2h0M335.4 844.8h0M353.7 846.8h0M347.4 844h0M342.9 836.3h0M350.6 849.5h0M329.2 844.9h0M348 843.5h0M342.2 850.1h0M360.3 847.9h0M353.8 843h0M344.6 839.9h0M343.5 839.7h0M374.9 848.9h0M336.7 831.8h0M364.5 846.4h0M355.1 845.5h0M353.8 839.1h0M327.9 850.5h0M354.2 839.2h0M341.4 844.6h0M337.5 853.3h0M351.9 839.5h0M339.3 847.3h0M351.6 848.4h0M337.1 844.7h0M351.8 841.5h0M350.3 843.6h0M337.9 841.5h0M336.9 851.5h0M339.5 847.7h0M340.9 846.9h0M340.2 837.8h0M363.7 844.7h0M349.9 846.1h0M342.6 852.1h0M342.7 851.6h0M338.1 844.7h0M348.5 841.7h0M345.2 842.3h0M339.3 842.7h0M339.1 849.4h0M341.9 842.6h0M335.6 838.8h0M346.9 851.6h0M337 834h0M350.9 844.6h0M342.6 848.9h0M350.9 840.1h0M340.2 854.1h0M327.9 865.1h0M333.2 850.5h0M343.1 843.8h0M349.6 845.6h0M349.8 843.5h0M350.9 847.3h0M352.5 842.7h0M349.5 841.6h0M350.2 844.4h0M343.8 846.3h0M351.3 845.8h0M345 849.2h0M345.3 835.5h0M347.8 846.1h0M368 843.4h0M332 854.2h0M341.5 846.8h0M343.5 845.7h0M350.1 845.8h0M346.2 844.4h0M361.8 845.9h0M331.2 845.5h0M363.5 845.2h0M334.1 848.7h0M339.3 838.3h0M351.5 843.2h0M347 847h0M346 842.9h0M346.9 842.2h0M349.9 845.8h0M355.4 847h0M350.1 847.6h0M334.2 833.9h0M339.2 850.5h0M359.3 845.9h0M364.6 845.3h0M355.2 846.8h0M356.5 845h0M349.2 845.1h0M366 844.2h0M340.7 847.1h0M343 841.2h0M338.8 843.9h0M361.2 841.8h0M341.2 839.8h0M351.1 844.9h0M333 853h0M332.2 846.2h0M355.7 847.5h0M353 841.2h0M354.4 845.5h0M348.2 846.8h0M343.5 849.8h0M342.4 848.8h0M335.7 839h0M342.6 847.3h0M359.1 842.5h0M344.8 845.5h0M333.7 845.7h0M344 853.8h0M336.9 845.3h0M335.3 851.2h0M345.2 842.5h0M338.9 844.3h0M334.2 851.1h0M360.8 842.9h0M362.7 847h0M347.6 843.7h0M360.3 845.8h0M341.8 846.3h0M345.9 849.4h0M358.7 842.4h0M349 843.6h0M354 848.7h0M319.8 853h0M348.9 843.4h0M342.1 846.7h0M345.1 844.8h0M331.6 843.1h0M338.7 845.9h0M351.8 848h0M351.6 840.6h0M353.4 842.6h0M354.2 843.7h0M356.5 846.1h0M349.7 844.1h0M343.7 851.9h0M340.5 843.8h0M342 849.7h0M336.7 841h0M336.5 850.4h0M345.1 850h0M324.2 852.3h0M334.2 847.2h0M338.3 857.2h0M351 842.2h0M356.3 844.8h0M349.1 838.1h0M345.6 846.7h0M341.3 851.7h0M356.6 843.4h0M352.8 846.5h0M339.7 845.8h0M345.8 845.4h0M350 843.7h0M354.8 845.2h0M342.9 843.3h0M360.4 846.9h0M357.3 845h0M342.1 847.7h0M344.3 843.6h0M337.3 843.4h0M337.6 839.1h0M349.2 849.4h0M359.9 844.4h0M360 846.2h0M348.2 844h0M342.8 849.6h0M340.2 841.8h0M350.6 845h0M342.1 845.2h0M353.3 840.6h0M345.4 842h0M349.3 845.6h0M341.6 841.1h0M365.9 846.2h0M357.5 844.8h0M347.4 843.6h0M338.2 834.7h0M352 839.5h0M353.8 844.2h0M335.8 842h0M347.4 850.7h0M366.2 845.9h0M348.4 849.1h0M342.9 837.9h0M352.4 845.1h0M364.1 847.1h0M342.5 843.9h0M342.6 838.9h0M344.5 844.5h0M347.5 846.1h0M358.2 843h0M350 844.1h0M325.7 846.6h0M351 849.4h0M350.7 845.7h0M353 845.6h0M349.5 842.5h0M345.7 845.9h0M351.8 845.7h0M340.4 843.4h0M330.8 840h0M343.7 836.9h0M336.4 851.8h0M362.9 846.7h0M345.7 838.3h0M361.7 845.3h0M333.9 849.9h0M335.1 843.2h0M350.7 840.5h0M330.3 843.1h0M340.5 844.5h0M328 842.8h0M350.5 846.4h0M330 851.9h0M345.2 837h0M329.5 849h0M351 845.1h0M356.6 842.4h0M347.5 849.1h0M336.9 849.3h0M350.4 842.3h0M355.6 845.3h0M353.6 844.4h0M358.3 844.7h0M364.4 840.8h0M348.4 847.5h0M343.8 848.6h0M340.2 841.5h0M346.1 841h0M344 846.4h0M341.2 846.7h0M349.5 851.7h0M365.1 847.1h0M338.6 845.9h0M341.5 845.2h0M342.8 845.8h0M336.3 844.3h0M356.2 844.4h0M344.6 838.1h0M351.8 846.1h0M330.7 838.7h0M351.4 848.2h0M344.8 845.8h0M332.1 848.1h0M354.2 846.7h0M355 845.5h0M348.2 842.5h0M350.5 846.6h0M336.9 854.9h0M355.8 843h0M343.8 837.1h0M350.6 843.4h0M351.7 845.1h0M350.6 845.7h0M339 842.6h0M348.7 838h0M347.4 842.8h0M357.3 846.6h0M338.8 841.4h0M355.2 847.2h0M350.6 841.4h0M346.6 845.3h0M364.1 843.7h0M353.8 845.7h0M340.8 855.4h0M348.9 844.2h0M338.9 847.9h0M334.9 844.4h0M341.2 839.3h0M341.4 851.2h0M362.4 846.7h0M353.7 848.1h0M322.9 845.6h0M344.5 843.9h0M339.3 845.1h0M344.7 843.5h0M347.7 842.1h0M346.4 840.8h0M350.1 852.2h0M338.5 852.2h0M359.5 845.2h0M344.7 848.7h0M357.8 843.7h0M345.1 840.2h0M350.7 847.9h0M336.8 845.3h0M356.6 845.6h0M348.8 841.8h0M342.1 847.6h0M349.6 845.7h0M350.5 842.9h0M331.2 845.8h0M338.8 848.7h0M336.4 836.8h0M353.9 847.4h0M347.7 847.7h0M339.6 835.5h0M339.2 845.3h0M345.6 841.6h0M323.9 852.6h0M344.3 853.8h0M360.9 843.4h0M332.5 845.9h0M334.5 851.7h0M335.1 844h0M350.2 845.7h0M338.7 845.4h0M363.8 843.5h0M344 848.4h0M341.2 841.5h0M335.4 847.6h0M352.5 843.3h0M356.2 842.8h0M347.6 839.3h0M358.4 842.8h0M357.8 847.6h0M349.4 849.1h0M346.6 840.9h0M340.7 848.4h0M348.1 847.1h0M342.7 847.8h0M360.2 840.2h0M353.3 849.3h0M344.5 845.2h0M342.4 844.8h0M350.1 843.6h0M356.1 846h0M348.8 846h0M355.9 844.7h0M341.9 844.2h0M348.3 846.1h0M352.4 844.8h0M348.1 843.6h0M349.9 848.8h0M356 847.2h0M346.3 839.8h0M355.9 844.8h0M341.4 839.2h0M351.1 847.4h0M342.3 841.7h0M342.8 849.5h0M352.2 843h0M358.7 844.9h0M345.4 840.7h0M347.5 848.3h0M359.3 843.4h0M339 848h0M355.4 847h0M335.6 842.1h0M328.7 852.7h0M350.1 843.7h0M344 845.7h0M341.9 843h0M323.8 844.1h0M350.2 844.9h0M342.3 846.3h0M335.4 848.3h0M345.6 848.7h0M335.2 841.5h0M339.2 846.4h0M338.8 836.6h0M355.9 842.9h0M345.5 846.9h0M358.8 844.2h0M338.7 839.1h0M335.1 849.6h0M363.3 848.9h0M333.2 839.5h0M358.1 846.6h0M335.9 854.3h0M353.3 844.8h0M339.4 847.1h0M360.9 843.8h0M365.3 842.3h0M356.4 841.7h0M349.9 843h0M343 842h0M354.1 847.8h0M366.7 842.6h0M342.2 841.9h0M335.7 849.3h0M363.7 845.8h0M344.5 849.3h0M353.7 845.5h0M348.5 846.6h0M349.3 845h0M344 852.8h0M345.4 840.6h0M330.7 845.5h0M341.3 847.9h0M338.4 845.9h0M357.9 847.2h0M343.7 843h0M347.8 845.7h0M330.7 849.9h0M347.5 844.6h0M361.3 846.5h0M348.4 845.5h0M355.2 846.4h0M343.8 839.1h0M340.9 842.7h0M356 844.5h0M342.5 842.9h0M336.7 840.8h0M345.8 838.6h0M343.1 844.9h0M356.8 843.9h0M353.7 843.8h0M333 839.9h0M351.6 843.4h0M334 848.9h0M348.5 844.3h0M352.2 847h0M341.8 847.9h0M341.7 846.3h0M354.1 847.1h0M343.9 839.6h0M336 847.5h0M362.4 843.3h0M355.2 844.2h0M351.3 846.4h0M350.1 842.3h0M356.6 851.2h0M347.7 848.6h0M354.4 841h0M350 844.9h0M340.4 847.2h0M357.1 843.6h0M348.6 849.2h0M339.3 853.5h0M342.8 848.1h0M324.1 855.9h0M331.1 848.7h0M333 847.5h0M353.6 845.7h0M353.2 846.3h0M357.8 848.4h0M350.8 845.9h0M363.3 849.1h0M342.4 848.2h0M339.4 836.9h0M337.7 843h0M348.4 848.9h0M340.3 844.3h0M337.7 845.6h0M341.3 847.7h0M347.9 849.9h0M334.1 844.3h0M346.2 844.3h0M346.1 842.3h0M362.3 844.3h0M347.7 838.4h0M333.9 844.8h0M348.7 856.8h0M348 849.4h0M334.1 843.7h0M317 854.8h0M353.4 842.2h0M344.4 852.3h0M339.2 848.5h0M344.5 847.8h0M358.4 846.7h0M362.8 842.5h0M341.7 848.2h0M360.7 844.3h0M345.7 848.1h0M346.2 840.3h0M345.2 841.8h0M345.5 837.3h0M344.7 849.2h0M339.5 845.6h0M346.3 843.2h0M336.4 846.4h0M351.5 847.7h0M339.9 853.5h0M350.8 844.5h0M344.9 844.4h0M328.9 845.6h0M357.3 845.2h0M348.9 846.5h0M345.4 847h0M342.8 857.3h0M363.2 844h0M343.7 845.4h0M355.2 844.7h0M348 849h0M333.3 850.5h0M352.9 846.7h0M331.4 845.7h0M350.3 847h0M349.9 843.5h0M348.2 844.2h0M338.8 843.4h0M359.3 844.4h0M362.9 845.3h0M337.2 849h0M342.3 848.8h0M361.5 848.4h0M341.8 854.3h0M355.1 846.8h0M336.6 839.8h0M339.9 847.3h0M348.4 846.4h0M350.3 845.3h0M332.1 847.8h0M335.9 852.9h0M350.8 848.6h0M358.2 842.1h0M350.9 846.3h0M349.4 841.6h0M350.1 842.8h0M334.3 848.1h0M349.7 840.4h0M354.5 844h0M351.6 850.7h0M334.8 849h0M336.8 843h0M356.7 848.6h0M332.7 844.6h0M335.7 840.3h0M361.1 845.8h0M337.3 844.1h0M338.9 846h0M352.1 843.9h0M353.5 843.9h0M344.3 846.5h0M332.2 859.5h0M341 849.1h0M347.5 846.9h0M337.1 839.2h0M336.6 845.4h0M357.9 849.4h0M351.1 844.1h0M353.4 847.3h0M354.5 846.1h0M336.3 841.8h0M350.6 843.1h0M357.4 839.7h0M352.4 842h0M334.9 845.2h0M331 839.9h0M338.2 843.6h0M351.2 848.5h0M344.2 846.1h0M348.6 841.6h0M333.8 840h0M353.9 843.9h0M338.9 837.8h0M356.7 844.2h0M345.7 841.2h0M317.4 849.2h0M344 848.5h0M337.5 843.3h0M337.8 840.4h0M344.4 842.9h0M356.2 843.9h0M354 841.3h0M359.3 845h0M345.9 842.2h0M328 846.7h0M340.5 845.4h0M337.2 840.8h0M339.3 835.5h0M371.4 845.7h0M353.6 847.8h0M336.6 839.2h0M357.3 842.1h0M343.1 843.6h0M333 846.7h0M357.1 844.8h0M341.3 845.8h0M347.1 850.3h0M367.9 844.7h0M336.2 839.6h0M355.9 846.3h0M342.9 838.9h0M335.2 855.8h0M343.5 841h0M347.6 850.7h0M347.7 846.8h0M331.2 851.1h0M353.9 847.6h0M337.7 833.9h0M348.8 845.2h0M347.9 839.4h0M340.6 835.5h0M351.6 843.7h0M339 846.7h0M336.8 846.9h0M332.3 850.7h0M328 842.7h0M339.2 839.2h0M324.9 850.8h0M342.4 848.8h0M340.7 845.4h0M361.6 841.9h0M334.7 846.4h0M356.8 841.9h0M349.4 849h0M348.7 843.6h0M339.8 837.5h0M337.9 849.3h0M342.7 847.5h0M345.3 841.3h0M351.3 845.7h0M340.9 842.7h0M360.8 843.9h0M361.9 842.8h0M322.2 831h0M347.1 848.4h0M344.7 844.8h0M336.4 839h0M320 838.7h0M329.2 840.1h0M344 847.8h0M352.4 843.3h0M350.1 847.7h0M350.7 840.6h0M343.7 846.3h0M355.6 851h0M350.4 853.7h0M356.7 843.7h0M344.6 837.9h0M339.6 843h0M331.2 841.3h0M360.7 844.8h0M340.3 845.2h0M335.9 846.9h0M325.4 857h0M351.3 845.3h0M332.7 841.7h0M346.6 846.7h0M348.6 844h0M359.6 843.6h0M339 853.4h0M327.3 843.6h0M354.2 845.8h0M348.4 841.3h0M339.8 842.3h0M345.6 843.5h0M364 848.8h0M346.5 842.1h0M339.6 849.2h0M345.2 848.5h0M351.5 846.2h0M349.4 843.5h0M349.2 846.8h0M349.1 838.6h0M334.7 835.1h0M351.7 846.7h0M355.9 844.9h0M352.3 847.5h0M345.3 850.5h0M345.2 849h0M347.8 842.2h0M346.5 845.7h0M330.1 849.8h0M344.7 847.6h0M358.1 847.6h0M342.9 846h0M340.9 843h0M351.9 840.7h0M346.9 843.4h0M339.4 846.9h0M347.8 847.9h0M362.5 839.8h0M363.7 845.9h0M347.6 845.3h0M344.6 852.2h0M357.6 845.8h0M350.6 846.5h0M351.4 844.7h0M345.6 840.4h0M333.7 841.1h0M332.3 850.6h0M345.4 851.3h0M335.7 846.2h0M353.9 844h0M355.2 846.8h0M360.4 846h0M347.3 844h0M365 847.2h0M358.5 843.9h0M350 847.6h0M353.6 840.5h0M341 845.3h0M316.1 850h0M356.5 845.8h0M351.1 848.3h0M362.6 844.7h0M351.1 849h0M344.7 841.8h0M341.7 845.8h0M340.5 851.7h0M348 843.2h0M329 842.8h0M335.6 852.4h0M354.3 844.1h0M326.7 846.7h0M331.3 843.4h0M340.6 852.1h0M342.3 840h0M346.9 847.4h0M354.4 844.4h0M349 840.4h0M351.9 845.5h0M340.6 842h0M346.4 840.5h0M339.4 850h0M345.1 847.8h0M351.7 844.4h0M351 842.5h0M328 849h0M335.2 837.3h0M365.3 843.2h0M326.5 845.5h0M346.8 847.2h0M334.9 835h0M344.1 847.9h0M340.5 841.8h0M346.8 853.5h0M335.5 844.6h0M356.2 844.9h0M367.1 845.6h0M322.6 837.7h0M338 842.1h0M331.5 852.9h0M347.3 841h0M359.6 845.2h0M359.5 842.1h0M358.8 845.7h0M348.3 845.8h0M340.8 842.7h0M357 846.9h0M340.3 843.1h0M338.6 846.1h0M346.8 848.9h0M334.3 840h0M344.3 842.5h0M337.1 851.3h0M347.1 842.1h0M355.4 842.4h0M340.8 842h0M350.7 847.6h0M355.4 845.9h0M338.7 847.5h0M345.5 842.2h0M342.7 851.9h0M363.6 844.6h0M341.3 843h0M347.3 852.3h0M332.6 837.8h0M337.2 842.7h0M351.9 850.1h0M343.4 846.9h0M353.3 843.1h0M346.8 848.6h0M371.3 849h0M343.9 848.9h0M355.3 846.5h0M339.3 843.9h0M342 842.5h0M331.5 850.5h0M371.5 849.3h0M326 849.3h0M347.3 847.8h0M342 845.4h0M353.9 842.2h0M341 850.6h0M364.4 842h0M357.2 844.4h0M351.4 842.2h0M351.2 851.9h0M356.6 845.5h0M350.6 843.2h0M361.8 846.2h0M355.1 845.5h0M346.2 846.9h0M350.9 846.4h0M348.7 846.9h0M358.2 843.4h0M344.4 848h0M347.9 847h0M334.7 837.9h0M353.4 845.3h0M349.3 846.6h0M340.5 833.6h0M363.4 849.9h0M347.2 843h0M335.9 844.5h0M358 840.4h0M345.2 843.7h0M317.2 852.1h0M350.3 845.8h0M346.8 848.7h0M347.7 839.1h0M344.9 844.6h0M339.1 844.1h0M348 846h0M330.6 841.1h0M345.1 848.9h0M355.2 844.9h0M356.4 846h0M342.1 843.5h0M365.4 845.5h0M349.8 844.2h0M342.6 839.6h0M348.4 845h0M340.3 842h0M355.2 846.1h0M337.8 848.5h0M340.1 846.1h0M335.8 847.3h0M339.1 844.4h0M344.1 846.4h0M364.7 845.9h0M349.2 848.6h0M358.2 843.8h0M347.3 847.5h0M355.9 846.1h0M336.8 839.4h0M336 834.4h0M364.7 842.3h0M350.4 842.2h0M331.7 835.8h0M352.6 846.7h0M344.9 840.1h0M344.2 842.1h0M354.7 845h0M335 844h0M358.6 844.1h0M349.3 848.9h0M342.1 841.3h0M333.8 842.6h0M363.6 845h0M343.2 850.4h0M333.5 841.4h0M345.2 848h0M351.2 841.2h0M352.7 846h0M360.9 844.8h0M352 851.4h0M346.1 842.7h0M368.2 845.4h0M366 843.2h0M335.8 838.1h0M356.1 847.2h0M341 851.2h0M361.1 846.5h0M337.6 841.2h0M349.6 845.1h0M361.9 844.2h0M350 846.6h0M357.3 846.1h0M340 849.1h0M334.8 837.7h0M335.4 839.1h0M352.6 843.5h0M340.5 834.9h0M360.9 841.9h0M343.5 848h0M359.7 842.9h0M350.1 843.1h0M336.3 840h0M347.3 848.2h0M351.5 843.2h0M351.5 844.9h0M345.8 839.2h0M357.5 844.6h0M356 844.3h0M355.9 842.5h0M339.3 847.3h0M326.4 834.9h0M352.4 840.1h0M338.7 843.2h0M341.5 845.7h0M344.4 845.7h0M349.9 845.9h0M329.9 841.7h0M345.5 846.5h0M359.9 841.3h0M332.7 842.4h0M343.9 841.8h0M360.7 845.2h0M354.8 844.1h0M352.7 843.6h0M348.3 845.6h0M333 846.9h0M347.9 850.1h0M337.6 850.3h0M348 844.8h0M339.4 835.9h0M335.5 844.5h0M346.7 846.7h0M357 843.8h0M342 842.4h0M348.6 844.4h0M353.7 844.6h0M351.7 850h0M334.6 836.3h0M341.4 850.9h0M350.2 849h0M347 849h0M363.7 847.2h0M352.4 846.9h0M338.2 846.8h0M353.3 842.3h0M357.6 847.5h0M353 845.5h0M351.7 845.8h0M333.2 846.4h0M346.2 844.9h0M352.5 840h0M343 846.4h0M343.5 844.3h0M351.1 844.5h0M340.5 838.6h0M338.1 838.7h0M345.2 844.2h0M345.8 843.1h0M354.8 844.3h0M345 846.6h0M335.5 845.2h0M351.2 842.3h0M339 854.8h0M353.7 846.3h0M341.1 839.9h0M352.2 844.8h0M349.6 844.7h0M344.7 844.3h0M334.4 837.1h0M342.8 841.3h0M360.2 846.9h0M348.4 841.2h0M357.7 845.8h0M347.3 847.1h0M346.7 846.1h0M337.3 851.9h0M350.3 844.7h0M338.5 846.5h0M338.6 853.3h0M356.6 844.4h0M337 837.6h0M368.6 847.4h0M346.6 849.3h0M341.2 855.1h0M359.4 842.7h0M337.2 845.3h0M347.8 848h0M346.9 841.3h0M355.7 844.6h0M363.2 840h0M349.9 845.8h0M334.2 840.9h0M333.9 846h0M341.8 840h0M354.3 847.2h0M347.8 840.5h0M349.2 845.9h0M343.5 844.5h0M359.5 844.7h0M335.7 844.8h0M365 845.9h0M358 846.3h0M353.3 845.9h0M346.3 843.6h0M343.7 845.4h0M346.5 842h0M341.3 845h0M342.5 840.4h0M338.7 847.4h0M353.8 842.4h0M347.5 852.9h0M350.7 849.3h0M339.5 844.7h0M334.7 840.3h0M337.6 837.6h0M348.6 845.7h0M335.2 838.4h0M352.1 845.3h0M337.4 851.1h0M342.1 840.2h0M348.6 843.6h0M335 846.2h0M326.5 842.2h0M357.4 844.4h0M344.6 845.2h0M340.1 845.3h0M361.5 846.4h0M367 844h0M346.4 849.2h0M349.2 847.3h0M371.4 842.3h0M340.3 846.2h0M357.7 843h0M355.6 847.9h0M340.8 853.9h0M336.9 842.3h0M338.9 846h0M347.6 845.9h0M349.6 849h0M371.2 844.2h0M336.4 855.3h0M348.1 844.9h0M338.7 838h0M354.6 846h0M350.4 843.4h0M333.7 857.5h0M342.1 849.5h0M347 846.5h0M353.3 843.6h0M351.5 847h0M352.9 844.6h0M346.7 844.8h0M352.2 847.1h0M347.3 843.8h0M355.8 847.8h0M352.1 843.9h0M338.1 838.8h0M346.1 846.8h0M339.2 848.6h0M345.4 846.8h0M352 845h0M347.5 844.8h0M345.5 845.1h0M340.8 849.5h0M360.7 844.7h0M346.7 841.1h0M337.4 846.8h0M342.1 838.2h0M355.7 843.1h0M366 843.2h0M358.8 844.2h0M343.4 845.8h0M354.8 842.5h0M330.7 846.2h0M354.6 846.2h0M344.5 839.9h0M349.2 843h0M334.9 855.4h0M350.2 842h0M334.4 843.5h0M331 846.6h0M360.9 845.1h0M334.8 844.6h0M355.4 847.1h0M341.2 840.8h0M345.6 838.3h0M346.6 840.2h0M357.2 844.2h0M350.7 848.6h0M338.2 848h0M341.6 852.7h0M359.2 845.6h0M359.5 845.1h0M342 844.1h0M355.1 848.3h0M345.9 846.4h0M356.2 848.4h0M336.9 852.5h0M354.3 845.5h0M341.2 848h0M334.3 837.8h0M352.3 841.6h0M351.9 843.5h0M332.2 838.4h0M324.3 844.3h0M345.3 853.7h0M350.7 847.7h0M341.3 844.7h0M347.2 838.3h0M342.3 848.1h0M341 850.6h0M350 853.2h0M358 845.8h0M350.7 845.8h0M343.2 847.8h0M339.7 844.2h0M348.2 840.6h0M325.1 850.4h0M347.3 850.4h0M345.1 840.6h0M346 849.3h0M343.6 844.4h0M344.3 838.5h0M332.3 844.9h0M352.4 841.8h0M343.1 846.4h0M346.3 842.6h0M341.4 842.2h0M332 839.6h0M352.1 848h0M344 842.1h0M343.7 848.9h0M349.8 846.3h0M362.4 846.9h0M345.8 849.6h0M351.4 848.4h0M363.9 845.8h0M343.3 838.1h0M357.9 847.1h0M346.7 840.1h0M355.9 846.9h0M347.4 841.9h0M355.5 849.3h0M339.2 842.4h0M341.7 844.4h0M340.4 839.1h0M343.5 854.1h0M356.9 845.6h0M350.5 850.5h0M352.7 843.5h0M344.3 852.9h0M347.3 850.3h0M350.4 844h0M349.9 843.7h0M341.1 844.7h0M342.7 843.6h0M336.3 848.8h0M353.6 841.7h0M356.5 845.3h0M364.6 848.8h0M317 850.7h0M354.4 846.7h0M351.9 842.2h0M371.7 843.6h0M342 842.8h0M339 851.4h0M348.4 842.8h0M332.5 850.1h0M332.9 846.9h0M351.8 844.3h0M330.3 855.4h0M335.6 843h0M357.6 845.9h0M351.8 848.9h0M333.8 838.3h0M359.5 844.7h0M346.9 844.1h0M342.8 851.7h0M347.5 842.6h0M345.2 846.1h0M357.2 848h0M351.6 843.5h0M337.6 843.9h0M341 844h0M353.4 843.6h0M340.1 849h0M336.7 845.5h0M323.2 843.3h0M354 843.5h0M346 850.1h0M343.9 850.9h0M337.5 838.7h0M340.6 847h0M345.6 852.8h0M335.1 841.4h0M346.9 848.3h0M362.3 846h0M340.9 844.8h0M346.1 848.3h0M361.1 848.9h0M346.9 848.5h0M361 845.4h0M355.7 848.1h0M354.8 848.1h0M344.4 838.9h0M341.6 843.9h0M358.7 845.7h0M347.4 847.7h0M344.9 843.7h0M325 843.3h0M344.7 851.7h0M370 847.3h0M352.3 845.3h0M363.2 844.2h0M348.5 841.8h0M332.9 838.4h0M347.7 846.1h0M363.3 845.9h0M348.1 843.6h0M343.6 851.4h0M344.7 849.5h0M335.1 840.1h0M343 851.6h0M347.7 844.3h0M355.6 844.6h0M353.8 849.2h0M335.8 844.9h0M327.9 841.5h0M343 839.1h0M339.1 837.4h0M354.4 845h0M336.6 846.4h0M352.2 845.2h0M342.2 849.3h0M357.2 846.9h0M346.9 848.7h0M327.4 831.2h0M323.7 845.2h0M349.2 845.1h0M336.4 836.4h0M355.5 847h0M345.7 842.6h0M363.2 843.3h0M345.8 844.6h0M338.8 845.2h0M326.7 838.9h0M350.7 840h0M343.9 846.6h0M342.9 832.9h0M371.8 842h0M353.6 849.4h0M336.9 845.3h0M352.4 846.6h0M331.1 837h0M339.7 834.2h0M354.2 843.4h0M333.3 845.9h0M345.9 847.6h0M346.5 841h0M347.6 848.2h0M336.5 833.1h0M332.3 838.3h0M345.8 837.4h0M352 844.6h0M336.3 834.8h0M353.7 845.9h0M356.5 844.4h0M349 842.7h0M355.8 845.9h0M355.4 845.7h0M357.6 841.8h0M348.6 848.8h0M348.9 838.2h0M349.4 846.4h0M357.6 846.4h0M341.2 852h0M360.4 848.1h0M337.1 850.7h0M364.9 845.1h0M352.4 843.9h0M372.2 844.1h0M348.8 844.9h0M352.8 845.2h0M331.2 835.7h0M343.6 844.7h0M348.1 844.7h0M350.3 845.5h0M352.6 847h0M347.7 846.2h0M345.7 846.7h0M355.4 845.5h0M331.7 823.7h0M342 839.2h0M352.9 847.8h0M345.5 850.6h0M357.8 846.2h0M339.8 844.8h0M342.6 843.5h0M352.3 844.8h0M363.4 848.5h0M333.8 855.5h0M329.8 848.5h0M334.7 849.6h0M334.3 858.2h0M348.8 849.9h0M355.2 844.9h0M346.1 850h0M348.5 847h0M352.3 844.3h0M349.9 841.3h0M349.1 848.2h0M348.5 845.1h0M357.2 845.4h0M335.4 849.4h0M341.5 848.5h0M348.8 840.7h0M372.2 846.5h0M338 845.4h0M353.8 844.9h0M339.2 837h0M344.7 844.9h0M338.8 836.5h0M364.3 843h0M350 847.1h0M341.5 841.7h0M355.7 847h0M339.6 845.8h0M348.9 846.5h0M333.5 836.7h0M343.4 848.7h0M349.6 842.1h0M349.6 844.5h0M338.2 841h0M339 856.9h0M329.6 846.5h0M326 846.4h0M344.1 835h0M357.1 841.4h0M350.8 845.4h0M351.9 845h0M346.4 852.3h0M346.1 844.3h0M345.9 848.6h0M362.4 842.8h0M343.1 850.4h0M357.9 844.8h0M332.8 845.6h0M336 847.1h0M345.6 846.7h0M332 847.1h0M361.1 848.2h0M348.6 843.2h0M350.4 841.4h0M342 849.7h0M351.2 847.4h0M340.3 851.1h0M359.4 844.7h0M359.1 845h0M340.2 851.4h0M338.5 853.8h0M332.3 846.1h0M332.8 838.8h0M359 842.5h0M354.5 846.1h0M362.1 846h0M352.1 840.2h0M355.7 842.2h0M353.7 847.4h0M342.6 849.5h0M349.2 850.7h0M356.4 844.2h0M348.8 846.3h0M338.2 849.8h0M338 847.1h0M375.8 847.8h0M339.1 839.4h0M341.1 845.6h0M348 842.8h0M346.7 851.1h0M357.2 846.9h0M343.6 842.5h0M353.8 843.8h0M348.3 845.6h0M348.3 848.6h0M345.8 848h0M339.2 842.5h0M342.6 845.2h0M336.5 847h0M343.3 842.5h0M348.6 850.2h0M349.7 847.7h0M336.5 845.1h0M340.2 838.1h0M344.2 847.9h0M360 842.8h0M349.4 846.6h0M350.9 842.7h0M359.1 843.7h0M352.1 841.5h0M342.5 842.5h0M363.4 844.1h0M346.1 845.8h0M358.7 842.8h0M351.3 841.9h0M353.5 846.1h0M359.8 848.6h0M343.1 840.6h0M333.7 842.9h0M350.3 846.7h0M346.8 847.8h0M344.7 844.5h0M347.3 847.2h0M332.2 841.6h0M347 846.1h0M344.3 843.6h0M349.9 853.8h0M346.1 848h0M343.5 851.8h0M353.1 847.4h0M357.2 844.4h0M346 845.4h0M338.6 842.9h0M340.2 848.2h0M358.2 848h0M330.7 843.2h0M346.9 847.8h0M348.9 843.3h0M350.7 842.9h0M327 841.6h0M348.1 852.1h0M325.1 842.9h0M340.4 850.5h0M336.1 840.4h0M326 847.8h0M361.5 844.7h0M341.3 841.3h0M329.2 845.3h0M333.7 836.9h0M343 850.5h0M351 847.7h0M344.5 835.4h0M332.9 840.4h0M359.4 841.8h0M347.9 843.6h0M360.3 846.2h0M358.1 842.3h0M348 840.5h0M358.1 844.5h0M344.3 847.5h0M355.3 843.8h0M329.8 836.3h0M327.9 852h0M334.8 847.3h0M350.3 846.7h0M346.7 842.7h0M338.4 837.1h0M339.7 848.4h0M340 842.7h0M346.6 838.7h0M355.7 846.5h0M354.8 842.4h0M343.6 848.8h0M345.2 849.3h0M351.1 845.8h0M335.2 839.5h0M345.6 845h0M351.1 847.7h0M349.9 849.6h0M341.3 842h0M337.8 835h0M337 836.5h0M359.2 845.1h0M346 847.9h0M334 842.6h0M326.5 852.8h0M345.9 848.5h0M360.2 846.7h0M343.2 842.9h0M337.3 835h0M353.5 847.1h0M342.7 849.1h0M344.4 840.3h0M348.5 847.9h0M342.7 839.4h0M352.3 846.6h0M353.6 848h0M344.9 844.7h0M340.5 848.8h0M348.8 849.9h0M321.5 854.3h0M341.7 847.2h0M340.4 842.2h0M352.7 841.6h0M335.5 849h0M356 845.5h0M344.4 843.6h0M349.7 840.8h0M358.2 845.1h0M347.3 849.4h0M340 839.9h0M348.5 848.5h0M348.7 844.6h0M364.3 844h0M345.3 840.4h0M354.7 846.2h0M358.6 846.5h0M356.5 846.3h0M343.8 848.7h0M334.9 831.9h0M356.1 845h0M362.4 844.5h0M352.5 847.6h0M357.5 844.6h0M347.8 843.5h0M354.5 845h0M359.2 842.3h0M346.7 845.8h0M358.4 842.6h0M346.4 846.3h0M338 849.6h0M350.4 844.2h0M345.2 852.5h0M351.1 849h0M352.2 845.5h0M345.1 848.5h0M350.7 845.9h0M342.5 842h0M354.5 842.9h0M338 841.3h0M333.7 841.1h0M356.5 847h0M327.8 847.6h0M344.1 848.7h0M344.6 849.9h0M354.5 847.9h0M344.2 837.7h0M344.2 848.6h0M328.9 844.1h0M355.5 843.7h0M336.1 843.1h0M345.9 847.8h0M338.5 844.3h0M356.8 848.2h0M337.1 851.6h0M333 846.4h0M358.4 843.7h0M339.7 840.3h0M348.1 842.7h0M349.9 844.4h0M331.5 842.3h0M355.5 842.1h0M336 850.1h0M346.5 847h0M350.1 848.5h0M345.1 848.3h0M337.4 848.6h0M354.8 844.4h0M337.4 849.9h0M333.3 842h0M357.2 846.6h0M357.7 842.8h0M327.9 838.4h0M343.8 847.8h0M345.8 847.2h0M318.7 846.1h0M340.4 842.9h0M356.8 845.6h0M336.2 841h0M358.4 847.4h0M364.8 847.3h0M344.4 841.8h0M338.8 841.8h0M346.5 844.5h0M332 849.2h0M358.2 846.3h0M350.7 845.1h0M332.3 850.5h0M338.3 846h0M342.8 845.4h0M356.4 840.8h0M353.9 845.9h0M339.7 848.4h0M347.6 847h0M341.6 839.7h0M350.5 849.8h0M343.3 842.2h0M366.2 844.3h0M350.4 843.7h0M343.4 840.1h0M335.7 849.7h0M332.4 840.6h0M352.9 847.6h0M353.9 843.2h0M361.1 844.9h0M336 838.8h0M353.2 846.2h0M334.1 852.3h0M352.5 844.8h0M351.4 845.8h0M348.2 846.5h0M343 841.8h0M341.3 842.9h0M342.4 847.1h0M327.3 841.7h0M352.4 843.4h0M335 836.9h0M347.5 843.2h0M345.4 846.3h0M352.9 849h0M346.7 841h0M346.2 849.5h0M348.9 848.3h0M355.6 845.4h0M342.3 846.5h0M337.6 852.8h0M346.4 853.4h0M345.1 843.4h0M353.3 845.1h0M350.1 844.5h0M347.8 836h0M357.2 845.6h0M349.2 843.9h0M352.4 842.3h0M342.6 839.9h0M360.9 844.5h0M352.8 848.8h0M337.5 843.7h0M338 844.1h0M363.6 844.3h0M348.8 850.7h0M363.3 841.8h0M369.3 845.8h0M348 846.1h0M349.6 838h0M354.5 839.8h0M338.1 845.8h0M329.3 840.7h0M364.7 848.2h0M339 845.9h0M345.5 846.4h0M361.2 849.2h0M347.6 840.4h0M355.9 849.3h0M350 837h0M334.6 853.4h0M339.6 857.3h0M347.8 845h0M337.6 839.1h0M356.3 849.2h0M350.4 844.9h0M331.7 844.9h0M351.5 847.6h0M341.9 845h0M343.8 845.7h0M353.7 845.6h0M328.8 847.7h0M337.7 848.8h0M349.3 844.1h0M332.5 841.1h0M359 847.4h0M315.1 856.1h0M356.8 841.4h0M353.6 846.2h0M340.1 849.4h0M347 851.5h0M339.2 839.8h0M364.4 844.4h0M346.1 848.5h0M351 841h0M349 841.6h0M332.8 854.8h0M327.5 849.3h0M347.8 844.2h0M359.9 844.2h0M352.4 842.7h0M344.5 854.2h0M350.4 848.7h0M342.8 843.5h0M358.6 844.3h0M352.1 843.3h0M349.3 847h0M366.6 843.1h0M340.6 845.8h0M337.3 843h0M343.9 841.4h0M341.1 845.9h0M340.6 842.1h0M352.2 849.6h0M351.3 843.1h0M329.5 846h0M339.6 844.6h0M341 847.9h0M328.2 865.9h0M352 843h0M347.1 842.9h0M350.5 840.3h0M339.6 853.6h0M340.1 853.6h0M348.2 844.7h0M346.5 847.4h0M341.4 846.8h0M350.5 840.9h0M339.1 841.5h0M354.7 843.8h0M349.7 841.5h0M340.1 851.4h0M333.4 847.3h0M348.5 843h0M356.3 846.7h0M346 840.9h0M359.4 846.6h0M353 841.7h0M358.2 849.3h0M331.5 840.3h0M339.5 846.4h0M346.8 846.8h0M348.1 841.7h0M344.4 841.1h0M341.9 847.8h0M324.9 853h0M356.6 843h0M353.1 844.2h0M341.2 835.5h0M346.2 842.7h0M339.7 842.5h0M355.5 844.9h0M343.5 849.5h0M357 845.5h0M340.9 836.9h0M337 844.3h0M330 851.8h0M349.9 845.3h0M339.7 841.9h0M351.1 846.4h0M356.1 846.7h0M348.9 847.8h0M360.3 844.2h0M342 843.8h0M338.1 838.4h0M348.6 841.5h0M344.4 841.4h0M361.1 848.5h0M329.1 845.2h0M335.3 842.7h0M358.3 844.8h0M338.2 842.1h0M343.6 847.6h0M341 846.4h0M345.3 843.7h0M365.8 842.8h0M356.2 842.9h0M345.9 841.5h0M364.2 846.1h0M336.7 835.4h0M347.6 841.1h0M364.3 844.1h0M333.7 839.8h0M336.9 847.1h0M336.8 850.5h0M342.4 854.6h0M353.4 842.8h0M360.4 844.2h0M356.9 845.6h0M358.6 844.6h0M349.4 849.5h0M340.8 838.2h0M337.2 836.8h0M346 847.6h0M337.2 848.3h0M334.2 851.9h0M351.1 844.9h0M337.6 855h0M342.9 848.7h0M365.8 846h0M350.5 843h0M350.8 846.2h0M343.5 838.4h0M337.1 837.6h0M351.3 843.3h0M341.9 846h0M344.2 841.9h0M339.8 841h0M349.5 838.7h0M348.1 848.5h0M324.7 840.1h0M336.5 845h0M343.9 842.3h0M363.5 845.7h0M336.4 847.7h0M349.2 839.6h0M356.4 847.3h0M356.3 844.2h0M340.7 847.9h0M354.5 842h0M348.2 845.7h0M346.5 844.3h0M341 848.6h0M328.7 850.1h0M340.7 854.9h0M330.7 836h0M353.9 843.1h0M349.7 849.2h0M362.4 844.2h0M331.2 850.6h0M330.3 846.4h0M343.4 840.6h0M347.3 840.8h0M353.7 841.6h0M334.2 840.1h0M327.8 849.1h0M335.5 849.9h0M377.5 843.4h0M335.4 846.1h0M339 845.2h0M353.1 850.6h0M350.7 851.3h0M340.8 848.3h0M315.3 829.2h0M350.9 849.2h0M339.7 842.2h0M357.6 841.4h0M345.6 846.8h0M350.5 847.2h0M326.7 846.2h0M346 839.8h0M344.5 845.7h0M340.9 847.4h0M349.3 846.5h0M350.9 844.3h0M341.2 834.4h0M351.5 846.7h0M360 846.5h0M350.7 841h0M344.2 847.5h0M348.5 846.9h0M343.8 845.2h0M348.4 845.6h0M353.5 847.2h0M342.5 847.3h0M352.3 847.4h0M361.8 842.2h0M343.8 847.1h0M338.6 842.1h0M342 848.7h0M352.3 847.1h0M349.7 847.2h0M340.2 841.9h0M320.9 845.1h0M350.6 841.7h0M350.1 838.7h0M349.9 842h0M339.2 846.4h0M324.5 845.4h0M342.2 846.1h0M338.5 853.1h0M351.4 844.7h0M360.7 849.6h0M354.3 843.4h0M343.2 842.6h0M353.7 845.3h0M341 842.6h0M353.4 848.2h0M347 847.9h0M341.5 845h0M350 845.9h0M347.8 850.9h0M359.7 843.1h0M345.8 847.5h0M345.1 847.3h0M360 846.4h0M350.1 845.9h0M348.8 849.4h0M366.1 844.2h0M323.3 840.2h0M332.7 842.9h0M341.2 845.1h0M359.8 844.6h0M362.1 844.3h0M350.6 843.6h0M341.8 841.1h0M334.6 839.3h0M353.5 840.8h0M351.9 844.2h0M342.8 854.6h0M358.4 848.5h0M364.5 844.1h0M339.9 849.5h0M351.6 843.3h0M336.2 840.9h0M350.8 842.9h0M336.3 852.8h0M349.1 846.1h0M366.8 843.8h0M342.8 846.7h0M362.6 845.2h0M361.4 846.4h0M360 844.3h0M344.6 841.9h0M334.6 849h0M348.7 838.1h0M354.3 845.3h0M342.8 844.5h0M339.6 845.7h0M336 838h0M376.9 844h0M328.1 846.6h0M355.5 848h0M343 845h0M359 849h0M359.9 844.7h0M337.8 855.7h0M346.9 841.6h0M344.5 844.4h0M353 846h0M346.3 837.5h0M355.3 842.6h0M352.3 847.2h0M341.9 846.2h0M357.8 842.8h0M352.2 844.2h0M352.6 845.5h0M343.5 852.1h0M354.5 843.4h0M343.7 838.8h0M360.1 848.1h0M351.6 844.5h0M325.5 843.3h0M353.6 838.7h0M352.7 845.6h0M348 840.1h0M355.4 842.2h0M333.2 841.3h0M350.9 846.8h0M340.2 841.9h0M349.6 841.8h0M340.6 839.1h0M335.1 850.7h0M344.2 850.5h0M331.2 835.9h0M347.7 843.9h0M354.3 848.4h0M359.7 845.9h0M351.2 846.2h0M342.8 847.3h0M345.5 850.7h0M346.2 848.1h0M359.2 845.4h0M338.2 843.4h0M342.3 840h0M327.4 856.5h0M359.2 846.1h0M335.7 852.1h0M335 839.4h0M328.5 844.9h0M349.6 846h0M344.4 846.3h0M343.5 841.2h0M333.6 842.8h0M341.7 847h0M358 844.7h0M332.1 832h0M347.9 849.2h0M359.6 845.2h0M335.8 849.4h0M352.8 846h0M353 846.7h0M339.1 841.3h0M345.7 845.4h0M352.9 839.7h0M354.9 845.6h0M340.9 850.6h0M332.5 845.4h0M348.1 841.4h0M348.1 847.4h0M353 842.1h0M359.8 847.1h0M357.3 845.4h0M355.1 842.7h0M343.7 847.7h0M358.8 844.4h0M357.9 843.5h0M343.4 843.1h0M342.1 836.5h0M333.7 848.7h0M342.2 839.6h0M347 845.8h0M344.6 843.3h0M352.6 844.1h0M347.3 844.1h0M338.6 839.6h0M358.7 845.4h0M330.7 849.7h0M356.7 840.6h0M347.5 844h0M349.6 842.3h0M340.6 851.3h0M348.2 843.4h0M362.4 843.7h0M340.9 845.9h0M350 845.7h0M348.2 846.4h0M317.6 850.9h0M341.4 839.2h0M349.8 847.8h0M340.4 839.1h0M345 847.7h0M335.2 835.7h0M362.4 847.3h0M349.7 847.3h0M344.9 846.3h0M339.6 843.7h0M355.8 844.2h0M348 843.3h0M354.5 851h0M352.5 843.9h0M333.8 830.8h0M351.4 849.1h0M323.8 843.9h0M320.6 850.2h0M343.6 848.1h0M362.7 844.2h0M351.5 843.4h0M351.6 849.3h0M338 849.4h0M344.6 846.7h0M351.1 850h0M325.9 845.1h0M338.6 836.4h0M341.4 846.8h0M354.6 844.1h0M357.7 846h0M340.3 845.6h0M360.5 844.9h0M347.5 835.6h0M345.3 847.7h0M358.8 848.6h0M338.6 843.3h0M339.8 841h0M334.1 850.9h0M338.5 854.2h0M324.7 851.9h0M369.8 846.6h0M352.7 847.8h0M364.3 843.1h0M331.2 856.4h0M328.4 846.8h0M360 846.4h0M343.3 846.2h0M342.7 848.3h0M341.3 854h0M333 844.9h0M338.9 847.3h0M366.2 844.7h0M335.5 848.6h0M360 843.7h0M349.7 848.6h0M353.8 839h0M357.1 847.5h0M336.5 853.3h0M354.3 842.7h0M350.3 843.4h0M372.2 845.7h0M350.3 844.4h0M356 846.7h0M348.2 839.3h0M349.8 844.7h0M348.9 846.6h0M346 841.4h0M356.4 845.4h0M349.3 843h0M351.3 845.8h0M354.9 843.6h0M340 843.1h0M343.5 844h0M349.4 847.6h0M351.1 845.6h0M363.3 845.5h0M326.1 846.7h0M338.8 837.5h0M336.8 849h0M346.8 842.9h0M343.6 844.2h0M329.6 838.2h0M336.9 843.7h0M337 840.6h0M329 848.8h0M335.8 837.7h0M339.8 840.2h0M355.8 846h0M346.7 847.7h0M340.8 855.4h0M338.5 847.2h0M343.6 844.2h0M357.3 845.6h0M358.2 849.7h0M337.6 834.7h0M342.3 844h0M347.2 840h0M348.7 842.9h0M335.7 843.1h0M351.5 845.9h0M353.7 846.9h0M354.5 845.6h0M363.9 845.9h0M355.4 845.9h0M344.4 841.3h0M332.3 844.3h0M345.3 842h0M339.6 850h0M356.5 846.5h0M345.1 849.1h0M334 851.7h0M341.1 841.3h0M360.2 845.3h0M339.6 849.6h0M347.7 844.5h0M356 842.7h0M349.2 848.4h0M332.8 854h0M332.4 846.5h0M337.9 845.5h0M350.2 850.3h0M348.5 846.8h0M338.7 841.3h0M346 844.5h0M348.2 843.7h0M329.8 848.5h0M333.8 843.6h0M346.6 844.6h0M356.5 845.9h0M344 843.7h0M347.7 837h0M360.2 849.5h0M338.2 849h0M345.6 835.3h0M343.2 850.3h0M363.7 847.3h0M341 844.7h0M337.8 850.7h0M355.4 843.9h0M374.1 849.1h0M355.1 847.8h0M358.6 843.9h0M358.8 846.2h0M351.4 842h0M344.6 846.1h0M363.7 845.2h0M351.3 851.4h0M335.8 836.8h0M341.8 837.6h0M346.6 844.2h0M338.6 842.1h0M346.1 847.4h0M342.6 839.1h0M342.5 838.3h0M332.3 848.8h0M360.7 845.7h0M335.6 839.1h0M333.8 854.9h0M352.6 848.2h0M344.4 840.3h0M345 841.7h0M363.6 843.9h0M339.2 840.2h0M333.8 849.3h0M337.9 839.6h0M339.9 842.6h0M348.8 842.9h0M351.3 849.3h0M357.3 846.3h0M342.1 849.4h0M350.9 847.5h0M336.9 840.6h0M341.5 842.4h0M347.4 845.1h0M335.1 854.5h0M362.5 844.4h0M341.9 845.8h0M337.3 848.6h0M337.2 848.4h0M348.3 848.4h0M362.4 844.4h0M333 849.7h0M347.4 846.2h0M337.5 848h0M353.9 842.2h0M340.8 842.9h0M324.6 843.3h0M334.7 857.3h0M343 847.7h0M342.8 848.6h0M360.5 845h0M349.9 836.8h0M335.9 845.9h0M353.5 843.9h0M344.6 845.7h0M365.7 843.3h0M343.2 843.5h0M339.7 839.4h0M348.8 841.3h0M363.1 845.5h0M342.2 840.1h0M360.7 850.3h0M346.7 842.8h0M348.4 850.2h0M358.5 843.9h0M356.7 842.7h0M351.8 847.6h0M364.2 846.7h0M341.6 848.1h0M322.4 839.3h0M353 849.8h0M348.2 846.3h0M344 840.7h0M357.7 848.1h0M324.8 843.3h0M343 850.1h0M358.5 844.2h0M348.9 849.9h0M358.1 847.6h0M348.5 844.9h0M334.3 842.7h0M334.3 842.6h0M347.6 844.3h0M333.2 844.8h0M361.3 845.3h0M337.4 839.3h0M328.5 842.7h0M343.1 841.3h0M350.8 849.4h0M344.8 839.5h0M343.7 852.8h0M341.2 846.6h0M328.4 837.6h0M347 847.5h0M353.3 847.4h0M336.1 844.4h0M350.5 840.7h0M329.1 836.7h0M347.5 850.5h0M335.5 843h0M353.7 846.4h0M331.6 853.4h0M333.9 850.1h0M342.3 850.9h0M345.1 849.2h0M342.5 851.5h0M352.3 842.5h0M345.4 845.9h0M342.5 841.9h0M361.5 844h0M354.7 848.6h0M347.9 842.8h0M349.1 849.6h0M327.9 852.3h0M333.4 844.1h0M366.2 846.2h0M331.1 848.5h0M355 843.6h0M349.7 845.2h0M341.7 860.2h0M370.3 841.9h0M343.1 835.4h0M360 843.9h0M339.3 840.6h0M348.6 844h0M348.9 848.2h0M347.8 844.9h0M356.8 844.7h0M348.5 843.9h0M333.3 842.6h0M347.6 846.5h0M328.8 840.2h0M359.2 841.3h0M355.2 842h0M354.4 843.9h0M343.6 848h0M350.6 847.6h0M324.3 844.9h0M339.6 850.6h0M347 844.8h0M323.3 844.4h0M347.2 842.3h0M341.6 839.4h0M348.4 843.5h0M339.9 843.4h0M358.7 844.3h0M344.9 847.6h0M357.2 844.1h0M354.1 841.5h0M333.6 840h0M325 845.9h0M342.3 843.9h0M348.6 842h0M348.9 842.3h0M341 840h0M367 848.4h0M344.6 841.7h0M360.3 843.9h0M329.2 844.4h0M350.5 844.4h0M344.4 848h0M356.1 846.1h0M370.2 845.6h0M339.3 849.4h0M340.2 847.7h0M344.7 843.7h0M342.9 845.3h0M345.7 850.5h0M346.3 836.5h0M340.3 858h0M346 842.9h0M343.7 847.9h0M358.8 844.6h0M340.1 842.5h0M353.8 844.2h0M351.7 844.7h0M347.5 845.6h0M356.8 842.3h0M327.4 851.7h0M349.9 841.1h0M338.7 847.7h0M323.3 843.3h0M342.1 842.3h0M348.9 845.2h0M326.3 852h0M348.5 846.2h0M336 844.6h0M337.5 851.5h0M360.5 844.9h0M357.3 847.5h0M352.3 847.2h0M349.7 844.1h0M336.9 850.7h0M363.7 843.3h0M356.6 844.8h0M352.8 848.5h0M359.9 847h0M348 842.2h0M346.5 838.7h0M353.6 842.3h0M353.9 848.4h0M362.1 843.2h0M342.3 837.2h0M363.7 842.2h0M347 843.6h0M356.3 843.1h0M349.5 843.3h0M328.6 847.3h0M344.6 847.6h0M344.5 852.1h0M342.3 842.1h0M370.6 847.5h0M342.3 842.1h0M351.7 840.6h0M352.8 844.2h0M341.9 846.5h0M332.2 846.4h0M336.9 838.9h0M361.2 847.5h0M338.8 836.5h0M349.3 847.3h0M348.9 846.9h0M335.3 836.1h0M353.9 849h0M351 847h0M333.1 840.7h0M336.6 841.6h0M341.6 843.4h0M356.3 845.2h0M338.9 849.1h0M326.5 845.4h0M363 847.6h0M335.5 845.4h0M339.9 847.5h0M339.7 845.3h0M326.1 840.1h0M358.5 848.7h0M355.5 844.6h0M356.3 845.3h0M348.2 848.4h0M377.3 843.3h0M332.2 848.9h0M346.8 845.5h0M342.8 848h0M322.9 866.2h0M337.8 843.3h0M343.4 846.5h0M344.3 837h0M342.1 846.4h0M345.2 850.6h0M347.5 840.4h0M343.2 847.5h0M358.2 846.5h0M345.1 846.8h0M359.3 841.5h0M360.3 841.6h0M347.7 846.8h0M337.6 844.9h0M350.1 841.1h0M359.1 846h0M323.8 842h0M343 845h0M369.6 841.1h0M343.9 838.6h0M338.8 845.8h0M338.5 849.2h0M340 844h0M341 845.4h0M332.9 853.2h0M347.2 845.2h0M346.1 841.4h0M332.2 847.5h0M358.1 845.2h0M356.6 846.8h0M340.5 845h0M343.2 844.5h0M349.9 844.3h0M346.1 851.2h0M351.6 847.1h0M356.9 847.9h0M361.6 845.9h0M356.4 847.7h0M344.4 841.7h0M342.8 848.5h0M331.1 845.2h0M347.4 837.3h0M362.4 846.3h0M352.2 844.9h0M339.9 843.6h0M349.5 843.5h0M342.2 845.2h0M346.9 842.7h0M340 846.7h0M362.4 843.8h0M324.8 843.4h0M335.8 838.1h0M352.2 842.6h0M324.5 844.4h0M341.7 844.8h0M333.3 849.2h0M349.2 842.8h0M346 844.4h0M345 851.7h0M345.8 839.8h0M343.7 851h0M364.9 847.5h0M342.5 843.7h0M335.6 853.3h0M346.5 844.2h0M330.7 844.8h0M335.2 845.8h0M355.8 848.6h0M347.6 845.1h0M344.8 853.6h0M356.9 842h0M336.7 850.8h0M327.4 849.8h0M356.1 842h0M343.3 840.9h0M370 846.5h0M330.3 854.8h0M346.6 840.6h0M340.4 846.2h0M348.2 847.3h0M345.1 839.9h0M342.4 846.8h0M361.2 842.9h0M356.7 849.3h0M349.8 846.9h0M352.6 841.2h0M349.5 842.1h0M328.6 845.3h0M337.7 847.7h0M349.5 841.6h0M348 839.7h0M363.3 847.2h0M338.8 853.2h0M344.7 845.5h0M346.5 844.1h0M348.5 845.7h0M358.5 848.3h0M337.7 848.6h0M356.4 844.2h0M350.1 849.1h0M331.7 838.8h0M333.1 846h0M345.1 843.7h0M363.7 845.2h0M349.9 844.5h0M352.2 850.8h0M349.4 847.8h0M334.2 846.6h0M339.7 845.2h0M330 844.6h0M354.6 842.8h0M341.9 849.7h0M358.7 848.2h0M345.2 852.6h0M331.6 851.4h0M341.9 846.3h0M356.1 844.8h0M342.9 845.5h0M346.7 848.1h0M330.7 840.7h0M342.2 846.4h0M353.4 844.7h0M345 848.6h0M348.2 842.7h0M348.8 846.4h0M338.2 838.6h0M346.7 843.9h0M345.3 844.9h0M339.2 846.3h0M363.6 845.5h0M362.2 846.5h0M359.4 842.9h0M345.5 846.6h0M330.9 853.3h0M353.8 846.7h0M339.5 840.4h0M354 844.7h0M342.4 844.9h0M339.3 851.1h0M327.4 840.5h0M349.2 845.8h0M352 846.1h0M352.6 844.6h0M355.5 846.5h0M329.8 850.8h0M347.8 852.2h0M355 842.2h0M356.8 843.9h0M330.3 832.4h0M349 837.4h0M356.7 844.2h0M353.1 846.6h0M337.4 846.3h0M355.6 847.8h0M349.1 847.3h0M360.7 845.3h0M339.6 848.8h0M347.9 845.4h0M346.6 846.4h0M353.1 845.4h0M332.3 855.9h0M345.5 842.6h0M333.4 849.1h0M344.1 845.9h0M340.5 839.4h0M345.6 851.2h0M354.1 843.5h0M349.8 844h0M351 845.3h0M350.4 846.4h0M344.9 846.1h0M339.9 847.5h0M349.4 843.2h0M328.9 848.1h0M348.3 846.4h0M341 847.2h0M338.9 837.6h0M346.8 838.4h0M347 842h0M335.3 842h0M345.8 848.7h0M351.3 843.7h0M339 843.1h0M352.9 849.1h0M331.9 844.1h0M337.5 847.3h0M352.9 847.4h0M343.3 845.6h0M340.5 837.2h0M350.8 842h0M353.2 847.2h0M345.4 848.9h0M349.5 843.7h0M346.6 853h0M340.5 842.1h0M348.4 852h0M343.3 844.7h0M325.7 838.4h0M340.9 846.4h0M350.8 837.7h0M346.3 843.1h0M345.6 846.4h0M339.8 849.2h0M331 850.8h0M336.1 844.3h0M332.6 834.9h0M330.8 850.6h0M350.2 847.3h0M341.1 841.8h0M333.7 846.7h0M350.3 848h0M353.4 848.1h0M331.3 849.5h0M352.1 846.1h0M333.5 839.9h0M370.5 842.8h0M348.9 846.3h0M326.2 855.6h0M357 845.2h0M336.2 841.8h0M350.1 846.1h0M362.5 847h0M355.1 848.6h0M330.2 841h0M347 844.6h0M339.7 841.8h0M348.1 841.8h0M342.7 838.6h0M344.5 837.4h0M360.8 845.2h0M339.8 849.5h0M357.6 843.6h0M336.5 843h0M343.7 842h0M331.3 849.2h0M357 845.1h0M346.6 845.2h0M332.7 845.8h0M346.9 843.5h0M342 846.1h0M341.4 849.6h0M340.5 852.3h0M352 843.8h0M339.5 856.6h0M355.6 838.3h0M351.8 843.2h0M355 846.5h0M356.6 846.2h0M350.2 841.5h0M339.1 849.3h0M354.5 846.2h0M332.3 852.2h0M339.5 841.7h0M356.9 843.4h0M328.6 842.4h0M337.5 846.3h0M333.1 847.8h0M349.5 849.2h0M336.1 849.4h0M347.8 852.4h0M346.4 849.1h0M364.9 845.8h0M366 842.9h0M338 836.5h0M339.5 834.9h0M345.4 845.6h0M342.3 847.4h0M342.7 847.3h0M344.4 838.8h0M354.6 840.7h0M359.1 845.6h0M332.4 845.8h0M351.6 842.5h0M347.4 848.5h0M336.5 856.8h0M345.4 849.8h0M341 845.3h0M347 848h0M346.9 848.9h0M329.6 844.6h0M341 851h0M348.2 840.3h0M339.9 849.8h0M316.2 847.4h0M358.5 847.9h0M344.4 840.9h0M351.9 840.7h0M339.7 848.2h0M337.4 846.7h0M355.4 842.6h0M346.9 840.2h0M341.3 841.1h0M349.4 848.2h0M342.9 848.6h0M348.3 848.5h0M354.2 843.9h0M346.3 845.2h0M341.7 849.9h0M352.5 841.9h0M357.5 850h0M348.3 843.6h0M346.3 849.2h0M346.4 847.1h0M339.9 848.4h0M352.5 840.8h0M342.1 852.6h0M342.5 849h0M349.8 841.4h0M360.1 846h0M357.2 843.9h0M335.8 838.8h0M359.7 845.9h0M353.6 844.9h0M347.4 841.2h0M355.3 845.7h0M348.8 845h0M364.3 846.5h0M339.1 842.1h0M360.3 843h0M341.9 845.2h0M343.4 841.4h0M354.4 847.6h0M327.2 850.4h0M354.6 847.8h0M358.6 843.8h0M329.8 836h0M339.9 843h0M356.1 844.9h0M336.7 846.2h0M333.3 844.7h0M363.2 847.1h0M342.2 846.9h0M361.7 846.2h0M356 846.3h0M349.7 848.6h0M338.4 842.8h0M356.6 843.6h0M350.9 844.8h0M340.6 832.8h0M338.9 840h0M342.7 849.5h0M335.1 852.7h0M341.3 845.4h0M350.6 844h0M337.4 842.7h0M342.5 854.3h0M343 842.1h0M344.6 843.7h0M339.4 844.1h0M350 841.7h0M357.4 844.2h0M333.6 851.5h0M340.7 844.3h0M344.5 851.6h0M357.2 844.5h0M344.6 845.7h0M340.9 843.7h0M354.4 843.7h0M344.3 851.7h0M335.7 841.2h0M348.3 846.9h0M347 841.1h0M339.9 850.4h0M329.8 837.9h0M340.7 848.4h0M349.7 843h0M349.2 845.3h0M331.5 847.2h0M334.8 853h0M354.6 847.1h0M328.3 850.6h0M354.3 847h0M352.2 847.4h0M365.2 844.2h0M330 852h0M353.9 846h0M340.1 853.8h0M346.2 847.4h0M335.9 842.3h0M354.7 844.5h0M351.2 849.9h0M334.8 849.8h0M331.9 855.5h0M349 848.6h0M341.4 843.2h0M347.8 840.6h0M347.7 849.2h0M349.4 842.3h0M346.6 847.6h0M341 839.3h0M355.6 847.7h0M353 841.7h0M345.6 843.3h0M349.6 844.4h0M345.9 844h0M344.9 844.8h0M341.2 850.3h0M359.1 843.3h0M340.9 847.8h0M359 846.2h0M352.3 846.3h0M351.5 848.2h0M352.7 851.2h0M350.2 841.8h0M333.9 844h0M331.6 843.5h0M338.6 840.1h0M340.2 841.6h0M345.5 846.5h0M344.3 848.9h0M349 846.9h0M329.5 834.3h0M346.9 840.2h0M338.4 845h0M338.7 845.4h0M338.6 843.5h0M345.1 844.1h0M336.3 846.1h0M351.9 845.3h0M352.1 848.5h0M338.3 844.5h0M338.3 843.5h0M344.9 848h0M356.6 847.6h0M351 845.9h0M338.4 833h0M344 849.2h0M333.2 846.6h0M340.4 853.8h0M334.5 843.9h0M350 844.4h0M342.4 846.7h0M344.2 845.2h0M329.6 823h0M340.3 840.4h0M340.9 851.6h0M355.3 844h0M328.6 849.5h0M335.7 838.7h0M335.5 848.9h0M348.8 845.6h0M339 840.5h0M356.2 847.5h0M359.8 845.6h0M326.4 846.7h0M357.2 843.1h0M351.7 846h0M352.7 840.5h0M350.2 848.4h0M342.7 844.3h0M340.5 849.6h0M339.7 844.3h0M336.9 851.9h0M348.1 842h0M344.6 843.6h0M347.1 850.8h0M346.8 841.8h0M329.4 836.7h0M344.7 848h0M338.2 843.4h0M336.8 846.6h0M344.8 849.7h0M353.5 844.1h0M343.2 850.8h0M348 848.8h0M360.4 848.5h0M352.1 843.1h0M351 844.5h0M339 852.6h0M354 850.1h0M342.7 842.8h0M360.4 847.6h0M364.7 844.1h0M339.5 844.2h0M348.8 843.1h0M347.9 845.8h0M360.8 843.4h0M334.1 858.9h0M357.7 845.5h0M356.9 846h0M347.6 845.1h0M352 842.9h0M345.8 842h0M349.8 842.6h0M345.1 842.8h0M333.5 837.3h0M341.3 844.3h0M341.7 840.6h0M352 843.4h0M342.6 843.5h0M351.1 847.4h0M356.5 845.5h0M343 847.8h0M351.5 841h0M334 854h0M347.9 844.6h0M356.2 846h0M355.7 844.7h0M380.1 846.2h0M341.7 849.2h0M347.7 845.7h0M347.3 845.6h0M340.3 847.9h0M346.2 849.6h0M334.7 853.3h0M343.7 848.5h0M374.9 846.1h0M339.4 843.6h0M355.4 847h0M359.2 847h0M360.3 848.6h0M352.7 847h0M349.4 839.6h0M354.9 842.7h0M356.1 848.5h0M332.2 846.6h0M360.6 845h0M347.6 840.4h0M355.7 844.6h0M356.2 844.5h0M350 846.2h0M335.3 838.6h0M330 853.9h0M354.9 846.2h0M340.1 843.5h0M332.2 851.4h0M341.1 848.3h0M345.9 851h0M360.9 844.4h0M335.7 845.3h0M350.4 842.8h0M347.4 846.2h0M341.7 851.1h0M336.2 840.6h0M359.6 843.8h0M344 844.2h0M348.8 840.6h0M343.6 851.9h0M363.3 847.9h0M349 844.9h0M341.7 853.9h0M354.6 846.2h0M347.5 840.1h0M336.5 854.6h0M331.7 841h0M340.2 836.2h0M340.7 846.3h0M330.8 851.9h0M325.7 833.9h0M346.7 847.1h0M346 837h0M351.1 842.7h0M333.8 856h0M345 842.8h0M345.9 851.5h0M341.7 841h0M336.7 847.8h0M345.2 844.9h0M340 845.4h0M339.1 842h0M341.5 845.4h0M335.8 836.2h0" stroke="#000" stroke-width="1" stroke-linecap="round" fill="none"/>
<path d="M321.2 870.7h0M326 832.6h0M320.5 831.2h0M313.4 832.2h0M328.5 830.9h0M326.1 830.4h0M332.2 858.5h0M325.2 862.9h0M318.4 823.6h0M330.2 823.7h0M330.5 818.2h0M328.4 818.1h0M315.3 829.7h0M323.5 861.6h0M316.5 868.5h0M327.8 817.8h0M326.6 819.5h0M320.6 820.8h0M325.2 867.5h0M316.2 825h0M320.4 826.5h0M323.4 862.2h0M333 826.7h0M324.6 832.3h0M320.5 826h0M333.4 860.6h0M313.9 822.3h0M318.7 824h0M328.7 868.8h0M319.7 821.2h0M318 863.1h0M320.4 829.8h0M316.7 831.1h0M331.8 868.3h0M329.5 865.2h0M314.8 832.9h0M319.6 827.1h0M317.4 821.8h0M321.1 875.2h0M329 828.1h0M332.6 828.7h0M324.4 820.3h0M318.4 872.9h0M330.9 862.3h0M331.9 872.2h0M314.8 829.3h0M327.3 817.7h0M315.2 866.7h0M322.8 820.8h0M327.3 832.2h0M324.2 823.8h0M331.6 870.4h0M323.8 826.8h0M314.1 821.8h0M326.5 860.4h0M332.6 818.9h0M328.2 867.4h0M320.7 863.1h0M318.2 820.5h0M323.7 820.1h0M321.9 826.5h0M331.1 827.2h0M327.3 833.3h0M327.9 820.3h0M330 830.5h0M331.2 820.6h0M326.4 820.7h0M331.2 863h0M318.8 826.6h0M328 821.7h0M316.3 868.7h0M330.8 830.6h0M324.2 832.4h0M319.5 831.2h0M330.8 825.8h0M332.3 859.7h0M326.9 859.1h0M325.7 827.8h0M326.4 820.8h0M323.8 832.2h0M327.4 865h0M330.7 860h0M313.1 818.9h0M312.8 825.3h0M314.9 827.1h0M314.9 869.8h0M317 832.3h0M320.5 830.5h0M333 826.6h0M321.3 822.7h0M332.6 868.3h0M319.3 863.9h0M313.1 862.7h0M330 867.9h0M316.2 827.4h0M325.2 865.3h0M317.7 819.2h0M332.1 831h0M327.8 819.5h0M325.9 870.7h0M321.9 831.2h0M327.7 831.5h0M330 818.2h0M328.1 820.6h0M314.5 829.4h0M327.7 820.9h0M327.1 871.8h0M314.5 820.2h0M318.9 830.9h0M328.5 862.9h0M330.7 863.5h0M318 822.9h0M333.4 826.1h0M328.3 863.2h0M315.8 828.2h0M327.2 828.1h0M317.9 824.4h0M330.9 863.3h0M313.5 868.1h0M315 819.7h0M321.4 831.7h0M317.3 824.1h0M316.6 822h0M332.5 822h0M319.8 820.2h0M317.2 861.3h0M314.6 822.3h0M327.4 817.8h0M328.6 862.7h0M329.3 820h0M321.8 868.1h0M326.6 870h0M324.8 817.9h0M324.6 820.5h0M332.9 832.9h0M323.4 821.2h0M314.2 868.1h0M315.6 861.5h0M327.5 825.1h0M321.6 828.4h0M319.1 862h0M314.9 859.8h0M325.2 827.1h0M328.9 829.3h0M323 823.8h0M314.4 873.5h0M331.4 862.2h0M314.1 818.6h0M313.9 831.2h0M325.2 829.4h0M320.6 859.7h0M321.8 826.7h0M317.4 829.5h0M328.7 859.8h0M320.2 832.2h0M319 858.7h0M323.9 823.5h0M315.6 832.5h0M333.6 821.3h0M328 861.5h0" stroke="#555" stroke-width="0.8" stroke-linecap="round" fill="none" opacity="0.7"/>
<path d="M369.2 843.8h0M367.4 843.7h0M370.6 846.7h0M366.4 844.7h0M370.7 840.9h0M383.3 846.1h0M381.7 845h0M370 839.8h0M381.6 845.7h0M370.2 840.1h0M370.5 843.3h0M384.1 848.5h0M382.9 847.9h0M381.2 842.9h0M382 852.6h0M366 840.7h0M368.9 847.9h0M369.1 847.4h0M376.8 842.5h0M368.7 843.4h0M382.9 839.1h0M381.1 846.9h0M381.7 845.1h0M373.1 843.5h0M373.9 844.8h0M375.9 849.3h0M383.3 847.3h0M383.2 842.8h0M372.5 848h0M380.8 845.1h0M371 846h0M382.8 849.4h0M382.8 844.9h0M377.8 844.1h0M379.5 852.8h0M367.3 847h0M372.5 841.9h0M381.3 847.8h0M371 840.8h0M375.2 841.4h0M366.7 850.9h0M377.5 846.8h0M374.4 845.7h0M380.7 848.8h0M366.4 839.8h0M377.8 844.5h0M367.4 847.3h0M364.4 848.7h0M371 846.5h0M367 846.5h0M378.6 847.8h0M382.6 847.5h0M376.4 838.9h0M378.9 844.8h0M365.7 847.5h0M380.5 842.5h0M371.9 842.1h0M378 845.1h0M380.6 846.1h0M366.6 846.5h0M381.5 847.6h0M381.6 842h0M379.7 836.8h0M382.3 850.7h0M374.8 846h0M379.4 842.5h0M366.2 847.4h0M376.2 847.9h0M376.6 850.5h0M372.8 851.5h0M384.5 841.3h0M399.7 841.7h0M389.3 845.3h0M402.3 840.2h0M393.6 844.5h0M385.6 838.4h0M392.3 841.7h0M394.8 847.4h0M385.2 845.7h0M387.8 844.5h0M396.4 839.1h0M388 849.1h0M405.8 845.8h0M404.7 847.9h0M389.8 847.5h0M399.2 839.9h0M388.8 837.6h0M389.5 844.9h0M405.3 848.3h0M394.4 849.6h0M386.9 840.5h0M384.7 841.5h0M405.9 846.5h0M389.9 845.3h0M390.6 846.3h0M387.1 840.4h0M402.4 845.2h0M386.3 844.4h0M392.7 846h0M406.8 848.6h0" stroke="#666" stroke-width="0.8" stroke-linecap="round" fill="none" opacity="0.6"/>
<path d="M337.6 832h0M356.7 834.9h0M360.6 836.2h0M344 838.8h0M350.7 831h0M341.6 837.3h0M339.5 831h0M344 835h0M348.6 836.7h0M338.5 837.2h0M347.4 838.7h0M338 837.2h0M347.3 830.5h0M354.7 830.7h0M344.2 832.8h0M362 838.3h0M343.6 832.5h0M366.1 838h0M359.3 831.9h0M349.1 832.5h0M355.8 833h0M358.2 837h0M362 839h0M356.1 837.4h0M355.2 835.7h0M338 834.6h0M337.6 838.6h0M338 838.3h0M341.5 835.4h0M349.4 838.5h0M361.8 836.9h0M340.5 836.9h0M342.9 838.2h0M351.6 836.8h0M343 833h0M362.6 834.3h0M357.4 838.7h0M348.3 832.4h0M345.6 833.9h0M361.7 837.3h0M349.2 835.6h0M357.6 839.2h0M356.7 831.3h0M351.5 836.9h0M355.6 835h0M338.8 833.1h0M337.6 838.2h0M363.8 837.2h0M343.7 838.3h0M356.3 835.4h0M360.4 838.6h0M351.4 836.1h0M339.6 833.7h0M362.8 830.8h0M339.9 836.7h0M364.6 830.7h0M355.1 834.8h0M340.9 839.1h0M362.6 837.5h0M348.4 836.3h0M337.1 831.9h0M362.4 834.4h0M352.9 832.3h0M337.2 833.6h0M346.7 837.1h0M346.4 833.7h0M366.1 832h0M338.1 834.9h0M362.1 838.3h0M359.4 833.9h0M345.4 831.9h0M360.4 838.8h0M362.1 834.7h0M337.8 831.5h0M341 837.1h0M361.6 834.7h0M354.1 831.8h0M344.2 834.8h0M363.6 834.1h0M347.7 834.3h0M344 837.1h0M345.5 830.5h0M337.9 838.4h0M347.4 835.4h0M353.8 833.5h0M354.5 835.1h0M345.1 831.8h0M355.6 839.1h0M344.9 838.5h0M344 837.1h0M337.7 830.5h0M358.3 835.3h0M364.6 834.2h0M354.6 836.6h0M343 838.9h0M337.2 832h0M357.9 830.6h0M341.5 837.3h0M359.8 839.1h0M351.5 833.1h0M354.1 838.3h0M346 831.1h0M362.2 831.4h0M364.5 833.2h0M346.1 836.8h0M361.8 837.7h0M336.4 835.2h0M357.6 835.8h0M336.4 836.6h0M363 837h0M341.3 835.4h0M354.6 830.9h0M351.5 839.3h0M349.5 834.6h0M338 837.9h0M349.1 831.8h0M345 836.2h0M356.9 833.7h0M361.5 836.1h0M354.8 838.8h0M333.2 817.1h0M332.6 818.4h0M322.5 818.4h0M322.2 820h0M337.1 822.9h0M339.6 824.4h0M342.9 816.7h0M341.8 823.1h0M337.6 820.7h0M332.6 828.7h0M338 818.7h0M328.2 817.4h0M334.6 826.3h0M345.5 819.4h0M325.2 821h0M331.3 820.9h0M330.9 822.3h0M338.3 818.1h0M332.8 800.9h0M327.3 809.7h0M333.8 817.6h0M340.4 817.6h0M364.1 822.5h0M341.9 826.5h0" stroke="#e3242b" stroke-width="1.3" stroke-linecap="round" fill="none"/>
<path d="M344 853.3h0M356.2 859.3h0M333 853.7h0M363.9 856.5h0M327.5 852.8h0M353.5 862.6h0M361.5 863.2h0M347.2 856.2h0M331.2 861.8h0M360.8 861.3h0M358.2 859.4h0M344.4 858.7h0M360.2 862.9h0M328.6 857.8h0M359.1 856.5h0M363.4 856.5h0M363.4 860.6h0M356.8 857.6h0M347.1 857.1h0M362 862.2h0M362.6 853h0M363.7 861.2h0M341 860.2h0M338.9 853.2h0M336.4 857.7h0M336.1 859.7h0M347.3 862.7h0M346.6 860.3h0M334.2 863.5h0M327.9 862.8h0M359.4 855h0M335.4 855.2h0M337.6 851.4h0M348.5 855.9h0M339.4 853h0M345.1 863h0M327.2 855.4h0M329.1 857h0M355.1 861.7h0M330.4 853.3h0M348.3 863.5h0M326.6 855.8h0M357.1 853.8h0M345.1 855.8h0M352.4 862.3h0M362.8 859.9h0M360 860.6h0M352.4 859.9h0M341 856.8h0M333.8 855.6h0M353.4 860h0M342.2 861.8h0M337 853.4h0M343.6 853.7h0M327.5 851.6h0M358.4 861.5h0M334.4 858.7h0M341.1 863.6h0M331.3 856.2h0M348.7 853.4h0M363.5 859.2h0M341.1 862.2h0M363.9 851.9h0M338.3 858.2h0M361.1 857.3h0M331.5 852.9h0M329.5 856.3h0M337.2 860.6h0M346.6 855.1h0M362 862.2h0M348 855.1h0M357.9 855.2h0M331.8 863.2h0M345.4 859.7h0M356.4 852.7h0M340.1 863.8h0M337.5 858.5h0M351.9 863.5h0M337.7 851.9h0M357.3 856.5h0M363 860.2h0M332.2 860.2h0M333.6 858.8h0M344.6 863.9h0M335.9 863.7h0M345.5 857.7h0M364 860.3h0M330.8 853.5h0M328.1 852.3h0M362.5 863.3h0M345.8 860.6h0M326.7 855.2h0M351.5 855.8h0M334.2 860.4h0M343.6 863.6h0M363 863.3h0M341.1 852.7h0M328.3 852.4h0M332.8 858.6h0M329.4 852.6h0M364.5 853.1h0M336.7 860.1h0M364.3 853.8h0M341.9 856.8h0M364 854h0M361.4 854.2h0M354.5 862.7h0M336.6 853.2h0M355.5 858h0M332.4 860.6h0M343.1 857.8h0M350.4 855.4h0M352.5 860.1h0M343.8 852.9h0M336.1 854.3h0M346.6 852.7h0M345.8 857.6h0M327.9 860.7h0M329.2 860h0M328.8 862.7h0M360.2 852.7h0M348.2 857.9h0M344.5 852.6h0M357.5 856.5h0M342.5 853.5h0M346.6 862.2h0M353.1 863.5h0M332.6 852.4h0M327 852.6h0M365.1 859.1h0M337.4 857h0M355.3 857.2h0M358.1 856.7h0M362.5 857.6h0M337.4 857.4h0M336.4 854.7h0M334.8 852.7h0M334.1 858.6h0M343.2 857h0M336.2 858.2h0M332.1 857.6h0M344 862.6h0M347.3 863.1h0M340.1 859.9h0M333.3 859.5h0M338.9 853.1h0M355.9 858.5h0M353.5 861.4h0M359.3 863.5h0M337.3 851.3h0M337.8 860.2h0M354 852.4h0M335.9 854.8h0M340.7 860.8h0M350.5 861.6h0M360.5 854.6h0M327.3 854.2h0M333.9 862.9h0M349.5 857.6h0M336.9 855.2h0M360.6 863.4h0M348 863.1h0M353.2 854.6h0M362.6 853.3h0M330.2 853.6h0M361.3 851.9h0M335.9 860h0M332.8 852.2h0M350.7 855.1h0M329 853.4h0M358 857.9h0M344.2 854.7h0M332 858.8h0M338.2 852.8h0M349.3 851.8h0M341.3 853.7h0M353.1 856.3h0M362.7 858.5h0M330.2 854.7h0M343.5 862.8h0M345.3 854.4h0M363.8 862h0M326.9 862.8h0M346.6 854.5h0M331.6 851.5h0M361.9 862.4h0M347.9 856.7h0M349.5 854.2h0M336.4 857h0M352.4 859.1h0M358.3 856.2h0M345.7 855.3h0M360.4 862.7h0M360.2 858.8h0M341.1 853.2h0M339.1 859.8h0M335.8 858.4h0M347.6 862.7h0M330.2 853.8h0M342.5 861.4h0M344.4 853.2h0M361.1 863.6h0M332.1 862.1h0M355.3 853.8h0M364.2 854.9h0M358 863.3h0M357.2 852.1h0M352.6 861.8h0M352.6 851.6h0M338.7 854h0M347.4 854.4h0M353.9 854.8h0M362.4 862.6h0M363.9 855.3h0M338.8 855.9h0M341.7 855.9h0M360.9 862h0M330.2 857.9h0M361.1 853.2h0M354.3 851.6h0M313.9 874.4h0M331.7 865.2h0M334.4 868.6h0M318.2 880.4h0M319.9 877.6h0M339.5 867.3h0M341.9 863.2h0M317.8 875.9h0M329.1 870.6h0M347.4 862.1h0M351.5 860h0M311.5 883h0M328.7 873.3h0M318.6 869.9h0M332.5 868.6h0M344.8 863h0M335.7 867h0M338.5 866h0M315.8 870.4h0M349.9 860.5h0M342.5 862.4h0M343.7 862.6h0M332 870h0M348.5 861.7h0M336.5 867.1h0M338.9 863.3h0M347.3 862h0M340 866.1h0M345.7 862h0M313.8 871.4h0M336.9 868h0M347.1 862h0M314.4 882.8h0M315.3 876.8h0M313.7 882.9h0M334.2 869.9h0M321.2 867.3h0M325.7 870.7h0M347.7 861.9h0M319 879.5h0M344 862.3h0M331.8 865.4h0M336.7 866h0M348.5 861.5h0M339.1 865.1h0M339.6 866.5h0M314.2 881.3h0M323.7 870h0M329.2 868.4h0M350 860.8h0M348.2 861.1h0M343.6 862.5h0M349.1 861.2h0M336.9 864.9h0M322.5 876.1h0M311.8 880.5h0M328.5 866.8h0M338.8 863.5h0M347.2 861.3h0M340.8 864.6h0" stroke="#2e62b8" stroke-width="1.3" stroke-linecap="round" fill="none"/>
<rect x="307.5" y="797.2" width="104.7" height="91" fill="none" stroke="#8a8a8a" stroke-width="0.9"/>
<line x1="305.9" y1="805.8" x2="307.5" y2="805.8" stroke="#8a8a8a" stroke-width="0.8"/>
<text x="304.4" y="808.41" font-size="7.3" text-anchor="end">4</text>
<line x1="305.9" y1="825.5" x2="307.5" y2="825.5" stroke="#8a8a8a" stroke-width="0.8"/>
<text x="304.4" y="828.11" font-size="7.3" text-anchor="end">2</text>
<line x1="305.9" y1="845.2" x2="307.5" y2="845.2" stroke="#8a8a8a" stroke-width="0.8"/>
<text x="304.4" y="847.81" font-size="7.3" text-anchor="end">0</text>
<line x1="305.9" y1="864.9" x2="307.5" y2="864.9" stroke="#8a8a8a" stroke-width="0.8"/>
<text x="304.4" y="867.51" font-size="7.3" text-anchor="end">&#8722;2</text>
<line x1="305.9" y1="884.6" x2="307.5" y2="884.6" stroke="#8a8a8a" stroke-width="0.8"/>
<text x="304.4" y="887.21" font-size="7.3" text-anchor="end">&#8722;4</text>
<line x1="328.8" y1="888.2" x2="328.8" y2="889.8" stroke="#8a8a8a" stroke-width="0.8"/>
<text x="328.8" y="898.01" font-size="7.3" text-anchor="middle">0</text>
<line x1="354" y1="888.2" x2="354" y2="889.8" stroke="#8a8a8a" stroke-width="0.8"/>
<text x="354" y="898.01" font-size="7.3" text-anchor="middle">5</text>
<line x1="379.2" y1="888.2" x2="379.2" y2="889.8" stroke="#8a8a8a" stroke-width="0.8"/>
<text x="379.2" y="898.01" font-size="7.3" text-anchor="middle">10</text>
<line x1="404.4" y1="888.2" x2="404.4" y2="889.8" stroke="#8a8a8a" stroke-width="0.8"/>
<text x="404.4" y="898.01" font-size="7.3" text-anchor="middle">15</text>
<text x="358" y="906.92" font-size="7.6" text-anchor="middle">Average log expression</text>
<text transform="translate(290.72 846) rotate(-90)" font-size="7.6" text-anchor="middle">Log fold change</text>
<circle cx="422.3" cy="827.9" r="1.1" fill="#e8323c"/>
<text x="427.8" y="830.62" font-size="7.6" fill="#e8323c" style="stroke:#e8323c;stroke-width:0.2px">109 up</text>
<circle cx="422.3" cy="838.1" r="1.1" fill="#3b7dc4"/>
<text x="427.8" y="840.82" font-size="7.6" fill="#3b7dc4" style="stroke:#3b7dc4;stroke-width:0.2px">232 down</text>
<circle cx="422.3" cy="848.6" r="1.1" fill="#000"/>
<text x="427.8" y="851.32" font-size="7.6">18,443 no sig</text>
</svg>
</body></html>
